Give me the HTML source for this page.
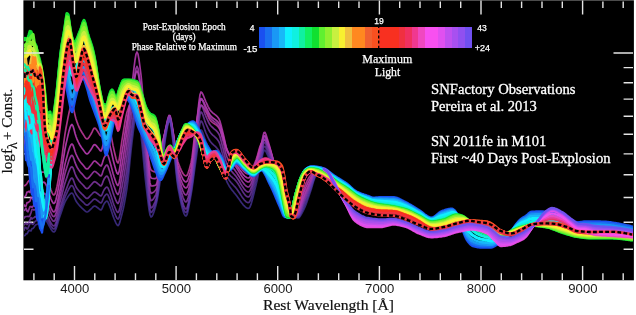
<!DOCTYPE html>
<html><head><meta charset="utf-8"><title>SN 2011fe spectra</title>
<style>html,body{margin:0;padding:0;background:#fff}svg{display:block}</style></head>
<body>
<svg width="636" height="315" viewBox="0 0 636 315">
<rect x="0" y="0" width="636" height="315" fill="#fff"/>
<rect x="23.4" y="0.3" width="610.5" height="280" fill="#000"/>
<path d="M33.9,1.5V8M33.9,273.3V280M54.2,1.5V8M54.2,273.3V280M74.5,0.5V14.5M74.5,266V280M94.8,1.5V8M94.8,273.3V280M115.1,1.5V8M115.1,273.3V280M135.5,1.5V8M135.5,273.3V280M155.8,1.5V8M155.8,273.3V280M176.1,0.5V14.5M176.1,266V280M196.4,1.5V8M196.4,273.3V280M216.8,1.5V8M216.8,273.3V280M237.1,1.5V8M237.1,273.3V280M257.4,1.5V8M257.4,273.3V280M277.7,0.5V14.5M277.7,266V280M298.1,1.5V8M298.1,273.3V280M318.4,1.5V8M318.4,273.3V280M338.7,1.5V8M338.7,273.3V280M359.0,1.5V8M359.0,273.3V280M379.4,0.5V14.5M379.4,266V280M399.7,1.5V8M399.7,273.3V280M420.0,1.5V8M420.0,273.3V280M440.3,1.5V8M440.3,273.3V280M460.7,1.5V8M460.7,273.3V280M481.0,0.5V14.5M481.0,266V280M501.3,1.5V8M501.3,273.3V280M521.6,1.5V8M521.6,273.3V280M542.0,1.5V8M542.0,273.3V280M562.3,1.5V8M562.3,273.3V280M582.6,0.5V14.5M582.6,266V280M602.9,1.5V8M602.9,273.3V280M623.2,1.5V8M623.2,273.3V280M24,53H43.5M613.5,53H633M24,67.6H33.5M623.6,67.6H633M24,82.8H33.5M623.6,82.8H633M24,99.1H33.5M623.6,99.1H633M24,116.2H33.5M623.6,116.2H633M24,134.3H33.5M623.6,134.3H633M24,153.9H33.5M623.6,153.9H633M24,174.7H33.5M623.6,174.7H633M24,197.5H33.5M623.6,197.5H633M24,222.3H33.5M623.6,222.3H633M24,249.2H33.5M623.6,249.2H633" stroke="#e4e4e4" stroke-width="1.4" fill="none"/>
<clipPath id="cp"><rect x="24" y="1" width="609" height="278"/></clipPath>
<g clip-path="url(#cp)" fill="none" stroke-linejoin="round" stroke-linecap="round">
<path d="M24.0,185.7 25.0,185.6 26.0,184.7 27.0,183.4 28.0,181.7 29.0,180.4 30.0,180.8 31.0,179.4 32.0,178.3 33.0,178.5 34.0,176.2 35.0,176.3 36.0,177.6 37.0,177.0 38.0,174.9 39.0,174.3 40.0,173.9 41.0,172.8 42.0,172.0 43.0,172.2 44.0,172.1 45.0,172.7 46.0,174.5 47.0,177.0 48.0,180.1 49.0,183.5 50.0,186.9 51.0,190.0 52.0,192.6 53.0,194.4 54.0,195.0 55.0,193.9 56.0,190.8 57.0,186.4 58.0,181.1 59.0,175.5 60.0,170.0 61.0,163.9 62.0,156.7 63.0,148.8 64.0,141.0 65.0,133.8 66.0,128.0 67.0,122.9 68.0,117.6 69.0,112.8 70.0,108.8 71.0,106.0 72.0,105.0 73.0,106.6 74.0,110.5 75.0,115.1 76.0,119.0 77.0,121.9 78.0,124.6 79.0,127.0 80.0,129.0 81.0,130.8 82.0,132.5 83.0,134.0 84.0,135.6 85.0,137.2 86.0,138.5 87.0,139.0 88.0,138.5 89.0,137.2 90.0,135.6 91.0,134.0 92.0,132.1 93.0,129.9 94.0,128.3 95.0,128.1 96.0,129.1 97.0,130.5 98.0,132.0 99.0,133.6 100.0,135.2 101.0,136.0 102.0,133.7 103.0,129.0 104.0,125.0 105.0,122.3 106.0,120.0 107.0,119.0 108.0,120.9 109.0,125.3 110.0,130.0 111.0,134.7 112.0,140.1 113.0,145.4 114.0,150.0 115.0,154.2 116.0,158.5 117.0,161.7 118.0,163.0 119.0,160.5 120.0,154.3 121.0,146.8 122.0,140.0 123.0,134.0 124.0,127.7 125.0,121.6 126.0,116.2 127.0,112.0 128.0,109.0 129.0,106.4 130.0,104.2 131.0,102.1 132.0,100.0 133.0,97.6 134.0,94.9 135.0,92.5 136.0,90.7 137.0,90.0 138.0,91.4 139.0,95.1 140.0,99.9 141.0,105.0 142.0,110.7 143.0,117.7 144.0,125.3 145.0,133.0 146.0,140.0 147.0,147.1 148.0,154.9 149.0,162.0 150.0,167.4 151.0,170.0 152.0,170.7 153.0,171.2 154.0,171.7 155.0,171.9 156.0,172.0 157.0,170.2 158.0,165.5 159.0,159.4 160.0,153.1 161.0,148.0 162.0,144.0 163.0,140.2 164.0,136.6 165.0,133.2 166.0,130.0 167.0,126.4 168.0,122.8 169.0,120.4 170.0,120.4 171.0,123.5 172.0,128.1 173.0,133.0 174.0,138.4 175.0,145.1 176.0,151.9 177.0,157.9 178.0,162.0 179.0,164.7 180.0,167.3 181.0,169.7 182.0,171.8 183.0,173.5 184.0,174.9 185.0,175.7 186.0,176.0 187.0,175.3 188.0,173.3 189.0,170.4 190.0,166.8 191.0,163.0 192.0,157.4 193.0,149.4 194.0,140.3 195.0,131.7 196.0,125.0 197.0,119.6 198.0,114.2 199.0,109.5 200.0,106.2 201.0,105.0 202.0,105.5 203.0,106.7 204.0,108.3 205.0,110.2 206.0,112.0 207.0,113.9 208.0,116.2 209.0,118.3 210.0,120.0 211.0,121.2 212.0,122.1 213.0,122.9 214.0,123.6 215.0,124.2 216.0,124.9 217.0,125.7 218.0,126.8 219.0,128.0 220.0,129.8 221.0,132.3 222.0,135.2 223.0,138.0 224.0,141.0 225.0,144.4 226.0,147.5 227.0,150.0 228.0,151.8 229.0,153.5 230.0,154.9 231.0,156.3 232.0,157.5 233.0,158.7 234.0,159.8 235.0,160.9 236.0,162.0 237.0,163.2 238.0,164.4 239.0,165.7 240.0,167.0 241.0,168.3 242.0,169.5 243.0,170.6 244.0,171.6 245.0,172.5 246.0,173.2 247.0,173.7 248.0,174.0 249.0,173.9 250.0,173.1 251.0,171.7 252.0,169.8 253.0,167.5 254.0,165.0 255.0,162.5 256.0,160.0 257.0,157.1 258.0,153.4 259.0,149.7 260.0,146.3 261.0,144.0 262.0,142.4 263.0,141.0 264.0,140.1 265.0,140.2 266.0,141.3 267.0,143.1 268.0,145.0 269.0,147.2 270.0,149.9 271.0,153.0 272.0,156.2 273.0,159.5 274.0,162.4 275.0,165.0 276.0,167.1 277.0,168.9 278.0,170.6 279.0,172.1 280.0,173.8 281.0,175.5 282.0,177.6 283.0,180.0 284.0,183.2 285.0,187.4 286.0,192.1 287.0,196.9 288.0,201.3 289.0,205.0 290.0,208.4 291.0,211.9 292.0,215.0 293.0,217.2 294.0,218.0 295.0,217.5 296.0,216.1 297.0,214.1 298.0,212.0 299.0,209.1 300.0,205.1 301.0,200.4 302.0,195.7 303.0,191.3 304.0,188.0 305.0,185.4 306.0,183.1 307.0,181.0 308.0,179.1 309.0,177.4 310.0,176.0 311.0,174.7 312.0,173.4 313.0,172.2 314.0,171.3 315.0,170.5 316.0,170.0 317.0,169.7 318.0,169.4 319.0,169.2 320.0,169.1 321.0,169.0 322.0,169.1 323.0,169.5 324.0,170.0" stroke="#b1358e" stroke-width="1.7" stroke-opacity="0.95"/>
<path d="M24.0,196.9 25.0,196.5 26.0,195.2 27.0,192.0 28.0,191.9 29.0,191.3 30.0,192.6 31.0,189.2 32.0,187.9 33.0,189.7 34.0,189.2 35.0,187.7 36.0,187.1 37.0,187.3 38.0,187.0 39.0,184.2 40.0,183.0 41.0,182.7 42.0,182.7 43.0,182.4 44.0,182.1 45.0,183.0 46.0,184.6 47.0,187.0 48.0,189.9 49.0,193.0 50.0,196.1 51.0,199.0 52.0,201.3 53.0,202.9 54.0,203.5 55.0,202.4 56.0,199.5 57.0,195.3 58.0,190.3 59.0,185.0 60.0,180.0 61.0,174.6 62.0,168.3 63.0,161.6 64.0,155.0 65.0,148.9 66.0,144.0 67.0,139.6 68.0,135.2 69.0,131.1 70.0,127.7 71.0,125.4 72.0,124.5 73.0,125.9 74.0,129.2 75.0,133.2 76.0,136.5 77.0,139.1 78.0,141.4 79.0,143.5 80.0,145.2 81.0,146.8 82.0,148.2 83.0,149.5 84.0,150.9 85.0,152.4 86.0,153.5 87.0,154.0 88.0,153.5 89.0,152.4 90.0,150.9 91.0,149.5 92.0,147.9 93.0,146.1 94.0,144.8 95.0,144.6 96.0,145.4 97.0,146.6 98.0,147.8 99.0,149.0 100.0,150.4 101.0,151.0 102.0,149.0 103.0,144.9 104.0,141.5 105.0,139.2 106.0,137.3 107.0,136.5 108.0,138.2 109.0,141.9 110.0,146.0 111.0,150.1 112.0,154.8 113.0,159.3 114.0,163.2 115.0,166.9 116.0,170.4 117.0,173.2 118.0,174.2 119.0,171.9 120.0,166.3 121.0,159.1 122.0,152.5 123.0,146.4 124.0,139.9 125.0,133.4 126.0,126.9 127.0,121.0 128.0,115.2 129.0,109.3 130.0,103.4 131.0,97.7 132.0,92.5 133.0,87.1 134.0,81.4 135.0,76.2 136.0,72.5 137.0,71.0 138.0,72.8 139.0,77.3 140.0,83.5 141.0,90.0 142.0,97.9 143.0,108.0 144.0,119.2 145.0,130.3 146.0,140.0 147.0,149.4 148.0,159.4 149.0,168.5 150.0,175.2 151.0,178.0 152.0,178.3 153.0,178.5 154.0,178.6 155.0,178.6 156.0,178.5 157.0,176.4 158.0,171.2 159.0,164.5 160.0,157.4 161.0,151.5 162.0,146.5 163.0,141.6 164.0,136.9 165.0,132.5 166.0,128.5 167.0,124.4 168.0,120.5 169.0,117.9 170.0,118.0 171.0,121.3 172.0,126.5 173.0,132.0 174.0,138.3 175.0,146.1 176.0,154.1 177.0,161.2 178.0,166.0 179.0,169.2 180.0,172.1 181.0,174.8 182.0,177.2 183.0,179.2 184.0,180.7 185.0,181.7 186.0,182.0 187.0,181.3 188.0,179.3 189.0,176.4 190.0,172.9 191.0,169.0 192.0,163.2 193.0,154.8 194.0,145.1 195.0,135.5 196.0,127.5 197.0,120.2 198.0,112.4 199.0,105.5 200.0,100.4 201.0,98.5 202.0,99.1 203.0,100.6 204.0,102.7 205.0,104.9 206.0,107.0 207.0,109.0 208.0,111.2 209.0,113.3 210.0,115.0 211.0,116.2 212.0,117.2 213.0,118.0 214.0,118.7 215.0,119.4 216.0,120.1 217.0,121.0 218.0,122.1 219.0,123.5 220.0,125.6 221.0,128.6 222.0,132.1 223.0,135.5 224.0,139.2 225.0,143.2 226.0,147.0 227.0,150.0 228.0,152.2 229.0,154.2 230.0,156.0 231.0,157.7 232.0,159.2 233.0,160.6 234.0,161.9 235.0,163.2 236.0,164.5 237.0,165.9 238.0,167.3 239.0,168.7 240.0,170.2 241.0,171.6 242.0,173.0 243.0,174.2 244.0,175.4 245.0,176.3 246.0,177.1 247.0,177.7 248.0,178.0 249.0,177.9 250.0,177.0 251.0,175.3 252.0,173.1 253.0,170.5 254.0,167.7 255.0,164.8 256.0,162.0 257.0,159.0 258.0,155.4 259.0,151.7 260.0,148.1 261.0,145.0 262.0,141.8 263.0,138.5 264.0,136.3 265.0,136.2 266.0,137.9 267.0,140.4 268.0,143.0 269.0,145.7 270.0,148.8 271.0,152.2 272.0,155.8 273.0,159.2 274.0,162.3 275.0,165.0 276.0,167.2 277.0,169.0 278.0,170.7 279.0,172.3 280.0,173.9 281.0,175.6 282.0,177.6 283.0,180.0 284.0,183.1 285.0,187.1 286.0,191.5 287.0,196.0 288.0,200.3 289.0,204.0 290.0,207.5 291.0,211.3 292.0,214.6 293.0,217.1 294.0,218.0 295.0,217.6 296.0,216.4 297.0,214.8 298.0,213.0 299.0,210.6 300.0,207.1 301.0,203.1 302.0,199.0 303.0,195.1 304.0,192.0 305.0,189.4 306.0,187.0 307.0,184.8 308.0,182.7 309.0,180.8 310.0,179.0 311.0,177.3 312.0,175.6 313.0,173.9 314.0,172.5 315.0,171.3 316.0,170.5 317.0,169.9 318.0,169.4 319.0,168.9 320.0,168.6 321.0,168.5 322.0,168.6 323.0,169.0 324.0,169.5" stroke="#b73bb1" stroke-width="1.7" stroke-opacity="0.91"/>
<path d="M24.0,204.8 25.0,206.4 26.0,206.1 27.0,202.7 28.0,202.7 29.0,201.9 30.0,201.1 31.0,197.4 32.0,198.2 33.0,199.6 34.0,198.0 35.0,198.3 36.0,197.0 37.0,197.4 38.0,196.3 39.0,194.3 40.0,193.4 41.0,193.7 42.0,194.0 43.0,193.2 44.0,193.1 45.0,194.0 46.0,194.9 47.0,197.1 48.0,199.7 49.0,202.5 50.0,205.3 51.0,207.9 52.0,210.0 53.0,211.5 54.0,212.0 55.0,211.0 56.0,208.2 57.0,204.2 58.0,199.5 59.0,194.6 60.0,190.0 61.0,185.3 62.0,180.0 63.0,174.4 64.0,169.0 65.0,164.1 66.0,160.0 67.0,156.4 68.0,152.8 69.0,149.4 70.0,146.6 71.0,144.7 72.0,144.0 73.0,145.1 74.0,147.9 75.0,151.2 76.0,154.0 77.0,156.2 78.0,158.2 79.0,160.0 80.0,161.4 81.0,162.7 82.0,163.9 83.0,165.0 84.0,166.3 85.0,167.6 86.0,168.6 87.0,169.0 88.0,168.6 89.0,167.5 90.0,166.2 91.0,165.0 92.0,163.7 93.0,162.3 94.0,161.2 95.0,161.1 96.0,161.7 97.0,162.6 98.0,163.5 99.0,164.5 100.0,165.5 101.0,166.0 102.0,164.3 103.0,160.9 104.0,158.0 105.0,156.2 106.0,154.6 107.0,154.0 108.0,155.4 109.0,158.6 110.0,162.0 111.0,165.5 112.0,169.4 113.0,173.2 114.0,176.5 115.0,179.5 116.0,182.4 117.0,184.6 118.0,185.5 119.0,183.4 120.0,178.2 121.0,171.5 122.0,165.0 123.0,158.9 124.0,152.2 125.0,145.2 126.0,137.7 127.0,130.0 128.0,121.5 129.0,112.1 130.0,102.5 131.0,93.3 132.0,85.0 133.0,76.7 134.0,67.9 135.0,60.0 136.0,54.2 137.0,52.0 138.0,54.1 139.0,59.6 140.0,67.0 141.0,75.0 142.0,85.1 143.0,98.4 144.0,113.1 145.0,127.6 146.0,140.0 147.0,151.7 148.0,163.9 149.0,175.0 150.0,182.9 151.0,186.0 152.0,186.0 153.0,185.8 154.0,185.6 155.0,185.4 156.0,185.0 157.0,182.6 158.0,176.9 159.0,169.5 160.0,161.8 161.0,155.0 162.0,149.1 163.0,143.0 164.0,137.1 165.0,131.7 166.0,127.0 167.0,122.5 168.0,118.2 169.0,115.4 170.0,115.5 171.0,119.2 172.0,124.9 173.0,131.0 174.0,138.1 175.0,147.1 176.0,156.4 177.0,164.5 178.0,170.0 179.0,173.6 180.0,176.9 181.0,180.0 182.0,182.6 183.0,184.9 184.0,186.6 185.0,187.6 186.0,188.0 187.0,187.3 188.0,185.4 189.0,182.5 190.0,178.9 191.0,175.0 192.0,169.1 193.0,160.2 194.0,149.8 195.0,139.3 196.0,130.0 197.0,120.8 198.0,110.7 199.0,101.4 200.0,94.6 201.0,92.0 202.0,92.7 203.0,94.6 204.0,97.0 205.0,99.7 206.0,102.0 207.0,104.1 208.0,106.3 209.0,108.3 210.0,110.0 211.0,111.2 212.0,112.2 213.0,113.1 214.0,113.8 215.0,114.6 216.0,115.4 217.0,116.3 218.0,117.5 219.0,119.0 220.0,121.4 221.0,124.9 222.0,129.0 223.0,133.0 224.0,137.3 225.0,142.0 226.0,146.5 227.0,150.0 228.0,152.6 229.0,155.0 230.0,157.1 231.0,159.0 232.0,160.8 233.0,162.4 234.0,164.0 235.0,165.5 236.0,167.0 237.0,168.5 238.0,170.1 239.0,171.8 240.0,173.4 241.0,175.0 242.0,176.5 243.0,177.9 244.0,179.1 245.0,180.2 246.0,181.0 247.0,181.6 248.0,182.0 249.0,181.9 250.0,180.8 251.0,179.0 252.0,176.4 253.0,173.5 254.0,170.3 255.0,167.1 256.0,164.0 257.0,160.9 258.0,157.4 259.0,153.7 260.0,149.8 261.0,146.0 262.0,141.3 263.0,136.1 264.0,132.5 265.0,132.3 266.0,134.5 267.0,137.7 268.0,141.0 269.0,144.2 270.0,147.7 271.0,151.5 272.0,155.3 273.0,158.9 274.0,162.2 275.0,165.0 276.0,167.2 277.0,169.1 278.0,170.8 279.0,172.4 280.0,174.0 281.0,175.7 282.0,177.7 283.0,180.0 284.0,183.0 285.0,186.7 286.0,190.9 287.0,195.2 288.0,199.3 289.0,203.0 290.0,206.7 291.0,210.7 292.0,214.3 293.0,217.0 294.0,218.0 295.0,217.6 296.0,216.7 297.0,215.4 298.0,214.0 299.0,212.0 300.0,209.2 301.0,205.9 302.0,202.4 303.0,199.0 304.0,196.0 305.0,193.4 306.0,190.9 307.0,188.6 308.0,186.3 309.0,184.1 310.0,182.0 311.0,179.9 312.0,177.7 313.0,175.6 314.0,173.7 315.0,172.1 316.0,171.0 317.0,170.1 318.0,169.3 319.0,168.6 320.0,168.2 321.0,168.0 322.0,168.1 323.0,168.5 324.0,169.0" stroke="#b73bb1" stroke-width="1.7" stroke-opacity="0.87"/>
<path d="M24.0,210.4 25.0,209.8 26.0,208.2 27.0,211.1 28.0,211.8 29.0,209.1 30.0,206.6 31.0,206.5 32.0,207.3 33.0,206.4 34.0,204.8 35.0,205.7 36.0,205.1 37.0,203.6 38.0,202.0 39.0,201.1 40.0,200.3 41.0,200.1 42.0,199.7 43.0,199.9 44.0,199.5 45.0,199.9 46.0,201.2 47.0,203.1 48.0,205.4 49.0,208.0 50.0,210.6 51.0,212.9 52.0,214.9 53.0,216.2 54.0,216.7 55.0,215.7 56.0,213.0 57.0,209.2 58.0,204.8 59.0,200.2 60.0,196.0 61.0,191.9 62.0,187.2 63.0,182.5 64.0,177.8 65.0,173.6 66.0,170.0 67.0,166.7 68.0,163.4 69.0,160.3 70.0,157.7 71.0,156.0 72.0,155.3 73.0,156.5 74.0,159.2 75.0,162.4 76.0,165.0 77.0,167.0 78.0,168.8 79.0,170.3 80.0,171.7 81.0,172.9 82.0,173.9 83.0,175.0 84.0,176.2 85.0,177.4 86.0,178.4 87.0,178.8 88.0,178.4 89.0,177.4 90.0,176.2 91.0,175.0 92.0,173.8 93.0,172.5 94.0,171.5 95.0,171.4 96.0,171.9 97.0,172.8 98.0,173.7 99.0,174.6 100.0,175.6 101.0,176.0 102.0,174.5 103.0,171.3 104.0,168.7 105.0,167.0 106.0,165.6 107.0,165.0 108.0,166.3 109.0,169.2 110.0,172.3 111.0,175.6 112.0,179.3 113.0,182.9 114.0,186.0 115.0,188.8 116.0,191.6 117.0,193.7 118.0,194.5 119.0,192.6 120.0,188.0 121.0,181.9 122.0,176.0 123.0,170.3 124.0,164.0 125.0,157.3 126.0,150.1 127.0,142.7 128.0,134.4 129.0,125.2 130.0,115.6 131.0,106.5 132.0,98.3 133.0,90.2 134.0,81.7 135.0,74.0 136.0,68.5 137.0,66.3 138.0,68.5 139.0,74.1 140.0,81.5 141.0,89.3 142.0,98.6 143.0,110.4 144.0,123.4 145.0,136.3 146.0,147.7 147.0,158.9 148.0,171.1 149.0,182.1 150.0,190.2 151.0,193.3 152.0,193.1 153.0,192.6 154.0,191.8 155.0,190.8 156.0,189.7 157.0,186.7 158.0,180.8 159.0,173.4 160.0,165.6 161.0,158.7 162.0,152.2 163.0,145.6 164.0,139.0 165.0,133.0 166.0,128.0 167.0,123.3 168.0,118.9 169.0,116.1 170.0,116.2 171.0,120.2 172.0,126.2 173.0,132.7 174.0,140.1 175.0,149.3 176.0,158.9 177.0,167.4 178.0,173.3 179.0,177.5 180.0,181.4 181.0,185.1 182.0,188.4 183.0,191.1 184.0,193.2 185.0,194.5 186.0,195.0 187.0,194.1 188.0,191.7 189.0,188.1 190.0,183.9 191.0,179.3 192.0,173.2 193.0,164.7 194.0,154.9 195.0,144.9 196.0,136.0 197.0,127.0 198.0,117.1 199.0,108.0 200.0,101.3 201.0,98.7 202.0,99.4 203.0,101.4 204.0,104.1 205.0,106.9 206.0,109.3 207.0,111.5 208.0,113.7 209.0,115.7 210.0,117.3 211.0,118.6 212.0,119.6 213.0,120.5 214.0,121.3 215.0,122.1 216.0,122.9 217.0,123.9 218.0,125.1 219.0,126.7 220.0,129.1 221.0,132.6 222.0,136.7 223.0,140.7 224.0,144.9 225.0,149.5 226.0,153.8 227.0,157.0 228.0,159.3 229.0,161.3 230.0,163.1 231.0,164.8 232.0,166.3 233.0,167.6 234.0,169.0 235.0,170.3 236.0,171.7 237.0,173.1 238.0,174.7 239.0,176.3 240.0,177.9 241.0,179.6 242.0,181.1 243.0,182.6 244.0,183.9 245.0,185.0 246.0,186.0 247.0,186.6 248.0,187.0 249.0,186.8 250.0,185.7 251.0,183.6 252.0,180.8 253.0,177.6 254.0,174.1 255.0,170.6 256.0,167.3 257.0,164.1 258.0,160.6 259.0,156.9 260.0,153.1 261.0,149.3 262.0,144.6 263.0,139.4 264.0,135.9 265.0,135.6 266.0,137.7 267.0,140.9 268.0,144.0 269.0,146.9 270.0,150.2 271.0,153.6 272.0,157.1 273.0,160.4 274.0,163.4 275.0,166.0 276.0,168.1 277.0,170.0 278.0,171.6 279.0,173.2 280.0,174.7 281.0,176.4 282.0,178.4 283.0,180.7 284.0,183.6 285.0,187.2 286.0,191.3 287.0,195.4 288.0,199.4 289.0,203.0 290.0,206.6 291.0,210.5 292.0,214.1 293.0,216.7 294.0,217.7 295.0,217.4 296.0,216.7 297.0,215.8 298.0,214.7 299.0,213.0 300.0,210.6 301.0,207.6 302.0,204.3 303.0,201.1 304.0,198.3 305.0,195.8 306.0,193.4 307.0,190.9 308.0,188.6 309.0,186.2 310.0,184.0 311.0,181.7 312.0,179.3 313.0,177.0 314.0,174.8 315.0,173.0 316.0,171.7 317.0,170.6 318.0,169.6 319.0,168.8 320.0,168.2 321.0,168.0 322.0,168.1 323.0,168.5 324.0,169.0" stroke="#a53bb1" stroke-width="1.7" stroke-opacity="0.83"/>
<path d="M24.0,218.1 25.0,216.9 26.0,216.5 27.0,216.5 28.0,216.3 29.0,216.7 30.0,215.4 31.0,212.7 32.0,209.6 33.0,209.3 34.0,210.1 35.0,209.5 36.0,208.2 37.0,208.3 38.0,208.2 39.0,207.1 40.0,206.7 41.0,206.2 42.0,205.5 43.0,205.3 44.0,205.6 45.0,206.1 46.0,207.2 47.0,209.0 48.0,211.2 49.0,213.5 50.0,215.8 51.0,217.9 52.0,219.7 53.0,220.9 54.0,221.3 55.0,220.4 56.0,217.8 57.0,214.2 58.0,210.0 59.0,205.8 60.0,202.0 61.0,198.4 62.0,194.5 63.0,190.5 64.0,186.6 65.0,183.1 66.0,180.0 67.0,177.1 68.0,174.1 69.0,171.3 70.0,168.9 71.0,167.3 72.0,166.7 73.0,167.8 74.0,170.4 75.0,173.5 76.0,176.0 77.0,177.7 78.0,179.3 79.0,180.7 80.0,181.9 81.0,183.0 82.0,184.0 83.0,185.0 84.0,186.1 85.0,187.3 86.0,188.3 87.0,188.7 88.0,188.3 89.0,187.3 90.0,186.1 91.0,185.0 92.0,183.9 93.0,182.7 94.0,181.8 95.0,181.7 96.0,182.2 97.0,183.0 98.0,183.8 99.0,184.7 100.0,185.6 101.0,186.0 102.0,184.6 103.0,181.7 104.0,179.3 105.0,177.8 106.0,176.5 107.0,176.0 108.0,177.2 109.0,179.8 110.0,182.7 111.0,185.7 112.0,189.2 113.0,192.6 114.0,195.5 115.0,198.1 116.0,200.7 117.0,202.7 118.0,203.5 119.0,201.8 120.0,197.7 121.0,192.4 122.0,187.0 123.0,181.7 124.0,175.8 125.0,169.4 126.0,162.5 127.0,155.3 128.0,147.3 129.0,138.2 130.0,128.7 131.0,119.7 132.0,111.7 133.0,103.8 134.0,95.5 135.0,88.1 136.0,82.7 137.0,80.7 138.0,82.9 139.0,88.5 140.0,96.0 141.0,103.7 142.0,112.2 143.0,122.5 144.0,133.7 145.0,145.0 146.0,155.3 147.0,166.2 148.0,178.2 149.0,189.3 150.0,197.5 151.0,200.7 152.0,200.3 153.0,199.4 154.0,198.0 155.0,196.3 156.0,194.3 157.0,190.8 158.0,184.7 159.0,177.3 160.0,169.5 161.0,162.3 162.0,155.4 163.0,148.1 164.0,140.9 165.0,134.4 166.0,129.0 167.0,124.1 168.0,119.6 169.0,116.8 170.0,116.9 171.0,121.1 172.0,127.5 173.0,134.3 174.0,142.0 175.0,151.5 176.0,161.4 177.0,170.2 178.0,176.7 179.0,181.4 180.0,186.0 181.0,190.3 182.0,194.1 183.0,197.3 184.0,199.8 185.0,201.4 186.0,202.0 187.0,200.9 188.0,198.0 189.0,193.7 190.0,188.8 191.0,183.7 192.0,177.4 193.0,169.1 194.0,159.9 195.0,150.5 196.0,142.0 197.0,133.2 198.0,123.5 199.0,114.5 200.0,107.9 201.0,105.3 202.0,106.2 203.0,108.3 204.0,111.2 205.0,114.1 206.0,116.7 207.0,118.8 208.0,121.0 209.0,123.0 210.0,124.7 211.0,126.0 212.0,127.0 213.0,127.9 214.0,128.8 215.0,129.6 216.0,130.4 217.0,131.5 218.0,132.8 219.0,134.3 220.0,136.8 221.0,140.4 222.0,144.4 223.0,148.3 224.0,152.5 225.0,156.9 226.0,161.0 227.0,164.0 228.0,166.0 229.0,167.7 230.0,169.2 231.0,170.5 232.0,171.7 233.0,172.9 234.0,174.0 235.0,175.1 236.0,176.3 237.0,177.7 238.0,179.2 239.0,180.8 240.0,182.5 241.0,184.2 242.0,185.8 243.0,187.3 244.0,188.7 245.0,189.9 246.0,190.9 247.0,191.6 248.0,192.0 249.0,191.8 250.0,190.5 251.0,188.2 252.0,185.2 253.0,181.6 254.0,177.8 255.0,174.1 256.0,170.7 257.0,167.4 258.0,163.9 259.0,160.2 260.0,156.5 261.0,152.7 262.0,148.0 263.0,142.8 264.0,139.2 265.0,139.0 266.0,141.0 267.0,144.0 268.0,147.0 269.0,149.7 270.0,152.7 271.0,155.8 272.0,158.9 273.0,161.8 274.0,164.6 275.0,167.0 276.0,169.0 277.0,170.8 278.0,172.4 279.0,173.9 280.0,175.5 281.0,177.2 282.0,179.1 283.0,181.3 284.0,184.2 285.0,187.7 286.0,191.6 287.0,195.6 288.0,199.5 289.0,203.0 290.0,206.5 291.0,210.3 292.0,213.8 293.0,216.4 294.0,217.3 295.0,217.2 296.0,216.7 297.0,216.1 298.0,215.3 299.0,214.1 300.0,211.9 301.0,209.2 302.0,206.3 303.0,203.3 304.0,200.7 305.0,198.2 306.0,195.8 307.0,193.3 308.0,190.8 309.0,188.4 310.0,186.0 311.0,183.5 312.0,180.9 313.0,178.3 314.0,175.9 315.0,173.9 316.0,172.3 317.0,171.1 318.0,169.9 319.0,168.9 320.0,168.3 321.0,168.0 322.0,168.1 323.0,168.5 324.0,169.0" stroke="#8e3bb1" stroke-width="1.7" stroke-opacity="0.79"/>
<path d="M24.0,224.8 25.0,223.8 26.0,222.8 27.0,224.6 28.0,223.6 29.0,221.9 30.0,220.0 31.0,217.5 32.0,219.0 33.0,218.0 34.0,217.7 35.0,216.5 36.0,217.0 37.0,215.4 38.0,215.1 39.0,215.9 40.0,214.4 41.0,211.9 42.0,211.8 43.0,212.1 44.0,212.0 45.0,212.5 46.0,213.4 47.0,215.0 48.0,216.9 49.0,219.0 50.0,221.1 51.0,223.0 52.0,224.5 53.0,225.6 54.0,226.0 55.0,225.1 56.0,222.7 57.0,219.2 58.0,215.3 59.0,211.4 60.0,208.0 61.0,204.9 62.0,201.7 63.0,198.5 64.0,195.5 65.0,192.6 66.0,190.0 67.0,187.4 68.0,184.8 69.0,182.2 70.0,180.0 71.0,178.6 72.0,178.0 73.0,179.1 74.0,181.7 75.0,184.7 76.0,187.0 77.0,188.5 78.0,189.8 79.0,191.0 80.0,192.1 81.0,193.1 82.0,194.1 83.0,195.0 84.0,196.1 85.0,197.2 86.0,198.1 87.0,198.5 88.0,198.1 89.0,197.2 90.0,196.0 91.0,195.0 92.0,194.0 93.0,192.9 94.0,192.2 95.0,192.1 96.0,192.5 97.0,193.3 98.0,194.0 99.0,194.8 100.0,195.6 101.0,196.0 102.0,194.7 103.0,192.1 104.0,190.0 105.0,188.6 106.0,187.5 107.0,187.0 108.0,188.0 109.0,190.4 110.0,193.0 111.0,195.8 112.0,199.0 113.0,202.3 114.0,205.0 115.0,207.5 116.0,209.9 117.0,211.8 118.0,212.5 119.0,211.1 120.0,207.5 121.0,202.8 122.0,198.0 123.0,193.1 124.0,187.6 125.0,181.5 126.0,174.9 127.0,168.0 128.0,160.1 129.0,151.2 130.0,141.8 131.0,132.9 132.0,125.0 133.0,117.4 134.0,109.4 135.0,102.2 136.0,97.0 137.0,95.0 138.0,97.3 139.0,103.0 140.0,110.5 141.0,118.0 142.0,125.7 143.0,134.5 144.0,144.0 145.0,153.7 146.0,163.0 147.0,173.4 148.0,185.3 149.0,196.5 150.0,204.8 151.0,208.0 152.0,207.5 153.0,206.2 154.0,204.2 155.0,201.7 156.0,199.0 157.0,194.9 158.0,188.7 159.0,181.2 160.0,173.4 161.0,166.0 162.0,158.6 163.0,150.7 164.0,142.8 165.0,135.7 166.0,130.0 167.0,125.0 168.0,120.3 169.0,117.4 170.0,117.6 171.0,122.0 172.0,128.9 173.0,136.0 174.0,144.0 175.0,153.7 176.0,163.9 177.0,173.1 178.0,180.0 179.0,185.3 180.0,190.5 181.0,195.4 182.0,199.8 183.0,203.6 184.0,206.5 185.0,208.3 186.0,209.0 187.0,207.7 188.0,204.3 189.0,199.4 190.0,193.7 191.0,188.0 192.0,181.5 193.0,173.6 194.0,164.9 195.0,156.1 196.0,148.0 197.0,139.4 198.0,129.9 199.0,121.0 200.0,114.5 201.0,112.0 202.0,112.9 203.0,115.2 204.0,118.2 205.0,121.4 206.0,124.0 207.0,126.2 208.0,128.3 209.0,130.3 210.0,132.0 211.0,133.3 212.0,134.4 213.0,135.4 214.0,136.2 215.0,137.1 216.0,138.0 217.0,139.1 218.0,140.4 219.0,142.0 220.0,144.5 221.0,148.1 222.0,152.1 223.0,156.0 224.0,160.0 225.0,164.4 226.0,168.3 227.0,171.0 228.0,172.7 229.0,174.1 230.0,175.3 231.0,176.3 232.0,177.2 233.0,178.1 234.0,178.9 235.0,179.9 236.0,181.0 237.0,182.3 238.0,183.8 239.0,185.4 240.0,187.1 241.0,188.8 242.0,190.4 243.0,192.0 244.0,193.5 245.0,194.8 246.0,195.8 247.0,196.6 248.0,196.9 249.0,196.8 250.0,195.4 251.0,192.9 252.0,189.5 253.0,185.7 254.0,181.6 255.0,177.6 256.0,174.0 257.0,170.6 258.0,167.1 259.0,163.5 260.0,159.8 261.0,156.0 262.0,151.3 263.0,146.1 264.0,142.5 265.0,142.3 266.0,144.3 267.0,147.2 268.0,150.0 269.0,152.5 270.0,155.2 271.0,157.9 272.0,160.6 273.0,163.3 274.0,165.8 275.0,168.0 276.0,169.9 277.0,171.7 278.0,173.2 279.0,174.7 280.0,176.3 281.0,177.9 282.0,179.8 283.0,182.0 284.0,184.8 285.0,188.2 286.0,192.0 287.0,195.9 288.0,199.6 289.0,203.0 290.0,206.4 291.0,210.2 292.0,213.6 293.0,216.0 294.0,217.0 295.0,216.9 296.0,216.7 297.0,216.4 298.0,216.0 299.0,215.1 300.0,213.3 301.0,210.9 302.0,208.2 303.0,205.5 304.0,203.0 305.0,200.6 306.0,198.2 307.0,195.6 308.0,193.1 309.0,190.5 310.0,188.0 311.0,185.3 312.0,182.5 313.0,179.7 314.0,177.0 315.0,174.7 316.0,173.0 317.0,171.6 318.0,170.2 319.0,169.1 320.0,168.3 321.0,168.0 322.0,168.1 323.0,168.5 324.0,169.0" stroke="#7c3bb1" stroke-width="1.7" stroke-opacity="0.75"/>
<path d="M24.0,230.2 25.0,227.2 26.0,227.6 27.0,229.0 28.0,228.1 29.0,225.8 30.0,223.5 31.0,223.0 32.0,223.8 33.0,224.4 34.0,223.0 35.0,221.4 36.0,220.9 37.0,219.8 38.0,216.7 39.0,216.3 40.0,217.2 41.0,217.6 42.0,216.6 43.0,215.4 44.0,215.3 45.0,215.7 46.0,216.9 47.0,218.4 48.0,220.3 49.0,222.2 50.0,224.2 51.0,226.1 52.0,227.6 53.0,228.6 54.0,229.0 55.0,228.1 56.0,225.9 57.0,222.6 58.0,218.9 59.0,215.2 60.0,212.0 61.0,209.1 62.0,206.0 63.0,202.9 64.0,199.9 65.0,197.3 66.0,195.0 67.0,192.9 68.0,190.7 69.0,188.7 70.0,187.1 71.0,185.9 72.0,185.5 73.0,186.5 74.0,188.9 75.0,191.8 76.0,194.0 77.0,195.5 78.0,196.8 79.0,198.0 80.0,199.1 81.0,200.1 82.0,201.1 83.0,202.0 84.0,203.0 85.0,204.1 86.0,204.9 87.0,205.2 88.0,204.9 89.0,204.0 90.0,203.0 91.0,202.0 92.0,201.0 93.0,199.9 94.0,199.2 95.0,199.1 96.0,199.5 97.0,200.3 98.0,201.0 99.0,201.8 100.0,202.6 101.0,203.0 102.0,201.7 103.0,199.1 104.0,197.0 105.0,195.6 106.0,194.5 107.0,194.0 108.0,195.0 109.0,197.4 110.0,200.0 111.0,202.7 112.0,205.9 113.0,209.1 114.0,211.8 115.0,214.2 116.0,216.5 117.0,218.3 118.0,219.1 119.0,217.8 120.0,214.6 121.0,210.3 122.0,206.0 123.0,201.6 124.0,196.5 125.0,190.8 126.0,184.6 127.0,178.0 128.0,170.2 129.0,160.9 130.0,151.1 131.0,141.7 132.0,133.5 133.0,125.6 134.0,117.3 135.0,109.9 136.0,104.6 137.0,102.5 138.0,104.9 139.0,110.9 140.0,118.6 141.0,126.5 142.0,134.8 143.0,144.4 144.0,154.7 145.0,164.8 146.0,174.0 147.0,183.4 148.0,193.6 149.0,203.0 150.0,209.8 151.0,212.5 152.0,211.9 153.0,210.3 154.0,207.9 155.0,205.1 156.0,202.0 157.0,197.8 158.0,192.0 159.0,185.0 160.0,177.7 161.0,170.5 162.0,163.0 163.0,154.6 164.0,146.3 165.0,138.6 166.0,132.5 167.0,127.1 168.0,122.1 169.0,119.0 170.0,119.2 171.0,124.0 172.0,131.4 173.0,139.0 174.0,147.3 175.0,157.3 176.0,167.7 177.0,177.1 178.0,184.0 179.0,189.3 180.0,194.4 181.0,199.2 182.0,203.5 183.0,207.2 184.0,210.0 185.0,211.9 186.0,212.5 187.0,211.2 188.0,207.7 189.0,202.8 190.0,197.1 191.0,191.5 192.0,185.3 193.0,177.8 194.0,169.7 195.0,161.5 196.0,154.0 197.0,146.1 198.0,137.3 199.0,129.2 200.0,123.3 201.0,121.0 202.0,121.9 203.0,124.2 204.0,127.2 205.0,130.4 206.0,133.0 207.0,135.2 208.0,137.3 209.0,139.3 210.0,141.0 211.0,142.3 212.0,143.5 213.0,144.4 214.0,145.3 215.0,146.2 216.0,147.1 217.0,148.2 218.0,149.5 219.0,151.0 220.0,153.2 221.0,156.3 222.0,159.7 223.0,163.0 224.0,166.5 225.0,170.4 226.0,173.9 227.0,176.5 228.0,178.3 229.0,179.9 230.0,181.3 231.0,182.5 232.0,183.6 233.0,184.7 234.0,185.8 235.0,186.8 236.0,188.0 237.0,189.3 238.0,190.7 239.0,192.2 240.0,193.8 241.0,195.4 242.0,196.9 243.0,198.3 244.0,199.6 245.0,200.7 246.0,201.7 247.0,202.3 248.0,202.7 249.0,202.5 250.0,201.1 251.0,198.7 252.0,195.3 253.0,191.5 254.0,187.4 255.0,183.3 256.0,179.5 257.0,175.7 258.0,171.6 259.0,167.3 260.0,163.0 261.0,159.0 262.0,154.5 263.0,149.7 264.0,146.5 265.0,146.3 266.0,148.0 267.0,150.5 268.0,153.0 269.0,155.3 270.0,157.8 271.0,160.3 272.0,162.9 273.0,165.5 274.0,167.9 275.0,170.0 276.0,171.9 277.0,173.5 278.0,175.0 279.0,176.5 280.0,178.0 281.0,179.6 282.0,181.4 283.0,183.5 284.0,186.1 285.0,189.3 286.0,192.7 287.0,196.3 288.0,199.8 289.0,203.0 290.0,206.2 291.0,209.7 292.0,212.9 293.0,215.3 294.0,216.5 295.0,216.8 296.0,217.1 297.0,217.1 298.0,217.0 299.0,216.3 300.0,214.9 301.0,212.9 302.0,210.6 303.0,208.3 304.0,206.0 305.0,203.7 306.0,201.3 307.0,198.7 308.0,195.9 309.0,193.2 310.0,190.5 311.0,187.7 312.0,184.6 313.0,181.5 314.0,178.6 315.0,176.0 316.0,174.0 317.0,172.3 318.0,170.7 319.0,169.3 320.0,168.4 321.0,168.0 322.0,168.1 323.0,168.4 324.0,168.9" stroke="#6a3bb1" stroke-width="1.7" stroke-opacity="0.71"/>
<path d="M24.0,235.8 25.0,235.5 26.0,233.8 27.0,233.8 28.0,232.0 29.0,230.3 30.0,230.6 31.0,230.9 32.0,228.6 33.0,228.5 34.0,227.3 35.0,225.6 36.0,224.7 37.0,224.5 38.0,223.5 39.0,222.3 40.0,221.1 41.0,219.4 42.0,218.7 43.0,218.5 44.0,218.8 45.0,219.3 46.0,220.3 47.0,221.8 48.0,223.6 49.0,225.5 50.0,227.4 51.0,229.2 52.0,230.6 53.0,231.6 54.0,232.0 55.0,231.2 56.0,229.0 57.0,226.0 58.0,222.5 59.0,219.0 60.0,216.0 61.0,213.2 62.0,210.2 63.0,207.2 64.0,204.4 65.0,201.9 66.0,200.0 67.0,198.4 68.0,196.7 69.0,195.3 70.0,194.1 71.0,193.3 72.0,193.0 73.0,194.0 74.0,196.2 75.0,198.9 76.0,201.0 77.0,202.5 78.0,203.8 79.0,205.0 80.0,206.1 81.0,207.1 82.0,208.1 83.0,209.0 84.0,210.0 85.0,210.9 86.0,211.7 87.0,212.0 88.0,211.7 89.0,210.9 90.0,209.9 91.0,209.0 92.0,208.0 93.0,206.9 94.0,206.2 95.0,206.1 96.0,206.5 97.0,207.3 98.0,208.0 99.0,208.8 100.0,209.6 101.0,210.0 102.0,208.7 103.0,206.1 104.0,204.0 105.0,202.6 106.0,201.5 107.0,201.0 108.0,202.0 109.0,204.4 110.0,207.0 111.0,209.7 112.0,212.8 113.0,215.9 114.0,218.5 115.0,220.8 116.0,223.1 117.0,224.9 118.0,225.6 119.0,224.5 120.0,221.6 121.0,217.9 122.0,214.0 123.0,210.0 124.0,205.4 125.0,200.2 126.0,194.4 127.0,188.0 128.0,180.2 129.0,170.6 130.0,160.4 131.0,150.6 132.0,142.0 133.0,133.8 134.0,125.3 135.0,117.6 136.0,112.1 137.0,110.0 138.0,112.5 139.0,118.7 140.0,126.8 141.0,135.0 142.0,143.8 143.0,154.3 144.0,165.4 145.0,176.0 146.0,185.0 147.0,193.3 148.0,201.9 149.0,209.5 150.0,214.9 151.0,217.0 152.0,216.3 153.0,214.4 154.0,211.7 155.0,208.4 156.0,205.0 157.0,200.8 158.0,195.3 159.0,188.9 160.0,182.0 161.0,175.0 162.0,167.3 163.0,158.6 164.0,149.7 165.0,141.6 166.0,135.0 167.0,129.2 168.0,123.9 169.0,120.5 170.0,120.8 171.0,125.9 172.0,133.9 173.0,142.0 174.0,150.7 175.0,161.0 176.0,171.6 177.0,181.0 178.0,188.0 179.0,193.2 180.0,198.3 181.0,203.0 182.0,207.3 183.0,210.8 184.0,213.6 185.0,215.4 186.0,216.0 187.0,214.7 188.0,211.1 189.0,206.2 190.0,200.5 191.0,195.0 192.0,189.0 193.0,182.0 194.0,174.5 195.0,166.9 196.0,160.0 197.0,152.7 198.0,144.8 199.0,137.5 200.0,132.1 201.0,130.0 202.0,130.9 203.0,133.2 204.0,136.2 205.0,139.4 206.0,142.0 207.0,144.2 208.0,146.3 209.0,148.3 210.0,150.0 211.0,151.4 212.0,152.5 213.0,153.5 214.0,154.4 215.0,155.3 216.0,156.2 217.0,157.3 218.0,158.5 219.0,160.0 220.0,162.0 221.0,164.4 222.0,167.2 223.0,170.0 224.0,173.0 225.0,176.3 226.0,179.5 227.0,182.0 228.0,183.9 229.0,185.7 230.0,187.3 231.0,188.7 232.0,190.1 233.0,191.3 234.0,192.6 235.0,193.8 236.0,195.0 237.0,196.3 238.0,197.7 239.0,199.1 240.0,200.5 241.0,201.9 242.0,203.3 243.0,204.6 244.0,205.7 245.0,206.7 246.0,207.5 247.0,208.1 248.0,208.4 249.0,208.2 250.0,206.9 251.0,204.4 252.0,201.1 253.0,197.3 254.0,193.2 255.0,189.0 256.0,185.0 257.0,180.8 258.0,176.1 259.0,171.1 260.0,166.3 261.0,162.0 262.0,157.6 263.0,153.3 264.0,150.4 265.0,150.2 266.0,151.7 267.0,153.8 268.0,156.0 269.0,158.1 270.0,160.4 271.0,162.8 272.0,165.3 273.0,167.7 274.0,169.9 275.0,172.0 276.0,173.8 277.0,175.4 278.0,176.8 279.0,178.3 280.0,179.7 281.0,181.3 282.0,183.0 283.0,185.0 284.0,187.4 285.0,190.3 286.0,193.5 287.0,196.8 288.0,200.0 289.0,203.0 290.0,206.0 291.0,209.2 292.0,212.2 293.0,214.6 294.0,216.0 295.0,216.8 296.0,217.4 297.0,217.8 298.0,218.0 299.0,217.6 300.0,216.5 301.0,214.9 302.0,213.0 303.0,211.0 304.0,209.0 305.0,206.9 306.0,204.4 307.0,201.7 308.0,198.8 309.0,195.9 310.0,193.0 311.0,190.0 312.0,186.7 313.0,183.3 314.0,180.1 315.0,177.3 316.0,175.0 317.0,173.1 318.0,171.2 319.0,169.6 320.0,168.4 321.0,168.0 322.0,168.1 323.0,168.4 324.0,168.9" stroke="#523bb1" stroke-width="1.7" stroke-opacity="0.67"/>
<path d="M24.0,138.6 25.0,144.7 26.0,146.2 27.0,147.9 28.0,153.7 29.0,159.0 30.0,172.1 31.0,183.6 32.0,180.5 33.0,183.8 34.0,195.2 35.0,201.3 36.0,202.5 37.0,202.5 38.0,211.6 39.0,217.2 40.0,214.1 41.0,217.0 42.0,216.7 43.0,216.5 44.0,213.9 45.0,210.8 46.0,204.7 47.0,196.7 48.0,188.0 49.0,179.7 50.0,171.4 51.0,163.0 52.0,154.7 53.0,146.3 54.0,138.0 55.0,129.6 56.0,121.2 57.0,113.0 58.0,104.7 59.0,96.6 60.0,90.0 61.0,84.2 62.0,79.1 63.0,77.0 64.0,78.3 65.0,81.4 66.0,85.0 67.0,89.4 68.0,94.9 69.0,100.0 70.0,105.1 71.0,109.9 72.0,112.0 73.0,109.8 74.0,104.8 75.0,100.0 76.0,95.9 77.0,91.8 78.0,88.0 79.0,85.0 80.0,82.6 81.0,80.3 82.0,78.6 83.0,78.0 84.0,79.0 85.0,81.5 86.0,84.8 87.0,88.0 88.0,91.5 89.0,95.4 90.0,99.0 91.0,102.1 92.0,104.9 93.0,107.6 94.0,110.3 95.0,113.0 96.0,115.7 97.0,118.3 98.0,121.0 99.0,124.0 100.0,127.5 101.0,131.4 102.0,135.6 103.0,140.0 104.0,145.9 105.0,152.1 106.0,155.0 107.0,153.3 108.0,149.4 109.0,145.0 110.0,140.4 111.0,135.1 112.0,129.7 113.0,125.0 114.0,121.0 115.0,117.3 116.0,113.8 117.0,110.7 118.0,108.0 119.0,105.5 120.0,103.2 121.0,101.3 122.0,100.0 123.0,99.0 124.0,98.3 125.0,98.0 126.0,98.3 127.0,98.9 128.0,99.9 129.0,101.0 130.0,102.5 131.0,104.7 132.0,107.3 133.0,110.2 134.0,113.0 135.0,116.1 136.0,119.6 137.0,123.0 138.0,126.0 139.0,128.5 140.0,130.7 141.0,132.7 142.0,134.7 143.0,136.7 144.0,138.7 145.0,141.0 146.0,143.5 147.0,146.1 148.0,148.8 149.0,151.6 150.0,154.4 151.0,157.2 152.0,160.0 153.0,162.9 154.0,165.9 155.0,168.9 156.0,171.6 157.0,174.0 158.0,176.3 159.0,178.4 160.0,179.8 161.0,179.8 162.0,178.4 163.0,176.2 164.0,174.0 165.0,171.9 166.0,169.7 167.0,167.3 168.0,164.9 169.0,162.4 170.0,160.0 171.0,157.5 172.0,155.0 173.0,152.4 174.0,149.9 175.0,147.4 176.0,145.0 177.0,142.7 178.0,140.3 179.0,138.0 180.0,135.8 181.0,133.8 182.0,132.0 183.0,130.4 184.0,128.8 185.0,127.3 186.0,126.0 187.0,124.9 188.0,124.0 189.0,123.3 190.0,122.6 191.0,122.0 192.0,121.6 193.0,121.5 194.0,121.9 195.0,123.0 196.0,124.6 197.0,126.3 198.0,128.0 199.0,129.7 200.0,131.7 201.0,133.9 202.0,136.0 203.0,138.0 204.0,139.9 205.0,141.8 206.0,143.7 207.0,145.4 208.0,147.0 209.0,148.6 210.0,150.2 211.0,151.5 212.0,152.0 213.0,151.8 214.0,151.5 215.0,151.2 216.0,151.0 217.0,151.3 218.0,152.1 219.0,153.3 220.0,154.7 221.0,156.3 222.0,158.0 223.0,160.3 224.0,163.4 225.0,166.3 226.0,168.0 227.0,168.8 228.0,169.4 229.0,169.8 230.0,170.0 231.0,169.5 232.0,168.2 233.0,166.5 234.0,164.8 235.0,163.5 236.0,163.0 237.0,163.2 238.0,163.6 239.0,164.3 240.0,165.2 241.0,166.2 242.0,167.2 243.0,168.2 244.0,169.2 245.0,170.0 246.0,170.8 247.0,171.7 248.0,172.6 249.0,173.5 250.0,174.4 251.0,175.1 252.0,175.6 253.0,175.9 254.0,175.9 255.0,175.2 256.0,174.1 257.0,172.9 258.0,172.0 259.0,171.3 260.0,170.7 261.0,170.2 262.0,170.0 263.0,170.7 264.0,172.2 265.0,174.0 266.0,175.8 267.0,178.0 268.0,180.3 269.0,182.4 270.0,184.4 271.0,186.5 272.0,188.5 273.0,190.7 274.0,192.9 275.0,195.3 276.0,197.7 277.0,200.1 278.0,202.5 279.0,204.8 280.0,207.0 281.0,209.4 282.0,212.1 283.0,214.5 284.0,216.3 285.0,217.0 286.0,217.0 287.0,217.0 288.0,217.0 289.0,217.0 290.0,215.8 291.0,213.1 292.0,210.0 293.0,206.4 294.0,202.1 295.0,198.0 296.0,194.5 297.0,191.2 298.0,188.0 299.0,184.8 300.0,181.5 301.0,178.5 302.0,176.0 303.0,173.8 304.0,171.7 305.0,170.1 306.0,169.0 307.0,168.3 308.0,167.7 309.0,167.2 310.0,166.8 311.0,166.6 312.0,166.5 313.0,166.5 314.0,166.6 315.0,166.7 316.0,166.8 317.0,166.9 318.0,167.0 319.0,167.2 320.0,167.4 321.0,167.6 322.0,167.9 323.0,168.2 324.0,168.6 325.0,169.0 326.0,169.5 327.0,170.1 328.0,170.9 329.0,171.7 330.0,172.5 331.0,173.4 332.0,174.1 333.0,174.8 334.0,175.5 335.0,176.2 336.0,176.8 337.0,177.5 338.0,178.1 339.0,178.7 340.0,179.3 341.0,179.9 342.0,180.6 343.0,181.2 344.0,181.8 345.0,182.4 346.0,183.0 347.0,183.7 348.0,184.6 349.0,185.5 350.0,186.4 351.0,187.4 352.0,188.3 353.0,189.2 354.0,190.0 355.0,190.7 356.0,191.3 357.0,191.9 358.0,192.3 359.0,192.8 360.0,193.2 361.0,193.6 362.0,194.0 363.0,194.3 364.0,194.7 365.0,195.0 366.0,195.3 367.0,195.7 368.0,196.0 369.0,196.4 370.0,196.8 371.0,197.3 372.0,197.6 373.0,197.7 374.0,197.7 375.0,197.7 376.0,197.6 377.0,197.5 378.0,197.5 379.0,197.4 380.0,197.4 381.0,197.4 382.0,197.4 383.0,197.4 384.0,197.4 385.0,197.4 386.0,197.4 387.0,197.4 388.0,197.4 389.0,197.4 390.0,197.4 391.0,197.4 392.0,197.4 393.0,197.4 394.0,197.4 395.0,197.5 396.0,197.7 397.0,198.0 398.0,198.4 399.0,198.8 400.0,199.3 401.0,199.8 402.0,200.4 403.0,200.9 404.0,201.5 405.0,202.0 406.0,202.5 407.0,203.0 408.0,203.5 409.0,204.1 410.0,204.6 411.0,205.2 412.0,205.8 413.0,206.4 414.0,207.1 415.0,207.7 416.0,208.3 417.0,208.9 418.0,209.5 419.0,210.1 420.0,210.8 421.0,211.5 422.0,212.3 423.0,213.1 424.0,213.9 425.0,214.7 426.0,215.4 427.0,216.1 428.0,216.7 429.0,217.2 430.0,217.5 431.0,217.7 432.0,217.7 433.0,217.4 434.0,216.9 435.0,216.2 436.0,215.5 437.0,214.6 438.0,213.7 439.0,212.9 440.0,212.2 441.0,211.6 442.0,211.2 443.0,210.8 444.0,210.5 445.0,210.1 446.0,209.8 447.0,209.5 448.0,209.3 449.0,209.1 450.0,208.9 451.0,208.8 452.0,208.8 453.0,209.2 454.0,210.0 455.0,211.0 456.0,212.5 457.0,214.8 458.0,217.4 459.0,220.0 460.0,222.6 461.0,225.3 462.0,228.0 463.0,230.6 464.0,233.4 465.0,236.0 466.0,238.2 467.0,240.0 468.0,241.4 469.0,242.7 470.0,243.8 471.0,244.8 472.0,245.5 473.0,246.0 474.0,246.3 475.0,246.6 476.0,246.8 477.0,247.0 478.0,247.2 479.0,247.3 480.0,247.4 481.0,247.5 482.0,247.5 483.0,247.5 484.0,247.5 485.0,247.5 486.0,247.5 487.0,247.5 488.0,247.5 489.0,247.4 490.0,247.4 491.0,247.4 492.0,247.2 493.0,246.9 494.0,246.4 495.0,245.8 496.0,245.2 497.0,244.6 498.0,244.0 499.0,243.4 500.0,242.9 501.0,242.3 502.0,241.6 503.0,240.9 504.0,240.2 505.0,239.4 506.0,238.5 507.0,237.5 508.0,236.2 509.0,234.8 510.0,233.4 511.0,232.0 512.0,230.5 513.0,229.0 514.0,227.5 515.0,226.0 516.0,224.6 517.0,223.3 518.0,222.1 519.0,220.9 520.0,219.9 521.0,219.0 522.0,218.3 523.0,217.7 524.0,217.1 525.0,216.5 526.0,215.9 527.0,215.1 528.0,214.2 529.0,213.2 530.0,212.4 531.0,212.0 532.0,211.9 533.0,211.8 534.0,211.7 535.0,211.7 536.0,211.6 537.0,211.6 538.0,211.5 539.0,211.5 540.0,211.5 541.0,211.5 542.0,211.6 543.0,211.6 544.0,211.7 545.0,211.8 546.0,211.9 547.0,212.1 548.0,212.2 549.0,212.4 550.0,212.5 551.0,212.7 552.0,212.8 553.0,213.1 554.0,213.3 555.0,213.5 556.0,213.8 557.0,214.1 558.0,214.4 559.0,214.7 560.0,215.0 561.0,215.3 562.0,215.7 563.0,216.1 564.0,216.4 565.0,216.9 566.0,217.3 567.0,217.7 568.0,218.1 569.0,218.6 570.0,219.0 571.0,219.5 572.0,220.0 573.0,220.6 574.0,221.2 575.0,221.7 576.0,222.1 577.0,222.4 578.0,222.5 579.0,222.4 580.0,222.3 581.0,222.1 582.0,221.9 583.0,221.7 584.0,221.6 585.0,221.5 586.0,221.5 587.0,221.5 588.0,221.5 589.0,221.5 590.0,221.5 591.0,221.5 592.0,221.5 593.0,221.5 594.0,221.5 595.0,221.5 596.0,221.5 597.0,221.5 598.0,221.5 599.0,221.6 600.0,221.6 601.0,221.7 602.0,221.7 603.0,221.8 604.0,221.8 605.0,221.9 606.0,221.9 607.0,222.0 608.0,222.1 609.0,222.2 610.0,222.3 611.0,222.4 612.0,222.6 613.0,222.7 614.0,222.9 615.0,223.1 616.0,223.3 617.0,223.4 618.0,223.6 619.0,223.8 620.0,224.0 621.0,224.2 622.0,224.4 623.0,224.6 624.0,224.8 625.0,225.0 626.0,225.2 627.0,225.4 628.0,225.6 629.0,225.8 630.0,226.0 631.0,226.3 632.0,226.5" stroke="#1a50f0" stroke-width="2.6" stroke-opacity="1.00"/>
<path d="M24.0,127.8 25.0,138.3 26.0,140.7 27.0,140.1 28.0,148.2 29.0,152.1 30.0,143.4 31.0,158.5 32.0,173.1 33.0,182.5 34.0,193.1 35.0,195.7 36.0,195.0 37.0,199.5 38.0,204.6 39.0,204.1 40.0,210.4 41.0,220.1 42.0,223.9 43.0,218.7 44.0,215.6 45.0,213.2 46.0,207.8 47.0,199.2 48.0,190.5 49.0,181.5 50.0,172.2 51.0,162.8 52.0,153.5 53.0,144.7 54.0,136.0 55.0,127.5 56.0,119.1 57.0,110.9 58.0,102.5 59.0,94.2 60.0,87.2 61.0,81.0 62.0,75.7 63.0,73.2 64.0,73.8 65.0,76.0 66.0,78.5 67.0,81.9 68.0,86.9 69.0,92.1 70.0,97.4 71.0,102.3 72.0,104.6 73.0,102.8 74.0,98.5 75.0,94.2 76.0,90.5 77.0,86.5 78.0,82.8 79.0,79.9 80.0,77.4 81.0,75.2 82.0,73.4 83.0,72.4 84.0,73.2 85.0,75.6 86.0,79.0 87.0,82.4 88.0,85.8 89.0,89.7 90.0,93.2 91.0,96.3 92.0,99.2 93.0,102.0 94.0,104.9 95.0,107.9 96.0,110.9 97.0,113.9 98.0,117.0 99.0,120.3 100.0,124.0 101.0,127.9 102.0,132.2 103.0,136.4 104.0,141.7 105.0,147.4 106.0,150.0 107.0,148.5 108.0,144.6 109.0,140.2 110.0,135.8 111.0,130.7 112.0,125.7 113.0,121.6 114.0,118.4 115.0,115.3 116.0,112.3 117.0,109.4 118.0,106.7 119.0,104.1 120.0,101.7 121.0,99.7 122.0,98.3 123.0,97.2 124.0,96.5 125.0,96.2 126.0,96.4 127.0,97.0 128.0,97.9 129.0,98.9 130.0,100.3 131.0,102.2 132.0,104.6 133.0,107.2 134.0,109.8 135.0,112.6 136.0,115.8 137.0,118.9 138.0,121.7 139.0,124.2 140.0,126.5 141.0,128.7 142.0,130.7 143.0,132.9 144.0,135.1 145.0,137.4 146.0,139.9 147.0,142.5 148.0,145.1 149.0,147.7 150.0,150.4 151.0,152.9 152.0,155.5 153.0,158.1 154.0,160.9 155.0,163.8 156.0,166.6 157.0,169.1 158.0,171.6 159.0,174.2 160.0,176.2 161.0,176.8 162.0,176.0 163.0,174.3 164.0,172.4 165.0,170.3 166.0,168.0 167.0,165.6 168.0,163.2 169.0,160.9 170.0,158.6 171.0,156.5 172.0,154.4 173.0,152.2 174.0,149.9 175.0,147.6 176.0,145.5 177.0,143.1 178.0,140.6 179.0,138.2 180.0,136.0 181.0,133.9 182.0,132.0 183.0,130.3 184.0,128.7 185.0,127.1 186.0,125.8 187.0,124.9 188.0,124.1 189.0,123.6 190.0,123.0 191.0,122.6 192.0,122.4 193.0,122.4 194.0,122.9 195.0,124.0 196.0,125.6 197.0,127.3 198.0,129.0 199.0,130.8 200.0,132.9 201.0,135.2 202.0,137.4 203.0,139.5 204.0,141.6 205.0,143.5 206.0,145.5 207.0,147.2 208.0,148.5 209.0,149.7 210.0,151.0 211.0,152.0 212.0,152.4 213.0,152.2 214.0,151.8 215.0,151.6 216.0,151.7 217.0,152.2 218.0,153.2 219.0,154.5 220.0,156.0 221.0,157.6 222.0,159.3 223.0,161.5 224.0,164.5 225.0,167.1 226.0,168.7 227.0,169.2 228.0,169.5 229.0,169.6 230.0,169.5 231.0,168.8 232.0,167.5 233.0,165.8 234.0,164.2 235.0,163.0 236.0,162.4 237.0,162.6 238.0,163.0 239.0,163.7 240.0,164.6 241.0,165.6 242.0,166.6 243.0,167.7 244.0,168.7 245.0,169.5 246.0,170.3 247.0,171.2 248.0,172.2 249.0,173.1 250.0,173.9 251.0,174.7 252.0,175.2 253.0,175.5 254.0,175.5 255.0,174.9 256.0,173.8 257.0,172.6 258.0,171.7 259.0,171.1 260.0,170.4 261.0,169.9 262.0,169.7 263.0,170.2 264.0,171.6 265.0,173.2 266.0,174.8 267.0,176.8 268.0,178.8 269.0,180.8 270.0,182.6 271.0,184.5 272.0,186.4 273.0,188.3 274.0,190.5 275.0,192.7 276.0,195.0 277.0,197.3 278.0,199.7 279.0,202.1 280.0,204.5 281.0,207.1 282.0,210.1 283.0,212.8 284.0,215.0 285.0,216.1 286.0,216.6 287.0,216.9 288.0,217.0 289.0,217.0 290.0,216.0 291.0,213.4 292.0,210.2 293.0,206.5 294.0,202.2 295.0,198.0 296.0,194.4 297.0,191.1 298.0,187.9 299.0,184.7 300.0,181.4 301.0,178.5 302.0,176.0 303.0,173.8 304.0,171.8 305.0,170.2 306.0,169.2 307.0,168.5 308.0,167.9 309.0,167.4 310.0,167.1 311.0,166.8 312.0,166.8 313.0,166.8 314.0,166.8 315.0,166.9 316.0,167.0 317.0,167.2 318.0,167.3 319.0,167.5 320.0,167.7 321.0,168.0 322.0,168.3 323.0,168.7 324.0,169.1 325.0,169.5 326.0,170.0 327.0,170.6 328.0,171.4 329.0,172.2 330.0,173.0 331.0,173.8 332.0,174.6 333.0,175.3 334.0,176.0 335.0,176.6 336.0,177.3 337.0,177.9 338.0,178.6 339.0,179.2 340.0,179.8 341.0,180.4 342.0,181.1 343.0,181.7 344.0,182.3 345.0,182.9 346.0,183.5 347.0,184.2 348.0,185.1 349.0,186.0 350.0,186.9 351.0,187.8 352.0,188.7 353.0,189.6 354.0,190.4 355.0,191.1 356.0,191.8 357.0,192.3 358.0,192.8 359.0,193.2 360.0,193.7 361.0,194.1 362.0,194.5 363.0,194.8 364.0,195.2 365.0,195.5 366.0,195.9 367.0,196.2 368.0,196.6 369.0,196.9 370.0,197.4 371.0,197.8 372.0,198.1 373.0,198.3 374.0,198.3 375.0,198.3 376.0,198.3 377.0,198.2 378.0,198.2 379.0,198.2 380.0,198.2 381.0,198.2 382.0,198.2 383.0,198.2 384.0,198.2 385.0,198.2 386.0,198.2 387.0,198.3 388.0,198.3 389.0,198.3 390.0,198.3 391.0,198.3 392.0,198.3 393.0,198.4 394.0,198.4 395.0,198.5 396.0,198.7 397.0,199.0 398.0,199.4 399.0,199.8 400.0,200.2 401.0,200.7 402.0,201.2 403.0,201.7 404.0,202.3 405.0,202.8 406.0,203.2 407.0,203.7 408.0,204.2 409.0,204.8 410.0,205.3 411.0,205.9 412.0,206.5 413.0,207.1 414.0,207.7 415.0,208.3 416.0,208.9 417.0,209.5 418.0,210.1 419.0,210.7 420.0,211.4 421.0,212.1 422.0,212.8 423.0,213.6 424.0,214.4 425.0,215.2 426.0,215.9 427.0,216.6 428.0,217.1 429.0,217.6 430.0,217.9 431.0,218.1 432.0,218.1 433.0,217.8 434.0,217.4 435.0,216.8 436.0,216.1 437.0,215.3 438.0,214.5 439.0,213.7 440.0,213.1 441.0,212.5 442.0,212.1 443.0,211.8 444.0,211.4 445.0,211.1 446.0,210.8 447.0,210.5 448.0,210.2 449.0,210.0 450.0,209.8 451.0,209.6 452.0,209.6 453.0,209.9 454.0,210.6 455.0,211.4 456.0,212.8 457.0,214.8 458.0,217.2 459.0,219.5 460.0,221.9 461.0,224.4 462.0,226.8 463.0,229.2 464.0,231.7 465.0,234.1 466.0,236.3 467.0,237.9 468.0,239.3 469.0,240.5 470.0,241.7 471.0,242.6 472.0,243.4 473.0,243.9 474.0,244.2 475.0,244.6 476.0,244.9 477.0,245.1 478.0,245.4 479.0,245.5 480.0,245.7 481.0,245.8 482.0,245.9 483.0,245.9 484.0,245.9 485.0,246.0 486.0,246.0 487.0,246.0 488.0,246.0 489.0,246.1 490.0,246.1 491.0,246.1 492.0,245.9 493.0,245.7 494.0,245.2 495.0,244.7 496.0,244.2 497.0,243.6 498.0,243.1 499.0,242.6 500.0,242.0 501.0,241.5 502.0,240.9 503.0,240.3 504.0,239.6 505.0,238.8 506.0,238.0 507.0,237.1 508.0,235.9 509.0,234.6 510.0,233.3 511.0,231.9 512.0,230.6 513.0,229.2 514.0,227.7 515.0,226.3 516.0,225.1 517.0,223.9 518.0,222.7 519.0,221.7 520.0,220.7 521.0,219.8 522.0,219.2 523.0,218.6 524.0,218.1 525.0,217.5 526.0,217.0 527.0,216.2 528.0,215.3 529.0,214.4 530.0,213.7 531.0,213.4 532.0,213.3 533.0,213.2 534.0,213.1 535.0,213.0 536.0,213.0 537.0,213.0 538.0,212.9 539.0,212.9 540.0,212.9 541.0,213.0 542.0,213.0 543.0,213.1 544.0,213.2 545.0,213.3 546.0,213.4 547.0,213.6 548.0,213.7 549.0,213.9 550.0,214.0 551.0,214.2 552.0,214.4 553.0,214.6 554.0,214.9 555.0,215.2 556.0,215.4 557.0,215.7 558.0,216.0 559.0,216.3 560.0,216.7 561.0,217.0 562.0,217.3 563.0,217.7 564.0,218.1 565.0,218.5 566.0,218.9 567.0,219.3 568.0,219.8 569.0,220.2 570.0,220.6 571.0,221.0 572.0,221.6 573.0,222.1 574.0,222.6 575.0,223.1 576.0,223.5 577.0,223.8 578.0,223.9 579.0,223.9 580.0,223.8 581.0,223.6 582.0,223.4 583.0,223.3 584.0,223.1 585.0,223.1 586.0,223.1 587.0,223.1 588.0,223.1 589.0,223.1 590.0,223.1 591.0,223.1 592.0,223.2 593.0,223.2 594.0,223.2 595.0,223.2 596.0,223.2 597.0,223.2 598.0,223.2 599.0,223.2 600.0,223.2 601.0,223.3 602.0,223.3 603.0,223.4 604.0,223.4 605.0,223.5 606.0,223.5 607.0,223.6 608.0,223.7 609.0,223.8 610.0,223.9 611.0,224.0 612.0,224.1 613.0,224.3 614.0,224.4 615.0,224.6 616.0,224.8 617.0,224.9 618.0,225.1 619.0,225.3 620.0,225.4 621.0,225.6 622.0,225.8 623.0,226.0 624.0,226.2 625.0,226.4 626.0,226.6 627.0,226.8 628.0,227.0 629.0,227.2 630.0,227.4 631.0,227.6 632.0,227.8" stroke="#1a70f0" stroke-width="2.6" stroke-opacity="1.00"/>
<path d="M24.0,110.1 25.0,109.8 26.0,119.5 27.0,137.1 28.0,136.9 29.0,133.5 30.0,148.9 31.0,158.5 32.0,154.6 33.0,155.6 34.0,163.7 35.0,174.4 36.0,184.4 37.0,193.9 38.0,200.2 39.0,205.1 40.0,209.1 41.0,208.4 42.0,207.0 43.0,212.1 44.0,214.0 45.0,213.2 46.0,209.4 47.0,201.5 48.0,193.0 49.0,183.2 50.0,173.1 51.0,162.5 52.0,152.4 53.0,143.0 54.0,134.0 55.0,125.4 56.0,116.9 57.0,108.7 58.0,100.3 59.0,91.7 60.0,84.4 61.0,77.8 62.0,72.3 63.0,69.4 64.0,69.3 65.0,70.5 66.0,72.0 67.0,74.3 68.0,78.8 69.0,84.2 70.0,89.7 71.0,94.7 72.0,97.2 73.0,95.9 74.0,92.3 75.0,88.5 76.0,85.0 77.0,81.2 78.0,77.7 79.0,74.8 80.0,72.3 81.0,70.1 82.0,68.1 83.0,66.9 84.0,67.3 85.0,69.8 86.0,73.2 87.0,76.7 88.0,80.2 89.0,84.0 90.0,87.4 91.0,90.5 92.0,93.4 93.0,96.3 94.0,99.4 95.0,102.7 96.0,106.0 97.0,109.5 98.0,113.0 99.0,116.6 100.0,120.4 101.0,124.5 102.0,128.8 103.0,132.8 104.0,137.6 105.0,142.6 106.0,145.0 107.0,143.6 108.0,139.8 109.0,135.4 110.0,131.1 111.0,126.3 112.0,121.7 113.0,118.3 114.0,115.7 115.0,113.3 116.0,110.9 117.0,108.1 118.0,105.3 119.0,102.6 120.0,100.2 121.0,98.2 122.0,96.6 123.0,95.4 124.0,94.6 125.0,94.4 126.0,94.6 127.0,95.2 128.0,95.9 129.0,96.8 130.0,98.0 131.0,99.8 132.0,101.9 133.0,104.2 134.0,106.5 135.0,109.1 136.0,112.0 137.0,114.8 138.0,117.5 139.0,120.0 140.0,122.3 141.0,124.6 142.0,126.8 143.0,129.1 144.0,131.4 145.0,133.9 146.0,136.4 147.0,138.9 148.0,141.4 149.0,143.9 150.0,146.3 151.0,148.7 152.0,151.0 153.0,153.4 154.0,155.9 155.0,158.7 156.0,161.5 157.0,164.3 158.0,167.0 159.0,170.0 160.0,172.6 161.0,173.8 162.0,173.6 163.0,172.4 164.0,170.7 165.0,168.6 166.0,166.3 167.0,163.9 168.0,161.6 169.0,159.3 170.0,157.2 171.0,155.4 172.0,153.8 173.0,151.9 174.0,149.9 175.0,147.9 176.0,146.0 177.0,143.6 178.0,140.9 179.0,138.4 180.0,136.1 181.0,134.0 182.0,132.0 183.0,130.3 184.0,128.6 185.0,126.9 186.0,125.7 187.0,124.9 188.0,124.3 189.0,123.9 190.0,123.5 191.0,123.2 192.0,123.1 193.0,123.2 194.0,123.8 195.0,125.0 196.0,126.6 197.0,128.3 198.0,130.1 199.0,131.9 200.0,134.1 201.0,136.5 202.0,138.8 203.0,141.0 204.0,143.2 205.0,145.3 206.0,147.3 207.0,148.9 208.0,150.0 209.0,150.8 210.0,151.8 211.0,152.6 212.0,152.8 213.0,152.5 214.0,152.2 215.0,152.1 216.0,152.3 217.0,153.1 218.0,154.2 219.0,155.7 220.0,157.2 221.0,158.9 222.0,160.6 223.0,162.8 224.0,165.5 225.0,168.0 226.0,169.4 227.0,169.6 228.0,169.5 229.0,169.3 230.0,169.0 231.0,168.2 232.0,166.8 233.0,165.2 234.0,163.6 235.0,162.4 236.0,161.9 237.0,161.9 238.0,162.4 239.0,163.0 240.0,163.9 241.0,165.0 242.0,166.0 243.0,167.1 244.0,168.1 245.0,169.0 246.0,169.8 247.0,170.8 248.0,171.7 249.0,172.7 250.0,173.5 251.0,174.3 252.0,174.8 253.0,175.1 254.0,175.1 255.0,174.5 256.0,173.5 257.0,172.4 258.0,171.5 259.0,170.8 260.0,170.1 261.0,169.6 262.0,169.4 263.0,169.8 264.0,171.0 265.0,172.3 266.0,173.8 267.0,175.5 268.0,177.4 269.0,179.1 270.0,180.8 271.0,182.5 272.0,184.2 273.0,186.0 274.0,188.0 275.0,190.1 276.0,192.2 277.0,194.5 278.0,196.9 279.0,199.4 280.0,202.0 281.0,204.9 282.0,208.1 283.0,211.1 284.0,213.7 285.0,215.2 286.0,216.1 287.0,216.9 288.0,217.0 289.0,217.0 290.0,216.1 291.0,213.6 292.0,210.4 293.0,206.7 294.0,202.2 295.0,198.0 296.0,194.4 297.0,191.0 298.0,187.8 299.0,184.5 300.0,181.3 301.0,178.4 302.0,176.0 303.0,173.8 304.0,171.9 305.0,170.4 306.0,169.3 307.0,168.7 308.0,168.1 309.0,167.6 310.0,167.3 311.0,167.1 312.0,167.0 313.0,167.0 314.0,167.1 315.0,167.2 316.0,167.3 317.0,167.4 318.0,167.6 319.0,167.8 320.0,168.1 321.0,168.4 322.0,168.7 323.0,169.1 324.0,169.5 325.0,169.9 326.0,170.5 327.0,171.1 328.0,171.8 329.0,172.6 330.0,173.4 331.0,174.2 332.0,175.0 333.0,175.7 334.0,176.4 335.0,177.1 336.0,177.8 337.0,178.4 338.0,179.1 339.0,179.7 340.0,180.3 341.0,180.9 342.0,181.6 343.0,182.2 344.0,182.8 345.0,183.4 346.0,184.0 347.0,184.7 348.0,185.5 349.0,186.4 350.0,187.3 351.0,188.3 352.0,189.2 353.0,190.0 354.0,190.8 355.0,191.6 356.0,192.2 357.0,192.7 358.0,193.2 359.0,193.7 360.0,194.1 361.0,194.5 362.0,194.9 363.0,195.3 364.0,195.7 365.0,196.0 366.0,196.4 367.0,196.7 368.0,197.1 369.0,197.5 370.0,197.9 371.0,198.3 372.0,198.7 373.0,198.8 374.0,198.9 375.0,198.9 376.0,198.9 377.0,198.9 378.0,198.9 379.0,198.9 380.0,198.9 381.0,198.9 382.0,199.0 383.0,199.0 384.0,199.0 385.0,199.1 386.0,199.1 387.0,199.1 388.0,199.1 389.0,199.2 390.0,199.2 391.0,199.2 392.0,199.3 393.0,199.3 394.0,199.4 395.0,199.5 396.0,199.7 397.0,200.0 398.0,200.3 399.0,200.7 400.0,201.1 401.0,201.6 402.0,202.1 403.0,202.6 404.0,203.1 405.0,203.5 406.0,204.0 407.0,204.5 408.0,205.0 409.0,205.5 410.0,206.0 411.0,206.6 412.0,207.2 413.0,207.8 414.0,208.4 415.0,209.0 416.0,209.6 417.0,210.2 418.0,210.7 419.0,211.3 420.0,211.9 421.0,212.6 422.0,213.4 423.0,214.2 424.0,214.9 425.0,215.7 426.0,216.4 427.0,217.0 428.0,217.6 429.0,218.0 430.0,218.4 431.0,218.5 432.0,218.5 433.0,218.3 434.0,217.9 435.0,217.3 436.0,216.7 437.0,216.0 438.0,215.3 439.0,214.6 440.0,213.9 441.0,213.4 442.0,213.0 443.0,212.7 444.0,212.4 445.0,212.1 446.0,211.7 447.0,211.4 448.0,211.1 449.0,210.8 450.0,210.6 451.0,210.4 452.0,210.3 453.0,210.6 454.0,211.1 455.0,211.9 456.0,213.0 457.0,214.8 458.0,216.9 459.0,219.0 460.0,221.2 461.0,223.4 462.0,225.6 463.0,227.8 464.0,230.1 465.0,232.3 466.0,234.3 467.0,235.9 468.0,237.2 469.0,238.4 470.0,239.5 471.0,240.4 472.0,241.2 473.0,241.7 474.0,242.2 475.0,242.6 476.0,242.9 477.0,243.3 478.0,243.5 479.0,243.8 480.0,244.0 481.0,244.1 482.0,244.2 483.0,244.3 484.0,244.4 485.0,244.5 486.0,244.5 487.0,244.6 488.0,244.6 489.0,244.7 490.0,244.7 491.0,244.8 492.0,244.7 493.0,244.4 494.0,244.1 495.0,243.7 496.0,243.2 497.0,242.7 498.0,242.2 499.0,241.7 500.0,241.2 501.0,240.7 502.0,240.2 503.0,239.6 504.0,239.0 505.0,238.3 506.0,237.6 507.0,236.6 508.0,235.6 509.0,234.4 510.0,233.1 511.0,231.9 512.0,230.6 513.0,229.3 514.0,228.0 515.0,226.7 516.0,225.5 517.0,224.4 518.0,223.4 519.0,222.4 520.0,221.5 521.0,220.7 522.0,220.1 523.0,219.5 524.0,219.0 525.0,218.5 526.0,218.0 527.0,217.3 528.0,216.5 529.0,215.7 530.0,215.0 531.0,214.7 532.0,214.6 533.0,214.5 534.0,214.5 535.0,214.4 536.0,214.4 537.0,214.4 538.0,214.4 539.0,214.4 540.0,214.4 541.0,214.4 542.0,214.5 543.0,214.6 544.0,214.7 545.0,214.8 546.0,214.9 547.0,215.1 548.0,215.2 549.0,215.4 550.0,215.6 551.0,215.8 552.0,216.0 553.0,216.2 554.0,216.5 555.0,216.8 556.0,217.1 557.0,217.4 558.0,217.7 559.0,218.0 560.0,218.3 561.0,218.6 562.0,219.0 563.0,219.4 564.0,219.7 565.0,220.1 566.0,220.5 567.0,220.9 568.0,221.4 569.0,221.8 570.0,222.2 571.0,222.6 572.0,223.1 573.0,223.6 574.0,224.1 575.0,224.6 576.0,225.0 577.0,225.2 578.0,225.3 579.0,225.3 580.0,225.2 581.0,225.1 582.0,225.0 583.0,224.8 584.0,224.7 585.0,224.7 586.0,224.7 587.0,224.8 588.0,224.8 589.0,224.8 590.0,224.8 591.0,224.8 592.0,224.8 593.0,224.8 594.0,224.8 595.0,224.8 596.0,224.8 597.0,224.8 598.0,224.8 599.0,224.9 600.0,224.9 601.0,224.9 602.0,225.0 603.0,225.0 604.0,225.0 605.0,225.1 606.0,225.1 607.0,225.2 608.0,225.3 609.0,225.3 610.0,225.4 611.0,225.5 612.0,225.7 613.0,225.8 614.0,225.9 615.0,226.1 616.0,226.2 617.0,226.4 618.0,226.6 619.0,226.7 620.0,226.9 621.0,227.1 622.0,227.2 623.0,227.4 624.0,227.6 625.0,227.8 626.0,228.0 627.0,228.2 628.0,228.4 629.0,228.6 630.0,228.8 631.0,229.0 632.0,229.2" stroke="#1a98f5" stroke-width="2.6" stroke-opacity="1.00"/>
<path d="M24.0,106.2 25.0,107.2 26.0,113.2 27.0,108.1 28.0,116.7 29.0,124.6 30.0,131.0 31.0,136.4 32.0,137.0 33.0,148.4 34.0,152.1 35.0,152.4 36.0,153.6 37.0,162.7 38.0,176.0 39.0,180.4 40.0,191.4 41.0,203.1 42.0,210.0 43.0,212.8 44.0,211.8 45.0,213.0 46.0,211.4 47.0,204.1 48.0,195.5 49.0,184.9 50.0,174.0 51.0,162.3 52.0,151.1 53.0,141.2 54.0,131.9 55.0,123.1 56.0,114.5 57.0,106.3 58.0,97.7 59.0,88.8 60.0,81.0 61.0,74.0 62.0,68.2 63.0,64.8 64.0,64.0 65.0,64.1 66.0,64.2 67.0,65.1 68.0,69.2 69.0,74.8 70.0,80.5 71.0,85.5 72.0,88.3 73.0,87.7 74.0,84.7 75.0,81.6 76.0,78.4 77.0,74.9 78.0,71.5 79.0,68.6 80.0,66.2 81.0,63.9 82.0,61.8 83.0,60.2 84.0,60.3 85.0,62.8 86.0,66.3 87.0,69.9 88.0,73.4 89.0,77.1 90.0,80.5 91.0,83.5 92.0,86.5 93.0,89.6 94.0,92.9 95.0,96.5 96.0,100.3 97.0,104.3 98.0,108.2 99.0,112.2 100.0,116.2 101.0,120.3 102.0,124.7 103.0,128.5 104.0,132.6 105.0,137.0 106.0,139.0 107.0,137.8 108.0,134.1 109.0,129.6 110.0,125.5 111.0,121.0 112.0,117.0 113.0,114.2 114.0,112.5 115.0,111.0 116.0,109.1 117.0,106.6 118.0,103.7 119.0,100.9 120.0,98.4 121.0,96.2 122.0,94.5 123.0,93.2 124.0,92.4 125.0,92.2 126.0,92.4 127.0,92.9 128.0,93.5 129.0,94.3 130.0,95.3 131.0,96.8 132.0,98.6 133.0,100.6 134.0,102.7 135.0,104.9 136.0,107.4 137.0,109.9 138.0,112.4 139.0,114.8 140.0,117.3 141.0,119.7 142.0,122.0 143.0,124.5 144.0,127.1 145.0,129.6 146.0,132.1 147.0,134.5 148.0,136.9 149.0,139.2 150.0,141.5 151.0,143.6 152.0,145.6 153.0,147.7 154.0,149.9 155.0,152.5 156.0,155.5 157.0,158.4 158.0,161.5 159.0,164.9 160.0,168.3 161.0,170.3 162.0,170.7 163.0,170.2 164.0,168.8 165.0,166.7 166.0,164.2 167.0,161.8 168.0,159.6 169.0,157.4 170.0,155.5 171.0,154.2 172.0,153.1 173.0,151.7 174.0,149.9 175.0,148.2 176.0,146.5 177.0,144.2 178.0,141.3 179.0,138.6 180.0,136.3 181.0,134.1 182.0,132.1 183.0,130.2 184.0,128.4 185.0,126.7 186.0,125.5 187.0,124.9 188.0,124.4 189.0,124.2 190.0,124.0 191.0,123.9 192.0,124.0 193.0,124.3 194.0,125.0 195.0,126.2 196.0,127.8 197.0,129.5 198.0,131.3 199.0,133.3 200.0,135.5 201.0,138.0 202.0,140.5 203.0,142.8 204.0,145.2 205.0,147.3 206.0,149.4 207.0,151.1 208.0,151.8 209.0,152.2 210.0,152.7 211.0,153.2 212.0,153.3 213.0,152.9 214.0,152.6 215.0,152.6 216.0,153.1 217.0,154.1 218.0,155.5 219.0,157.1 220.0,158.7 221.0,160.4 222.0,162.1 223.0,164.2 224.0,166.8 225.0,169.0 226.0,170.2 227.0,170.1 228.0,169.5 229.0,168.9 230.0,168.4 231.0,167.4 232.0,166.0 233.0,164.4 234.0,162.9 235.0,161.7 236.0,161.2 237.0,161.2 238.0,161.6 239.0,162.3 240.0,163.2 241.0,164.2 242.0,165.4 243.0,166.5 244.0,167.5 245.0,168.4 246.0,169.3 247.0,170.2 248.0,171.2 249.0,172.1 250.0,173.0 251.0,173.8 252.0,174.3 253.0,174.7 254.0,174.7 255.0,174.1 256.0,173.1 257.0,172.1 258.0,171.2 259.0,170.5 260.0,169.8 261.0,169.3 262.0,169.0 263.0,169.3 264.0,170.2 265.0,171.3 266.0,172.5 267.0,174.0 268.0,175.6 269.0,177.1 270.0,178.6 271.0,180.1 272.0,181.6 273.0,183.3 274.0,185.0 275.0,187.0 276.0,189.0 277.0,191.1 278.0,193.5 279.0,196.2 280.0,199.0 281.0,202.2 282.0,205.7 283.0,209.1 284.0,212.1 285.0,214.1 286.0,215.6 287.0,216.8 288.0,217.0 289.0,217.0 290.0,216.2 291.0,213.8 292.0,210.6 293.0,206.9 294.0,202.3 295.0,198.0 296.0,194.3 297.0,190.9 298.0,187.7 299.0,184.4 300.0,181.2 301.0,178.4 302.0,176.0 303.0,173.9 304.0,172.0 305.0,170.5 306.0,169.6 307.0,168.9 308.0,168.3 309.0,167.8 310.0,167.5 311.0,167.4 312.0,167.3 313.0,167.4 314.0,167.4 315.0,167.5 316.0,167.6 317.0,167.8 318.0,168.0 319.0,168.2 320.0,168.5 321.0,168.9 322.0,169.2 323.0,169.6 324.0,170.0 325.0,170.5 326.0,171.0 327.0,171.7 328.0,172.4 329.0,173.2 330.0,174.0 331.0,174.8 332.0,175.5 333.0,176.2 334.0,176.9 335.0,177.6 336.0,178.3 337.0,179.0 338.0,179.7 339.0,180.3 340.0,180.9 341.0,181.5 342.0,182.2 343.0,182.8 344.0,183.4 345.0,184.0 346.0,184.6 347.0,185.3 348.0,186.1 349.0,187.0 350.0,187.9 351.0,188.8 352.0,189.7 353.0,190.5 354.0,191.3 355.0,192.0 356.0,192.7 357.0,193.2 358.0,193.8 359.0,194.2 360.0,194.7 361.0,195.1 362.0,195.5 363.0,195.9 364.0,196.3 365.0,196.7 366.0,197.0 367.0,197.4 368.0,197.8 369.0,198.2 370.0,198.6 371.0,199.0 372.0,199.3 373.0,199.5 374.0,199.6 375.0,199.6 376.0,199.7 377.0,199.7 378.0,199.8 379.0,199.8 380.0,199.8 381.0,199.9 382.0,199.9 383.0,200.0 384.0,200.0 385.0,200.1 386.0,200.1 387.0,200.1 388.0,200.2 389.0,200.2 390.0,200.3 391.0,200.3 392.0,200.4 393.0,200.4 394.0,200.5 395.0,200.7 396.0,200.9 397.0,201.1 398.0,201.5 399.0,201.8 400.0,202.2 401.0,202.6 402.0,203.1 403.0,203.5 404.0,204.0 405.0,204.5 406.0,204.9 407.0,205.3 408.0,205.8 409.0,206.3 410.0,206.9 411.0,207.4 412.0,208.0 413.0,208.6 414.0,209.1 415.0,209.7 416.0,210.3 417.0,210.9 418.0,211.5 419.0,212.0 420.0,212.6 421.0,213.3 422.0,214.0 423.0,214.8 424.0,215.5 425.0,216.3 426.0,217.0 427.0,217.6 428.0,218.1 429.0,218.6 430.0,218.9 431.0,219.1 432.0,219.0 433.0,218.9 434.0,218.5 435.0,218.0 436.0,217.4 437.0,216.8 438.0,216.2 439.0,215.5 440.0,215.0 441.0,214.5 442.0,214.2 443.0,213.8 444.0,213.5 445.0,213.2 446.0,212.9 447.0,212.5 448.0,212.2 449.0,211.9 450.0,211.6 451.0,211.4 452.0,211.2 453.0,211.4 454.0,211.8 455.0,212.4 456.0,213.3 457.0,214.9 458.0,216.7 459.0,218.5 460.0,220.3 461.0,222.3 462.0,224.2 463.0,226.1 464.0,228.1 465.0,230.1 466.0,231.9 467.0,233.4 468.0,234.6 469.0,235.8 470.0,236.9 471.0,237.8 472.0,238.6 473.0,239.2 474.0,239.7 475.0,240.2 476.0,240.6 477.0,241.0 478.0,241.4 479.0,241.6 480.0,241.9 481.0,242.1 482.0,242.3 483.0,242.4 484.0,242.5 485.0,242.6 486.0,242.7 487.0,242.8 488.0,242.9 489.0,243.0 490.0,243.1 491.0,243.2 492.0,243.1 493.0,243.0 494.0,242.7 495.0,242.4 496.0,241.9 497.0,241.5 498.0,241.1 499.0,240.7 500.0,240.3 501.0,239.8 502.0,239.3 503.0,238.8 504.0,238.3 505.0,237.7 506.0,237.0 507.0,236.2 508.0,235.2 509.0,234.1 510.0,232.9 511.0,231.8 512.0,230.7 513.0,229.5 514.0,228.3 515.0,227.1 516.0,226.1 517.0,225.1 518.0,224.1 519.0,223.2 520.0,222.4 521.0,221.7 522.0,221.1 523.0,220.6 524.0,220.2 525.0,219.7 526.0,219.3 527.0,218.7 528.0,217.9 529.0,217.2 530.0,216.6 531.0,216.3 532.0,216.3 533.0,216.2 534.0,216.1 535.0,216.1 536.0,216.1 537.0,216.1 538.0,216.1 539.0,216.1 540.0,216.1 541.0,216.2 542.0,216.3 543.0,216.4 544.0,216.5 545.0,216.6 546.0,216.7 547.0,216.9 548.0,217.0 549.0,217.2 550.0,217.4 551.0,217.6 552.0,217.9 553.0,218.1 554.0,218.4 555.0,218.7 556.0,219.0 557.0,219.3 558.0,219.7 559.0,220.0 560.0,220.3 561.0,220.6 562.0,221.0 563.0,221.3 564.0,221.7 565.0,222.1 566.0,222.5 567.0,222.9 568.0,223.3 569.0,223.7 570.0,224.1 571.0,224.5 572.0,224.9 573.0,225.4 574.0,225.9 575.0,226.3 576.0,226.7 577.0,226.9 578.0,227.0 579.0,227.0 580.0,227.0 581.0,226.9 582.0,226.8 583.0,226.7 584.0,226.6 585.0,226.6 586.0,226.7 587.0,226.7 588.0,226.7 589.0,226.8 590.0,226.8 591.0,226.8 592.0,226.8 593.0,226.8 594.0,226.8 595.0,226.8 596.0,226.8 597.0,226.8 598.0,226.8 599.0,226.8 600.0,226.9 601.0,226.9 602.0,226.9 603.0,227.0 604.0,227.0 605.0,227.0 606.0,227.1 607.0,227.1 608.0,227.2 609.0,227.2 610.0,227.3 611.0,227.4 612.0,227.5 613.0,227.6 614.0,227.8 615.0,227.9 616.0,228.0 617.0,228.2 618.0,228.3 619.0,228.5 620.0,228.6 621.0,228.8 622.0,228.9 623.0,229.1 624.0,229.3 625.0,229.5 626.0,229.6 627.0,229.8 628.0,230.0 629.0,230.2 630.0,230.4 631.0,230.6 632.0,230.8" stroke="#18b8f8" stroke-width="2.6" stroke-opacity="1.00"/>
<path d="M24.0,101.9 25.0,110.7 26.0,116.1 27.0,122.1 28.0,121.3 29.0,117.9 30.0,121.7 31.0,126.6 32.0,131.7 33.0,134.7 34.0,131.9 35.0,131.1 36.0,140.6 37.0,146.6 38.0,163.2 39.0,171.3 40.0,175.2 41.0,191.2 42.0,201.1 43.0,206.5 44.0,213.7 45.0,216.2 46.0,212.9 47.0,206.5 48.0,198.0 49.0,186.6 50.0,174.8 51.0,161.9 52.0,149.7 53.0,139.1 54.0,129.2 55.0,120.1 56.0,111.3 57.0,102.8 58.0,93.8 59.0,84.4 60.0,76.0 61.0,68.3 62.0,62.1 63.0,58.0 64.0,55.9 65.0,54.3 66.0,52.5 67.0,51.5 68.0,54.7 69.0,60.6 70.0,66.6 71.0,71.8 72.0,75.0 73.0,75.2 74.0,73.4 75.0,71.2 76.0,68.6 77.0,65.4 78.0,62.2 79.0,59.4 80.0,57.0 81.0,54.7 82.0,52.2 83.0,50.2 84.0,49.8 85.0,52.2 86.0,56.0 87.0,59.8 88.0,63.3 89.0,66.8 90.0,70.0 91.0,73.0 92.0,76.1 93.0,79.4 94.0,83.2 95.0,87.3 96.0,91.6 97.0,96.4 98.0,101.1 99.0,105.5 100.0,109.9 101.0,114.1 102.0,118.6 103.0,122.0 104.0,125.2 105.0,128.4 106.0,130.0 107.0,129.1 108.0,125.6 109.0,121.0 110.0,117.1 111.0,113.1 112.0,109.8 113.0,108.2 114.0,107.8 115.0,107.4 116.0,106.4 117.0,104.2 118.0,101.3 119.0,98.3 120.0,95.6 121.0,93.4 122.0,91.4 123.0,89.9 124.0,89.2 125.0,89.0 126.0,89.1 127.0,89.5 128.0,90.0 129.0,90.5 130.0,91.3 131.0,92.4 132.0,93.7 133.0,95.3 134.0,96.8 135.0,98.6 136.0,100.5 137.0,102.5 138.0,104.7 139.0,107.2 140.0,109.8 141.0,112.4 142.0,114.9 143.0,117.7 144.0,120.5 145.0,123.2 146.0,125.7 147.0,128.0 148.0,130.2 149.0,132.3 150.0,134.2 151.0,135.9 152.0,137.5 153.0,139.1 154.0,141.0 155.0,143.3 156.0,146.4 157.0,149.7 158.0,153.1 159.0,157.4 160.0,161.9 161.0,164.9 162.0,166.4 163.0,166.8 164.0,165.8 165.0,163.7 166.0,161.1 167.0,158.7 168.0,156.6 169.0,154.6 170.0,153.0 171.0,152.3 172.0,152.0 173.0,151.2 174.0,149.9 175.0,148.7 176.0,147.4 177.0,145.0 178.0,141.9 179.0,139.0 180.0,136.5 181.0,134.2 182.0,132.1 183.0,130.2 184.0,128.2 185.0,126.4 186.0,125.3 187.0,124.8 188.0,124.7 189.0,124.7 190.0,124.8 191.0,125.0 192.0,125.3 193.0,125.8 194.0,126.7 195.0,128.0 196.0,129.6 197.0,131.4 198.0,133.2 199.0,135.2 200.0,137.7 201.0,140.4 202.0,143.0 203.0,145.6 204.0,148.1 205.0,150.4 206.0,152.6 207.0,154.2 208.0,154.5 209.0,154.2 210.0,154.1 211.0,154.2 212.0,154.0 213.0,153.6 214.0,153.2 215.0,153.4 216.0,154.3 217.0,155.7 218.0,157.5 219.0,159.3 220.0,160.9 221.0,162.6 222.0,164.4 223.0,166.4 224.0,168.7 225.0,170.5 226.0,171.4 227.0,170.8 228.0,169.6 229.0,168.4 230.0,167.5 231.0,166.2 232.0,164.7 233.0,163.2 234.0,161.9 235.0,160.7 236.0,160.1 237.0,160.1 238.0,160.4 239.0,161.1 240.0,162.0 241.0,163.1 242.0,164.3 243.0,165.5 244.0,166.6 245.0,167.5 246.0,168.4 247.0,169.4 248.0,170.4 249.0,171.3 250.0,172.3 251.0,173.0 252.0,173.6 253.0,173.9 254.0,173.9 255.0,173.4 256.0,172.6 257.0,171.6 258.0,170.7 259.0,170.0 260.0,169.3 261.0,168.8 262.0,168.5 263.0,168.5 264.0,169.1 265.0,169.8 266.0,170.7 267.0,171.8 268.0,173.0 269.0,174.2 270.0,175.3 271.0,176.5 272.0,177.8 273.0,179.1 274.0,180.6 275.0,182.3 276.0,184.1 277.0,186.0 278.0,188.4 279.0,191.4 280.0,194.5 281.0,198.1 282.0,202.2 283.0,206.1 284.0,209.7 285.0,212.5 286.0,214.8 287.0,216.7 288.0,217.0 289.0,217.0 290.0,216.4 291.0,214.3 292.0,210.9 293.0,207.2 294.0,202.5 295.0,198.0 296.0,194.3 297.0,190.8 298.0,187.5 299.0,184.2 300.0,181.0 301.0,178.3 302.0,176.0 303.0,173.9 304.0,172.1 305.0,170.8 306.0,169.9 307.0,169.2 308.0,168.6 309.0,168.2 310.0,167.9 311.0,167.8 312.0,167.8 313.0,167.8 314.0,167.9 315.0,168.0 316.0,168.1 317.0,168.3 318.0,168.5 319.0,168.8 320.0,169.2 321.0,169.6 322.0,170.0 323.0,170.4 324.0,170.8 325.0,171.3 326.0,171.9 327.0,172.6 328.0,173.3 329.0,174.0 330.0,174.8 331.0,175.5 332.0,176.3 333.0,177.0 334.0,177.8 335.0,178.5 336.0,179.2 337.0,179.9 338.0,180.5 339.0,181.2 340.0,181.8 341.0,182.4 342.0,183.0 343.0,183.7 344.0,184.2 345.0,184.9 346.0,185.5 347.0,186.2 348.0,187.0 349.0,187.8 350.0,188.7 351.0,189.5 352.0,190.4 353.0,191.2 354.0,192.0 355.0,192.8 356.0,193.4 357.0,194.0 358.0,194.6 359.0,195.1 360.0,195.5 361.0,196.0 362.0,196.4 363.0,196.8 364.0,197.2 365.0,197.6 366.0,198.0 367.0,198.4 368.0,198.8 369.0,199.2 370.0,199.6 371.0,200.0 372.0,200.3 373.0,200.5 374.0,200.6 375.0,200.8 376.0,200.9 377.0,201.0 378.0,201.0 379.0,201.1 380.0,201.2 381.0,201.3 382.0,201.3 383.0,201.4 384.0,201.5 385.0,201.6 386.0,201.6 387.0,201.7 388.0,201.8 389.0,201.8 390.0,201.9 391.0,202.0 392.0,202.1 393.0,202.2 394.0,202.3 395.0,202.4 396.0,202.6 397.0,202.9 398.0,203.2 399.0,203.5 400.0,203.8 401.0,204.2 402.0,204.6 403.0,205.0 404.0,205.4 405.0,205.8 406.0,206.2 407.0,206.7 408.0,207.1 409.0,207.6 410.0,208.1 411.0,208.6 412.0,209.2 413.0,209.7 414.0,210.3 415.0,210.9 416.0,211.5 417.0,212.0 418.0,212.6 419.0,213.1 420.0,213.7 421.0,214.3 422.0,215.0 423.0,215.8 424.0,216.5 425.0,217.2 426.0,217.8 427.0,218.4 428.0,218.9 429.0,219.4 430.0,219.7 431.0,219.8 432.0,219.8 433.0,219.7 434.0,219.4 435.0,219.0 436.0,218.5 437.0,218.0 438.0,217.5 439.0,217.0 440.0,216.5 441.0,216.1 442.0,215.8 443.0,215.5 444.0,215.2 445.0,214.9 446.0,214.6 447.0,214.2 448.0,213.9 449.0,213.5 450.0,213.2 451.0,212.8 452.0,212.6 453.0,212.6 454.0,212.8 455.0,213.1 456.0,213.8 457.0,214.9 458.0,216.2 459.0,217.6 460.0,219.0 461.0,220.5 462.0,222.0 463.0,223.5 464.0,225.2 465.0,226.8 466.0,228.4 467.0,229.7 468.0,230.8 469.0,231.9 470.0,232.9 471.0,233.8 472.0,234.7 473.0,235.4 474.0,236.0 475.0,236.6 476.0,237.2 477.0,237.7 478.0,238.1 479.0,238.4 480.0,238.8 481.0,239.1 482.0,239.3 483.0,239.5 484.0,239.7 485.0,239.9 486.0,240.1 487.0,240.2 488.0,240.4 489.0,240.5 490.0,240.7 491.0,240.8 492.0,240.8 493.0,240.8 494.0,240.6 495.0,240.4 496.0,240.1 497.0,239.8 498.0,239.5 499.0,239.1 500.0,238.8 501.0,238.4 502.0,238.1 503.0,237.6 504.0,237.2 505.0,236.7 506.0,236.1 507.0,235.4 508.0,234.6 509.0,233.7 510.0,232.7 511.0,231.7 512.0,230.7 513.0,229.7 514.0,228.7 515.0,227.8 516.0,226.9 517.0,226.1 518.0,225.3 519.0,224.5 520.0,223.8 521.0,223.2 522.0,222.8 523.0,222.3 524.0,221.9 525.0,221.5 526.0,221.1 527.0,220.7 528.0,220.1 529.0,219.5 530.0,219.0 531.0,218.8 532.0,218.7 533.0,218.6 534.0,218.6 535.0,218.6 536.0,218.6 537.0,218.6 538.0,218.6 539.0,218.7 540.0,218.7 541.0,218.8 542.0,218.9 543.0,219.0 544.0,219.1 545.0,219.3 546.0,219.4 547.0,219.6 548.0,219.7 549.0,219.9 550.0,220.2 551.0,220.4 552.0,220.7 553.0,221.0 554.0,221.3 555.0,221.6 556.0,221.9 557.0,222.3 558.0,222.6 559.0,223.0 560.0,223.3 561.0,223.6 562.0,224.0 563.0,224.3 564.0,224.7 565.0,225.0 566.0,225.4 567.0,225.8 568.0,226.2 569.0,226.6 570.0,226.9 571.0,227.3 572.0,227.7 573.0,228.1 574.0,228.5 575.0,228.9 576.0,229.2 577.0,229.4 578.0,229.6 579.0,229.6 580.0,229.6 581.0,229.6 582.0,229.6 583.0,229.5 584.0,229.5 585.0,229.5 586.0,229.6 587.0,229.6 588.0,229.7 589.0,229.7 590.0,229.7 591.0,229.7 592.0,229.8 593.0,229.8 594.0,229.8 595.0,229.8 596.0,229.8 597.0,229.8 598.0,229.8 599.0,229.8 600.0,229.8 601.0,229.8 602.0,229.9 603.0,229.9 604.0,229.9 605.0,229.9 606.0,230.0 607.0,230.0 608.0,230.0 609.0,230.1 610.0,230.1 611.0,230.2 612.0,230.3 613.0,230.4 614.0,230.5 615.0,230.6 616.0,230.7 617.0,230.8 618.0,231.0 619.0,231.1 620.0,231.2 621.0,231.4 622.0,231.5 623.0,231.7 624.0,231.8 625.0,232.0 626.0,232.2 627.0,232.3 628.0,232.5 629.0,232.7 630.0,232.9 631.0,233.1 632.0,233.2" stroke="#10f0ff" stroke-width="3.2" stroke-opacity="1.00"/>
<path d="M24.0,84.5 25.0,84.4 26.0,95.8 27.0,95.4 28.0,101.5 29.0,104.9 30.0,109.1 31.0,111.8 32.0,113.0 33.0,124.2 34.0,134.6 35.0,124.3 36.0,136.9 37.0,147.8 38.0,147.7 39.0,158.5 40.0,178.8 41.0,185.2 42.0,197.5 43.0,202.8 44.0,209.0 45.0,215.6 46.0,215.5 47.0,209.0 48.0,200.4 49.0,188.3 50.0,175.7 51.0,161.5 52.0,148.2 53.0,136.8 54.0,126.2 55.0,116.6 56.0,107.5 57.0,98.7 58.0,89.2 59.0,79.1 60.0,69.8 61.0,61.3 62.0,54.6 63.0,49.6 64.0,46.0 65.0,42.4 66.0,38.2 67.0,34.8 68.0,37.1 69.0,43.3 70.0,49.7 71.0,55.1 72.0,58.7 73.0,60.0 74.0,59.6 75.0,58.6 76.0,56.6 77.0,53.8 78.0,50.9 79.0,48.1 80.0,45.7 81.0,43.4 82.0,40.6 83.0,38.0 84.0,36.9 85.0,39.3 86.0,43.3 87.0,47.4 88.0,50.9 89.0,54.2 90.0,57.3 91.0,60.3 92.0,63.5 93.0,67.1 94.0,71.2 95.0,75.9 96.0,81.0 97.0,86.8 98.0,92.3 99.0,97.3 100.0,102.1 101.0,106.5 102.0,111.1 103.0,114.1 104.0,116.0 105.0,118.0 106.0,119.0 107.0,118.5 108.0,115.1 109.0,110.4 110.0,106.9 111.0,103.4 112.0,101.1 113.0,100.8 114.0,101.9 115.0,103.1 116.0,103.2 117.0,101.4 118.0,98.4 119.0,95.1 120.0,92.3 121.0,89.9 122.0,87.6 123.0,85.9 124.0,85.1 125.0,85.0 126.0,85.1 127.0,85.3 128.0,85.6 129.0,85.9 130.0,86.3 131.0,86.9 132.0,87.8 133.0,88.7 134.0,89.7 135.0,90.9 136.0,92.1 137.0,93.5 138.0,95.3 139.0,97.8 140.0,100.6 141.0,103.4 142.0,106.2 143.0,109.3 144.0,112.5 145.0,115.4 146.0,117.9 147.0,120.1 148.0,122.0 149.0,123.8 150.0,125.3 151.0,126.5 152.0,127.6 153.0,128.7 154.0,130.0 155.0,132.1 156.0,135.3 157.0,139.0 158.0,143.0 159.0,148.1 160.0,154.0 161.0,158.3 162.0,161.1 163.0,162.7 164.0,162.2 165.0,160.1 166.0,157.3 167.0,154.9 168.0,152.9 169.0,151.1 170.0,149.9 171.0,150.0 172.0,150.7 173.0,150.7 174.0,150.0 175.0,149.3 176.0,148.5 177.0,146.1 178.0,142.6 179.0,139.4 180.0,136.9 181.0,134.4 182.0,132.2 183.0,130.1 184.0,128.0 185.0,126.0 186.0,125.0 187.0,124.8 188.0,125.0 189.0,125.4 190.0,125.8 191.0,126.3 192.0,126.9 193.0,127.8 194.0,128.9 195.0,130.2 196.0,131.8 197.0,133.6 198.0,135.5 199.0,137.7 200.0,140.3 201.0,143.2 202.0,146.1 203.0,148.9 204.0,151.7 205.0,154.2 206.0,156.6 207.0,158.1 208.0,157.8 209.0,156.6 210.0,155.8 211.0,155.4 212.0,154.9 213.0,154.3 214.0,154.0 215.0,154.5 216.0,155.8 217.0,157.7 218.0,159.9 219.0,161.9 220.0,163.6 221.0,165.4 222.0,167.2 223.0,169.1 224.0,171.0 225.0,172.4 226.0,172.9 227.0,171.7 228.0,169.7 229.0,167.8 230.0,166.4 231.0,164.8 232.0,163.2 233.0,161.8 234.0,160.6 235.0,159.5 236.0,158.9 237.0,158.7 238.0,159.0 239.0,159.7 240.0,160.7 241.0,161.8 242.0,163.0 243.0,164.3 244.0,165.4 245.0,166.4 246.0,167.3 247.0,168.3 248.0,169.4 249.0,170.4 250.0,171.3 251.0,172.1 252.0,172.7 253.0,173.1 254.0,173.1 255.0,172.6 256.0,171.9 257.0,171.0 258.0,170.1 259.0,169.4 260.0,168.8 261.0,168.2 262.0,167.8 263.0,167.6 264.0,167.7 265.0,168.0 266.0,168.4 267.0,169.0 268.0,169.8 269.0,170.6 270.0,171.3 271.0,172.2 272.0,173.0 273.0,174.0 274.0,175.2 275.0,176.6 276.0,178.1 277.0,179.9 278.0,182.3 279.0,185.5 280.0,189.0 281.0,193.1 282.0,197.8 283.0,202.4 284.0,206.8 285.0,210.5 286.0,213.9 287.0,216.6 288.0,217.0 289.0,217.0 290.0,216.7 291.0,214.8 292.0,211.3 293.0,207.5 294.0,202.7 295.0,198.0 296.0,194.2 297.0,190.6 298.0,187.3 299.0,184.0 300.0,180.8 301.0,178.1 302.0,175.9 303.0,174.0 304.0,172.3 305.0,171.1 306.0,170.3 307.0,169.6 308.0,169.0 309.0,168.6 310.0,168.4 311.0,168.3 312.0,168.3 313.0,168.4 314.0,168.5 315.0,168.6 316.0,168.7 317.0,168.9 318.0,169.2 319.0,169.6 320.0,170.0 321.0,170.4 322.0,170.9 323.0,171.3 324.0,171.8 325.0,172.4 326.0,173.0 327.0,173.6 328.0,174.3 329.0,175.0 330.0,175.8 331.0,176.5 332.0,177.2 333.0,178.0 334.0,178.7 335.0,179.5 336.0,180.2 337.0,180.9 338.0,181.6 339.0,182.3 340.0,182.9 341.0,183.5 342.0,184.1 343.0,184.7 344.0,185.3 345.0,186.0 346.0,186.6 347.0,187.3 348.0,188.1 349.0,188.8 350.0,189.7 351.0,190.5 352.0,191.3 353.0,192.1 354.0,192.9 355.0,193.6 356.0,194.3 357.0,194.9 358.0,195.5 359.0,196.1 360.0,196.6 361.0,197.0 362.0,197.5 363.0,197.9 364.0,198.4 365.0,198.8 366.0,199.2 367.0,199.6 368.0,200.0 369.0,200.4 370.0,200.8 371.0,201.1 372.0,201.5 373.0,201.7 374.0,201.9 375.0,202.1 376.0,202.3 377.0,202.5 378.0,202.6 379.0,202.7 380.0,202.8 381.0,203.0 382.0,203.1 383.0,203.2 384.0,203.3 385.0,203.4 386.0,203.5 387.0,203.6 388.0,203.7 389.0,203.8 390.0,203.9 391.0,204.0 392.0,204.1 393.0,204.2 394.0,204.4 395.0,204.6 396.0,204.8 397.0,205.0 398.0,205.3 399.0,205.5 400.0,205.8 401.0,206.2 402.0,206.5 403.0,206.8 404.0,207.2 405.0,207.5 406.0,207.9 407.0,208.3 408.0,208.7 409.0,209.2 410.0,209.6 411.0,210.1 412.0,210.7 413.0,211.2 414.0,211.7 415.0,212.3 416.0,212.8 417.0,213.4 418.0,213.9 419.0,214.4 420.0,215.0 421.0,215.6 422.0,216.3 423.0,216.9 424.0,217.6 425.0,218.3 426.0,218.9 427.0,219.5 428.0,219.9 429.0,220.3 430.0,220.6 431.0,220.8 432.0,220.8 433.0,220.7 434.0,220.5 435.0,220.2 436.0,219.9 437.0,219.6 438.0,219.2 439.0,218.8 440.0,218.5 441.0,218.1 442.0,217.9 443.0,217.6 444.0,217.3 445.0,217.0 446.0,216.7 447.0,216.3 448.0,215.9 449.0,215.4 450.0,215.0 451.0,214.6 452.0,214.3 453.0,214.1 454.0,214.0 455.0,214.1 456.0,214.4 457.0,214.9 458.0,215.7 459.0,216.5 460.0,217.4 461.0,218.4 462.0,219.4 463.0,220.4 464.0,221.6 465.0,222.8 466.0,224.0 467.0,225.1 468.0,226.2 469.0,227.2 470.0,228.1 471.0,229.0 472.0,229.9 473.0,230.7 474.0,231.5 475.0,232.2 476.0,232.9 477.0,233.6 478.0,234.1 479.0,234.5 480.0,235.0 481.0,235.3 482.0,235.7 483.0,236.0 484.0,236.3 485.0,236.6 486.0,236.8 487.0,237.1 488.0,237.3 489.0,237.5 490.0,237.7 491.0,237.9 492.0,238.0 493.0,238.1 494.0,238.1 495.0,238.0 496.0,237.9 497.0,237.7 498.0,237.5 499.0,237.3 500.0,237.0 501.0,236.8 502.0,236.5 503.0,236.2 504.0,235.9 505.0,235.5 506.0,235.1 507.0,234.5 508.0,233.9 509.0,233.1 510.0,232.4 511.0,231.6 512.0,230.8 513.0,230.0 514.0,229.3 515.0,228.6 516.0,227.9 517.0,227.3 518.0,226.7 519.0,226.1 520.0,225.6 521.0,225.1 522.0,224.7 523.0,224.4 524.0,224.1 525.0,223.8 526.0,223.4 527.0,223.1 528.0,222.7 529.0,222.3 530.0,222.0 531.0,221.8 532.0,221.7 533.0,221.7 534.0,221.6 535.0,221.7 536.0,221.7 537.0,221.7 538.0,221.8 539.0,221.9 540.0,221.9 541.0,222.0 542.0,222.1 543.0,222.3 544.0,222.4 545.0,222.6 546.0,222.7 547.0,222.9 548.0,223.1 549.0,223.3 550.0,223.5 551.0,223.8 552.0,224.1 553.0,224.4 554.0,224.8 555.0,225.1 556.0,225.5 557.0,225.9 558.0,226.2 559.0,226.6 560.0,226.9 561.0,227.3 562.0,227.6 563.0,228.0 564.0,228.3 565.0,228.6 566.0,229.0 567.0,229.4 568.0,229.7 569.0,230.1 570.0,230.4 571.0,230.8 572.0,231.1 573.0,231.5 574.0,231.8 575.0,232.1 576.0,232.4 577.0,232.6 578.0,232.7 579.0,232.8 580.0,232.8 581.0,232.9 582.0,232.9 583.0,233.0 584.0,233.0 585.0,233.1 586.0,233.2 587.0,233.2 588.0,233.3 589.0,233.3 590.0,233.4 591.0,233.4 592.0,233.4 593.0,233.4 594.0,233.4 595.0,233.4 596.0,233.4 597.0,233.4 598.0,233.4 599.0,233.4 600.0,233.4 601.0,233.4 602.0,233.4 603.0,233.5 604.0,233.5 605.0,233.5 606.0,233.5 607.0,233.5 608.0,233.5 609.0,233.6 610.0,233.6 611.0,233.6 612.0,233.7 613.0,233.7 614.0,233.8 615.0,233.9 616.0,234.0 617.0,234.1 618.0,234.2 619.0,234.3 620.0,234.4 621.0,234.5 622.0,234.7 623.0,234.8 624.0,234.9 625.0,235.1 626.0,235.2 627.0,235.4 628.0,235.6 629.0,235.7 630.0,235.9 631.0,236.1 632.0,236.2" stroke="#10f0e0" stroke-width="3.2" stroke-opacity="1.00"/>
<path d="M24.0,67.2 25.0,68.7 26.0,72.6 27.0,73.0 28.0,77.2 29.0,76.4 30.0,76.5 31.0,81.9 32.0,85.7 33.0,86.7 34.0,93.9 35.0,98.5 36.0,104.8 37.0,107.6 38.0,112.1 39.0,121.5 40.0,130.3 41.0,138.8 42.0,145.9 43.0,152.0 44.0,159.3 45.0,166.8 46.0,171.8 47.0,171.3 48.0,166.0 49.0,158.1 50.0,150.2 51.0,144.0 52.0,138.3 53.0,129.9 54.0,120.5 55.0,111.9 56.0,103.5 57.0,94.9 58.0,85.1 59.0,74.6 60.0,64.8 61.0,55.6 62.0,48.5 63.0,42.8 64.0,38.0 65.0,32.6 66.0,26.5 67.0,21.1 68.0,22.6 69.0,29.1 70.0,35.9 71.0,41.4 72.0,45.4 73.0,47.6 74.0,48.3 75.0,48.2 76.0,46.7 77.0,44.3 78.0,41.7 79.0,38.9 80.0,36.5 81.0,34.2 82.0,31.1 83.0,28.0 84.0,26.4 85.0,28.8 86.0,32.9 87.0,37.2 88.0,40.7 89.0,43.9 90.0,46.8 91.0,49.8 92.0,53.1 93.0,56.9 94.0,61.5 95.0,66.7 96.0,72.3 97.0,79.0 98.0,85.2 99.0,90.7 100.0,95.7 101.0,100.3 102.0,104.9 103.0,107.6 104.0,108.6 105.0,109.5 106.0,109.9 107.0,109.8 108.0,106.5 109.0,101.8 110.0,98.5 111.0,95.5 112.0,94.0 113.0,94.8 114.0,97.2 115.0,99.6 116.0,100.5 117.0,99.0 118.0,96.0 119.0,92.5 120.0,89.5 121.0,87.0 122.0,84.6 123.0,82.6 124.0,81.8 125.0,81.8 126.0,81.8 127.0,81.9 128.0,82.0 129.0,82.1 130.0,82.3 131.0,82.5 132.0,82.9 133.0,83.4 134.0,83.9 135.0,84.5 136.0,85.3 137.0,86.1 138.0,87.6 139.0,90.1 140.0,93.1 141.0,96.1 142.0,99.1 143.0,102.5 144.0,105.9 145.0,109.0 146.0,111.5 147.0,113.5 148.0,115.3 149.0,116.9 150.0,118.0 151.0,118.8 152.0,119.4 153.0,120.1 154.0,121.0 155.0,122.9 156.0,126.2 157.0,130.2 158.0,134.6 159.0,140.5 160.0,147.5 161.0,153.0 162.0,156.8 163.0,159.4 164.0,159.3 165.0,157.1 166.0,154.2 167.0,151.7 168.0,149.9 169.0,148.2 170.0,147.4 171.0,148.1 172.0,149.6 173.0,150.2 174.0,150.0 175.0,149.7 176.0,149.4 177.0,146.9 178.0,143.2 179.0,139.8 180.0,137.1 181.0,134.6 182.0,132.2 183.0,130.0 184.0,127.8 185.0,125.7 186.0,124.7 187.0,124.8 188.0,125.3 189.0,125.9 190.0,126.6 191.0,127.3 192.0,128.2 193.0,129.3 194.0,130.6 195.0,132.0 196.0,133.6 197.0,135.4 198.0,137.4 199.0,139.6 200.0,142.4 201.0,145.5 202.0,148.6 203.0,151.6 204.0,154.6 205.0,157.3 206.0,159.8 207.0,161.2 208.0,160.4 209.0,158.6 210.0,157.2 211.0,156.4 212.0,155.6 213.0,154.9 214.0,154.7 215.0,155.3 216.0,157.0 217.0,159.3 218.0,161.8 219.0,164.1 220.0,165.8 221.0,167.7 222.0,169.6 223.0,171.3 224.0,172.9 225.0,174.0 226.0,174.2 227.0,172.5 228.0,169.7 229.0,167.3 230.0,165.5 231.0,163.7 232.0,162.0 233.0,160.7 234.0,159.5 235.0,158.5 236.0,157.8 237.0,157.6 238.0,157.9 239.0,158.6 240.0,159.5 241.0,160.7 242.0,162.0 243.0,163.3 244.0,164.5 245.0,165.5 246.0,166.4 247.0,167.5 248.0,168.6 249.0,169.6 250.0,170.6 251.0,171.4 252.0,172.0 253.0,172.3 254.0,172.4 255.0,172.0 256.0,171.3 257.0,170.5 258.0,169.7 259.0,168.9 260.0,168.3 261.0,167.7 262.0,167.2 263.0,166.8 264.0,166.6 265.0,166.5 266.0,166.5 267.0,166.8 268.0,167.2 269.0,167.6 270.0,168.1 271.0,168.6 272.0,169.2 273.0,169.8 274.0,170.7 275.0,171.9 276.0,173.2 277.0,174.8 278.0,177.2 279.0,180.6 280.0,184.5 281.0,189.1 282.0,194.3 283.0,199.4 284.0,204.5 285.0,208.9 286.0,213.1 287.0,216.5 288.0,217.0 289.0,217.0 290.0,216.9 291.0,215.2 292.0,211.7 293.0,207.8 294.0,202.8 295.0,198.0 296.0,194.1 297.0,190.5 298.0,187.1 299.0,183.8 300.0,180.6 301.0,178.1 302.0,175.9 303.0,174.0 304.0,172.5 305.0,171.4 306.0,170.6 307.0,169.9 308.0,169.3 309.0,168.9 310.0,168.8 311.0,168.8 312.0,168.8 313.0,168.9 314.0,169.0 315.0,169.1 316.0,169.2 317.0,169.4 318.0,169.7 319.0,170.1 320.0,170.6 321.0,171.1 322.0,171.6 323.0,172.1 324.0,172.6 325.0,173.2 326.0,173.8 327.0,174.5 328.0,175.2 329.0,175.9 330.0,176.6 331.0,177.3 332.0,178.0 333.0,178.8 334.0,179.6 335.0,180.3 336.0,181.1 337.0,181.8 338.0,182.5 339.0,183.2 340.0,183.8 341.0,184.4 342.0,185.0 343.0,185.6 344.0,186.2 345.0,186.9 346.0,187.5 347.0,188.2 348.0,188.9 349.0,189.7 350.0,190.5 351.0,191.3 352.0,192.1 353.0,192.8 354.0,193.6 355.0,194.4 356.0,195.1 357.0,195.7 358.0,196.3 359.0,196.9 360.0,197.4 361.0,197.9 362.0,198.4 363.0,198.8 364.0,199.3 365.0,199.7 366.0,200.1 367.0,200.6 368.0,201.0 369.0,201.4 370.0,201.7 371.0,202.1 372.0,202.4 373.0,202.7 374.0,203.0 375.0,203.3 376.0,203.5 377.0,203.7 378.0,203.9 379.0,204.0 380.0,204.2 381.0,204.3 382.0,204.5 383.0,204.6 384.0,204.8 385.0,204.9 386.0,205.0 387.0,205.1 388.0,205.2 389.0,205.4 390.0,205.5 391.0,205.6 392.0,205.8 393.0,206.0 394.0,206.1 395.0,206.3 396.0,206.5 397.0,206.7 398.0,207.0 399.0,207.2 400.0,207.5 401.0,207.7 402.0,208.0 403.0,208.3 404.0,208.6 405.0,208.9 406.0,209.2 407.0,209.6 408.0,210.0 409.0,210.4 410.0,210.9 411.0,211.4 412.0,211.9 413.0,212.4 414.0,212.9 415.0,213.5 416.0,214.0 417.0,214.5 418.0,215.0 419.0,215.5 420.0,216.0 421.0,216.6 422.0,217.2 423.0,217.9 424.0,218.5 425.0,219.2 426.0,219.8 427.0,220.3 428.0,220.8 429.0,221.1 430.0,221.4 431.0,221.6 432.0,221.6 433.0,221.5 434.0,221.4 435.0,221.2 436.0,221.0 437.0,220.8 438.0,220.5 439.0,220.3 440.0,220.0 441.0,219.8 442.0,219.5 443.0,219.3 444.0,219.0 445.0,218.8 446.0,218.4 447.0,218.0 448.0,217.5 449.0,217.0 450.0,216.5 451.0,216.1 452.0,215.6 453.0,215.3 454.0,215.0 455.0,214.8 456.0,214.8 457.0,215.0 458.0,215.3 459.0,215.7 460.0,216.1 461.0,216.7 462.0,217.2 463.0,217.8 464.0,218.6 465.0,219.5 466.0,220.5 467.0,221.4 468.0,222.4 469.0,223.3 470.0,224.2 471.0,225.1 472.0,226.0 473.0,226.9 474.0,227.8 475.0,228.6 476.0,229.5 477.0,230.2 478.0,230.8 479.0,231.4 480.0,231.8 481.0,232.3 482.0,232.7 483.0,233.1 484.0,233.5 485.0,233.9 486.0,234.2 487.0,234.4 488.0,234.7 489.0,235.0 490.0,235.3 491.0,235.5 492.0,235.7 493.0,235.9 494.0,236.0 495.0,236.0 496.0,236.0 497.0,235.9 498.0,235.8 499.0,235.7 500.0,235.6 501.0,235.4 502.0,235.2 503.0,235.0 504.0,234.8 505.0,234.5 506.0,234.2 507.0,233.8 508.0,233.3 509.0,232.7 510.0,232.1 511.0,231.5 512.0,230.9 513.0,230.3 514.0,229.7 515.0,229.3 516.0,228.8 517.0,228.3 518.0,227.8 519.0,227.4 520.0,227.0 521.0,226.6 522.0,226.3 523.0,226.1 524.0,225.8 525.0,225.6 526.0,225.3 527.0,225.1 528.0,224.8 529.0,224.6 530.0,224.4 531.0,224.2 532.0,224.2 533.0,224.1 534.0,224.1 535.0,224.2 536.0,224.2 537.0,224.3 538.0,224.3 539.0,224.4 540.0,224.5 541.0,224.7 542.0,224.8 543.0,224.9 544.0,225.1 545.0,225.2 546.0,225.4 547.0,225.6 548.0,225.8 549.0,226.0 550.0,226.3 551.0,226.6 552.0,226.9 553.0,227.3 554.0,227.7 555.0,228.0 556.0,228.4 557.0,228.8 558.0,229.2 559.0,229.6 560.0,229.9 561.0,230.3 562.0,230.6 563.0,230.9 564.0,231.3 565.0,231.6 566.0,231.9 567.0,232.3 568.0,232.6 569.0,232.9 570.0,233.3 571.0,233.6 572.0,233.9 573.0,234.2 574.0,234.4 575.0,234.7 576.0,234.9 577.0,235.1 578.0,235.2 579.0,235.4 580.0,235.5 581.0,235.6 582.0,235.7 583.0,235.8 584.0,235.9 585.0,236.0 586.0,236.1 587.0,236.1 588.0,236.2 589.0,236.3 590.0,236.3 591.0,236.3 592.0,236.3 593.0,236.3 594.0,236.3 595.0,236.3 596.0,236.4 597.0,236.4 598.0,236.4 599.0,236.4 600.0,236.4 601.0,236.4 602.0,236.4 603.0,236.4 604.0,236.4 605.0,236.4 606.0,236.4 607.0,236.4 608.0,236.4 609.0,236.4 610.0,236.4 611.0,236.4 612.0,236.5 613.0,236.5 614.0,236.5 615.0,236.6 616.0,236.7 617.0,236.7 618.0,236.8 619.0,236.9 620.0,237.0 621.0,237.1 622.0,237.2 623.0,237.4 624.0,237.5 625.0,237.6 626.0,237.8 627.0,237.9 628.0,238.0 629.0,238.2 630.0,238.3 631.0,238.5 632.0,238.7" stroke="#10f0a0" stroke-width="3.2" stroke-opacity="1.00"/>
<path d="M24.0,52.8 25.0,53.6 26.0,50.5 27.0,48.7 28.0,49.0 29.0,51.5 30.0,52.2 31.0,51.9 32.0,54.7 33.0,60.5 34.0,63.1 35.0,63.6 36.0,69.0 37.0,74.8 38.0,80.1 39.0,83.8 40.0,88.3 41.0,94.0 42.0,100.0 43.0,107.9 44.0,116.3 45.0,125.0 46.0,134.1 47.0,138.4 48.0,135.8 49.0,131.7 50.0,127.9 51.0,128.8 52.0,129.9 53.0,124.4 54.0,116.2 55.0,108.7 56.0,101.1 57.0,92.9 58.0,83.1 59.0,72.6 60.0,62.5 61.0,53.1 62.0,45.8 63.0,39.8 64.0,34.4 65.0,28.3 66.0,21.3 67.0,15.0 68.0,16.2 69.0,22.8 70.0,29.7 71.0,35.3 72.0,39.5 73.0,42.1 74.0,43.2 75.0,43.6 76.0,42.4 77.0,40.1 78.0,37.6 79.0,34.8 80.0,32.4 81.0,30.1 82.0,26.9 83.0,23.6 84.0,21.7 85.0,24.1 86.0,28.3 87.0,32.7 88.0,36.2 89.0,39.4 90.0,42.2 91.0,45.2 92.0,48.5 93.0,52.4 94.0,57.2 95.0,62.5 96.0,68.5 97.0,75.5 98.0,82.0 99.0,87.7 100.0,92.9 101.0,97.5 102.0,102.2 103.0,104.7 104.0,105.3 105.0,105.7 106.0,105.9 107.0,106.0 108.0,102.7 109.0,98.0 110.0,94.8 111.0,92.0 112.0,90.8 113.0,92.1 114.0,95.0 115.0,98.0 116.0,99.3 117.0,98.0 118.0,94.9 119.0,91.3 120.0,88.3 121.0,85.8 122.0,83.2 123.0,81.2 124.0,80.4 125.0,80.4 126.0,80.4 127.0,80.4 128.0,80.4 129.0,80.4 130.0,80.5 131.0,80.5 132.0,80.7 133.0,81.0 134.0,81.3 135.0,81.7 136.0,82.2 137.0,82.8 138.0,84.2 139.0,86.7 140.0,89.8 141.0,92.8 142.0,95.9 143.0,99.4 144.0,103.0 145.0,106.2 146.0,108.7 147.0,110.7 148.0,112.4 149.0,113.8 150.0,114.8 151.0,115.4 152.0,115.8 153.0,116.3 154.0,117.0 155.0,118.8 156.0,122.1 157.0,126.3 158.0,130.9 159.0,137.1 160.0,144.7 161.0,150.6 162.0,154.8 163.0,157.9 164.0,158.0 165.0,155.8 166.0,152.8 167.0,150.3 168.0,148.6 169.0,147.0 170.0,146.3 171.0,147.2 172.0,149.1 173.0,150.0 174.0,150.0 175.0,149.9 176.0,149.7 177.0,147.3 178.0,143.5 179.0,140.0 180.0,137.3 181.0,134.6 182.0,132.2 183.0,130.0 184.0,127.7 185.0,125.6 186.0,124.6 187.0,124.8 188.0,125.4 189.0,126.1 190.0,126.9 191.0,127.8 192.0,128.8 193.0,130.0 194.0,131.4 195.0,132.8 196.0,134.4 197.0,136.2 198.0,138.2 199.0,140.5 200.0,143.4 201.0,146.6 202.0,149.7 203.0,152.8 204.0,156.0 205.0,158.7 206.0,161.2 207.0,162.6 208.0,161.6 209.0,159.5 210.0,157.8 211.0,156.8 212.0,155.9 213.0,155.2 214.0,154.9 215.0,155.6 216.0,157.5 217.0,160.0 218.0,162.7 219.0,165.0 220.0,166.8 221.0,168.7 222.0,170.6 223.0,172.3 224.0,173.7 225.0,174.6 226.0,174.7 227.0,172.8 228.0,169.7 229.0,167.1 230.0,165.1 231.0,163.1 232.0,161.4 233.0,160.1 234.0,159.1 235.0,158.1 236.0,157.4 237.0,157.1 238.0,157.4 239.0,158.0 240.0,159.0 241.0,160.2 242.0,161.5 243.0,162.8 244.0,164.1 245.0,165.1 246.0,166.1 247.0,167.1 248.0,168.2 249.0,169.2 250.0,170.2 251.0,171.0 252.0,171.7 253.0,172.0 254.0,172.0 255.0,171.7 256.0,171.1 257.0,170.3 258.0,169.5 259.0,168.7 260.0,168.1 261.0,167.5 262.0,167.0 263.0,166.5 264.0,166.1 265.0,165.8 266.0,165.7 267.0,165.8 268.0,166.0 269.0,166.3 270.0,166.6 271.0,167.0 272.0,167.4 273.0,168.0 274.0,168.8 275.0,169.8 276.0,171.1 277.0,172.6 278.0,175.0 279.0,178.5 280.0,182.5 281.0,187.3 282.0,192.7 283.0,198.0 284.0,203.4 285.0,208.2 286.0,212.8 287.0,216.4 288.0,217.0 289.0,217.0 290.0,217.0 291.0,215.3 292.0,211.8 293.0,207.9 294.0,202.9 295.0,198.0 296.0,194.0 297.0,190.4 298.0,187.0 299.0,183.7 300.0,180.6 301.0,178.0 302.0,175.9 303.0,174.1 304.0,172.5 305.0,171.5 306.0,170.7 307.0,170.0 308.0,169.5 309.0,169.1 310.0,169.0 311.0,169.0 312.0,169.0 313.0,169.1 314.0,169.2 315.0,169.3 316.0,169.4 317.0,169.7 318.0,170.0 319.0,170.4 320.0,170.9 321.0,171.4 322.0,171.9 323.0,172.4 324.0,173.0 325.0,173.6 326.0,174.2 327.0,174.9 328.0,175.5 329.0,176.2 330.0,176.9 331.0,177.6 332.0,178.4 333.0,179.1 334.0,179.9 335.0,180.7 336.0,181.5 337.0,182.2 338.0,182.9 339.0,183.6 340.0,184.2 341.0,184.8 342.0,185.4 343.0,186.0 344.0,186.6 345.0,187.3 346.0,187.9 347.0,188.6 348.0,189.3 349.0,190.1 350.0,190.8 351.0,191.6 352.0,192.4 353.0,193.2 354.0,193.9 355.0,194.7 356.0,195.4 357.0,196.1 358.0,196.7 359.0,197.2 360.0,197.8 361.0,198.3 362.0,198.7 363.0,199.2 364.0,199.7 365.0,200.1 366.0,200.6 367.0,201.0 368.0,201.4 369.0,201.8 370.0,202.2 371.0,202.5 372.0,202.9 373.0,203.2 374.0,203.5 375.0,203.8 376.0,204.0 377.0,204.2 378.0,204.4 379.0,204.6 380.0,204.8 381.0,205.0 382.0,205.1 383.0,205.3 384.0,205.4 385.0,205.5 386.0,205.7 387.0,205.8 388.0,205.9 389.0,206.1 390.0,206.2 391.0,206.4 392.0,206.5 393.0,206.7 394.0,206.9 395.0,207.1 396.0,207.3 397.0,207.5 398.0,207.7 399.0,208.0 400.0,208.2 401.0,208.4 402.0,208.7 403.0,209.0 404.0,209.2 405.0,209.5 406.0,209.8 407.0,210.2 408.0,210.6 409.0,211.0 410.0,211.4 411.0,211.9 412.0,212.4 413.0,212.9 414.0,213.4 415.0,214.0 416.0,214.5 417.0,215.0 418.0,215.5 419.0,216.0 420.0,216.5 421.0,217.1 422.0,217.7 423.0,218.3 424.0,218.9 425.0,219.6 426.0,220.1 427.0,220.7 428.0,221.1 429.0,221.5 430.0,221.8 431.0,221.9 432.0,221.9 433.0,221.9 434.0,221.8 435.0,221.7 436.0,221.5 437.0,221.3 438.0,221.2 439.0,220.9 440.0,220.7 441.0,220.5 442.0,220.3 443.0,220.0 444.0,219.8 445.0,219.5 446.0,219.2 447.0,218.7 448.0,218.3 449.0,217.7 450.0,217.2 451.0,216.7 452.0,216.2 453.0,215.8 454.0,215.4 455.0,215.2 456.0,215.0 457.0,215.0 458.0,215.1 459.0,215.3 460.0,215.6 461.0,215.9 462.0,216.2 463.0,216.7 464.0,217.3 465.0,218.1 466.0,218.9 467.0,219.8 468.0,220.7 469.0,221.6 470.0,222.4 471.0,223.3 472.0,224.2 473.0,225.2 474.0,226.1 475.0,227.1 476.0,227.9 477.0,228.7 478.0,229.4 479.0,229.9 480.0,230.5 481.0,231.0 482.0,231.4 483.0,231.9 484.0,232.3 485.0,232.6 486.0,233.0 487.0,233.3 488.0,233.6 489.0,233.9 490.0,234.2 491.0,234.5 492.0,234.7 493.0,234.9 494.0,235.1 495.0,235.2 496.0,235.2 497.0,235.2 498.0,235.1 499.0,235.0 500.0,234.9 501.0,234.8 502.0,234.6 503.0,234.5 504.0,234.3 505.0,234.1 506.0,233.9 507.0,233.5 508.0,233.0 509.0,232.5 510.0,232.0 511.0,231.4 512.0,230.9 513.0,230.4 514.0,229.9 515.0,229.5 516.0,229.1 517.0,228.7 518.0,228.4 519.0,228.0 520.0,227.6 521.0,227.3 522.0,227.1 523.0,226.8 524.0,226.6 525.0,226.4 526.0,226.2 527.0,226.0 528.0,225.8 529.0,225.6 530.0,225.4 531.0,225.3 532.0,225.3 533.0,225.2 534.0,225.2 535.0,225.3 536.0,225.3 537.0,225.4 538.0,225.5 539.0,225.6 540.0,225.7 541.0,225.8 542.0,226.0 543.0,226.1 544.0,226.3 545.0,226.4 546.0,226.6 547.0,226.8 548.0,227.0 549.0,227.2 550.0,227.5 551.0,227.8 552.0,228.2 553.0,228.5 554.0,228.9 555.0,229.3 556.0,229.7 557.0,230.1 558.0,230.5 559.0,230.9 560.0,231.3 561.0,231.6 562.0,231.9 563.0,232.2 564.0,232.6 565.0,232.9 566.0,233.2 567.0,233.6 568.0,233.9 569.0,234.2 570.0,234.5 571.0,234.8 572.0,235.1 573.0,235.4 574.0,235.6 575.0,235.9 576.0,236.1 577.0,236.2 578.0,236.4 579.0,236.5 580.0,236.6 581.0,236.8 582.0,236.9 583.0,237.0 584.0,237.2 585.0,237.3 586.0,237.4 587.0,237.4 588.0,237.5 589.0,237.6 590.0,237.6 591.0,237.7 592.0,237.7 593.0,237.7 594.0,237.7 595.0,237.7 596.0,237.7 597.0,237.7 598.0,237.7 599.0,237.7 600.0,237.7 601.0,237.7 602.0,237.7 603.0,237.7 604.0,237.7 605.0,237.7 606.0,237.7 607.0,237.7 608.0,237.7 609.0,237.7 610.0,237.7 611.0,237.7 612.0,237.7 613.0,237.7 614.0,237.8 615.0,237.8 616.0,237.9 617.0,237.9 618.0,238.0 619.0,238.1 620.0,238.2 621.0,238.3 622.0,238.4 623.0,238.5 624.0,238.6 625.0,238.7 626.0,238.9 627.0,239.0 628.0,239.2 629.0,239.3 630.0,239.4 631.0,239.6 632.0,239.7" stroke="#10f060" stroke-width="3.2" stroke-opacity="1.00"/>
<path d="M24.0,39.9 25.0,38.4 26.0,39.4 27.0,38.8 28.0,37.9 29.0,35.0 30.0,31.4 31.0,31.8 32.0,34.6 33.0,38.1 34.0,44.7 35.0,44.0 36.0,46.0 37.0,52.1 38.0,55.5 39.0,57.9 40.0,61.9 41.0,67.4 42.0,73.0 43.0,78.6 44.0,85.9 45.0,95.2 46.0,107.5 47.0,115.0 48.0,114.2 49.0,112.8 50.0,112.0 51.0,118.0 52.0,124.0 53.0,120.6 54.0,113.5 55.0,106.8 56.0,99.8 57.0,92.0 58.0,82.4 59.0,72.0 60.0,62.0 61.0,52.4 62.0,45.1 63.0,39.0 64.0,33.5 65.0,27.2 66.0,20.0 67.0,13.5 68.0,14.6 69.0,21.2 70.0,28.2 71.0,33.8 72.0,38.0 73.0,40.7 74.0,42.0 75.0,42.5 76.0,41.3 77.0,39.0 78.0,36.5 79.0,33.8 80.0,31.4 81.0,29.1 82.0,25.8 83.0,22.5 84.0,20.5 85.0,22.9 86.0,27.2 87.0,31.6 88.0,35.1 89.0,38.2 90.0,41.0 91.0,44.0 92.0,47.3 93.0,51.3 94.0,56.1 95.0,61.5 96.0,67.5 97.0,74.6 98.0,81.2 99.0,87.0 100.0,92.2 101.0,96.9 102.0,101.5 103.0,104.0 104.0,104.4 105.0,104.8 106.0,104.9 107.0,105.0 108.0,101.8 109.0,97.0 110.0,93.9 111.0,91.1 112.0,90.0 113.0,91.4 114.0,94.5 115.0,97.6 116.0,99.0 117.0,97.7 118.0,94.7 119.0,91.0 120.0,88.0 121.0,85.4 122.0,82.8 123.0,80.8 124.0,80.0 125.0,80.0 126.0,80.0 127.0,80.0 128.0,80.0 129.0,80.0 130.0,80.0 131.0,80.0 132.0,80.2 133.0,80.4 134.0,80.7 135.0,81.0 136.0,81.5 137.0,82.0 138.0,83.3 139.0,85.9 140.0,89.0 141.0,92.0 142.0,95.1 143.0,98.7 144.0,102.3 145.0,105.5 146.0,108.0 147.0,109.9 148.0,111.6 149.0,113.0 150.0,114.0 151.0,114.6 152.0,114.9 153.0,115.3 154.0,116.0 155.0,117.8 156.0,121.1 157.0,125.4 158.0,130.0 159.0,136.3 160.0,143.9 161.0,150.0 162.0,154.4 163.0,157.5 164.0,157.7 165.0,155.5 166.0,152.4 167.0,150.0 168.0,148.2 169.0,146.7 170.0,146.0 171.0,147.0 172.0,149.0 173.0,150.0 174.0,150.0 175.0,150.0 176.0,149.8 177.0,147.4 178.0,143.5 179.0,140.0 180.0,137.3 181.0,134.7 182.0,132.2 183.0,130.0 184.0,127.7 185.0,125.5 186.0,124.6 187.0,124.8 188.0,125.4 189.0,126.2 190.0,127.0 191.0,127.9 192.0,129.0 193.0,130.2 194.0,131.6 195.0,133.0 196.0,134.6 197.0,136.4 198.0,138.4 199.0,140.7 200.0,143.6 201.0,146.8 202.0,150.0 203.0,153.1 204.0,156.3 205.0,159.0 206.0,161.6 207.0,163.0 208.0,161.9 209.0,159.8 210.0,158.0 211.0,156.9 212.0,156.0 213.0,155.3 214.0,155.0 215.0,155.7 216.0,157.6 217.0,160.2 218.0,162.9 219.0,165.2 220.0,167.1 221.0,168.9 222.0,170.8 223.0,172.6 224.0,174.0 225.0,174.8 226.0,174.9 227.0,172.9 228.0,169.8 229.0,167.0 230.0,165.0 231.0,163.0 232.0,161.3 233.0,160.0 234.0,158.9 235.0,158.0 236.0,157.3 237.0,157.0 238.0,157.2 239.0,157.9 240.0,158.9 241.0,160.1 242.0,161.4 243.0,162.7 244.0,164.0 245.0,165.0 246.0,166.0 247.0,167.0 248.0,168.1 249.0,169.2 250.0,170.1 251.0,171.0 252.0,171.6 253.0,171.9 254.0,172.0 255.0,171.6 256.0,171.0 257.0,170.2 258.0,169.4 259.0,168.6 260.0,168.0 261.0,167.5 262.0,166.9 263.0,166.4 264.0,165.9 265.0,165.6 266.0,165.5 267.0,165.6 268.0,165.7 269.0,165.9 270.0,166.2 271.0,166.6 272.0,167.0 273.0,167.5 274.0,168.3 275.0,169.3 276.0,170.5 277.0,172.0 278.0,174.4 279.0,177.9 280.0,182.0 281.0,186.8 282.0,192.3 283.0,197.7 284.0,203.1 285.0,208.0 286.0,212.7 287.0,216.4 288.0,217.0 289.0,217.0 290.0,217.0 291.0,215.4 292.0,211.9 293.0,208.0 294.0,202.9 295.0,198.0 296.0,194.0 297.0,190.4 298.0,187.0 299.0,183.7 300.0,180.6 301.0,178.0 302.0,175.9 303.0,174.1 304.0,172.6 305.0,171.5 306.0,170.7 307.0,170.1 308.0,169.5 309.0,169.1 310.0,169.0 311.0,169.0 312.0,169.1 313.0,169.1 314.0,169.2 315.0,169.4 316.0,169.5 317.0,169.7 318.0,170.1 319.0,170.5 320.0,171.0 321.0,171.5 322.0,172.0 323.0,172.5 324.0,173.1 325.0,173.7 326.0,174.3 327.0,175.0 328.0,175.6 329.0,176.3 330.0,177.0 331.0,177.7 332.0,178.4 333.0,179.2 334.0,180.0 335.0,180.8 336.0,181.6 337.0,182.3 338.0,183.0 339.0,183.7 340.0,184.3 341.0,184.9 342.0,185.5 343.0,186.1 344.0,186.7 345.0,187.4 346.0,188.0 347.0,188.7 348.0,189.4 349.0,190.1 350.0,190.9 351.0,191.7 352.0,192.5 353.0,193.3 354.0,194.0 355.0,194.8 356.0,195.5 357.0,196.1 358.0,196.8 359.0,197.3 360.0,197.9 361.0,198.4 362.0,198.8 363.0,199.3 364.0,199.8 365.0,200.2 366.0,200.7 367.0,201.1 368.0,201.5 369.0,201.9 370.0,202.3 371.0,202.6 372.0,203.0 373.0,203.3 374.0,203.6 375.0,203.9 376.0,204.1 377.0,204.4 378.0,204.6 379.0,204.8 380.0,205.0 381.0,205.1 382.0,205.3 383.0,205.4 384.0,205.6 385.0,205.7 386.0,205.8 387.0,206.0 388.0,206.1 389.0,206.3 390.0,206.4 391.0,206.6 392.0,206.7 393.0,206.9 394.0,207.1 395.0,207.3 396.0,207.5 397.0,207.7 398.0,207.9 399.0,208.1 400.0,208.4 401.0,208.6 402.0,208.9 403.0,209.1 404.0,209.4 405.0,209.7 406.0,210.0 407.0,210.3 408.0,210.7 409.0,211.1 410.0,211.6 411.0,212.1 412.0,212.6 413.0,213.1 414.0,213.6 415.0,214.1 416.0,214.6 417.0,215.1 418.0,215.6 419.0,216.1 420.0,216.6 421.0,217.2 422.0,217.8 423.0,218.4 424.0,219.0 425.0,219.7 426.0,220.2 427.0,220.8 428.0,221.2 429.0,221.6 430.0,221.8 431.0,222.0 432.0,222.0 433.0,222.0 434.0,221.9 435.0,221.8 436.0,221.6 437.0,221.5 438.0,221.3 439.0,221.1 440.0,220.9 441.0,220.7 442.0,220.5 443.0,220.2 444.0,220.0 445.0,219.7 446.0,219.4 447.0,218.9 448.0,218.4 449.0,217.9 450.0,217.4 451.0,216.9 452.0,216.4 453.0,215.9 454.0,215.6 455.0,215.3 456.0,215.1 457.0,215.0 458.0,215.1 459.0,215.2 460.0,215.4 461.0,215.7 462.0,216.0 463.0,216.4 464.0,217.0 465.0,217.7 466.0,218.5 467.0,219.4 468.0,220.3 469.0,221.2 470.0,222.0 471.0,222.9 472.0,223.8 473.0,224.7 474.0,225.7 475.0,226.7 476.0,227.5 477.0,228.3 478.0,229.0 479.0,229.6 480.0,230.1 481.0,230.6 482.0,231.1 483.0,231.6 484.0,232.0 485.0,232.3 486.0,232.7 487.0,233.0 488.0,233.3 489.0,233.6 490.0,233.9 491.0,234.2 492.0,234.5 493.0,234.7 494.0,234.9 495.0,235.0 496.0,235.0 497.0,235.0 498.0,234.9 499.0,234.9 500.0,234.8 501.0,234.6 502.0,234.5 503.0,234.3 504.0,234.2 505.0,234.0 506.0,233.8 507.0,233.4 508.0,233.0 509.0,232.5 510.0,232.0 511.0,231.4 512.0,230.9 513.0,230.4 514.0,230.0 515.0,229.6 516.0,229.2 517.0,228.9 518.0,228.5 519.0,228.1 520.0,227.8 521.0,227.5 522.0,227.2 523.0,227.0 524.0,226.8 525.0,226.6 526.0,226.4 527.0,226.2 528.0,226.0 529.0,225.8 530.0,225.7 531.0,225.6 532.0,225.5 533.0,225.5 534.0,225.5 535.0,225.5 536.0,225.6 537.0,225.7 538.0,225.8 539.0,225.9 540.0,226.0 541.0,226.1 542.0,226.3 543.0,226.4 544.0,226.6 545.0,226.7 546.0,226.9 547.0,227.1 548.0,227.3 549.0,227.5 550.0,227.8 551.0,228.1 552.0,228.5 553.0,228.9 554.0,229.2 555.0,229.6 556.0,230.0 557.0,230.4 558.0,230.8 559.0,231.2 560.0,231.6 561.0,231.9 562.0,232.3 563.0,232.6 564.0,232.9 565.0,233.2 566.0,233.6 567.0,233.9 568.0,234.2 569.0,234.5 570.0,234.8 571.0,235.1 572.0,235.4 573.0,235.7 574.0,235.9 575.0,236.1 576.0,236.3 577.0,236.5 578.0,236.6 579.0,236.8 580.0,236.9 581.0,237.1 582.0,237.2 583.0,237.3 584.0,237.5 585.0,237.6 586.0,237.7 587.0,237.8 588.0,237.9 589.0,237.9 590.0,238.0 591.0,238.0 592.0,238.0 593.0,238.0 594.0,238.0 595.0,238.0 596.0,238.0 597.0,238.0 598.0,238.0 599.0,238.0 600.0,238.0 601.0,238.0 602.0,238.0 603.0,238.0 604.0,238.0 605.0,238.0 606.0,238.0 607.0,238.0 608.0,238.0 609.0,238.0 610.0,238.0 611.0,238.0 612.0,238.0 613.0,238.0 614.0,238.1 615.0,238.1 616.0,238.2 617.0,238.2 618.0,238.3 619.0,238.4 620.0,238.5 621.0,238.6 622.0,238.7 623.0,238.8 624.0,238.9 625.0,239.0 626.0,239.2 627.0,239.3 628.0,239.4 629.0,239.6 630.0,239.7 631.0,239.9 632.0,240.0" stroke="#10e030" stroke-width="3.2" stroke-opacity="1.00"/>
<path d="M24.0,45.7 25.0,45.0 26.0,44.7 27.0,43.1 28.0,38.7 29.0,39.5 30.0,38.9 31.0,36.6 32.0,35.7 33.0,34.4 34.0,41.3 35.0,47.8 36.0,46.8 37.0,50.7 38.0,56.4 39.0,61.2 40.0,64.8 41.0,66.3 42.0,72.5 43.0,79.6 44.0,88.2 45.0,98.5 46.0,110.4 47.0,117.5 48.0,117.0 49.0,116.0 50.0,115.5 51.0,121.1 52.0,126.5 53.0,123.1 54.0,116.3 55.0,110.0 56.0,103.4 57.0,96.0 58.0,86.7 59.0,76.3 60.0,66.3 61.0,56.8 62.0,49.2 63.0,42.8 64.0,36.9 65.0,30.5 66.0,23.4 67.0,16.9 68.0,17.4 69.0,23.1 70.0,29.4 71.0,35.1 72.0,39.7 73.0,42.8 74.0,44.6 75.0,45.6 76.0,44.8 77.0,42.7 78.0,40.1 79.0,37.1 80.0,34.4 81.0,31.9 82.0,28.5 83.0,25.1 84.0,23.3 85.0,25.7 86.0,29.8 87.0,34.1 88.0,37.6 89.0,40.7 90.0,43.7 91.0,46.7 92.0,50.1 93.0,54.0 94.0,58.7 95.0,63.9 96.0,69.7 97.0,76.5 98.0,82.9 99.0,88.5 100.0,93.7 101.0,98.3 102.0,103.1 103.0,105.8 104.0,106.5 105.0,106.9 106.0,106.9 107.0,106.8 108.0,103.6 109.0,99.0 110.0,96.0 111.0,93.4 112.0,92.2 113.0,93.3 114.0,96.0 115.0,98.7 116.0,100.2 117.0,99.5 118.0,97.1 119.0,93.8 120.0,90.8 121.0,88.1 122.0,85.4 123.0,83.2 124.0,82.1 125.0,81.8 126.0,81.5 127.0,81.3 128.0,81.1 129.0,81.1 130.0,81.2 131.0,81.4 132.0,81.7 133.0,81.9 134.0,82.1 135.0,82.5 136.0,82.9 137.0,83.4 138.0,84.9 139.0,87.5 140.0,90.7 141.0,93.9 142.0,97.1 143.0,100.7 144.0,104.4 145.0,107.5 146.0,109.9 147.0,111.8 148.0,113.5 149.0,114.9 150.0,115.9 151.0,116.5 152.0,117.0 153.0,117.5 154.0,118.2 155.0,120.0 156.0,123.1 157.0,127.2 158.0,131.7 159.0,137.7 160.0,144.9 161.0,150.7 162.0,155.0 163.0,158.1 164.0,158.3 165.0,156.2 166.0,153.2 167.0,150.7 168.0,148.8 169.0,147.2 170.0,146.6 171.0,147.7 172.0,149.5 173.0,150.6 174.0,150.7 175.0,150.6 176.0,150.3 177.0,147.9 178.0,144.2 179.0,140.8 180.0,138.1 181.0,135.4 182.0,132.9 183.0,130.7 184.0,128.4 185.0,126.3 186.0,125.3 187.0,125.4 188.0,125.9 189.0,126.6 190.0,127.3 191.0,128.2 192.0,129.2 193.0,130.4 194.0,131.7 195.0,133.1 196.0,134.6 197.0,136.3 198.0,138.2 199.0,140.5 200.0,143.2 201.0,146.3 202.0,149.7 203.0,153.2 204.0,156.5 205.0,159.4 206.0,162.0 207.0,163.4 208.0,162.3 209.0,160.1 210.0,158.3 211.0,157.2 212.0,156.3 213.0,155.6 214.0,155.3 215.0,155.9 216.0,157.7 217.0,160.1 218.0,162.8 219.0,165.1 220.0,167.0 221.0,168.9 222.0,170.9 223.0,172.7 224.0,174.2 225.0,175.1 226.0,175.2 227.0,173.1 228.0,169.8 229.0,166.8 230.0,164.5 231.0,162.3 232.0,160.5 233.0,159.2 234.0,158.2 235.0,157.3 236.0,156.6 237.0,156.4 238.0,156.7 239.0,157.4 240.0,158.4 241.0,159.6 242.0,160.9 243.0,162.2 244.0,163.5 245.0,164.5 246.0,165.5 247.0,166.5 248.0,167.6 249.0,168.7 250.0,169.7 251.0,170.5 252.0,171.2 253.0,171.5 254.0,171.6 255.0,171.2 256.0,170.6 257.0,169.8 258.0,169.0 259.0,168.2 260.0,167.6 261.0,167.1 262.0,166.5 263.0,166.0 264.0,165.6 265.0,165.3 266.0,165.2 267.0,165.2 268.0,165.3 269.0,165.6 270.0,165.8 271.0,166.2 272.0,166.5 273.0,167.0 274.0,167.7 275.0,168.6 276.0,169.8 277.0,171.1 278.0,173.3 279.0,176.6 280.0,180.4 281.0,184.9 282.0,190.1 283.0,195.3 284.0,200.7 285.0,205.7 286.0,210.6 287.0,214.4 288.0,215.2 289.0,215.6 290.0,216.1 291.0,215.4 292.0,212.3 293.0,208.9 294.0,204.2 295.0,199.6 296.0,195.7 297.0,192.0 298.0,188.4 299.0,185.0 300.0,181.8 301.0,179.1 302.0,176.9 303.0,174.9 304.0,173.2 305.0,172.0 306.0,171.1 307.0,170.4 308.0,169.8 309.0,169.4 310.0,169.3 311.0,169.3 312.0,169.3 313.0,169.4 314.0,169.6 315.0,169.8 316.0,170.0 317.0,170.2 318.0,170.5 319.0,171.0 320.0,171.5 321.0,172.0 322.0,172.5 323.0,173.0 324.0,173.6 325.0,174.2 326.0,174.9 327.0,175.5 328.0,176.2 329.0,176.9 330.0,177.6 331.0,178.3 332.0,179.0 333.0,179.8 334.0,180.6 335.0,181.3 336.0,182.1 337.0,182.8 338.0,183.6 339.0,184.2 340.0,184.9 341.0,185.5 342.0,186.1 343.0,186.7 344.0,187.4 345.0,188.0 346.0,188.7 347.0,189.4 348.0,190.1 349.0,190.9 350.0,191.7 351.0,192.4 352.0,193.2 353.0,194.0 354.0,194.8 355.0,195.5 356.0,196.2 357.0,196.9 358.0,197.5 359.0,198.1 360.0,198.6 361.0,199.1 362.0,199.6 363.0,200.1 364.0,200.5 365.0,201.0 366.0,201.4 367.0,201.8 368.0,202.2 369.0,202.6 370.0,203.0 371.0,203.3 372.0,203.6 373.0,203.9 374.0,204.2 375.0,204.5 376.0,204.7 377.0,205.0 378.0,205.2 379.0,205.4 380.0,205.5 381.0,205.7 382.0,205.8 383.0,206.0 384.0,206.1 385.0,206.2 386.0,206.3 387.0,206.5 388.0,206.6 389.0,206.7 390.0,206.9 391.0,207.0 392.0,207.2 393.0,207.3 394.0,207.5 395.0,207.7 396.0,207.9 397.0,208.1 398.0,208.3 399.0,208.6 400.0,208.8 401.0,209.1 402.0,209.3 403.0,209.6 404.0,209.9 405.0,210.2 406.0,210.5 407.0,210.8 408.0,211.2 409.0,211.6 410.0,212.1 411.0,212.5 412.0,213.0 413.0,213.5 414.0,214.1 415.0,214.6 416.0,215.1 417.0,215.6 418.0,216.1 419.0,216.6 420.0,217.1 421.0,217.7 422.0,218.3 423.0,218.9 424.0,219.6 425.0,220.2 426.0,220.8 427.0,221.3 428.0,221.8 429.0,222.1 430.0,222.4 431.0,222.6 432.0,222.6 433.0,222.6 434.0,222.5 435.0,222.4 436.0,222.3 437.0,222.2 438.0,222.0 439.0,221.8 440.0,221.6 441.0,221.4 442.0,221.2 443.0,220.9 444.0,220.7 445.0,220.4 446.0,220.1 447.0,219.7 448.0,219.2 449.0,218.7 450.0,218.2 451.0,217.7 452.0,217.2 453.0,216.8 454.0,216.4 455.0,216.1 456.0,215.9 457.0,215.8 458.0,215.9 459.0,216.0 460.0,216.1 461.0,216.4 462.0,216.6 463.0,216.9 464.0,217.4 465.0,218.0 466.0,218.8 467.0,219.5 468.0,220.3 469.0,221.1 470.0,221.9 471.0,222.7 472.0,223.5 473.0,224.4 474.0,225.3 475.0,226.1 476.0,227.0 477.0,227.7 478.0,228.3 479.0,228.8 480.0,229.3 481.0,229.8 482.0,230.2 483.0,230.7 484.0,231.0 485.0,231.4 486.0,231.7 487.0,232.0 488.0,232.3 489.0,232.6 490.0,232.9 491.0,233.2 492.0,233.5 493.0,233.8 494.0,234.0 495.0,234.2 496.0,234.3 497.0,234.4 498.0,234.4 499.0,234.4 500.0,234.3 501.0,234.3 502.0,234.2 503.0,234.1 504.0,234.0 505.0,233.8 506.0,233.7 507.0,233.4 508.0,233.0 509.0,232.6 510.0,232.1 511.0,231.6 512.0,231.2 513.0,230.7 514.0,230.3 515.0,229.9 516.0,229.5 517.0,229.1 518.0,228.8 519.0,228.4 520.0,228.0 521.0,227.7 522.0,227.4 523.0,227.2 524.0,226.9 525.0,226.7 526.0,226.4 527.0,226.2 528.0,226.0 529.0,225.8 530.0,225.6 531.0,225.5 532.0,225.4 533.0,225.4 534.0,225.4 535.0,225.4 536.0,225.4 537.0,225.5 538.0,225.5 539.0,225.6 540.0,225.7 541.0,225.8 542.0,226.0 543.0,226.1 544.0,226.3 545.0,226.4 546.0,226.5 547.0,226.7 548.0,226.9 549.0,227.1 550.0,227.4 551.0,227.7 552.0,228.0 553.0,228.3 554.0,228.7 555.0,229.1 556.0,229.4 557.0,229.8 558.0,230.2 559.0,230.6 560.0,230.9 561.0,231.3 562.0,231.6 563.0,231.9 564.0,232.2 565.0,232.5 566.0,232.9 567.0,233.2 568.0,233.5 569.0,233.9 570.0,234.2 571.0,234.5 572.0,234.8 573.0,235.1 574.0,235.3 575.0,235.6 576.0,235.8 577.0,235.9 578.0,236.1 579.0,236.2 580.0,236.4 581.0,236.5 582.0,236.6 583.0,236.8 584.0,236.9 585.0,237.0 586.0,237.1 587.0,237.2 588.0,237.3 589.0,237.3 590.0,237.4 591.0,237.4 592.0,237.4 593.0,237.4 594.0,237.4 595.0,237.4 596.0,237.4 597.0,237.4 598.0,237.4 599.0,237.4 600.0,237.4 601.0,237.4 602.0,237.4 603.0,237.4 604.0,237.4 605.0,237.4 606.0,237.4 607.0,237.4 608.0,237.4 609.0,237.4 610.0,237.4 611.0,237.4 612.0,237.4 613.0,237.4 614.0,237.4 615.0,237.5 616.0,237.5 617.0,237.6 618.0,237.7 619.0,237.8 620.0,237.9 621.0,238.0 622.0,238.1 623.0,238.2 624.0,238.3 625.0,238.4 626.0,238.6 627.0,238.7 628.0,238.9 629.0,239.0 630.0,239.2 631.0,239.3 632.0,239.4" stroke="#60f030" stroke-width="3.2" stroke-opacity="1.00"/>
<path d="M24.0,51.7 25.0,49.0 26.0,47.6 27.0,44.6 28.0,45.8 29.0,46.7 30.0,41.8 31.0,43.7 32.0,44.3 33.0,41.5 34.0,43.6 35.0,48.6 36.0,54.4 37.0,56.2 38.0,59.3 39.0,63.3 40.0,65.7 41.0,69.3 42.0,74.2 43.0,81.9 44.0,92.9 45.0,104.0 46.0,114.3 47.0,121.0 48.0,121.2 49.0,120.8 50.0,120.8 51.0,125.7 52.0,130.2 53.0,126.9 54.0,120.6 55.0,114.8 56.0,108.8 57.0,101.9 58.0,93.0 59.0,82.7 60.0,72.8 61.0,63.2 62.0,55.4 63.0,48.4 64.0,42.1 65.0,35.5 66.0,28.4 67.0,22.1 68.0,21.7 69.0,25.8 70.0,31.2 71.0,37.1 72.0,42.2 73.0,46.0 74.0,48.5 75.0,50.2 76.0,50.1 77.0,48.3 78.0,45.4 79.0,42.0 80.0,39.0 81.0,36.2 82.0,32.5 83.0,29.1 84.0,27.6 85.0,29.8 86.0,33.7 87.0,37.9 88.0,41.3 89.0,44.5 90.0,47.6 91.0,50.8 92.0,54.2 93.0,58.1 94.0,62.5 95.0,67.5 96.0,73.0 97.0,79.3 98.0,85.4 99.0,90.9 100.0,95.9 101.0,100.6 102.0,105.4 103.0,108.4 104.0,109.6 105.0,110.1 106.0,109.9 107.0,109.4 108.0,106.3 109.0,102.0 110.0,99.1 111.0,96.7 112.0,95.4 113.0,96.1 114.0,98.2 115.0,100.4 116.0,102.1 117.0,102.3 118.0,100.9 119.0,98.0 120.0,94.9 121.0,92.0 122.0,89.1 123.0,86.8 124.0,85.4 125.0,84.5 126.0,83.8 127.0,83.2 128.0,82.8 129.0,82.8 130.0,83.1 131.0,83.5 132.0,83.9 133.0,84.1 134.0,84.4 135.0,84.7 136.0,85.1 137.0,85.6 138.0,87.2 139.0,90.0 140.0,93.3 141.0,96.6 142.0,100.0 143.0,103.8 144.0,107.5 145.0,110.5 146.0,112.8 147.0,114.6 148.0,116.2 149.0,117.6 150.0,118.7 151.0,119.4 152.0,120.0 153.0,120.6 154.0,121.5 155.0,123.3 156.0,126.2 157.0,130.0 158.0,134.3 159.0,139.7 160.0,146.3 161.0,151.8 162.0,155.9 163.0,158.9 164.0,159.2 165.0,157.2 166.0,154.3 167.0,151.7 168.0,149.6 169.0,148.0 170.0,147.6 171.0,148.6 172.0,150.4 173.0,151.5 174.0,151.7 175.0,151.5 176.0,151.1 177.0,148.7 178.0,145.2 179.0,141.9 180.0,139.3 181.0,136.6 182.0,134.0 183.0,131.8 184.0,129.5 185.0,127.4 186.0,126.3 187.0,126.2 188.0,126.6 189.0,127.2 190.0,127.9 191.0,128.6 192.0,129.6 193.0,130.7 194.0,131.9 195.0,133.1 196.0,134.5 197.0,136.1 198.0,137.9 199.0,140.0 200.0,142.6 201.0,145.6 202.0,149.2 203.0,153.2 204.0,156.8 205.0,159.9 206.0,162.7 207.0,164.0 208.0,162.8 209.0,160.5 210.0,158.8 211.0,157.7 212.0,156.7 213.0,156.0 214.0,155.6 215.0,156.2 216.0,157.8 217.0,160.1 218.0,162.6 219.0,164.9 220.0,166.8 221.0,168.8 222.0,170.9 223.0,172.9 224.0,174.5 225.0,175.5 226.0,175.6 227.0,173.4 228.0,169.8 229.0,166.5 230.0,163.8 231.0,161.2 232.0,159.2 233.0,158.1 234.0,157.1 235.0,156.3 236.0,155.7 237.0,155.5 238.0,155.8 239.0,156.5 240.0,157.6 241.0,158.8 242.0,160.1 243.0,161.5 244.0,162.7 245.0,163.8 246.0,164.7 247.0,165.8 248.0,167.0 249.0,168.0 250.0,169.1 251.0,169.9 252.0,170.6 253.0,170.9 254.0,171.0 255.0,170.6 256.0,170.0 257.0,169.2 258.0,168.4 259.0,167.6 260.0,167.0 261.0,166.5 262.0,166.0 263.0,165.5 264.0,165.1 265.0,164.8 266.0,164.7 267.0,164.7 268.0,164.8 269.0,165.0 270.0,165.2 271.0,165.5 272.0,165.8 273.0,166.2 274.0,166.8 275.0,167.6 276.0,168.6 277.0,169.8 278.0,171.7 279.0,174.7 280.0,178.0 281.0,182.0 282.0,186.7 283.0,191.7 284.0,197.1 285.0,202.3 286.0,207.4 287.0,211.3 288.0,212.6 289.0,213.5 290.0,214.9 291.0,215.5 292.0,213.1 293.0,210.2 294.0,206.2 295.0,202.0 296.0,198.2 297.0,194.3 298.0,190.6 299.0,187.0 300.0,183.6 301.0,180.7 302.0,178.3 303.0,176.1 304.0,174.1 305.0,172.7 306.0,171.7 307.0,170.9 308.0,170.3 309.0,169.8 310.0,169.6 311.0,169.6 312.0,169.7 313.0,169.9 314.0,170.1 315.0,170.4 316.0,170.6 317.0,170.9 318.0,171.3 319.0,171.7 320.0,172.2 321.0,172.7 322.0,173.2 323.0,173.8 324.0,174.4 325.0,175.0 326.0,175.7 327.0,176.3 328.0,177.0 329.0,177.7 330.0,178.4 331.0,179.1 332.0,179.9 333.0,180.6 334.0,181.4 335.0,182.2 336.0,182.9 337.0,183.7 338.0,184.4 339.0,185.1 340.0,185.7 341.0,186.4 342.0,187.0 343.0,187.7 344.0,188.3 345.0,189.0 346.0,189.7 347.0,190.5 348.0,191.2 349.0,192.0 350.0,192.8 351.0,193.6 352.0,194.3 353.0,195.1 354.0,195.9 355.0,196.6 356.0,197.3 357.0,197.9 358.0,198.5 359.0,199.1 360.0,199.7 361.0,200.2 362.0,200.7 363.0,201.1 364.0,201.6 365.0,202.1 366.0,202.5 367.0,202.9 368.0,203.3 369.0,203.6 370.0,204.0 371.0,204.3 372.0,204.6 373.0,204.9 374.0,205.2 375.0,205.4 376.0,205.6 377.0,205.9 378.0,206.0 379.0,206.2 380.0,206.4 381.0,206.5 382.0,206.7 383.0,206.8 384.0,206.9 385.0,207.0 386.0,207.1 387.0,207.2 388.0,207.3 389.0,207.4 390.0,207.6 391.0,207.7 392.0,207.8 393.0,208.0 394.0,208.1 395.0,208.3 396.0,208.5 397.0,208.7 398.0,209.0 399.0,209.2 400.0,209.5 401.0,209.7 402.0,210.0 403.0,210.3 404.0,210.6 405.0,210.9 406.0,211.2 407.0,211.6 408.0,212.0 409.0,212.4 410.0,212.8 411.0,213.3 412.0,213.8 413.0,214.3 414.0,214.8 415.0,215.3 416.0,215.8 417.0,216.3 418.0,216.9 419.0,217.4 420.0,217.9 421.0,218.5 422.0,219.1 423.0,219.7 424.0,220.4 425.0,221.0 426.0,221.6 427.0,222.1 428.0,222.6 429.0,223.0 430.0,223.3 431.0,223.5 432.0,223.5 433.0,223.5 434.0,223.5 435.0,223.4 436.0,223.3 437.0,223.2 438.0,223.0 439.0,222.8 440.0,222.6 441.0,222.4 442.0,222.2 443.0,222.0 444.0,221.8 445.0,221.5 446.0,221.2 447.0,220.8 448.0,220.3 449.0,219.9 450.0,219.4 451.0,218.9 452.0,218.5 453.0,218.1 454.0,217.7 455.0,217.4 456.0,217.2 457.0,217.1 458.0,217.1 459.0,217.1 460.0,217.2 461.0,217.3 462.0,217.5 463.0,217.7 464.0,218.1 465.0,218.6 466.0,219.2 467.0,219.8 468.0,220.4 469.0,221.1 470.0,221.7 471.0,222.4 472.0,223.1 473.0,223.8 474.0,224.6 475.0,225.4 476.0,226.1 477.0,226.7 478.0,227.2 479.0,227.7 480.0,228.2 481.0,228.6 482.0,229.0 483.0,229.3 484.0,229.7 485.0,230.0 486.0,230.3 487.0,230.6 488.0,230.8 489.0,231.2 490.0,231.5 491.0,231.8 492.0,232.2 493.0,232.5 494.0,232.8 495.0,233.0 496.0,233.3 497.0,233.4 498.0,233.6 499.0,233.7 500.0,233.7 501.0,233.7 502.0,233.7 503.0,233.7 504.0,233.6 505.0,233.6 506.0,233.5 507.0,233.3 508.0,233.0 509.0,232.7 510.0,232.3 511.0,231.9 512.0,231.5 513.0,231.1 514.0,230.7 515.0,230.4 516.0,230.0 517.0,229.6 518.0,229.2 519.0,228.8 520.0,228.4 521.0,228.0 522.0,227.7 523.0,227.4 524.0,227.1 525.0,226.8 526.0,226.5 527.0,226.2 528.0,226.0 529.0,225.7 530.0,225.5 531.0,225.4 532.0,225.3 533.0,225.2 534.0,225.2 535.0,225.1 536.0,225.1 537.0,225.2 538.0,225.2 539.0,225.3 540.0,225.3 541.0,225.4 542.0,225.5 543.0,225.6 544.0,225.8 545.0,225.9 546.0,226.0 547.0,226.2 548.0,226.3 549.0,226.5 550.0,226.8 551.0,227.0 552.0,227.3 553.0,227.6 554.0,227.9 555.0,228.2 556.0,228.5 557.0,228.9 558.0,229.2 559.0,229.6 560.0,229.9 561.0,230.2 562.0,230.6 563.0,230.9 564.0,231.2 565.0,231.5 566.0,231.8 567.0,232.2 568.0,232.5 569.0,232.8 570.0,233.2 571.0,233.5 572.0,233.9 573.0,234.2 574.0,234.5 575.0,234.7 576.0,235.0 577.0,235.1 578.0,235.3 579.0,235.4 580.0,235.5 581.0,235.7 582.0,235.8 583.0,235.9 584.0,236.0 585.0,236.1 586.0,236.2 587.0,236.3 588.0,236.4 589.0,236.4 590.0,236.5 591.0,236.5 592.0,236.5 593.0,236.5 594.0,236.5 595.0,236.5 596.0,236.5 597.0,236.5 598.0,236.5 599.0,236.5 600.0,236.5 601.0,236.5 602.0,236.5 603.0,236.5 604.0,236.5 605.0,236.5 606.0,236.5 607.0,236.5 608.0,236.5 609.0,236.5 610.0,236.5 611.0,236.4 612.0,236.5 613.0,236.5 614.0,236.5 615.0,236.6 616.0,236.6 617.0,236.7 618.0,236.8 619.0,236.9 620.0,237.0 621.0,237.1 622.0,237.2 623.0,237.3 624.0,237.4 625.0,237.6 626.0,237.7 627.0,237.9 628.0,238.0 629.0,238.2 630.0,238.3 631.0,238.5 632.0,238.6" stroke="#90f030" stroke-width="3.2" stroke-opacity="1.00"/>
<path d="M24.0,56.9 25.0,57.1 26.0,54.0 27.0,52.3 28.0,50.6 29.0,46.6 30.0,46.3 31.0,48.2 32.0,49.0 33.0,48.7 34.0,51.4 35.0,54.8 36.0,58.1 37.0,61.7 38.0,63.6 39.0,64.7 40.0,64.8 41.0,68.9 42.0,74.8 43.0,82.7 44.0,97.2 45.0,109.2 46.0,119.0 47.0,125.1 48.0,126.0 49.0,126.3 50.0,126.8 51.0,130.9 52.0,134.4 53.0,131.2 54.0,125.5 55.0,120.3 56.0,114.9 57.0,108.6 58.0,100.3 59.0,90.0 60.0,80.2 61.0,70.6 62.0,62.4 63.0,54.8 64.0,48.0 65.0,41.2 66.0,34.1 67.0,28.0 68.0,26.6 69.0,28.9 70.0,33.2 71.0,39.3 72.0,45.1 73.0,49.6 74.0,52.9 75.0,55.4 76.0,56.2 77.0,54.5 78.0,51.5 79.0,47.6 80.0,44.2 81.0,41.0 82.0,37.0 83.0,33.7 84.0,32.4 85.0,34.6 86.0,38.2 87.0,42.1 88.0,45.5 89.0,48.8 90.0,52.0 91.0,55.4 92.0,59.0 93.0,62.7 94.0,67.0 95.0,71.6 96.0,76.6 97.0,82.5 98.0,88.2 99.0,93.5 100.0,98.4 101.0,103.1 102.0,108.0 103.0,111.5 104.0,113.1 105.0,113.7 106.0,113.3 107.0,112.4 108.0,109.3 109.0,105.4 110.0,102.7 111.0,100.5 112.0,99.2 113.0,99.4 114.0,100.7 115.0,102.4 116.0,104.2 117.0,105.4 118.0,105.1 119.0,102.7 120.0,99.7 121.0,96.4 122.0,93.4 123.0,90.9 124.0,89.0 125.0,87.6 126.0,86.3 127.0,85.3 128.0,84.7 129.0,84.7 130.0,85.2 131.0,85.9 132.0,86.4 133.0,86.6 134.0,86.9 135.0,87.2 136.0,87.5 137.0,88.1 138.0,89.8 139.0,92.8 140.0,96.3 141.0,99.8 142.0,103.3 143.0,107.3 144.0,111.1 145.0,114.0 146.0,116.1 147.0,117.8 148.0,119.3 149.0,120.7 150.0,121.9 151.0,122.7 152.0,123.5 153.0,124.2 154.0,125.2 155.0,127.0 156.0,129.7 157.0,133.2 158.0,137.1 159.0,142.1 160.0,147.9 161.0,153.0 162.0,157.0 163.0,159.9 164.0,160.2 165.0,158.4 166.0,155.5 167.0,152.8 168.0,150.6 169.0,149.0 170.0,148.6 171.0,149.7 172.0,151.4 173.0,152.6 174.0,152.8 175.0,152.6 176.0,151.9 177.0,149.6 178.0,146.3 179.0,143.2 180.0,140.6 181.0,137.9 182.0,135.3 183.0,132.9 184.0,130.7 185.0,128.6 186.0,127.4 187.0,127.1 188.0,127.3 189.0,127.9 190.0,128.5 191.0,129.2 192.0,130.0 193.0,131.0 194.0,132.1 195.0,133.2 196.0,134.5 197.0,135.9 198.0,137.6 199.0,139.5 200.0,142.0 201.0,144.8 202.0,148.6 203.0,153.2 204.0,157.1 205.0,160.6 206.0,163.5 207.0,164.6 208.0,163.3 209.0,161.1 210.0,159.3 211.0,158.2 212.0,157.2 213.0,156.4 214.0,156.1 215.0,156.5 216.0,158.0 217.0,160.1 218.0,162.5 219.0,164.7 220.0,166.6 221.0,168.6 222.0,170.9 223.0,173.0 224.0,174.8 225.0,176.0 226.0,176.1 227.0,173.7 228.0,169.8 229.0,166.2 230.0,163.0 231.0,159.9 232.0,157.8 233.0,156.7 234.0,155.9 235.0,155.1 236.0,154.6 237.0,154.5 238.0,154.9 239.0,155.6 240.0,156.7 241.0,157.9 242.0,159.2 243.0,160.6 244.0,161.8 245.0,162.9 246.0,163.9 247.0,165.0 248.0,166.2 249.0,167.3 250.0,168.3 251.0,169.2 252.0,169.9 253.0,170.3 254.0,170.3 255.0,169.9 256.0,169.3 257.0,168.5 258.0,167.7 259.0,166.9 260.0,166.3 261.0,165.9 262.0,165.4 263.0,164.9 264.0,164.5 265.0,164.2 266.0,164.1 267.0,164.1 268.0,164.2 269.0,164.3 270.0,164.5 271.0,164.7 272.0,165.0 273.0,165.4 274.0,165.9 275.0,166.5 276.0,167.3 277.0,168.3 278.0,169.9 279.0,172.4 280.0,175.3 281.0,178.8 282.0,182.9 283.0,187.7 284.0,193.0 285.0,198.5 286.0,203.9 287.0,207.8 288.0,209.6 289.0,211.2 290.0,213.4 291.0,215.6 292.0,213.9 293.0,211.8 294.0,208.4 295.0,204.7 296.0,201.1 297.0,197.0 298.0,193.0 299.0,189.3 300.0,185.8 301.0,182.6 302.0,179.9 303.0,177.4 304.0,175.2 305.0,173.5 306.0,172.4 307.0,171.5 308.0,170.8 309.0,170.3 310.0,170.1 311.0,170.0 312.0,170.2 313.0,170.4 314.0,170.7 315.0,171.1 316.0,171.4 317.0,171.7 318.0,172.1 319.0,172.6 320.0,173.0 321.0,173.6 322.0,174.1 323.0,174.7 324.0,175.3 325.0,175.9 326.0,176.6 327.0,177.3 328.0,178.0 329.0,178.7 330.0,179.4 331.0,180.1 332.0,180.9 333.0,181.6 334.0,182.4 335.0,183.1 336.0,183.9 337.0,184.6 338.0,185.3 339.0,186.0 340.0,186.7 341.0,187.4 342.0,188.1 343.0,188.7 344.0,189.5 345.0,190.2 346.0,190.9 347.0,191.7 348.0,192.5 349.0,193.3 350.0,194.1 351.0,194.9 352.0,195.6 353.0,196.4 354.0,197.1 355.0,197.8 356.0,198.5 357.0,199.1 358.0,199.8 359.0,200.3 360.0,200.9 361.0,201.4 362.0,201.9 363.0,202.4 364.0,202.8 365.0,203.3 366.0,203.7 367.0,204.1 368.0,204.4 369.0,204.8 370.0,205.1 371.0,205.4 372.0,205.7 373.0,206.0 374.0,206.2 375.0,206.5 376.0,206.7 377.0,206.9 378.0,207.0 379.0,207.2 380.0,207.3 381.0,207.5 382.0,207.6 383.0,207.7 384.0,207.8 385.0,207.9 386.0,208.0 387.0,208.1 388.0,208.1 389.0,208.2 390.0,208.3 391.0,208.4 392.0,208.6 393.0,208.7 394.0,208.8 395.0,209.0 396.0,209.2 397.0,209.4 398.0,209.7 399.0,209.9 400.0,210.2 401.0,210.5 402.0,210.8 403.0,211.1 404.0,211.4 405.0,211.8 406.0,212.1 407.0,212.4 408.0,212.8 409.0,213.2 410.0,213.7 411.0,214.1 412.0,214.6 413.0,215.1 414.0,215.6 415.0,216.1 416.0,216.7 417.0,217.2 418.0,217.7 419.0,218.2 420.0,218.8 421.0,219.4 422.0,220.0 423.0,220.6 424.0,221.3 425.0,221.9 426.0,222.5 427.0,223.1 428.0,223.5 429.0,224.0 430.0,224.3 431.0,224.5 432.0,224.6 433.0,224.6 434.0,224.6 435.0,224.5 436.0,224.5 437.0,224.3 438.0,224.2 439.0,224.0 440.0,223.8 441.0,223.6 442.0,223.4 443.0,223.2 444.0,223.0 445.0,222.7 446.0,222.4 447.0,222.0 448.0,221.6 449.0,221.2 450.0,220.8 451.0,220.3 452.0,219.9 453.0,219.5 454.0,219.2 455.0,218.9 456.0,218.6 457.0,218.5 458.0,218.4 459.0,218.4 460.0,218.4 461.0,218.5 462.0,218.5 463.0,218.6 464.0,218.9 465.0,219.2 466.0,219.6 467.0,220.0 468.0,220.5 469.0,221.0 470.0,221.5 471.0,222.0 472.0,222.6 473.0,223.2 474.0,223.9 475.0,224.5 476.0,225.1 477.0,225.6 478.0,226.1 479.0,226.5 480.0,226.8 481.0,227.2 482.0,227.5 483.0,227.8 484.0,228.1 485.0,228.4 486.0,228.6 487.0,228.9 488.0,229.2 489.0,229.5 490.0,229.8 491.0,230.2 492.0,230.6 493.0,231.0 494.0,231.4 495.0,231.7 496.0,232.1 497.0,232.4 498.0,232.6 499.0,232.8 500.0,233.0 501.0,233.1 502.0,233.2 503.0,233.2 504.0,233.3 505.0,233.3 506.0,233.3 507.0,233.2 508.0,233.1 509.0,232.9 510.0,232.6 511.0,232.3 512.0,232.0 513.0,231.6 514.0,231.2 515.0,230.9 516.0,230.5 517.0,230.0 518.0,229.6 519.0,229.2 520.0,228.8 521.0,228.4 522.0,228.1 523.0,227.7 524.0,227.4 525.0,227.0 526.0,226.6 527.0,226.3 528.0,225.9 529.0,225.6 530.0,225.4 531.0,225.2 532.0,225.1 533.0,225.0 534.0,224.9 535.0,224.9 536.0,224.8 537.0,224.8 538.0,224.8 539.0,224.8 540.0,224.9 541.0,224.9 542.0,225.0 543.0,225.1 544.0,225.2 545.0,225.3 546.0,225.4 547.0,225.5 548.0,225.7 549.0,225.8 550.0,226.0 551.0,226.2 552.0,226.5 553.0,226.7 554.0,227.0 555.0,227.2 556.0,227.5 557.0,227.8 558.0,228.1 559.0,228.4 560.0,228.8 561.0,229.1 562.0,229.4 563.0,229.7 564.0,230.0 565.0,230.3 566.0,230.7 567.0,231.0 568.0,231.3 569.0,231.7 570.0,232.1 571.0,232.5 572.0,232.8 573.0,233.2 574.0,233.5 575.0,233.8 576.0,234.0 577.0,234.2 578.0,234.3 579.0,234.5 580.0,234.6 581.0,234.7 582.0,234.8 583.0,234.9 584.0,235.0 585.0,235.1 586.0,235.2 587.0,235.3 588.0,235.4 589.0,235.4 590.0,235.4 591.0,235.5 592.0,235.5 593.0,235.5 594.0,235.5 595.0,235.5 596.0,235.5 597.0,235.5 598.0,235.5 599.0,235.5 600.0,235.4 601.0,235.4 602.0,235.4 603.0,235.4 604.0,235.4 605.0,235.4 606.0,235.4 607.0,235.4 608.0,235.4 609.0,235.4 610.0,235.4 611.0,235.4 612.0,235.4 613.0,235.4 614.0,235.5 615.0,235.5 616.0,235.6 617.0,235.6 618.0,235.7 619.0,235.8 620.0,235.9 621.0,236.0 622.0,236.2 623.0,236.3 624.0,236.4 625.0,236.6 626.0,236.7 627.0,236.9 628.0,237.0 629.0,237.2 630.0,237.4 631.0,237.5 632.0,237.7" stroke="#c8f040" stroke-width="3.2" stroke-opacity="1.00"/>
<path d="M24.0,60.2 25.0,59.3 26.0,57.0 27.0,55.7 28.0,54.9 29.0,51.4 30.0,50.5 31.0,54.6 32.0,55.1 33.0,57.0 34.0,58.1 35.0,60.4 36.0,63.8 37.0,65.2 38.0,65.4 39.0,68.5 40.0,68.1 41.0,72.5 42.0,78.7 43.0,86.6 44.0,102.5 45.0,115.0 46.0,123.6 47.0,128.9 48.0,130.4 49.0,131.5 50.0,132.5 51.0,135.8 52.0,138.4 53.0,135.3 54.0,130.0 55.0,125.4 56.0,120.6 57.0,114.9 58.0,107.0 59.0,96.9 60.0,87.1 61.0,77.5 62.0,68.9 63.0,60.8 64.0,53.5 65.0,46.5 66.0,39.4 67.0,33.5 68.0,31.2 69.0,31.9 70.0,35.1 71.0,41.5 72.0,47.9 73.0,53.0 74.0,57.1 75.0,60.3 76.0,61.8 77.0,60.5 78.0,57.1 79.0,52.9 80.0,49.1 81.0,45.5 82.0,41.3 83.0,38.0 84.0,37.0 85.0,39.0 86.0,42.4 87.0,46.2 88.0,49.5 89.0,52.8 90.0,56.2 91.0,59.8 92.0,63.4 93.0,67.1 94.0,71.1 95.0,75.4 96.0,80.1 97.0,85.5 98.0,90.9 99.0,96.0 100.0,100.8 101.0,105.5 102.0,110.5 103.0,114.3 104.0,116.4 105.0,117.1 106.0,116.5 107.0,115.2 108.0,112.2 109.0,108.6 110.0,106.1 111.0,104.1 112.0,102.6 113.0,102.4 114.0,103.1 115.0,104.2 116.0,106.2 117.0,108.3 118.0,109.0 119.0,107.2 120.0,104.1 121.0,100.6 122.0,97.4 123.0,94.8 124.0,92.5 125.0,90.5 126.0,88.7 127.0,87.3 128.0,86.5 129.0,86.5 130.0,87.2 131.0,88.1 132.0,88.8 133.0,89.0 134.0,89.2 135.0,89.5 136.0,89.8 137.0,90.4 138.0,92.3 139.0,95.4 140.0,99.1 141.0,102.8 142.0,106.4 143.0,110.6 144.0,114.5 145.0,117.2 146.0,119.2 147.0,120.8 148.0,122.3 149.0,123.7 150.0,124.9 151.0,125.8 152.0,126.7 153.0,127.6 154.0,128.8 155.0,130.5 156.0,132.9 157.0,136.2 158.0,139.9 159.0,144.2 160.0,149.4 161.0,154.1 162.0,158.0 163.0,160.7 164.0,161.2 165.0,159.5 166.0,156.7 167.0,153.9 168.0,151.5 169.0,149.9 170.0,149.6 171.0,150.7 172.0,152.4 173.0,153.6 174.0,153.9 175.0,153.6 176.0,152.7 177.0,150.4 178.0,147.4 179.0,144.4 180.0,141.9 181.0,139.2 182.0,136.4 183.0,134.1 184.0,131.9 185.0,129.8 186.0,128.4 187.0,127.9 188.0,128.1 189.0,128.5 190.0,129.0 191.0,129.6 192.0,130.4 193.0,131.3 194.0,132.3 195.0,133.3 196.0,134.4 197.0,135.7 198.0,137.3 199.0,139.1 200.0,141.4 201.0,144.0 202.0,148.1 203.0,153.2 204.0,157.4 205.0,161.2 206.0,164.2 207.0,165.3 208.0,163.9 209.0,161.6 210.0,159.7 211.0,158.7 212.0,157.7 213.0,156.9 214.0,156.5 215.0,156.8 216.0,158.1 217.0,160.1 218.0,162.3 219.0,164.5 220.0,166.4 221.0,168.5 222.0,170.9 223.0,173.2 224.0,175.2 225.0,176.4 226.0,176.6 227.0,174.0 228.0,169.8 229.0,165.8 230.0,162.3 231.0,158.7 232.0,156.5 233.0,155.5 234.0,154.7 235.0,154.1 236.0,153.6 237.0,153.6 238.0,154.0 239.0,154.7 240.0,155.8 241.0,157.1 242.0,158.4 243.0,159.8 244.0,161.0 245.0,162.1 246.0,163.1 247.0,164.3 248.0,165.4 249.0,166.6 250.0,167.6 251.0,168.5 252.0,169.2 253.0,169.6 254.0,169.6 255.0,169.3 256.0,168.7 257.0,167.9 258.0,167.0 259.0,166.2 260.0,165.7 261.0,165.2 262.0,164.8 263.0,164.4 264.0,164.0 265.0,163.7 266.0,163.5 267.0,163.5 268.0,163.6 269.0,163.7 270.0,163.8 271.0,164.0 272.0,164.2 273.0,164.5 274.0,164.9 275.0,165.5 276.0,166.1 277.0,166.9 278.0,168.2 279.0,170.3 280.0,172.8 281.0,175.8 282.0,179.3 283.0,183.9 284.0,189.1 285.0,194.9 286.0,200.5 287.0,204.6 288.0,206.8 289.0,209.0 290.0,212.0 291.0,215.7 292.0,214.7 293.0,213.2 294.0,210.5 295.0,207.3 296.0,203.7 297.0,199.5 298.0,195.3 299.0,191.5 300.0,187.7 301.0,184.4 302.0,181.4 303.0,178.7 304.0,176.2 305.0,174.2 306.0,173.0 307.0,172.1 308.0,171.3 309.0,170.8 310.0,170.5 311.0,170.4 312.0,170.6 313.0,170.9 314.0,171.3 315.0,171.8 316.0,172.1 317.0,172.5 318.0,172.9 319.0,173.4 320.0,173.8 321.0,174.4 322.0,174.9 323.0,175.5 324.0,176.1 325.0,176.8 326.0,177.5 327.0,178.1 328.0,178.8 329.0,179.6 330.0,180.3 331.0,181.0 332.0,181.8 333.0,182.5 334.0,183.3 335.0,184.0 336.0,184.8 337.0,185.5 338.0,186.2 339.0,186.9 340.0,187.6 341.0,188.3 342.0,189.0 343.0,189.7 344.0,190.5 345.0,191.3 346.0,192.1 347.0,192.9 348.0,193.7 349.0,194.5 350.0,195.3 351.0,196.1 352.0,196.8 353.0,197.6 354.0,198.3 355.0,199.0 356.0,199.6 357.0,200.3 358.0,200.9 359.0,201.5 360.0,202.0 361.0,202.6 362.0,203.1 363.0,203.6 364.0,204.0 365.0,204.5 366.0,204.9 367.0,205.2 368.0,205.6 369.0,205.9 370.0,206.2 371.0,206.5 372.0,206.7 373.0,207.0 374.0,207.2 375.0,207.4 376.0,207.6 377.0,207.8 378.0,208.0 379.0,208.1 380.0,208.3 381.0,208.4 382.0,208.5 383.0,208.6 384.0,208.6 385.0,208.7 386.0,208.8 387.0,208.9 388.0,208.9 389.0,209.0 390.0,209.1 391.0,209.2 392.0,209.3 393.0,209.4 394.0,209.5 395.0,209.7 396.0,209.9 397.0,210.1 398.0,210.3 399.0,210.6 400.0,210.9 401.0,211.2 402.0,211.6 403.0,211.9 404.0,212.2 405.0,212.6 406.0,212.9 407.0,213.2 408.0,213.6 409.0,214.0 410.0,214.4 411.0,214.9 412.0,215.4 413.0,215.9 414.0,216.4 415.0,216.9 416.0,217.4 417.0,218.0 418.0,218.5 419.0,219.0 420.0,219.6 421.0,220.2 422.0,220.8 423.0,221.5 424.0,222.1 425.0,222.8 426.0,223.4 427.0,223.9 428.0,224.4 429.0,224.9 430.0,225.2 431.0,225.4 432.0,225.5 433.0,225.6 434.0,225.6 435.0,225.6 436.0,225.5 437.0,225.4 438.0,225.3 439.0,225.1 440.0,224.9 441.0,224.7 442.0,224.5 443.0,224.3 444.0,224.1 445.0,223.8 446.0,223.6 447.0,223.2 448.0,222.8 449.0,222.4 450.0,222.0 451.0,221.6 452.0,221.2 453.0,220.9 454.0,220.5 455.0,220.2 456.0,220.0 457.0,219.8 458.0,219.7 459.0,219.6 460.0,219.5 461.0,219.5 462.0,219.5 463.0,219.5 464.0,219.6 465.0,219.8 466.0,220.0 467.0,220.3 468.0,220.6 469.0,221.0 470.0,221.3 471.0,221.7 472.0,222.1 473.0,222.6 474.0,223.1 475.0,223.7 476.0,224.1 477.0,224.6 478.0,224.9 479.0,225.3 480.0,225.6 481.0,225.8 482.0,226.1 483.0,226.4 484.0,226.6 485.0,226.8 486.0,227.1 487.0,227.3 488.0,227.6 489.0,227.9 490.0,228.3 491.0,228.7 492.0,229.1 493.0,229.6 494.0,230.0 495.0,230.5 496.0,230.9 497.0,231.4 498.0,231.7 499.0,232.1 500.0,232.3 501.0,232.5 502.0,232.7 503.0,232.8 504.0,233.0 505.0,233.1 506.0,233.1 507.0,233.2 508.0,233.1 509.0,233.0 510.0,232.8 511.0,232.6 512.0,232.4 513.0,232.1 514.0,231.7 515.0,231.3 516.0,230.9 517.0,230.5 518.0,230.0 519.0,229.6 520.0,229.2 521.0,228.8 522.0,228.4 523.0,228.0 524.0,227.6 525.0,227.2 526.0,226.7 527.0,226.3 528.0,225.9 529.0,225.6 530.0,225.3 531.0,225.1 532.0,224.9 533.0,224.8 534.0,224.7 535.0,224.6 536.0,224.5 537.0,224.5 538.0,224.5 539.0,224.4 540.0,224.5 541.0,224.5 542.0,224.5 543.0,224.6 544.0,224.7 545.0,224.8 546.0,224.9 547.0,224.9 548.0,225.1 549.0,225.2 550.0,225.3 551.0,225.5 552.0,225.7 553.0,225.9 554.0,226.1 555.0,226.3 556.0,226.5 557.0,226.8 558.0,227.1 559.0,227.4 560.0,227.7 561.0,228.0 562.0,228.3 563.0,228.6 564.0,228.9 565.0,229.2 566.0,229.6 567.0,229.9 568.0,230.2 569.0,230.6 570.0,231.0 571.0,231.4 572.0,231.8 573.0,232.2 574.0,232.6 575.0,232.9 576.0,233.1 577.0,233.3 578.0,233.4 579.0,233.6 580.0,233.7 581.0,233.8 582.0,233.9 583.0,234.0 584.0,234.1 585.0,234.2 586.0,234.3 587.0,234.4 588.0,234.4 589.0,234.5 590.0,234.5 591.0,234.5 592.0,234.5 593.0,234.5 594.0,234.5 595.0,234.5 596.0,234.5 597.0,234.5 598.0,234.5 599.0,234.5 600.0,234.5 601.0,234.5 602.0,234.5 603.0,234.4 604.0,234.4 605.0,234.4 606.0,234.4 607.0,234.4 608.0,234.4 609.0,234.4 610.0,234.4 611.0,234.4 612.0,234.4 613.0,234.4 614.0,234.5 615.0,234.5 616.0,234.6 617.0,234.7 618.0,234.8 619.0,234.8 620.0,235.0 621.0,235.1 622.0,235.2 623.0,235.3 624.0,235.5 625.0,235.6 626.0,235.8 627.0,235.9 628.0,236.1 629.0,236.3 630.0,236.5 631.0,236.6 632.0,236.8" stroke="#f8f030" stroke-width="3.2" stroke-opacity="1.00"/>
<path d="M24.0,72.6 25.0,65.4 26.0,66.6 27.0,66.6 28.0,67.2 29.0,67.7 30.0,65.4 31.0,60.2 32.0,55.2 33.0,67.0 34.0,65.1 35.0,65.1 36.0,67.9 37.0,75.0 38.0,71.5 39.0,76.6 40.0,81.0 41.0,83.7 42.0,84.9 43.0,91.4 44.0,109.9 45.0,127.2 46.0,133.3 47.0,136.8 48.0,139.4 49.0,141.8 50.0,143.8 51.0,145.6 52.0,146.3 53.0,143.3 54.0,139.1 55.0,135.7 56.0,132.1 57.0,127.6 58.0,120.6 59.0,110.6 60.0,101.0 61.0,91.4 62.0,82.1 63.0,72.9 64.0,64.5 65.0,57.1 66.0,50.2 67.0,44.5 68.0,40.3 69.0,37.7 70.0,39.0 71.0,45.7 72.0,53.3 73.0,59.8 74.0,65.4 75.0,70.1 76.0,73.2 77.0,72.3 78.0,68.5 79.0,63.5 80.0,58.9 81.0,54.5 82.0,49.8 83.0,46.5 84.0,46.1 85.0,47.9 86.0,50.8 87.0,54.2 88.0,57.5 89.0,60.8 90.0,64.6 91.0,68.4 92.0,72.2 93.0,75.8 94.0,79.4 95.0,83.1 96.0,87.0 97.0,91.5 98.0,96.3 99.0,101.0 100.0,105.5 101.0,110.3 102.0,115.5 103.0,120.0 104.0,123.0 105.0,123.8 106.0,122.8 107.0,120.8 108.0,118.0 109.0,115.1 110.0,112.9 111.0,111.2 112.0,109.6 113.0,108.5 114.0,107.9 115.0,107.9 116.0,110.1 117.0,114.2 118.0,117.0 119.0,116.1 120.0,113.0 121.0,109.0 122.0,105.5 123.0,102.5 124.0,99.3 125.0,96.3 126.0,93.6 127.0,91.4 128.0,90.1 129.0,90.0 130.0,91.1 131.0,92.6 132.0,93.5 133.0,93.8 134.0,94.0 135.0,94.1 136.0,94.4 137.0,95.0 138.0,97.2 139.0,100.6 140.0,104.7 141.0,108.7 142.0,112.7 143.0,117.2 144.0,121.2 145.0,123.6 146.0,125.3 147.0,126.8 148.0,128.2 149.0,129.6 150.0,130.9 151.0,132.0 152.0,133.2 153.0,134.4 154.0,135.8 155.0,137.4 156.0,139.5 157.0,142.1 158.0,145.3 159.0,148.6 160.0,152.4 161.0,156.4 162.0,160.0 163.0,162.5 164.0,163.1 165.0,161.7 166.0,159.0 167.0,156.0 168.0,153.3 169.0,151.6 170.0,151.6 171.0,152.7 172.0,154.2 173.0,155.5 174.0,156.0 175.0,155.5 176.0,154.2 177.0,152.1 178.0,149.5 179.0,146.9 180.0,144.5 181.0,141.7 182.0,138.7 183.0,136.3 184.0,134.2 185.0,132.2 186.0,130.6 187.0,129.7 188.0,129.6 189.0,129.8 190.0,130.1 191.0,130.6 192.0,131.2 193.0,131.9 194.0,132.7 195.0,133.5 196.0,134.3 197.0,135.4 198.0,136.6 199.0,138.2 200.0,140.1 201.0,142.5 202.0,147.1 203.0,153.3 204.0,158.0 205.0,162.4 206.0,165.7 207.0,166.5 208.0,164.9 209.0,162.5 210.0,160.7 211.0,159.6 212.0,158.6 213.0,157.8 214.0,157.3 215.0,157.4 216.0,158.4 217.0,160.0 218.0,162.0 219.0,164.2 220.0,166.1 221.0,168.3 222.0,170.9 223.0,173.6 224.0,175.9 225.0,177.4 226.0,177.5 227.0,174.6 228.0,169.8 229.0,165.2 230.0,160.8 231.0,156.4 232.0,153.8 233.0,153.0 234.0,152.4 235.0,151.9 236.0,151.6 237.0,151.7 238.0,152.1 239.0,153.0 240.0,154.1 241.0,155.4 242.0,156.7 243.0,158.1 244.0,159.4 245.0,160.5 246.0,161.6 247.0,162.7 248.0,164.0 249.0,165.2 250.0,166.3 251.0,167.2 252.0,167.9 253.0,168.3 254.0,168.4 255.0,168.0 256.0,167.4 257.0,166.5 258.0,165.7 259.0,164.9 260.0,164.4 261.0,164.0 262.0,163.6 263.0,163.2 264.0,162.9 265.0,162.7 266.0,162.5 267.0,162.4 268.0,162.4 269.0,162.4 270.0,162.5 271.0,162.6 272.0,162.7 273.0,162.9 274.0,163.1 275.0,163.4 276.0,163.7 277.0,164.0 278.0,164.9 279.0,166.1 280.0,167.7 281.0,169.7 282.0,172.1 283.0,176.3 284.0,181.4 285.0,187.6 286.0,193.8 287.0,198.0 288.0,201.2 289.0,204.5 290.0,209.3 291.0,215.9 292.0,216.3 293.0,216.1 294.0,214.7 295.0,212.4 296.0,209.1 297.0,204.5 298.0,199.9 299.0,195.8 300.0,191.7 301.0,187.9 302.0,184.5 303.0,181.2 304.0,178.1 305.0,175.7 306.0,174.3 307.0,173.2 308.0,172.3 309.0,171.7 310.0,171.3 311.0,171.2 312.0,171.4 313.0,171.9 314.0,172.5 315.0,173.1 316.0,173.6 317.0,174.0 318.0,174.5 319.0,174.9 320.0,175.4 321.0,175.9 322.0,176.5 323.0,177.1 324.0,177.8 325.0,178.5 326.0,179.2 327.0,179.9 328.0,180.6 329.0,181.3 330.0,182.1 331.0,182.8 332.0,183.6 333.0,184.3 334.0,185.1 335.0,185.8 336.0,186.5 337.0,187.3 338.0,188.0 339.0,188.8 340.0,189.5 341.0,190.2 342.0,191.0 343.0,191.7 344.0,192.6 345.0,193.4 346.0,194.3 347.0,195.2 348.0,196.0 349.0,196.8 350.0,197.7 351.0,198.5 352.0,199.2 353.0,200.0 354.0,200.7 355.0,201.3 356.0,201.9 357.0,202.6 358.0,203.2 359.0,203.8 360.0,204.3 361.0,204.9 362.0,205.4 363.0,205.9 364.0,206.3 365.0,206.8 366.0,207.2 367.0,207.5 368.0,207.8 369.0,208.1 370.0,208.3 371.0,208.6 372.0,208.8 373.0,209.0 374.0,209.2 375.0,209.4 376.0,209.6 377.0,209.7 378.0,209.9 379.0,210.0 380.0,210.1 381.0,210.2 382.0,210.2 383.0,210.3 384.0,210.3 385.0,210.4 386.0,210.4 387.0,210.4 388.0,210.5 389.0,210.5 390.0,210.6 391.0,210.6 392.0,210.7 393.0,210.7 394.0,210.8 395.0,211.0 396.0,211.2 397.0,211.4 398.0,211.7 399.0,212.0 400.0,212.3 401.0,212.7 402.0,213.0 403.0,213.4 404.0,213.8 405.0,214.1 406.0,214.5 407.0,214.9 408.0,215.2 409.0,215.6 410.0,216.0 411.0,216.5 412.0,216.9 413.0,217.4 414.0,217.9 415.0,218.5 416.0,219.0 417.0,219.5 418.0,220.1 419.0,220.6 420.0,221.2 421.0,221.8 422.0,222.5 423.0,223.2 424.0,223.8 425.0,224.5 426.0,225.1 427.0,225.7 428.0,226.2 429.0,226.7 430.0,227.0 431.0,227.3 432.0,227.5 433.0,227.6 434.0,227.7 435.0,227.7 436.0,227.7 437.0,227.6 438.0,227.5 439.0,227.3 440.0,227.2 441.0,227.0 442.0,226.7 443.0,226.5 444.0,226.3 445.0,226.1 446.0,225.9 447.0,225.6 448.0,225.3 449.0,224.9 450.0,224.6 451.0,224.3 452.0,223.9 453.0,223.6 454.0,223.3 455.0,223.0 456.0,222.7 457.0,222.5 458.0,222.3 459.0,222.0 460.0,221.8 461.0,221.6 462.0,221.4 463.0,221.2 464.0,221.1 465.0,220.9 466.0,220.9 467.0,220.8 468.0,220.8 469.0,220.8 470.0,220.9 471.0,221.1 472.0,221.3 473.0,221.5 474.0,221.7 475.0,222.0 476.0,222.3 477.0,222.5 478.0,222.7 479.0,222.9 480.0,223.0 481.0,223.2 482.0,223.3 483.0,223.5 484.0,223.6 485.0,223.8 486.0,224.0 487.0,224.2 488.0,224.4 489.0,224.8 490.0,225.2 491.0,225.6 492.0,226.2 493.0,226.7 494.0,227.4 495.0,228.0 496.0,228.7 497.0,229.4 498.0,230.0 499.0,230.5 500.0,231.0 501.0,231.4 502.0,231.7 503.0,232.0 504.0,232.3 505.0,232.6 506.0,232.8 507.0,233.0 508.0,233.2 509.0,233.3 510.0,233.3 511.0,233.3 512.0,233.2 513.0,233.0 514.0,232.7 515.0,232.3 516.0,231.9 517.0,231.4 518.0,230.9 519.0,230.4 520.0,229.9 521.0,229.5 522.0,229.0 523.0,228.5 524.0,228.0 525.0,227.5 526.0,226.9 527.0,226.4 528.0,225.9 529.0,225.4 530.0,225.1 531.0,224.8 532.0,224.6 533.0,224.4 534.0,224.2 535.0,224.1 536.0,223.9 537.0,223.8 538.0,223.7 539.0,223.7 540.0,223.6 541.0,223.6 542.0,223.6 543.0,223.6 544.0,223.6 545.0,223.7 546.0,223.7 547.0,223.8 548.0,223.8 549.0,223.9 550.0,224.0 551.0,224.1 552.0,224.1 553.0,224.2 554.0,224.3 555.0,224.4 556.0,224.6 557.0,224.8 558.0,225.0 559.0,225.3 560.0,225.5 561.0,225.8 562.0,226.1 563.0,226.4 564.0,226.7 565.0,227.1 566.0,227.4 567.0,227.7 568.0,228.0 569.0,228.5 570.0,228.9 571.0,229.4 572.0,229.9 573.0,230.3 574.0,230.7 575.0,231.1 576.0,231.4 577.0,231.6 578.0,231.7 579.0,231.8 580.0,231.9 581.0,232.0 582.0,232.1 583.0,232.2 584.0,232.3 585.0,232.3 586.0,232.4 587.0,232.5 588.0,232.5 589.0,232.5 590.0,232.6 591.0,232.6 592.0,232.6 593.0,232.6 594.0,232.6 595.0,232.6 596.0,232.6 597.0,232.6 598.0,232.6 599.0,232.5 600.0,232.5 601.0,232.5 602.0,232.5 603.0,232.5 604.0,232.5 605.0,232.5 606.0,232.5 607.0,232.4 608.0,232.4 609.0,232.4 610.0,232.4 611.0,232.4 612.0,232.4 613.0,232.5 614.0,232.5 615.0,232.5 616.0,232.6 617.0,232.7 618.0,232.8 619.0,232.9 620.0,233.0 621.0,233.2 622.0,233.3 623.0,233.4 624.0,233.6 625.0,233.8 626.0,233.9 627.0,234.1 628.0,234.3 629.0,234.5 630.0,234.7 631.0,234.9 632.0,235.1" stroke="#f0c040" stroke-width="2.6" stroke-opacity="1.00"/>
<path d="M24.0,91.8 25.0,88.3 26.0,73.5 27.0,70.0 28.0,73.9 29.0,73.5 30.0,65.4 31.0,66.1 32.0,80.0 33.0,75.5 34.0,59.7 35.0,57.5 36.0,66.2 37.0,75.5 38.0,78.3 39.0,71.9 40.0,66.9 41.0,75.2 42.0,81.8 43.0,91.4 44.0,112.9 45.0,129.7 46.0,135.2 47.0,138.9 48.0,142.2 49.0,145.0 50.0,147.3 51.0,148.7 52.0,148.8 53.0,145.9 54.0,142.0 55.0,138.9 56.0,135.6 57.0,131.5 58.0,124.9 59.0,114.9 60.0,105.3 61.0,95.7 62.0,86.2 63.0,76.6 64.0,68.0 65.0,60.4 66.0,53.5 67.0,48.0 68.0,43.2 69.0,39.6 70.0,40.1 71.0,47.0 72.0,55.0 73.0,61.9 74.0,68.0 75.0,73.2 76.0,76.7 77.0,76.0 78.0,72.1 79.0,66.8 80.0,62.0 81.0,57.4 82.0,52.5 83.0,49.2 84.0,48.9 85.0,50.6 86.0,53.4 87.0,56.7 88.0,60.0 89.0,63.4 90.0,67.2 91.0,71.2 92.0,75.0 93.0,78.5 94.0,82.0 95.0,85.5 96.0,89.2 97.0,93.4 98.0,97.9 99.0,102.6 100.0,107.0 101.0,111.8 102.0,117.0 103.0,121.8 104.0,125.1 105.0,126.0 106.0,124.8 107.0,122.6 108.0,119.8 109.0,117.1 110.0,115.0 111.0,113.4 112.0,111.8 113.0,110.4 114.0,109.4 115.0,109.0 116.0,111.4 117.0,116.0 118.0,119.5 119.0,118.9 120.0,115.8 121.0,111.6 122.0,108.0 123.0,104.9 124.0,101.5 125.0,98.1 126.0,95.1 127.0,92.7 128.0,91.3 129.0,91.1 130.0,92.3 131.0,94.0 132.0,95.0 133.0,95.3 134.0,95.5 135.0,95.6 136.0,95.8 137.0,96.5 138.0,98.8 139.0,102.3 140.0,106.4 141.0,110.6 142.0,114.6 143.0,119.3 144.0,123.3 145.0,125.6 146.0,127.3 147.0,128.6 148.0,130.0 149.0,131.4 150.0,132.7 151.0,134.0 152.0,135.2 153.0,136.5 154.0,138.0 155.0,139.6 156.0,141.5 157.0,144.0 158.0,147.0 159.0,150.0 160.0,153.3 161.0,157.1 162.0,160.6 163.0,163.1 164.0,163.8 165.0,162.4 166.0,159.8 167.0,156.6 168.0,153.8 169.0,152.2 170.0,152.2 171.0,153.3 172.0,154.8 173.0,156.1 174.0,156.7 175.0,156.2 176.0,154.7 177.0,152.6 178.0,150.2 179.0,147.7 180.0,145.3 181.0,142.4 182.0,139.5 183.0,137.0 184.0,134.9 185.0,132.9 186.0,131.2 187.0,130.2 188.0,130.0 189.0,130.2 190.0,130.5 191.0,130.9 192.0,131.5 193.0,132.1 194.0,132.8 195.0,133.5 196.0,134.3 197.0,135.3 198.0,136.4 199.0,137.9 200.0,139.7 201.0,142.0 202.0,146.8 203.0,153.3 204.0,158.2 205.0,162.8 206.0,166.2 207.0,166.9 208.0,165.3 209.0,162.9 210.0,161.0 211.0,159.9 212.0,158.9 213.0,158.1 214.0,157.6 215.0,157.6 216.0,158.4 217.0,160.0 218.0,161.9 219.0,164.0 220.0,166.0 221.0,168.2 222.0,170.9 223.0,173.7 224.0,176.1 225.0,177.6 226.0,177.8 227.0,174.8 228.0,169.8 229.0,165.0 230.0,160.3 231.0,155.6 232.0,153.0 233.0,152.2 234.0,151.6 235.0,151.2 236.0,151.0 237.0,151.1 238.0,151.6 239.0,152.4 240.0,153.5 241.0,154.8 242.0,156.2 243.0,157.6 244.0,158.9 245.0,160.0 246.0,161.1 247.0,162.3 248.0,163.5 249.0,164.7 250.0,165.8 251.0,166.8 252.0,167.5 253.0,167.9 254.0,168.0 255.0,167.6 256.0,166.9 257.0,166.1 258.0,165.3 259.0,164.5 260.0,164.0 261.0,163.6 262.0,163.3 263.0,162.9 264.0,162.6 265.0,162.3 266.0,162.1 267.0,162.0 268.0,162.0 269.0,162.0 270.0,162.1 271.0,162.1 272.0,162.2 273.0,162.4 274.0,162.5 275.0,162.7 276.0,162.9 277.0,163.2 278.0,163.8 279.0,164.8 280.0,166.1 281.0,167.8 282.0,169.9 283.0,173.9 284.0,179.0 285.0,185.4 286.0,191.7 287.0,196.0 288.0,199.5 289.0,203.2 290.0,208.4 291.0,216.0 292.0,216.8 293.0,217.0 294.0,216.0 295.0,214.0 296.0,210.8 297.0,206.1 298.0,201.3 299.0,197.1 300.0,192.9 301.0,189.0 302.0,185.4 303.0,182.0 304.0,178.8 305.0,176.2 306.0,174.7 307.0,173.6 308.0,172.7 309.0,171.9 310.0,171.5 311.0,171.4 312.0,171.7 313.0,172.2 314.0,172.8 315.0,173.5 316.0,174.0 317.0,174.5 318.0,175.0 319.0,175.4 320.0,175.9 321.0,176.4 322.0,177.0 323.0,177.6 324.0,178.3 325.0,179.0 326.0,179.8 327.0,180.5 328.0,181.2 329.0,181.9 330.0,182.7 331.0,183.4 332.0,184.2 333.0,184.9 334.0,185.6 335.0,186.3 336.0,187.1 337.0,187.8 338.0,188.6 339.0,189.3 340.0,190.0 341.0,190.8 342.0,191.6 343.0,192.4 344.0,193.2 345.0,194.1 346.0,195.0 347.0,195.9 348.0,196.7 349.0,197.6 350.0,198.4 351.0,199.2 352.0,200.0 353.0,200.7 354.0,201.4 355.0,202.1 356.0,202.7 357.0,203.3 358.0,203.9 359.0,204.5 360.0,205.0 361.0,205.6 362.0,206.1 363.0,206.6 364.0,207.1 365.0,207.5 366.0,207.9 367.0,208.2 368.0,208.5 369.0,208.8 370.0,209.0 371.0,209.2 372.0,209.4 373.0,209.6 374.0,209.8 375.0,210.0 376.0,210.2 377.0,210.3 378.0,210.4 379.0,210.6 380.0,210.6 381.0,210.7 382.0,210.8 383.0,210.8 384.0,210.9 385.0,210.9 386.0,210.9 387.0,210.9 388.0,211.0 389.0,211.0 390.0,211.0 391.0,211.1 392.0,211.1 393.0,211.2 394.0,211.2 395.0,211.4 396.0,211.6 397.0,211.8 398.0,212.1 399.0,212.4 400.0,212.8 401.0,213.1 402.0,213.5 403.0,213.9 404.0,214.3 405.0,214.6 406.0,215.0 407.0,215.4 408.0,215.7 409.0,216.1 410.0,216.5 411.0,216.9 412.0,217.4 413.0,217.9 414.0,218.4 415.0,218.9 416.0,219.5 417.0,220.0 418.0,220.6 419.0,221.1 420.0,221.7 421.0,222.4 422.0,223.0 423.0,223.7 424.0,224.4 425.0,225.0 426.0,225.6 427.0,226.2 428.0,226.8 429.0,227.2 430.0,227.6 431.0,227.9 432.0,228.1 433.0,228.2 434.0,228.3 435.0,228.4 436.0,228.3 437.0,228.3 438.0,228.2 439.0,228.0 440.0,227.9 441.0,227.7 442.0,227.4 443.0,227.2 444.0,227.0 445.0,226.8 446.0,226.6 447.0,226.3 448.0,226.0 449.0,225.7 450.0,225.4 451.0,225.1 452.0,224.8 453.0,224.4 454.0,224.1 455.0,223.8 456.0,223.5 457.0,223.3 458.0,223.1 459.0,222.8 460.0,222.5 461.0,222.3 462.0,222.0 463.0,221.8 464.0,221.5 465.0,221.3 466.0,221.1 467.0,221.0 468.0,220.9 469.0,220.8 470.0,220.8 471.0,220.9 472.0,221.0 473.0,221.1 474.0,221.3 475.0,221.5 476.0,221.7 477.0,221.8 478.0,222.0 479.0,222.1 480.0,222.3 481.0,222.4 482.0,222.5 483.0,222.6 484.0,222.7 485.0,222.9 486.0,223.0 487.0,223.2 488.0,223.5 489.0,223.8 490.0,224.2 491.0,224.7 492.0,225.2 493.0,225.8 494.0,226.5 495.0,227.3 496.0,228.0 497.0,228.7 498.0,229.4 499.0,230.0 500.0,230.6 501.0,231.0 502.0,231.4 503.0,231.7 504.0,232.1 505.0,232.4 506.0,232.7 507.0,233.0 508.0,233.2 509.0,233.4 510.0,233.5 511.0,233.5 512.0,233.4 513.0,233.2 514.0,233.0 515.0,232.6 516.0,232.1 517.0,231.7 518.0,231.2 519.0,230.6 520.0,230.2 521.0,229.7 522.0,229.2 523.0,228.7 524.0,228.2 525.0,227.6 526.0,227.0 527.0,226.4 528.0,225.9 529.0,225.4 530.0,225.0 531.0,224.7 532.0,224.5 533.0,224.3 534.0,224.1 535.0,223.9 536.0,223.8 537.0,223.6 538.0,223.5 539.0,223.4 540.0,223.3 541.0,223.3 542.0,223.3 543.0,223.3 544.0,223.3 545.0,223.3 546.0,223.4 547.0,223.4 548.0,223.4 549.0,223.5 550.0,223.5 551.0,223.6 552.0,223.7 553.0,223.7 554.0,223.8 555.0,223.9 556.0,224.0 557.0,224.2 558.0,224.4 559.0,224.6 560.0,224.8 561.0,225.1 562.0,225.4 563.0,225.7 564.0,226.0 565.0,226.4 566.0,226.7 567.0,227.0 568.0,227.4 569.0,227.8 570.0,228.2 571.0,228.7 572.0,229.2 573.0,229.7 574.0,230.2 575.0,230.5 576.0,230.8 577.0,231.0 578.0,231.1 579.0,231.2 580.0,231.3 581.0,231.4 582.0,231.5 583.0,231.6 584.0,231.7 585.0,231.8 586.0,231.8 587.0,231.9 588.0,231.9 589.0,232.0 590.0,232.0 591.0,232.0 592.0,232.0 593.0,232.0 594.0,232.0 595.0,232.0 596.0,232.0 597.0,232.0 598.0,232.0 599.0,231.9 600.0,231.9 601.0,231.9 602.0,231.9 603.0,231.9 604.0,231.9 605.0,231.8 606.0,231.8 607.0,231.8 608.0,231.8 609.0,231.8 610.0,231.8 611.0,231.8 612.0,231.8 613.0,231.8 614.0,231.9 615.0,231.9 616.0,232.0 617.0,232.1 618.0,232.2 619.0,232.3 620.0,232.4 621.0,232.6 622.0,232.7 623.0,232.8 624.0,233.0 625.0,233.2 626.0,233.3 627.0,233.5 628.0,233.7 629.0,233.9 630.0,234.1 631.0,234.3 632.0,234.5" stroke="#ff8820" stroke-width="2.6" stroke-opacity="1.00"/>
<path d="M24.0,79.5 25.0,81.0 26.0,74.0 27.0,72.7 28.0,68.5 29.0,74.4 30.0,81.6 31.0,89.0 32.0,81.9 33.0,77.6 34.0,78.7 35.0,72.8 36.0,78.6 37.0,74.1 38.0,74.6 39.0,81.1 40.0,79.0 41.0,79.4 42.0,77.7 43.0,91.3 44.0,114.3 45.0,130.5 46.0,136.3 47.0,140.5 48.0,143.8 49.0,147.0 50.0,149.4 51.0,150.5 52.0,150.3 53.0,147.4 54.0,143.7 55.0,140.8 56.0,137.8 57.0,133.9 58.0,127.4 59.0,117.5 60.0,107.9 61.0,98.3 62.0,88.7 63.0,78.9 64.0,70.1 65.0,62.4 66.0,55.5 67.0,50.1 68.0,44.9 69.0,40.7 70.0,40.9 71.0,47.8 72.0,56.0 73.0,63.2 74.0,69.6 75.0,75.0 76.0,78.9 77.0,78.2 78.0,74.2 79.0,68.8 80.0,63.8 81.0,59.1 82.0,54.1 83.0,50.8 84.0,50.6 85.0,52.3 86.0,55.0 87.0,58.3 88.0,61.5 89.0,64.9 90.0,68.7 91.0,72.8 92.0,76.7 93.0,80.2 94.0,83.5 95.0,86.9 96.0,90.5 97.0,94.5 98.0,98.9 99.0,103.5 100.0,107.9 101.0,112.7 102.0,117.9 103.0,122.8 104.0,126.3 105.0,127.2 106.0,126.0 107.0,123.6 108.0,120.9 109.0,118.3 110.0,116.3 111.0,114.7 112.0,113.1 113.0,111.5 114.0,110.3 115.0,109.7 116.0,112.1 117.0,117.1 118.0,120.9 119.0,120.6 120.0,117.4 121.0,113.2 122.0,109.5 123.0,106.3 124.0,102.8 125.0,99.2 126.0,96.0 127.0,93.4 128.0,91.9 129.0,91.8 130.0,93.1 131.0,94.8 132.0,95.9 133.0,96.2 134.0,96.3 135.0,96.5 136.0,96.7 137.0,97.3 138.0,99.7 139.0,103.3 140.0,107.5 141.0,111.7 142.0,115.8 143.0,120.5 144.0,124.6 145.0,126.8 146.0,128.4 147.0,129.7 148.0,131.1 149.0,132.5 150.0,133.8 151.0,135.1 152.0,136.4 153.0,137.8 154.0,139.3 155.0,140.9 156.0,142.7 157.0,145.1 158.0,148.0 159.0,150.8 160.0,153.9 161.0,157.5 162.0,161.0 163.0,163.4 164.0,164.1 165.0,162.8 166.0,160.2 167.0,157.0 168.0,154.2 169.0,152.5 170.0,152.6 171.0,153.7 172.0,155.2 173.0,156.5 174.0,157.1 175.0,156.5 176.0,155.0 177.0,152.9 178.0,150.6 179.0,148.1 180.0,145.8 181.0,142.9 182.0,139.9 183.0,137.4 184.0,135.4 185.0,133.4 186.0,131.6 187.0,130.5 188.0,130.3 189.0,130.4 190.0,130.7 191.0,131.1 192.0,131.6 193.0,132.2 194.0,132.9 195.0,133.6 196.0,134.3 197.0,135.2 198.0,136.3 199.0,137.7 200.0,139.5 201.0,141.7 202.0,146.6 203.0,153.3 204.0,158.3 205.0,163.0 206.0,166.4 207.0,167.1 208.0,165.5 209.0,163.0 210.0,161.2 211.0,160.1 212.0,159.1 213.0,158.2 214.0,157.7 215.0,157.7 216.0,158.5 217.0,160.0 218.0,161.9 219.0,164.0 220.0,165.9 221.0,168.2 222.0,170.9 223.0,173.8 224.0,176.2 225.0,177.8 226.0,178.0 227.0,174.9 228.0,169.8 229.0,164.9 230.0,160.0 231.0,155.2 232.0,152.5 233.0,151.8 234.0,151.2 235.0,150.8 236.0,150.6 237.0,150.7 238.0,151.2 239.0,152.1 240.0,153.2 241.0,154.5 242.0,155.9 243.0,157.3 244.0,158.6 245.0,159.7 246.0,160.8 247.0,162.0 248.0,163.2 249.0,164.4 250.0,165.6 251.0,166.5 252.0,167.3 253.0,167.7 254.0,167.7 255.0,167.4 256.0,166.7 257.0,165.9 258.0,165.0 259.0,164.3 260.0,163.8 261.0,163.4 262.0,163.0 263.0,162.7 264.0,162.4 265.0,162.1 266.0,161.9 267.0,161.8 268.0,161.8 269.0,161.8 270.0,161.8 271.0,161.9 272.0,162.0 273.0,162.1 274.0,162.2 275.0,162.3 276.0,162.4 277.0,162.6 278.0,163.2 279.0,164.0 280.0,165.2 281.0,166.6 282.0,168.6 283.0,172.5 284.0,177.6 285.0,184.0 286.0,190.4 287.0,194.8 288.0,198.4 289.0,202.3 290.0,207.9 291.0,216.0 292.0,217.0 293.0,217.5 294.0,216.8 295.0,215.0 296.0,211.8 297.0,207.0 298.0,202.1 299.0,197.9 300.0,193.7 301.0,189.6 302.0,186.0 303.0,182.5 304.0,179.1 305.0,176.4 306.0,174.9 307.0,173.8 308.0,172.8 309.0,172.1 310.0,171.7 311.0,171.6 312.0,171.8 313.0,172.3 314.0,173.0 315.0,173.7 316.0,174.3 317.0,174.8 318.0,175.3 319.0,175.7 320.0,176.2 321.0,176.7 322.0,177.3 323.0,177.9 324.0,178.6 325.0,179.4 326.0,180.1 327.0,180.8 328.0,181.5 329.0,182.2 330.0,183.0 331.0,183.8 332.0,184.5 333.0,185.2 334.0,186.0 335.0,186.7 336.0,187.4 337.0,188.2 338.0,188.9 339.0,189.7 340.0,190.4 341.0,191.1 342.0,191.9 343.0,192.7 344.0,193.6 345.0,194.5 346.0,195.4 347.0,196.3 348.0,197.2 349.0,198.0 350.0,198.9 351.0,199.7 352.0,200.4 353.0,201.2 354.0,201.8 355.0,202.5 356.0,203.1 357.0,203.7 358.0,204.3 359.0,204.9 360.0,205.5 361.0,206.0 362.0,206.6 363.0,207.1 364.0,207.5 365.0,207.9 366.0,208.3 367.0,208.6 368.0,208.9 369.0,209.2 370.0,209.4 371.0,209.6 372.0,209.8 373.0,210.0 374.0,210.2 375.0,210.4 376.0,210.5 377.0,210.7 378.0,210.8 379.0,210.9 380.0,211.0 381.0,211.0 382.0,211.1 383.0,211.1 384.0,211.2 385.0,211.2 386.0,211.2 387.0,211.2 388.0,211.3 389.0,211.3 390.0,211.3 391.0,211.3 392.0,211.4 393.0,211.4 394.0,211.5 395.0,211.6 396.0,211.8 397.0,212.1 398.0,212.3 399.0,212.7 400.0,213.0 401.0,213.4 402.0,213.8 403.0,214.2 404.0,214.6 405.0,214.9 406.0,215.3 407.0,215.7 408.0,216.0 409.0,216.4 410.0,216.8 411.0,217.2 412.0,217.7 413.0,218.2 414.0,218.7 415.0,219.2 416.0,219.8 417.0,220.3 418.0,220.9 419.0,221.4 420.0,222.0 421.0,222.7 422.0,223.3 423.0,224.0 424.0,224.7 425.0,225.3 426.0,226.0 427.0,226.6 428.0,227.1 429.0,227.6 430.0,228.0 431.0,228.3 432.0,228.5 433.0,228.6 434.0,228.7 435.0,228.7 436.0,228.7 437.0,228.7 438.0,228.6 439.0,228.5 440.0,228.3 441.0,228.1 442.0,227.9 443.0,227.7 444.0,227.5 445.0,227.3 446.0,227.0 447.0,226.8 448.0,226.5 449.0,226.2 450.0,225.9 451.0,225.6 452.0,225.3 453.0,224.9 454.0,224.6 455.0,224.3 456.0,224.1 457.0,223.8 458.0,223.5 459.0,223.3 460.0,223.0 461.0,222.7 462.0,222.4 463.0,222.1 464.0,221.8 465.0,221.5 466.0,221.3 467.0,221.1 468.0,220.9 469.0,220.8 470.0,220.7 471.0,220.7 472.0,220.8 473.0,220.9 474.0,221.0 475.0,221.2 476.0,221.3 477.0,221.5 478.0,221.6 479.0,221.7 480.0,221.8 481.0,221.9 482.0,222.0 483.0,222.1 484.0,222.2 485.0,222.3 486.0,222.4 487.0,222.6 488.0,222.9 489.0,223.2 490.0,223.7 491.0,224.1 492.0,224.7 493.0,225.3 494.0,226.0 495.0,226.8 496.0,227.6 497.0,228.4 498.0,229.1 499.0,229.8 500.0,230.3 501.0,230.8 502.0,231.2 503.0,231.6 504.0,231.9 505.0,232.3 506.0,232.6 507.0,232.9 508.0,233.2 509.0,233.4 510.0,233.6 511.0,233.6 512.0,233.6 513.0,233.4 514.0,233.1 515.0,232.8 516.0,232.3 517.0,231.8 518.0,231.3 519.0,230.8 520.0,230.3 521.0,229.8 522.0,229.4 523.0,228.8 524.0,228.2 525.0,227.6 526.0,227.0 527.0,226.4 528.0,225.9 529.0,225.4 530.0,225.0 531.0,224.6 532.0,224.4 533.0,224.2 534.0,224.0 535.0,223.8 536.0,223.6 537.0,223.5 538.0,223.4 539.0,223.3 540.0,223.2 541.0,223.1 542.0,223.1 543.0,223.1 544.0,223.1 545.0,223.1 546.0,223.2 547.0,223.2 548.0,223.2 549.0,223.3 550.0,223.3 551.0,223.3 552.0,223.4 553.0,223.4 554.0,223.5 555.0,223.5 556.0,223.6 557.0,223.8 558.0,224.0 559.0,224.2 560.0,224.4 561.0,224.7 562.0,225.0 563.0,225.3 564.0,225.6 565.0,226.0 566.0,226.3 567.0,226.6 568.0,226.9 569.0,227.4 570.0,227.8 571.0,228.4 572.0,228.9 573.0,229.4 574.0,229.8 575.0,230.2 576.0,230.5 577.0,230.7 578.0,230.8 579.0,230.9 580.0,231.0 581.0,231.1 582.0,231.2 583.0,231.3 584.0,231.3 585.0,231.4 586.0,231.5 587.0,231.5 588.0,231.6 589.0,231.6 590.0,231.6 591.0,231.6 592.0,231.6 593.0,231.6 594.0,231.6 595.0,231.6 596.0,231.6 597.0,231.6 598.0,231.6 599.0,231.6 600.0,231.6 601.0,231.5 602.0,231.5 603.0,231.5 604.0,231.5 605.0,231.5 606.0,231.5 607.0,231.5 608.0,231.4 609.0,231.4 610.0,231.4 611.0,231.4 612.0,231.4 613.0,231.5 614.0,231.5 615.0,231.6 616.0,231.6 617.0,231.7 618.0,231.8 619.0,231.9 620.0,232.1 621.0,232.2 622.0,232.3 623.0,232.5 624.0,232.7 625.0,232.8 626.0,233.0 627.0,233.2 628.0,233.4 629.0,233.6 630.0,233.8 631.0,234.0 632.0,234.2" stroke="#ff8820" stroke-width="2.6" stroke-opacity="1.00"/>
<path d="M24.0,79.3 25.0,81.0 26.0,77.5 27.0,73.2 28.0,81.7 29.0,81.6 30.0,78.2 31.0,70.3 32.0,81.0 33.0,89.1 34.0,79.5 35.0,69.3 36.0,75.4 37.0,79.1 38.0,80.0 39.0,78.4 40.0,77.2 41.0,76.5 42.0,81.0 43.0,92.1 44.0,117.3 45.0,134.5 46.0,138.8 47.0,141.9 48.0,145.5 49.0,148.9 50.0,151.5 51.0,152.4 52.0,151.8 53.0,148.9 54.0,145.4 55.0,142.7 56.0,139.9 57.0,136.3 58.0,130.0 59.0,120.1 60.0,110.5 61.0,100.9 62.0,91.1 63.0,81.2 64.0,72.1 65.0,64.4 66.0,57.5 67.0,52.1 68.0,46.6 69.0,41.8 70.0,41.6 71.0,48.6 72.0,57.0 73.0,64.4 74.0,71.1 75.0,76.9 76.0,81.0 77.0,80.5 78.0,76.3 79.0,70.7 80.0,65.7 81.0,60.8 82.0,55.7 83.0,52.4 84.0,52.4 85.0,53.9 86.0,56.6 87.0,59.8 88.0,63.0 89.0,66.4 90.0,70.3 91.0,74.4 92.0,78.3 93.0,81.8 94.0,85.1 95.0,88.4 96.0,91.8 97.0,95.6 98.0,99.9 99.0,104.4 100.0,108.8 101.0,113.6 102.0,118.9 103.0,123.9 104.0,127.5 105.0,128.5 106.0,127.2 107.0,124.7 108.0,122.0 109.0,119.5 110.0,117.5 111.0,116.1 112.0,114.4 113.0,112.7 114.0,111.2 115.0,110.4 116.0,112.8 117.0,118.2 118.0,122.4 119.0,122.3 120.0,119.1 121.0,114.8 122.0,111.0 123.0,107.8 124.0,104.1 125.0,100.3 126.0,96.9 127.0,94.2 128.0,92.6 129.0,92.5 130.0,93.8 131.0,95.6 132.0,96.8 133.0,97.1 134.0,97.2 135.0,97.3 136.0,97.5 137.0,98.2 138.0,100.6 139.0,104.3 140.0,108.5 141.0,112.8 142.0,116.9 143.0,121.8 144.0,125.8 145.0,128.1 146.0,129.6 147.0,130.9 148.0,132.2 149.0,133.6 150.0,135.0 151.0,136.3 152.0,137.7 153.0,139.1 154.0,140.6 155.0,142.2 156.0,144.0 157.0,146.2 158.0,149.0 159.0,151.6 160.0,154.5 161.0,158.0 162.0,161.4 163.0,163.8 164.0,164.5 165.0,163.2 166.0,160.6 167.0,157.4 168.0,154.5 169.0,152.8 170.0,153.0 171.0,154.1 172.0,155.5 173.0,156.9 174.0,157.5 175.0,156.9 176.0,155.3 177.0,153.2 178.0,151.0 179.0,148.6 180.0,146.2 181.0,143.4 182.0,140.3 183.0,137.8 184.0,135.8 185.0,133.8 186.0,132.0 187.0,130.8 188.0,130.6 189.0,130.6 190.0,130.9 191.0,131.3 192.0,131.8 193.0,132.3 194.0,132.9 195.0,133.6 196.0,134.3 197.0,135.1 198.0,136.2 199.0,137.5 200.0,139.3 201.0,141.4 202.0,146.4 203.0,153.3 204.0,158.4 205.0,163.2 206.0,166.7 207.0,167.4 208.0,165.7 209.0,163.2 210.0,161.4 211.0,160.3 212.0,159.2 213.0,158.4 214.0,157.9 215.0,157.8 216.0,158.5 217.0,160.0 218.0,161.8 219.0,163.9 220.0,165.9 221.0,168.1 222.0,170.9 223.0,173.8 224.0,176.3 225.0,178.0 226.0,178.1 227.0,175.0 228.0,169.8 229.0,164.8 230.0,159.8 231.0,154.7 232.0,152.0 233.0,151.3 234.0,150.7 235.0,150.4 236.0,150.3 237.0,150.4 238.0,150.9 239.0,151.8 240.0,152.9 241.0,154.2 242.0,155.6 243.0,157.0 244.0,158.3 245.0,159.4 246.0,160.5 247.0,161.7 248.0,162.9 249.0,164.2 250.0,165.3 251.0,166.3 252.0,167.0 253.0,167.4 254.0,167.5 255.0,167.1 256.0,166.5 257.0,165.6 258.0,164.8 259.0,164.0 260.0,163.5 261.0,163.2 262.0,162.8 263.0,162.5 264.0,162.2 265.0,161.9 266.0,161.7 267.0,161.6 268.0,161.6 269.0,161.6 270.0,161.6 271.0,161.6 272.0,161.7 273.0,161.8 274.0,161.8 275.0,161.9 276.0,162.0 277.0,162.1 278.0,162.5 279.0,163.2 280.0,164.2 281.0,165.5 282.0,167.2 283.0,171.1 284.0,176.1 285.0,182.6 286.0,189.2 287.0,193.5 288.0,197.4 289.0,201.5 290.0,207.4 291.0,216.1 292.0,217.3 293.0,218.1 294.0,217.6 295.0,215.9 296.0,212.8 297.0,208.0 298.0,203.0 299.0,198.7 300.0,194.4 301.0,190.3 302.0,186.5 303.0,183.0 304.0,179.5 305.0,176.7 306.0,175.1 307.0,174.0 308.0,173.0 309.0,172.3 310.0,171.8 311.0,171.7 312.0,172.0 313.0,172.5 314.0,173.2 315.0,174.0 316.0,174.6 317.0,175.1 318.0,175.6 319.0,176.0 320.0,176.5 321.0,177.0 322.0,177.6 323.0,178.3 324.0,179.0 325.0,179.7 326.0,180.4 327.0,181.1 328.0,181.8 329.0,182.6 330.0,183.3 331.0,184.1 332.0,184.9 333.0,185.6 334.0,186.3 335.0,187.0 336.0,187.8 337.0,188.5 338.0,189.2 339.0,190.0 340.0,190.7 341.0,191.5 342.0,192.3 343.0,193.1 344.0,194.0 345.0,194.9 346.0,195.8 347.0,196.7 348.0,197.6 349.0,198.5 350.0,199.3 351.0,200.1 352.0,200.9 353.0,201.6 354.0,202.3 355.0,202.9 356.0,203.5 357.0,204.1 358.0,204.7 359.0,205.3 360.0,205.9 361.0,206.5 362.0,207.0 363.0,207.5 364.0,208.0 365.0,208.4 366.0,208.7 367.0,209.1 368.0,209.3 369.0,209.6 370.0,209.8 371.0,210.0 372.0,210.2 373.0,210.4 374.0,210.6 375.0,210.7 376.0,210.9 377.0,211.0 378.0,211.1 379.0,211.2 380.0,211.3 381.0,211.4 382.0,211.4 383.0,211.5 384.0,211.5 385.0,211.5 386.0,211.5 387.0,211.5 388.0,211.5 389.0,211.6 390.0,211.6 391.0,211.6 392.0,211.6 393.0,211.7 394.0,211.7 395.0,211.9 396.0,212.1 397.0,212.3 398.0,212.6 399.0,212.9 400.0,213.3 401.0,213.7 402.0,214.1 403.0,214.5 404.0,214.9 405.0,215.2 406.0,215.6 407.0,216.0 408.0,216.3 409.0,216.7 410.0,217.1 411.0,217.5 412.0,218.0 413.0,218.5 414.0,219.0 415.0,219.5 416.0,220.1 417.0,220.6 418.0,221.2 419.0,221.8 420.0,222.3 421.0,223.0 422.0,223.6 423.0,224.3 424.0,225.0 425.0,225.7 426.0,226.3 427.0,226.9 428.0,227.4 429.0,227.9 430.0,228.3 431.0,228.6 432.0,228.8 433.0,229.0 434.0,229.1 435.0,229.1 436.0,229.1 437.0,229.1 438.0,229.0 439.0,228.9 440.0,228.7 441.0,228.5 442.0,228.3 443.0,228.1 444.0,227.9 445.0,227.7 446.0,227.5 447.0,227.2 448.0,226.9 449.0,226.7 450.0,226.4 451.0,226.1 452.0,225.8 453.0,225.5 454.0,225.1 455.0,224.9 456.0,224.6 457.0,224.3 458.0,224.0 459.0,223.7 460.0,223.4 461.0,223.1 462.0,222.7 463.0,222.4 464.0,222.1 465.0,221.7 466.0,221.4 467.0,221.2 468.0,220.9 469.0,220.8 470.0,220.7 471.0,220.6 472.0,220.6 473.0,220.7 474.0,220.8 475.0,220.9 476.0,221.0 477.0,221.1 478.0,221.2 479.0,221.2 480.0,221.3 481.0,221.4 482.0,221.4 483.0,221.5 484.0,221.6 485.0,221.7 486.0,221.9 487.0,222.0 488.0,222.3 489.0,222.6 490.0,223.1 491.0,223.6 492.0,224.1 493.0,224.8 494.0,225.5 495.0,226.3 496.0,227.2 497.0,228.0 498.0,228.8 499.0,229.5 500.0,230.1 501.0,230.6 502.0,231.0 503.0,231.4 504.0,231.8 505.0,232.2 506.0,232.6 507.0,232.9 508.0,233.2 509.0,233.5 510.0,233.6 511.0,233.7 512.0,233.7 513.0,233.6 514.0,233.3 515.0,232.9 516.0,232.5 517.0,232.0 518.0,231.5 519.0,230.9 520.0,230.4 521.0,229.9 522.0,229.5 523.0,228.9 524.0,228.3 525.0,227.7 526.0,227.1 527.0,226.4 528.0,225.9 529.0,225.3 530.0,224.9 531.0,224.6 532.0,224.4 533.0,224.1 534.0,223.9 535.0,223.7 536.0,223.5 537.0,223.4 538.0,223.2 539.0,223.1 540.0,223.0 541.0,223.0 542.0,222.9 543.0,222.9 544.0,222.9 545.0,222.9 546.0,223.0 547.0,223.0 548.0,223.0 549.0,223.0 550.0,223.0 551.0,223.1 552.0,223.1 553.0,223.1 554.0,223.1 555.0,223.2 556.0,223.3 557.0,223.4 558.0,223.6 559.0,223.8 560.0,224.0 561.0,224.3 562.0,224.6 563.0,224.9 564.0,225.2 565.0,225.5 566.0,225.9 567.0,226.2 568.0,226.5 569.0,227.0 570.0,227.5 571.0,228.0 572.0,228.5 573.0,229.0 574.0,229.5 575.0,229.9 576.0,230.2 577.0,230.3 578.0,230.5 579.0,230.6 580.0,230.7 581.0,230.8 582.0,230.8 583.0,230.9 584.0,231.0 585.0,231.1 586.0,231.1 587.0,231.2 588.0,231.2 589.0,231.2 590.0,231.3 591.0,231.3 592.0,231.3 593.0,231.3 594.0,231.3 595.0,231.3 596.0,231.3 597.0,231.2 598.0,231.2 599.0,231.2 600.0,231.2 601.0,231.2 602.0,231.2 603.0,231.1 604.0,231.1 605.0,231.1 606.0,231.1 607.0,231.1 608.0,231.1 609.0,231.1 610.0,231.1 611.0,231.1 612.0,231.1 613.0,231.1 614.0,231.1 615.0,231.2 616.0,231.3 617.0,231.4 618.0,231.5 619.0,231.6 620.0,231.7 621.0,231.8 622.0,232.0 623.0,232.1 624.0,232.3 625.0,232.5 626.0,232.7 627.0,232.8 628.0,233.0 629.0,233.2 630.0,233.4 631.0,233.6 632.0,233.8" stroke="#f06030" stroke-width="2.6" stroke-opacity="1.00"/>
<path d="M24.0,76.1 25.0,82.0 26.0,95.1 27.0,89.9 28.0,79.8 29.0,85.8 30.0,86.2 31.0,80.7 32.0,82.9 33.0,77.3 34.0,69.3 35.0,68.3 36.0,77.3 37.0,82.1 38.0,70.8 39.0,68.8 40.0,72.0 41.0,70.0 42.0,83.6 43.0,94.5 44.0,119.7 45.0,136.4 46.0,139.3 47.0,142.7 48.0,146.6 49.0,150.2 50.0,152.9 51.0,153.6 52.0,152.8 53.0,149.9 54.0,146.6 55.0,144.0 56.0,141.4 57.0,137.8 58.0,131.7 59.0,121.8 60.0,112.2 61.0,102.6 62.0,92.8 63.0,82.7 64.0,73.5 65.0,65.7 66.0,58.9 67.0,53.5 68.0,47.7 69.0,42.5 70.0,42.1 71.0,49.2 72.0,57.7 73.0,65.3 74.0,72.2 75.0,78.1 76.0,82.4 77.0,81.9 78.0,77.8 79.0,72.1 80.0,66.9 81.0,61.9 82.0,56.8 83.0,53.5 84.0,53.5 85.0,55.1 86.0,57.6 87.0,60.8 88.0,64.0 89.0,67.4 90.0,71.4 91.0,75.5 92.0,79.4 93.0,82.9 94.0,86.1 95.0,89.3 96.0,92.7 97.0,96.4 98.0,100.6 99.0,105.1 100.0,109.4 101.0,114.2 102.0,119.5 103.0,124.6 104.0,128.4 105.0,129.4 106.0,128.0 107.0,125.4 108.0,122.7 109.0,120.3 110.0,118.4 111.0,117.0 112.0,115.3 113.0,113.4 114.0,111.8 115.0,110.8 116.0,113.3 117.0,119.0 118.0,123.4 119.0,123.4 120.0,120.2 121.0,115.8 122.0,112.0 123.0,108.7 124.0,104.9 125.0,101.0 126.0,97.5 127.0,94.7 128.0,93.1 129.0,92.9 130.0,94.3 131.0,96.2 132.0,97.4 133.0,97.7 134.0,97.8 135.0,97.9 136.0,98.1 137.0,98.8 138.0,101.2 139.0,104.9 140.0,109.2 141.0,113.5 142.0,117.7 143.0,122.6 144.0,126.7 145.0,128.9 146.0,130.4 147.0,131.6 148.0,132.9 149.0,134.4 150.0,135.7 151.0,137.1 152.0,138.5 153.0,139.9 154.0,141.5 155.0,143.1 156.0,144.8 157.0,147.0 158.0,149.7 159.0,152.2 160.0,154.8 161.0,158.3 162.0,161.6 163.0,164.0 164.0,164.7 165.0,163.5 166.0,160.9 167.0,157.7 168.0,154.7 169.0,153.1 170.0,153.2 171.0,154.3 172.0,155.7 173.0,157.1 174.0,157.8 175.0,157.1 176.0,155.5 177.0,153.5 178.0,151.2 179.0,148.9 180.0,146.6 181.0,143.7 182.0,140.6 183.0,138.1 184.0,136.1 185.0,134.1 186.0,132.3 187.0,131.0 188.0,130.8 189.0,130.8 190.0,131.0 191.0,131.4 192.0,131.9 193.0,132.4 194.0,133.0 195.0,133.6 196.0,134.3 197.0,135.1 198.0,136.1 199.0,137.4 200.0,139.1 201.0,141.2 202.0,146.2 203.0,153.3 204.0,158.5 205.0,163.4 206.0,166.9 207.0,167.5 208.0,165.8 209.0,163.3 210.0,161.5 211.0,160.4 212.0,159.4 213.0,158.5 214.0,158.0 215.0,157.9 216.0,158.6 217.0,159.9 218.0,161.8 219.0,163.8 220.0,165.8 221.0,168.1 222.0,170.9 223.0,173.9 224.0,176.4 225.0,178.1 226.0,178.3 227.0,175.1 228.0,169.8 229.0,164.7 230.0,159.6 231.0,154.4 232.0,151.7 233.0,151.0 234.0,150.5 235.0,150.1 236.0,150.0 237.0,150.1 238.0,150.7 239.0,151.6 240.0,152.7 241.0,154.0 242.0,155.4 243.0,156.8 244.0,158.1 245.0,159.2 246.0,160.3 247.0,161.5 248.0,162.8 249.0,164.0 250.0,165.1 251.0,166.1 252.0,166.9 253.0,167.3 254.0,167.3 255.0,167.0 256.0,166.3 257.0,165.5 258.0,164.6 259.0,163.9 260.0,163.4 261.0,163.0 262.0,162.7 263.0,162.3 264.0,162.1 265.0,161.8 266.0,161.6 267.0,161.5 268.0,161.4 269.0,161.4 270.0,161.4 271.0,161.4 272.0,161.5 273.0,161.5 274.0,161.6 275.0,161.6 276.0,161.7 277.0,161.7 278.0,162.1 279.0,162.7 280.0,163.6 281.0,164.7 282.0,166.3 283.0,170.1 284.0,175.1 285.0,181.7 286.0,188.3 287.0,192.7 288.0,196.7 289.0,201.0 290.0,207.0 291.0,216.1 292.0,217.5 293.0,218.4 294.0,218.1 295.0,216.6 296.0,213.4 297.0,208.6 298.0,203.6 299.0,199.2 300.0,194.9 301.0,190.7 302.0,186.9 303.0,183.3 304.0,179.8 305.0,176.9 306.0,175.3 307.0,174.1 308.0,173.2 309.0,172.4 310.0,171.9 311.0,171.8 312.0,172.1 313.0,172.6 314.0,173.4 315.0,174.1 316.0,174.8 317.0,175.3 318.0,175.8 319.0,176.2 320.0,176.7 321.0,177.2 322.0,177.8 323.0,178.5 324.0,179.2 325.0,179.9 326.0,180.6 327.0,181.3 328.0,182.0 329.0,182.8 330.0,183.6 331.0,184.3 332.0,185.1 333.0,185.8 334.0,186.5 335.0,187.2 336.0,188.0 337.0,188.7 338.0,189.5 339.0,190.2 340.0,191.0 341.0,191.7 342.0,192.5 343.0,193.4 344.0,194.2 345.0,195.2 346.0,196.1 347.0,197.0 348.0,197.9 349.0,198.8 350.0,199.6 351.0,200.4 352.0,201.2 353.0,201.9 354.0,202.6 355.0,203.2 356.0,203.8 357.0,204.4 358.0,205.0 359.0,205.6 360.0,206.2 361.0,206.8 362.0,207.3 363.0,207.8 364.0,208.2 365.0,208.7 366.0,209.0 367.0,209.4 368.0,209.6 369.0,209.8 370.0,210.1 371.0,210.3 372.0,210.5 373.0,210.7 374.0,210.8 375.0,211.0 376.0,211.1 377.0,211.3 378.0,211.4 379.0,211.5 380.0,211.6 381.0,211.6 382.0,211.6 383.0,211.7 384.0,211.7 385.0,211.7 386.0,211.7 387.0,211.7 388.0,211.7 389.0,211.7 390.0,211.8 391.0,211.8 392.0,211.8 393.0,211.8 394.0,211.9 395.0,212.0 396.0,212.2 397.0,212.5 398.0,212.8 399.0,213.1 400.0,213.5 401.0,213.8 402.0,214.2 403.0,214.7 404.0,215.1 405.0,215.4 406.0,215.8 407.0,216.2 408.0,216.5 409.0,216.9 410.0,217.3 411.0,217.7 412.0,218.2 413.0,218.7 414.0,219.2 415.0,219.7 416.0,220.3 417.0,220.8 418.0,221.4 419.0,222.0 420.0,222.6 421.0,223.2 422.0,223.9 423.0,224.5 424.0,225.2 425.0,225.9 426.0,226.5 427.0,227.1 428.0,227.7 429.0,228.1 430.0,228.5 431.0,228.9 432.0,229.1 433.0,229.2 434.0,229.3 435.0,229.4 436.0,229.4 437.0,229.4 438.0,229.3 439.0,229.1 440.0,229.0 441.0,228.8 442.0,228.6 443.0,228.4 444.0,228.2 445.0,228.0 446.0,227.7 447.0,227.5 448.0,227.2 449.0,227.0 450.0,226.7 451.0,226.4 452.0,226.1 453.0,225.8 454.0,225.5 455.0,225.2 456.0,224.9 457.0,224.6 458.0,224.3 459.0,224.0 460.0,223.7 461.0,223.3 462.0,223.0 463.0,222.6 464.0,222.2 465.0,221.9 466.0,221.5 467.0,221.2 468.0,221.0 469.0,220.8 470.0,220.6 471.0,220.5 472.0,220.5 473.0,220.5 474.0,220.6 475.0,220.6 476.0,220.7 477.0,220.8 478.0,220.9 479.0,220.9 480.0,221.0 481.0,221.0 482.0,221.1 483.0,221.2 484.0,221.2 485.0,221.3 486.0,221.5 487.0,221.6 488.0,221.9 489.0,222.2 490.0,222.7 491.0,223.2 492.0,223.8 493.0,224.4 494.0,225.2 495.0,226.0 496.0,226.9 497.0,227.7 498.0,228.5 499.0,229.3 500.0,229.9 501.0,230.4 502.0,230.9 503.0,231.3 504.0,231.7 505.0,232.1 506.0,232.5 507.0,232.9 508.0,233.2 509.0,233.5 510.0,233.7 511.0,233.8 512.0,233.8 513.0,233.7 514.0,233.4 515.0,233.1 516.0,232.6 517.0,232.1 518.0,231.6 519.0,231.0 520.0,230.5 521.0,230.0 522.0,229.6 523.0,229.0 524.0,228.4 525.0,227.7 526.0,227.1 527.0,226.5 528.0,225.9 529.0,225.3 530.0,224.9 531.0,224.5 532.0,224.3 533.0,224.1 534.0,223.9 535.0,223.7 536.0,223.5 537.0,223.3 538.0,223.1 539.0,223.0 540.0,222.9 541.0,222.9 542.0,222.8 543.0,222.8 544.0,222.8 545.0,222.8 546.0,222.8 547.0,222.8 548.0,222.8 549.0,222.8 550.0,222.9 551.0,222.9 552.0,222.9 553.0,222.9 554.0,222.9 555.0,222.9 556.0,223.0 557.0,223.2 558.0,223.3 559.0,223.5 560.0,223.8 561.0,224.0 562.0,224.3 563.0,224.6 564.0,224.9 565.0,225.3 566.0,225.6 567.0,225.9 568.0,226.3 569.0,226.7 570.0,227.2 571.0,227.7 572.0,228.2 573.0,228.8 574.0,229.2 575.0,229.6 576.0,229.9 577.0,230.1 578.0,230.2 579.0,230.3 580.0,230.4 581.0,230.5 582.0,230.6 583.0,230.7 584.0,230.8 585.0,230.8 586.0,230.9 587.0,230.9 588.0,231.0 589.0,231.0 590.0,231.0 591.0,231.0 592.0,231.0 593.0,231.0 594.0,231.0 595.0,231.0 596.0,231.0 597.0,231.0 598.0,231.0 599.0,231.0 600.0,231.0 601.0,230.9 602.0,230.9 603.0,230.9 604.0,230.9 605.0,230.9 606.0,230.8 607.0,230.8 608.0,230.8 609.0,230.8 610.0,230.8 611.0,230.8 612.0,230.8 613.0,230.8 614.0,230.9 615.0,230.9 616.0,231.0 617.0,231.1 618.0,231.2 619.0,231.3 620.0,231.5 621.0,231.6 622.0,231.7 623.0,231.9 624.0,232.1 625.0,232.2 626.0,232.4 627.0,232.6 628.0,232.8 629.0,233.0 630.0,233.2 631.0,233.4 632.0,233.6" stroke="#f85020" stroke-width="2.6" stroke-opacity="1.00"/>
<path d="M24.0,70.5 25.0,72.6 26.0,68.3 27.0,72.6 28.0,73.9 29.0,70.2 30.0,70.6 31.0,67.3 32.0,68.4 33.0,78.0 34.0,75.9 35.0,70.3 36.0,69.5 37.0,75.9 38.0,80.9 39.0,83.1 40.0,82.3 41.0,77.9 42.0,79.2 43.0,95.9 44.0,116.7 45.0,130.9 46.0,135.8 47.0,138.9 48.0,142.2 49.0,145.0 50.0,147.3 51.0,148.7 52.0,148.8 53.0,145.9 54.0,142.0 55.0,138.9 56.0,135.6 57.0,131.5 58.0,124.9 59.0,114.9 60.0,105.3 61.0,95.7 62.0,86.2 63.0,76.6 64.0,68.0 65.0,60.4 66.0,53.5 67.0,48.0 68.0,43.2 69.0,39.6 70.0,40.1 71.0,47.0 72.0,55.0 73.0,61.9 74.0,68.0 75.0,73.2 76.0,76.7 77.0,76.0 78.0,72.1 79.0,66.8 80.0,62.0 81.0,57.4 82.0,52.5 83.0,49.2 84.0,48.9 85.0,50.6 86.0,53.4 87.0,56.7 88.0,60.0 89.0,63.4 90.0,67.2 91.0,71.2 92.0,75.0 93.0,78.5 94.0,82.0 95.0,85.5 96.0,89.2 97.0,93.4 98.0,97.9 99.0,102.6 100.0,107.0 101.0,111.8 102.0,117.0 103.0,121.8 104.0,125.1 105.0,126.0 106.0,124.8 107.0,122.6 108.0,119.8 109.0,117.1 110.0,115.0 111.0,113.4 112.0,111.8 113.0,110.4 114.0,109.4 115.0,109.0 116.0,111.4 117.0,116.0 118.0,119.5 119.0,118.9 120.0,115.8 121.0,111.6 122.0,108.0 123.0,104.9 124.0,101.5 125.0,98.1 126.0,95.1 127.0,92.7 128.0,91.3 129.0,91.1 130.0,92.3 131.0,94.0 132.0,95.0 133.0,95.3 134.0,95.5 135.0,95.6 136.0,95.8 137.0,96.5 138.0,98.8 139.0,102.3 140.0,106.4 141.0,110.6 142.0,114.6 143.0,119.3 144.0,123.3 145.0,125.6 146.0,127.3 147.0,128.6 148.0,130.0 149.0,131.4 150.0,132.7 151.0,134.0 152.0,135.2 153.0,136.5 154.0,138.0 155.0,139.6 156.0,141.5 157.0,144.0 158.0,147.0 159.0,150.0 160.0,153.3 161.0,157.1 162.0,160.6 163.0,163.1 164.0,163.8 165.0,162.4 166.0,159.8 167.0,156.6 168.0,153.8 169.0,152.2 170.0,152.2 171.0,153.3 172.0,154.8 173.0,156.1 174.0,156.7 175.0,156.2 176.0,154.7 177.0,152.6 178.0,150.2 179.0,147.7 180.0,145.3 181.0,142.4 182.0,139.5 183.0,137.0 184.0,134.9 185.0,132.9 186.0,131.2 187.0,130.2 188.0,130.0 189.0,130.2 190.0,130.5 191.0,130.9 192.0,131.5 193.0,132.1 194.0,132.8 195.0,133.5 196.0,134.3 197.0,135.3 198.0,136.4 199.0,137.9 200.0,139.7 201.0,142.0 202.0,146.8 203.0,153.3 204.0,158.2 205.0,162.8 206.0,166.2 207.0,166.9 208.0,165.3 209.0,162.9 210.0,161.0 211.0,159.9 212.0,158.9 213.0,158.1 214.0,157.6 215.0,157.6 216.0,158.4 217.0,160.0 218.0,161.9 219.0,164.0 220.0,166.0 221.0,168.2 222.0,170.9 223.0,173.7 224.0,176.1 225.0,177.6 226.0,177.8 227.0,174.8 228.0,169.8 229.0,165.0 230.0,160.3 231.0,155.6 232.0,153.0 233.0,152.2 234.0,151.6 235.0,151.2 236.0,151.0 237.0,151.1 238.0,151.6 239.0,152.4 240.0,153.5 241.0,154.8 242.0,156.2 243.0,157.6 244.0,158.9 245.0,160.0 246.0,161.1 247.0,162.3 248.0,163.5 249.0,164.7 250.0,165.8 251.0,166.8 252.0,167.5 253.0,167.9 254.0,168.0 255.0,167.6 256.0,166.9 257.0,166.1 258.0,165.3 259.0,164.5 260.0,164.0 261.0,163.6 262.0,163.3 263.0,162.9 264.0,162.6 265.0,162.3 266.0,162.1 267.0,162.0 268.0,162.0 269.0,162.0 270.0,162.1 271.0,162.1 272.0,162.2 273.0,162.4 274.0,162.5 275.0,162.7 276.0,162.9 277.0,163.2 278.0,163.8 279.0,164.8 280.0,166.1 281.0,167.8 282.0,169.9 283.0,173.9 284.0,179.0 285.0,185.4 286.0,191.7 287.0,196.0 288.0,199.5 289.0,203.2 290.0,208.4 291.0,216.0 292.0,216.8 293.0,217.0 294.0,216.0 295.0,214.0 296.0,210.8 297.0,206.1 298.0,201.3 299.0,197.1 300.0,192.9 301.0,189.0 302.0,185.4 303.0,182.0 304.0,178.8 305.0,176.2 306.0,174.7 307.0,173.6 308.0,172.7 309.0,171.9 310.0,171.5 311.0,171.4 312.0,171.7 313.0,172.2 314.0,172.8 315.0,173.5 316.0,174.0 317.0,174.5 318.0,175.0 319.0,175.4 320.0,175.9 321.0,176.4 322.0,177.0 323.0,177.6 324.0,178.3 325.0,179.0 326.0,179.8 327.0,180.5 328.0,181.2 329.0,181.9 330.0,182.7 331.0,183.4 332.0,184.2 333.0,184.9 334.0,185.6 335.0,186.3 336.0,187.1 337.0,187.8 338.0,188.6 339.0,189.3 340.0,190.0 341.0,190.8 342.0,191.6 343.0,192.4 344.0,193.2 345.0,194.1 346.0,195.0 347.0,195.9 348.0,196.7 349.0,197.6 350.0,198.4 351.0,199.2 352.0,200.0 353.0,200.7 354.0,201.4 355.0,202.1 356.0,202.7 357.0,203.3 358.0,203.9 359.0,204.5 360.0,205.0 361.0,205.6 362.0,206.1 363.0,206.6 364.0,207.1 365.0,207.5 366.0,207.9 367.0,208.2 368.0,208.5 369.0,208.8 370.0,209.0 371.0,209.2 372.0,209.4 373.0,209.6 374.0,209.8 375.0,210.0 376.0,210.2 377.0,210.3 378.0,210.4 379.0,210.6 380.0,210.6 381.0,210.7 382.0,210.8 383.0,210.8 384.0,210.9 385.0,210.9 386.0,210.9 387.0,210.9 388.0,211.0 389.0,211.0 390.0,211.0 391.0,211.1 392.0,211.1 393.0,211.2 394.0,211.2 395.0,211.4 396.0,211.6 397.0,211.8 398.0,212.1 399.0,212.4 400.0,212.8 401.0,213.1 402.0,213.5 403.0,213.9 404.0,214.3 405.0,214.6 406.0,215.0 407.0,215.4 408.0,215.7 409.0,216.1 410.0,216.5 411.0,216.9 412.0,217.4 413.0,217.9 414.0,218.4 415.0,218.9 416.0,219.5 417.0,220.0 418.0,220.6 419.0,221.1 420.0,221.7 421.0,222.4 422.0,223.0 423.0,223.7 424.0,224.4 425.0,225.0 426.0,225.6 427.0,226.2 428.0,226.8 429.0,227.2 430.0,227.6 431.0,227.9 432.0,228.1 433.0,228.2 434.0,228.3 435.0,228.4 436.0,228.3 437.0,228.3 438.0,228.2 439.0,228.0 440.0,227.9 441.0,227.7 442.0,227.4 443.0,227.2 444.0,227.0 445.0,226.8 446.0,226.6 447.0,226.3 448.0,226.0 449.0,225.7 450.0,225.4 451.0,225.1 452.0,224.8 453.0,224.4 454.0,224.1 455.0,223.8 456.0,223.5 457.0,223.3 458.0,223.1 459.0,222.8 460.0,222.5 461.0,222.3 462.0,222.0 463.0,221.8 464.0,221.5 465.0,221.3 466.0,221.1 467.0,221.0 468.0,220.9 469.0,220.8 470.0,220.8 471.0,220.9 472.0,221.0 473.0,221.1 474.0,221.3 475.0,221.5 476.0,221.7 477.0,221.8 478.0,222.0 479.0,222.1 480.0,222.3 481.0,222.4 482.0,222.5 483.0,222.6 484.0,222.7 485.0,222.9 486.0,223.0 487.0,223.2 488.0,223.5 489.0,223.8 490.0,224.2 491.0,224.7 492.0,225.2 493.0,225.8 494.0,226.5 495.0,227.3 496.0,228.0 497.0,228.7 498.0,229.4 499.0,230.0 500.0,230.6 501.0,231.0 502.0,231.4 503.0,231.7 504.0,232.1 505.0,232.4 506.0,232.7 507.0,233.0 508.0,233.2 509.0,233.4 510.0,233.5 511.0,233.5 512.0,233.4 513.0,233.2 514.0,233.0 515.0,232.6 516.0,232.1 517.0,231.7 518.0,231.2 519.0,230.6 520.0,230.2 521.0,229.7 522.0,229.2 523.0,228.7 524.0,228.2 525.0,227.6 526.0,227.0 527.0,226.4 528.0,225.9 529.0,225.4 530.0,225.0 531.0,224.7 532.0,224.5 533.0,224.3 534.0,224.1 535.0,223.9 536.0,223.8 537.0,223.6 538.0,223.5 539.0,223.4 540.0,223.3 541.0,223.3 542.0,223.3 543.0,223.3 544.0,223.3 545.0,223.3 546.0,223.4 547.0,223.4 548.0,223.4 549.0,223.5 550.0,223.5 551.0,223.6 552.0,223.7 553.0,223.7 554.0,223.8 555.0,223.9 556.0,224.0 557.0,224.2 558.0,224.4 559.0,224.6 560.0,224.8 561.0,225.1 562.0,225.4 563.0,225.7 564.0,226.0 565.0,226.4 566.0,226.7 567.0,227.0 568.0,227.4 569.0,227.8 570.0,228.2 571.0,228.7 572.0,229.2 573.0,229.7 574.0,230.2 575.0,230.5 576.0,230.8 577.0,231.0 578.0,231.1 579.0,231.2 580.0,231.3 581.0,231.4 582.0,231.5 583.0,231.6 584.0,231.7 585.0,231.8 586.0,231.8 587.0,231.9 588.0,231.9 589.0,232.0 590.0,232.0 591.0,232.0 592.0,232.0 593.0,232.0 594.0,232.0 595.0,232.0 596.0,232.0 597.0,232.0 598.0,232.0 599.0,231.9 600.0,231.9 601.0,231.9 602.0,231.9 603.0,231.9 604.0,231.9 605.0,231.8 606.0,231.8 607.0,231.8 608.0,231.8 609.0,231.8 610.0,231.8 611.0,231.8 612.0,231.8 613.0,231.8 614.0,231.9 615.0,231.9 616.0,232.0 617.0,232.1 618.0,232.2 619.0,232.3 620.0,232.4 621.0,232.6 622.0,232.7 623.0,232.8 624.0,233.0 625.0,233.2 626.0,233.3 627.0,233.5 628.0,233.7 629.0,233.9 630.0,234.1 631.0,234.3 632.0,234.5" stroke="#f83020" stroke-width="2.6" stroke-opacity="1.00"/>
<path d="M24.0,94.4 25.0,99.4 26.0,87.3 27.0,73.7 28.0,76.0 29.0,72.7 30.0,74.8 31.0,80.7 32.0,77.7 33.0,73.3 34.0,77.0 35.0,78.9 36.0,85.2 37.0,85.5 38.0,86.9 39.0,85.9 40.0,86.6 41.0,85.8 42.0,88.5 43.0,98.3 44.0,118.3 45.0,132.9 46.0,139.9 47.0,142.6 48.0,145.6 49.0,148.3 50.0,150.5 51.0,151.8 52.0,151.8 53.0,149.0 54.0,145.2 55.0,142.0 56.0,138.6 57.0,134.3 58.0,127.7 59.0,118.0 60.0,108.5 61.0,99.1 62.0,89.7 63.0,80.3 64.0,71.6 65.0,64.1 66.0,57.2 67.0,51.7 68.0,46.9 69.0,43.2 70.0,43.6 71.0,50.0 72.0,57.5 73.0,64.1 74.0,70.1 75.0,75.3 76.0,78.9 77.0,78.3 78.0,74.7 79.0,69.8 80.0,65.4 81.0,61.0 82.0,56.5 83.0,53.4 84.0,53.3 85.0,55.0 86.0,57.7 87.0,60.9 88.0,63.9 89.0,67.0 90.0,70.6 91.0,74.3 92.0,77.9 93.0,81.1 94.0,84.3 95.0,87.6 96.0,91.2 97.0,95.2 98.0,99.6 99.0,104.1 100.0,108.4 101.0,113.0 102.0,117.8 103.0,122.1 104.0,125.1 105.0,125.8 106.0,124.6 107.0,122.4 108.0,119.8 109.0,117.5 110.0,115.7 111.0,114.4 112.0,113.1 113.0,112.0 114.0,111.2 115.0,111.0 116.0,113.4 117.0,118.0 118.0,121.3 119.0,120.6 120.0,117.3 121.0,113.0 122.0,109.2 123.0,106.0 124.0,102.4 125.0,98.9 126.0,95.8 127.0,93.3 128.0,91.9 129.0,91.7 130.0,92.7 131.0,94.2 132.0,95.2 133.0,95.4 134.0,95.4 135.0,95.5 136.0,95.7 137.0,96.3 138.0,98.5 139.0,102.1 140.0,106.2 141.0,110.4 142.0,114.5 143.0,119.2 144.0,123.4 145.0,125.9 146.0,127.7 147.0,129.2 148.0,130.7 149.0,132.3 150.0,133.8 151.0,135.1 152.0,136.3 153.0,137.6 154.0,139.0 155.0,140.6 156.0,142.4 157.0,144.8 158.0,147.6 159.0,150.3 160.0,153.3 161.0,156.8 162.0,160.1 163.0,162.4 164.0,162.9 165.0,161.5 166.0,158.9 167.0,155.7 168.0,152.9 169.0,151.2 170.0,151.3 171.0,152.4 172.0,154.0 173.0,155.4 174.0,156.2 175.0,155.8 176.0,154.6 177.0,152.8 178.0,150.5 179.0,148.2 180.0,145.9 181.0,143.3 182.0,140.4 183.0,138.1 184.0,136.1 185.0,134.2 186.0,132.6 187.0,131.5 188.0,131.3 189.0,131.4 190.0,131.6 191.0,131.9 192.0,132.2 193.0,132.6 194.0,133.0 195.0,133.5 196.0,134.0 197.0,134.8 198.0,135.7 199.0,137.0 200.0,138.7 201.0,140.9 202.0,145.5 203.0,151.9 204.0,156.7 205.0,161.2 206.0,164.5 207.0,165.3 208.0,163.8 209.0,161.5 210.0,159.8 211.0,158.7 212.0,157.8 213.0,157.0 214.0,156.6 215.0,156.6 216.0,157.4 217.0,159.0 218.0,160.9 219.0,163.0 220.0,164.9 221.0,167.1 222.0,169.8 223.0,172.6 224.0,175.0 225.0,176.6 226.0,176.9 227.0,174.0 228.0,169.2 229.0,164.7 230.0,160.2 231.0,155.6 232.0,153.1 233.0,152.4 234.0,151.9 235.0,151.5 236.0,151.3 237.0,151.4 238.0,152.0 239.0,152.8 240.0,154.0 241.0,155.2 242.0,156.6 243.0,158.0 244.0,159.3 245.0,160.4 246.0,161.4 247.0,162.6 248.0,163.8 249.0,165.0 250.0,166.0 251.0,166.9 252.0,167.6 253.0,167.9 254.0,167.9 255.0,167.4 256.0,166.7 257.0,165.9 258.0,164.9 259.0,164.1 260.0,163.5 261.0,163.0 262.0,162.6 263.0,162.2 264.0,161.9 265.0,161.7 266.0,161.5 267.0,161.5 268.0,161.5 269.0,161.6 270.0,161.7 271.0,161.9 272.0,162.1 273.0,162.3 274.0,162.5 275.0,162.8 276.0,163.0 277.0,163.3 278.0,164.0 279.0,165.0 280.0,166.4 281.0,168.0 282.0,170.1 283.0,174.1 284.0,179.1 285.0,185.4 286.0,191.7 287.0,196.0 288.0,199.5 289.0,203.2 290.0,208.4 291.0,215.9 292.0,216.7 293.0,217.0 294.0,216.1 295.0,214.1 296.0,210.9 297.0,206.3 298.0,201.6 299.0,197.5 300.0,193.3 301.0,189.3 302.0,185.7 303.0,182.3 304.0,179.0 305.0,176.4 306.0,174.9 307.0,173.8 308.0,172.8 309.0,172.1 310.0,171.6 311.0,171.5 312.0,171.7 313.0,172.2 314.0,172.8 315.0,173.4 316.0,173.9 317.0,174.4 318.0,174.8 319.0,175.2 320.0,175.7 321.0,176.2 322.0,176.8 323.0,177.4 324.0,178.1 325.0,178.8 326.0,179.5 327.0,180.2 328.0,181.0 329.0,181.7 330.0,182.5 331.0,183.4 332.0,184.1 333.0,184.9 334.0,185.7 335.0,186.5 336.0,187.3 337.0,188.1 338.0,188.9 339.0,189.7 340.0,190.4 341.0,191.2 342.0,192.0 343.0,192.8 344.0,193.7 345.0,194.6 346.0,195.5 347.0,196.4 348.0,197.3 349.0,198.2 350.0,199.0 351.0,199.9 352.0,200.6 353.0,201.4 354.0,202.1 355.0,202.7 356.0,203.4 357.0,204.0 358.0,204.6 359.0,205.2 360.0,205.8 361.0,206.3 362.0,206.8 363.0,207.3 364.0,207.8 365.0,208.2 366.0,208.6 367.0,208.9 368.0,209.2 369.0,209.5 370.0,209.7 371.0,209.9 372.0,210.1 373.0,210.3 374.0,210.5 375.0,210.7 376.0,210.9 377.0,211.0 378.0,211.1 379.0,211.2 380.0,211.3 381.0,211.4 382.0,211.4 383.0,211.5 384.0,211.5 385.0,211.5 386.0,211.6 387.0,211.6 388.0,211.6 389.0,211.6 390.0,211.6 391.0,211.7 392.0,211.7 393.0,211.8 394.0,211.8 395.0,212.0 396.0,212.2 397.0,212.4 398.0,212.7 399.0,213.0 400.0,213.3 401.0,213.7 402.0,214.1 403.0,214.5 404.0,214.8 405.0,215.2 406.0,215.6 407.0,215.9 408.0,216.3 409.0,216.7 410.0,217.1 411.0,217.5 412.0,218.0 413.0,218.5 414.0,219.0 415.0,219.5 416.0,220.1 417.0,220.6 418.0,221.2 419.0,221.7 420.0,222.3 421.0,223.0 422.0,223.6 423.0,224.3 424.0,225.0 425.0,225.6 426.0,226.2 427.0,226.8 428.0,227.4 429.0,227.8 430.0,228.2 431.0,228.5 432.0,228.7 433.0,228.8 434.0,228.9 435.0,228.9 436.0,228.9 437.0,228.9 438.0,228.8 439.0,228.6 440.0,228.5 441.0,228.3 442.0,228.1 443.0,227.9 444.0,227.7 445.0,227.5 446.0,227.2 447.0,226.9 448.0,226.7 449.0,226.3 450.0,226.0 451.0,225.7 452.0,225.4 453.0,225.0 454.0,224.7 455.0,224.4 456.0,224.2 457.0,223.9 458.0,223.7 459.0,223.4 460.0,223.1 461.0,222.9 462.0,222.6 463.0,222.4 464.0,222.1 465.0,221.9 466.0,221.8 467.0,221.6 468.0,221.5 469.0,221.4 470.0,221.4 471.0,221.5 472.0,221.6 473.0,221.7 474.0,221.9 475.0,222.1 476.0,222.3 477.0,222.5 478.0,222.6 479.0,222.7 480.0,222.9 481.0,223.0 482.0,223.1 483.0,223.2 484.0,223.3 485.0,223.5 486.0,223.7 487.0,223.9 488.0,224.1 489.0,224.5 490.0,224.9 491.0,225.4 492.0,225.9 493.0,226.5 494.0,227.2 495.0,228.0 496.0,228.7 497.0,229.4 498.0,230.1 499.0,230.8 500.0,231.3 501.0,231.7 502.0,232.1 503.0,232.4 504.0,232.7 505.0,233.1 506.0,233.4 507.0,233.6 508.0,233.8 509.0,234.0 510.0,234.1 511.0,234.1 512.0,234.1 513.0,233.9 514.0,233.6 515.0,233.2 516.0,232.8 517.0,232.3 518.0,231.8 519.0,231.3 520.0,230.8 521.0,230.3 522.0,229.9 523.0,229.3 524.0,228.8 525.0,228.2 526.0,227.6 527.0,227.0 528.0,226.5 529.0,226.0 530.0,225.6 531.0,225.2 532.0,225.0 533.0,224.8 534.0,224.6 535.0,224.4 536.0,224.2 537.0,224.1 538.0,223.9 539.0,223.8 540.0,223.7 541.0,223.7 542.0,223.7 543.0,223.7 544.0,223.7 545.0,223.7 546.0,223.7 547.0,223.7 548.0,223.8 549.0,223.8 550.0,223.8 551.0,223.9 552.0,223.9 553.0,224.0 554.0,224.1 555.0,224.1 556.0,224.3 557.0,224.4 558.0,224.6 559.0,224.9 560.0,225.1 561.0,225.4 562.0,225.7 563.0,226.0 564.0,226.4 565.0,226.7 566.0,227.0 567.0,227.4 568.0,227.7 569.0,228.2 570.0,228.6 571.0,229.1 572.0,229.6 573.0,230.1 574.0,230.6 575.0,231.0 576.0,231.3 577.0,231.5 578.0,231.6 579.0,231.7 580.0,231.8 581.0,231.9 582.0,232.0 583.0,232.1 584.0,232.2 585.0,232.3 586.0,232.3 587.0,232.4 588.0,232.5 589.0,232.5 590.0,232.5 591.0,232.6 592.0,232.6 593.0,232.6 594.0,232.6 595.0,232.6 596.0,232.6 597.0,232.6 598.0,232.6 599.0,232.5 600.0,232.5 601.0,232.5 602.0,232.5 603.0,232.5 604.0,232.5 605.0,232.5 606.0,232.5 607.0,232.4 608.0,232.4 609.0,232.4 610.0,232.4 611.0,232.4 612.0,232.4 613.0,232.5 614.0,232.5 615.0,232.6 616.0,232.6 617.0,232.7 618.0,232.8 619.0,232.9 620.0,233.0 621.0,233.2 622.0,233.3 623.0,233.5 624.0,233.6 625.0,233.8 626.0,234.0 627.0,234.1 628.0,234.3 629.0,234.5 630.0,234.7 631.0,234.9 632.0,235.1" stroke="#f83020" stroke-width="2.2" stroke-opacity="0.95"/>
<path d="M24.0,105.2 25.0,106.1 26.0,101.6 27.0,91.8 28.0,85.9 29.0,86.5 30.0,89.2 31.0,91.8 32.0,94.0 33.0,98.2 34.0,97.9 35.0,106.9 36.0,104.3 37.0,97.1 38.0,95.3 39.0,85.5 40.0,97.4 41.0,99.9 42.0,99.3 43.0,106.8 44.0,128.7 45.0,138.9 46.0,143.4 47.0,146.6 48.0,149.4 49.0,152.0 50.0,154.0 51.0,155.3 52.0,155.3 53.0,152.6 54.0,148.9 55.0,145.6 56.0,142.0 57.0,137.6 58.0,131.1 59.0,121.6 60.0,112.4 61.0,103.2 62.0,94.0 63.0,84.6 64.0,76.0 65.0,68.5 66.0,61.7 67.0,56.2 68.0,51.4 69.0,47.6 70.0,47.7 71.0,53.5 72.0,60.5 73.0,66.8 74.0,72.7 75.0,77.8 76.0,81.4 77.0,81.1 78.0,77.8 79.0,73.4 80.0,69.4 81.0,65.4 82.0,61.3 83.0,58.5 84.0,58.5 85.0,60.1 86.0,62.8 87.0,65.8 88.0,68.6 89.0,71.5 90.0,74.7 91.0,78.1 92.0,81.3 93.0,84.2 94.0,87.1 95.0,90.2 96.0,93.6 97.0,97.5 98.0,101.7 99.0,106.0 100.0,110.1 101.0,114.4 102.0,118.8 103.0,122.6 104.0,125.1 105.0,125.6 106.0,124.3 107.0,122.2 108.0,119.9 109.0,117.9 110.0,116.5 111.0,115.5 112.0,114.6 113.0,113.8 114.0,113.3 115.0,113.3 116.0,115.7 117.0,120.2 118.0,123.3 119.0,122.5 120.0,119.0 121.0,114.6 122.0,110.6 123.0,107.2 124.0,103.5 125.0,99.9 126.0,96.6 127.0,94.1 128.0,92.5 129.0,92.2 130.0,93.1 131.0,94.5 132.0,95.3 133.0,95.4 134.0,95.4 135.0,95.4 136.0,95.5 137.0,96.1 138.0,98.3 139.0,101.9 140.0,106.1 141.0,110.2 142.0,114.4 143.0,119.2 144.0,123.4 145.0,126.1 146.0,128.0 147.0,129.7 148.0,131.5 149.0,133.3 150.0,134.8 151.0,136.1 152.0,137.4 153.0,138.6 154.0,140.0 155.0,141.6 156.0,143.3 157.0,145.6 158.0,148.1 159.0,150.6 160.0,153.3 161.0,156.6 162.0,159.6 163.0,161.7 164.0,162.1 165.0,160.7 166.0,158.0 167.0,154.8 168.0,152.0 169.0,150.3 170.0,150.3 171.0,151.5 172.0,153.2 173.0,154.7 174.0,155.6 175.0,155.5 176.0,154.5 177.0,152.9 178.0,150.9 179.0,148.7 180.0,146.6 181.0,144.1 182.0,141.4 183.0,139.2 184.0,137.3 185.0,135.5 186.0,133.9 187.0,132.9 188.0,132.6 189.0,132.6 190.0,132.7 191.0,132.8 192.0,133.0 193.0,133.1 194.0,133.2 195.0,133.4 196.0,133.8 197.0,134.3 198.0,135.1 199.0,136.2 200.0,137.7 201.0,139.8 202.0,144.3 203.0,150.5 204.0,155.2 205.0,159.6 206.0,162.9 207.0,163.7 208.0,162.3 209.0,160.2 210.0,158.5 211.0,157.6 212.0,156.7 213.0,156.0 214.0,155.5 215.0,155.6 216.0,156.4 217.0,157.9 218.0,159.8 219.0,161.9 220.0,163.8 221.0,166.0 222.0,168.8 223.0,171.5 224.0,174.0 225.0,175.6 226.0,176.0 227.0,173.3 228.0,168.7 229.0,164.3 230.0,160.0 231.0,155.7 232.0,153.3 233.0,152.6 234.0,152.1 235.0,151.8 236.0,151.7 237.0,151.8 238.0,152.3 239.0,153.2 240.0,154.4 241.0,155.6 242.0,157.0 243.0,158.4 244.0,159.7 245.0,160.7 246.0,161.8 247.0,162.9 248.0,164.1 249.0,165.3 250.0,166.3 251.0,167.1 252.0,167.6 253.0,167.9 254.0,167.8 255.0,167.3 256.0,166.5 257.0,165.6 258.0,164.6 259.0,163.6 260.0,162.9 261.0,162.4 262.0,162.0 263.0,161.6 264.0,161.2 265.0,161.0 266.0,160.9 267.0,160.9 268.0,161.0 269.0,161.1 270.0,161.3 271.0,161.6 272.0,161.9 273.0,162.2 274.0,162.5 275.0,162.8 276.0,163.1 277.0,163.5 278.0,164.2 279.0,165.2 280.0,166.6 281.0,168.2 282.0,170.4 283.0,174.3 284.0,179.3 285.0,185.5 286.0,191.7 287.0,196.0 288.0,199.6 289.0,203.3 290.0,208.4 291.0,215.8 292.0,216.6 293.0,217.0 294.0,216.2 295.0,214.2 296.0,211.1 297.0,206.6 298.0,201.9 299.0,197.8 300.0,193.7 301.0,189.7 302.0,186.0 303.0,182.6 304.0,179.3 305.0,176.7 306.0,175.2 307.0,174.0 308.0,173.0 309.0,172.3 310.0,171.8 311.0,171.6 312.0,171.8 313.0,172.2 314.0,172.7 315.0,173.3 316.0,173.8 317.0,174.2 318.0,174.6 319.0,175.1 320.0,175.5 321.0,176.0 322.0,176.5 323.0,177.2 324.0,177.8 325.0,178.6 326.0,179.3 327.0,180.0 328.0,180.8 329.0,181.6 330.0,182.4 331.0,183.3 332.0,184.1 333.0,184.9 334.0,185.8 335.0,186.6 336.0,187.4 337.0,188.3 338.0,189.1 339.0,190.0 340.0,190.8 341.0,191.6 342.0,192.5 343.0,193.3 344.0,194.2 345.0,195.2 346.0,196.1 347.0,197.0 348.0,197.9 349.0,198.8 350.0,199.7 351.0,200.5 352.0,201.3 353.0,202.1 354.0,202.8 355.0,203.4 356.0,204.1 357.0,204.7 358.0,205.3 359.0,205.9 360.0,206.5 361.0,207.0 362.0,207.6 363.0,208.1 364.0,208.5 365.0,208.9 366.0,209.3 367.0,209.6 368.0,209.9 369.0,210.2 370.0,210.4 371.0,210.6 372.0,210.8 373.0,211.0 374.0,211.2 375.0,211.4 376.0,211.5 377.0,211.7 378.0,211.8 379.0,211.9 380.0,212.0 381.0,212.1 382.0,212.1 383.0,212.1 384.0,212.2 385.0,212.2 386.0,212.2 387.0,212.2 388.0,212.2 389.0,212.2 390.0,212.3 391.0,212.3 392.0,212.3 393.0,212.4 394.0,212.4 395.0,212.6 396.0,212.8 397.0,213.0 398.0,213.3 399.0,213.6 400.0,213.9 401.0,214.3 402.0,214.7 403.0,215.0 404.0,215.4 405.0,215.8 406.0,216.2 407.0,216.5 408.0,216.9 409.0,217.3 410.0,217.7 411.0,218.1 412.0,218.6 413.0,219.1 414.0,219.6 415.0,220.1 416.0,220.7 417.0,221.2 418.0,221.8 419.0,222.3 420.0,222.9 421.0,223.6 422.0,224.2 423.0,224.9 424.0,225.6 425.0,226.2 426.0,226.8 427.0,227.4 428.0,228.0 429.0,228.4 430.0,228.8 431.0,229.1 432.0,229.3 433.0,229.4 434.0,229.5 435.0,229.5 436.0,229.5 437.0,229.5 438.0,229.4 439.0,229.2 440.0,229.1 441.0,228.9 442.0,228.7 443.0,228.5 444.0,228.3 445.0,228.1 446.0,227.8 447.0,227.6 448.0,227.3 449.0,227.0 450.0,226.6 451.0,226.3 452.0,226.0 453.0,225.7 454.0,225.3 455.0,225.0 456.0,224.8 457.0,224.5 458.0,224.3 459.0,224.0 460.0,223.8 461.0,223.5 462.0,223.2 463.0,223.0 464.0,222.8 465.0,222.6 466.0,222.4 467.0,222.2 468.0,222.1 469.0,222.1 470.0,222.1 471.0,222.1 472.0,222.2 473.0,222.3 474.0,222.5 475.0,222.7 476.0,222.9 477.0,223.1 478.0,223.2 479.0,223.4 480.0,223.5 481.0,223.6 482.0,223.7 483.0,223.8 484.0,224.0 485.0,224.1 486.0,224.3 487.0,224.5 488.0,224.8 489.0,225.1 490.0,225.6 491.0,226.0 492.0,226.6 493.0,227.2 494.0,227.9 495.0,228.7 496.0,229.4 497.0,230.1 498.0,230.8 499.0,231.5 500.0,232.0 501.0,232.4 502.0,232.8 503.0,233.1 504.0,233.4 505.0,233.7 506.0,234.0 507.0,234.3 508.0,234.5 509.0,234.6 510.0,234.7 511.0,234.8 512.0,234.7 513.0,234.5 514.0,234.2 515.0,233.8 516.0,233.4 517.0,232.9 518.0,232.4 519.0,231.9 520.0,231.4 521.0,230.9 522.0,230.5 523.0,230.0 524.0,229.4 525.0,228.8 526.0,228.2 527.0,227.6 528.0,227.1 529.0,226.6 530.0,226.1 531.0,225.8 532.0,225.5 533.0,225.3 534.0,225.1 535.0,224.9 536.0,224.7 537.0,224.5 538.0,224.4 539.0,224.3 540.0,224.2 541.0,224.1 542.0,224.1 543.0,224.0 544.0,224.0 545.0,224.0 546.0,224.0 547.0,224.0 548.0,224.1 549.0,224.1 550.0,224.1 551.0,224.1 552.0,224.2 553.0,224.3 554.0,224.3 555.0,224.4 556.0,224.6 557.0,224.7 558.0,224.9 559.0,225.2 560.0,225.4 561.0,225.7 562.0,226.0 563.0,226.4 564.0,226.7 565.0,227.0 566.0,227.4 567.0,227.7 568.0,228.1 569.0,228.5 570.0,229.0 571.0,229.5 572.0,230.0 573.0,230.5 574.0,231.0 575.0,231.4 576.0,231.7 577.0,231.9 578.0,232.1 579.0,232.2 580.0,232.3 581.0,232.4 582.0,232.5 583.0,232.6 584.0,232.7 585.0,232.8 586.0,232.9 587.0,232.9 588.0,233.0 589.0,233.0 590.0,233.1 591.0,233.1 592.0,233.1 593.0,233.1 594.0,233.2 595.0,233.2 596.0,233.2 597.0,233.2 598.0,233.1 599.0,233.1 600.0,233.1 601.0,233.1 602.0,233.1 603.0,233.1 604.0,233.1 605.0,233.1 606.0,233.1 607.0,233.1 608.0,233.1 609.0,233.1 610.0,233.0 611.0,233.1 612.0,233.1 613.0,233.1 614.0,233.1 615.0,233.2 616.0,233.3 617.0,233.3 618.0,233.4 619.0,233.6 620.0,233.7 621.0,233.8 622.0,233.9 623.0,234.1 624.0,234.2 625.0,234.4 626.0,234.6 627.0,234.7 628.0,234.9 629.0,235.1 630.0,235.3 631.0,235.5 632.0,235.7" stroke="#f83020" stroke-width="2.2" stroke-opacity="0.95"/>
<path d="M24.0,110.6 25.0,112.8 26.0,117.5 27.0,117.9 28.0,116.7 29.0,109.3 30.0,111.0 31.0,117.8 32.0,112.3 33.0,116.3 34.0,112.9 35.0,103.2 36.0,100.0 37.0,107.9 38.0,104.5 39.0,100.4 40.0,99.8 41.0,109.8 42.0,111.5 43.0,118.0 44.0,133.2 45.0,143.7 46.0,147.7 47.0,150.5 48.0,153.2 49.0,155.7 50.0,157.6 51.0,158.8 52.0,158.8 53.0,156.2 54.0,152.6 55.0,149.2 56.0,145.5 57.0,141.0 58.0,134.4 59.0,125.2 60.0,116.3 61.0,107.3 62.0,98.2 63.0,88.9 64.0,80.4 65.0,72.9 66.0,66.2 67.0,60.7 68.0,55.8 69.0,52.0 70.0,51.8 71.0,57.1 72.0,63.5 73.0,69.5 74.0,75.2 75.0,80.3 76.0,83.9 77.0,83.8 78.0,81.0 79.0,77.0 80.0,73.4 81.0,69.9 82.0,66.1 83.0,63.6 84.0,63.7 85.0,65.3 86.0,67.9 87.0,70.7 88.0,73.3 89.0,75.9 90.0,78.8 91.0,81.8 92.0,84.7 93.0,87.3 94.0,89.9 95.0,92.7 96.0,96.0 97.0,99.7 98.0,103.7 99.0,107.8 100.0,111.8 101.0,115.9 102.0,119.8 103.0,123.0 104.0,125.1 105.0,125.4 106.0,124.0 107.0,122.0 108.0,120.0 109.0,118.4 110.0,117.4 111.0,116.7 112.0,116.1 113.0,115.6 114.0,115.4 115.0,115.5 116.0,118.0 117.0,122.4 118.0,125.4 119.0,124.4 120.0,120.8 121.0,116.1 122.0,112.0 123.0,108.4 124.0,104.6 125.0,100.8 126.0,97.4 127.0,94.8 128.0,93.2 129.0,92.7 130.0,93.6 131.0,94.8 132.0,95.5 133.0,95.5 134.0,95.4 135.0,95.3 136.0,95.3 137.0,95.9 138.0,98.1 139.0,101.6 140.0,105.9 141.0,110.1 142.0,114.3 143.0,119.1 144.0,123.5 145.0,126.3 146.0,128.4 147.0,130.3 148.0,132.2 149.0,134.2 150.0,135.8 151.0,137.2 152.0,138.4 153.0,139.7 154.0,141.0 155.0,142.5 156.0,144.2 157.0,146.4 158.0,148.7 159.0,150.8 160.0,153.3 161.0,156.3 162.0,159.1 163.0,161.0 164.0,161.3 165.0,159.8 166.0,157.1 167.0,153.9 168.0,151.0 169.0,149.3 170.0,149.4 171.0,150.6 172.0,152.4 173.0,154.0 174.0,155.1 175.0,155.2 176.0,154.5 177.0,153.1 178.0,151.2 179.0,149.2 180.0,147.3 181.0,144.9 182.0,142.4 183.0,140.3 184.0,138.5 185.0,136.8 186.0,135.3 187.0,134.2 188.0,133.9 189.0,133.8 190.0,133.7 191.0,133.8 192.0,133.8 193.0,133.6 194.0,133.5 195.0,133.4 196.0,133.5 197.0,133.8 198.0,134.4 199.0,135.3 200.0,136.7 201.0,138.7 202.0,143.0 203.0,149.1 204.0,153.7 205.0,158.0 206.0,161.3 207.0,162.1 208.0,160.9 209.0,158.8 210.0,157.3 211.0,156.4 212.0,155.6 213.0,154.9 214.0,154.5 215.0,154.6 216.0,155.4 217.0,156.9 218.0,158.8 219.0,160.8 220.0,162.7 221.0,165.0 222.0,167.7 223.0,170.5 224.0,172.9 225.0,174.6 226.0,175.1 227.0,172.5 228.0,168.2 229.0,164.0 230.0,159.8 231.0,155.7 232.0,153.4 233.0,152.8 234.0,152.4 235.0,152.1 236.0,152.0 237.0,152.2 238.0,152.7 239.0,153.6 240.0,154.8 241.0,156.0 242.0,157.4 243.0,158.8 244.0,160.0 245.0,161.1 246.0,162.2 247.0,163.3 248.0,164.4 249.0,165.5 250.0,166.5 251.0,167.2 252.0,167.7 253.0,167.9 254.0,167.7 255.0,167.1 256.0,166.3 257.0,165.3 258.0,164.2 259.0,163.2 260.0,162.4 261.0,161.9 262.0,161.4 263.0,160.9 264.0,160.6 265.0,160.3 266.0,160.3 267.0,160.3 268.0,160.5 269.0,160.7 270.0,161.0 271.0,161.3 272.0,161.7 273.0,162.1 274.0,162.5 275.0,162.9 276.0,163.3 277.0,163.7 278.0,164.4 279.0,165.5 280.0,166.8 281.0,168.5 282.0,170.6 283.0,174.5 284.0,179.4 285.0,185.5 286.0,191.7 287.0,196.1 288.0,199.6 289.0,203.3 290.0,208.4 291.0,215.6 292.0,216.6 293.0,217.0 294.0,216.2 295.0,214.3 296.0,211.2 297.0,206.8 298.0,202.3 299.0,198.2 300.0,194.0 301.0,190.0 302.0,186.3 303.0,182.9 304.0,179.6 305.0,177.0 306.0,175.4 307.0,174.2 308.0,173.2 309.0,172.4 310.0,171.9 311.0,171.7 312.0,171.8 313.0,172.2 314.0,172.7 315.0,173.2 316.0,173.7 317.0,174.1 318.0,174.5 319.0,174.9 320.0,175.3 321.0,175.8 322.0,176.3 323.0,176.9 324.0,177.6 325.0,178.3 326.0,179.1 327.0,179.8 328.0,180.6 329.0,181.4 330.0,182.3 331.0,183.2 332.0,184.1 333.0,185.0 334.0,185.8 335.0,186.7 336.0,187.6 337.0,188.5 338.0,189.4 339.0,190.3 340.0,191.2 341.0,192.0 342.0,192.9 343.0,193.8 344.0,194.7 345.0,195.7 346.0,196.6 347.0,197.6 348.0,198.5 349.0,199.4 350.0,200.3 351.0,201.1 352.0,202.0 353.0,202.7 354.0,203.5 355.0,204.1 356.0,204.8 357.0,205.4 358.0,206.0 359.0,206.6 360.0,207.2 361.0,207.7 362.0,208.3 363.0,208.8 364.0,209.2 365.0,209.7 366.0,210.0 367.0,210.4 368.0,210.6 369.0,210.9 370.0,211.1 371.0,211.3 372.0,211.5 373.0,211.7 374.0,211.9 375.0,212.1 376.0,212.2 377.0,212.4 378.0,212.5 379.0,212.6 380.0,212.7 381.0,212.7 382.0,212.8 383.0,212.8 384.0,212.8 385.0,212.8 386.0,212.9 387.0,212.9 388.0,212.9 389.0,212.9 390.0,212.9 391.0,212.9 392.0,212.9 393.0,213.0 394.0,213.0 395.0,213.2 396.0,213.3 397.0,213.6 398.0,213.9 399.0,214.2 400.0,214.5 401.0,214.9 402.0,215.2 403.0,215.6 404.0,216.0 405.0,216.4 406.0,216.7 407.0,217.1 408.0,217.5 409.0,217.8 410.0,218.3 411.0,218.7 412.0,219.2 413.0,219.7 414.0,220.2 415.0,220.7 416.0,221.3 417.0,221.8 418.0,222.4 419.0,222.9 420.0,223.5 421.0,224.2 422.0,224.8 423.0,225.5 424.0,226.2 425.0,226.8 426.0,227.4 427.0,228.0 428.0,228.6 429.0,229.0 430.0,229.4 431.0,229.7 432.0,229.9 433.0,230.0 434.0,230.1 435.0,230.1 436.0,230.1 437.0,230.1 438.0,230.0 439.0,229.9 440.0,229.7 441.0,229.5 442.0,229.3 443.0,229.1 444.0,228.9 445.0,228.7 446.0,228.5 447.0,228.2 448.0,227.9 449.0,227.6 450.0,227.3 451.0,226.9 452.0,226.6 453.0,226.3 454.0,226.0 455.0,225.7 456.0,225.4 457.0,225.1 458.0,224.9 459.0,224.6 460.0,224.4 461.0,224.1 462.0,223.9 463.0,223.6 464.0,223.4 465.0,223.2 466.0,223.0 467.0,222.9 468.0,222.8 469.0,222.7 470.0,222.7 471.0,222.7 472.0,222.8 473.0,223.0 474.0,223.1 475.0,223.3 476.0,223.5 477.0,223.7 478.0,223.8 479.0,224.0 480.0,224.1 481.0,224.2 482.0,224.3 483.0,224.5 484.0,224.6 485.0,224.8 486.0,224.9 487.0,225.1 488.0,225.4 489.0,225.8 490.0,226.2 491.0,226.7 492.0,227.3 493.0,227.9 494.0,228.6 495.0,229.4 496.0,230.1 497.0,230.9 498.0,231.6 499.0,232.2 500.0,232.7 501.0,233.1 502.0,233.5 503.0,233.8 504.0,234.1 505.0,234.4 506.0,234.7 507.0,234.9 508.0,235.1 509.0,235.3 510.0,235.4 511.0,235.4 512.0,235.3 513.0,235.1 514.0,234.8 515.0,234.5 516.0,234.0 517.0,233.6 518.0,233.1 519.0,232.5 520.0,232.0 521.0,231.6 522.0,231.1 523.0,230.6 524.0,230.0 525.0,229.4 526.0,228.8 527.0,228.2 528.0,227.6 529.0,227.1 530.0,226.7 531.0,226.3 532.0,226.1 533.0,225.8 534.0,225.6 535.0,225.4 536.0,225.2 537.0,225.0 538.0,224.8 539.0,224.7 540.0,224.6 541.0,224.5 542.0,224.4 543.0,224.4 544.0,224.4 545.0,224.4 546.0,224.4 547.0,224.4 548.0,224.4 549.0,224.4 550.0,224.4 551.0,224.4 552.0,224.5 553.0,224.5 554.0,224.6 555.0,224.7 556.0,224.8 557.0,225.0 558.0,225.2 559.0,225.5 560.0,225.7 561.0,226.0 562.0,226.3 563.0,226.7 564.0,227.0 565.0,227.4 566.0,227.7 567.0,228.1 568.0,228.5 569.0,228.9 570.0,229.4 571.0,229.9 572.0,230.4 573.0,231.0 574.0,231.4 575.0,231.8 576.0,232.2 577.0,232.4 578.0,232.6 579.0,232.7 580.0,232.8 581.0,232.9 582.0,233.0 583.0,233.1 584.0,233.2 585.0,233.3 586.0,233.4 587.0,233.5 588.0,233.5 589.0,233.6 590.0,233.6 591.0,233.7 592.0,233.7 593.0,233.7 594.0,233.7 595.0,233.7 596.0,233.7 597.0,233.7 598.0,233.7 599.0,233.7 600.0,233.7 601.0,233.7 602.0,233.7 603.0,233.7 604.0,233.7 605.0,233.7 606.0,233.7 607.0,233.7 608.0,233.7 609.0,233.7 610.0,233.7 611.0,233.7 612.0,233.7 613.0,233.7 614.0,233.8 615.0,233.8 616.0,233.9 617.0,234.0 618.0,234.1 619.0,234.2 620.0,234.3 621.0,234.4 622.0,234.6 623.0,234.7 624.0,234.9 625.0,235.0 626.0,235.2 627.0,235.4 628.0,235.5 629.0,235.7 630.0,235.9 631.0,236.1 632.0,236.3" stroke="#f03040" stroke-width="2.2" stroke-opacity="0.95"/>
<path d="M24.0,121.5 25.0,123.4 26.0,120.1 27.0,119.7 28.0,127.7 29.0,120.9 30.0,119.8 31.0,117.0 32.0,113.9 33.0,111.7 34.0,120.3 35.0,121.0 36.0,124.1 37.0,115.2 38.0,116.6 39.0,121.4 40.0,118.8 41.0,117.0 42.0,119.3 43.0,124.9 44.0,137.9 45.0,146.4 46.0,152.3 47.0,155.3 48.0,157.7 49.0,160.0 50.0,161.8 51.0,163.0 52.0,162.9 53.0,160.5 54.0,156.9 55.0,153.4 56.0,149.5 57.0,144.9 58.0,138.4 59.0,129.5 60.0,120.8 61.0,112.1 62.0,103.1 63.0,94.0 64.0,85.5 65.0,78.0 66.0,71.4 67.0,66.0 68.0,61.0 69.0,57.1 70.0,56.6 71.0,61.2 72.0,67.0 73.0,72.6 74.0,78.2 75.0,83.3 76.0,86.9 77.0,87.0 78.0,84.7 79.0,81.2 80.0,78.1 81.0,75.0 82.0,71.7 83.0,69.5 84.0,69.7 85.0,71.4 86.0,73.8 87.0,76.5 88.0,78.8 89.0,81.1 90.0,83.6 91.0,86.2 92.0,88.7 93.0,90.9 94.0,93.1 95.0,95.7 96.0,98.8 97.0,102.3 98.0,106.1 99.0,110.0 100.0,113.8 101.0,117.6 102.0,121.0 103.0,123.5 104.0,125.0 105.0,125.1 106.0,123.7 107.0,121.8 108.0,120.0 109.0,118.9 110.0,118.3 111.0,118.1 112.0,117.9 113.0,117.8 114.0,117.9 115.0,118.3 116.0,120.8 117.0,125.0 118.0,127.9 119.0,126.8 120.0,122.9 121.0,118.0 122.0,113.7 123.0,109.9 124.0,105.9 125.0,102.0 126.0,98.5 127.0,95.7 128.0,94.0 129.0,93.4 130.0,94.1 131.0,95.1 132.0,95.7 133.0,95.6 134.0,95.4 135.0,95.2 136.0,95.1 137.0,95.6 138.0,97.8 139.0,101.4 140.0,105.6 141.0,109.8 142.0,114.1 143.0,119.1 144.0,123.6 145.0,126.6 146.0,128.9 147.0,131.0 148.0,133.2 149.0,135.4 150.0,137.2 151.0,138.7 152.0,139.8 153.0,141.1 154.0,142.4 155.0,143.8 156.0,145.5 157.0,147.4 158.0,149.4 159.0,151.2 160.0,153.3 161.0,155.9 162.0,158.5 163.0,160.1 164.0,160.2 165.0,158.6 166.0,155.9 167.0,152.7 168.0,149.8 169.0,148.0 170.0,148.1 171.0,149.4 172.0,151.3 173.0,153.1 174.0,154.3 175.0,154.7 176.0,154.3 177.0,153.3 178.0,151.7 179.0,149.9 180.0,148.1 181.0,146.0 182.0,143.7 183.0,141.8 184.0,140.1 185.0,138.5 186.0,137.1 187.0,136.1 188.0,135.6 189.0,135.4 190.0,135.2 191.0,135.1 192.0,134.8 193.0,134.3 194.0,133.8 195.0,133.3 196.0,133.1 197.0,133.2 198.0,133.5 199.0,134.2 200.0,135.4 201.0,137.2 202.0,141.4 203.0,147.2 204.0,151.7 205.0,155.9 206.0,159.1 207.0,160.0 208.0,158.9 209.0,157.1 210.0,155.7 211.0,154.9 212.0,154.1 213.0,153.5 214.0,153.2 215.0,153.2 216.0,154.1 217.0,155.5 218.0,157.4 219.0,159.4 220.0,161.3 221.0,163.5 222.0,166.3 223.0,169.0 224.0,171.5 225.0,173.3 226.0,173.9 227.0,171.5 228.0,167.5 229.0,163.5 230.0,159.6 231.0,155.7 232.0,153.6 233.0,153.1 234.0,152.7 235.0,152.5 236.0,152.4 237.0,152.7 238.0,153.2 239.0,154.2 240.0,155.3 241.0,156.6 242.0,157.9 243.0,159.3 244.0,160.5 245.0,161.6 246.0,162.6 247.0,163.7 248.0,164.9 249.0,165.9 250.0,166.8 251.0,167.4 252.0,167.8 253.0,167.9 254.0,167.6 255.0,166.9 256.0,166.0 257.0,165.0 258.0,163.7 259.0,162.6 260.0,161.7 261.0,161.1 262.0,160.5 263.0,160.0 264.0,159.7 265.0,159.4 266.0,159.4 267.0,159.6 268.0,159.8 269.0,160.1 270.0,160.5 271.0,161.0 272.0,161.5 273.0,162.0 274.0,162.5 275.0,163.0 276.0,163.4 277.0,163.9 278.0,164.7 279.0,165.7 280.0,167.1 281.0,168.8 282.0,170.9 283.0,174.7 284.0,179.6 285.0,185.6 286.0,191.8 287.0,196.1 288.0,199.7 289.0,203.4 290.0,208.4 291.0,215.5 292.0,216.5 293.0,217.0 294.0,216.3 295.0,214.4 296.0,211.4 297.0,207.1 298.0,202.7 299.0,198.7 300.0,194.5 301.0,190.5 302.0,186.7 303.0,183.2 304.0,180.0 305.0,177.4 306.0,175.8 307.0,174.5 308.0,173.5 309.0,172.7 310.0,172.1 311.0,171.8 312.0,171.9 313.0,172.2 314.0,172.6 315.0,173.1 316.0,173.5 317.0,173.9 318.0,174.3 319.0,174.6 320.0,175.0 321.0,175.5 322.0,176.0 323.0,176.6 324.0,177.2 325.0,177.9 326.0,178.6 327.0,179.3 328.0,179.9 329.0,180.6 330.0,181.4 331.0,182.3 332.0,183.2 333.0,184.2 334.0,185.3 335.0,186.6 336.0,187.9 337.0,189.4 338.0,190.9 339.0,192.4 340.0,193.8 341.0,195.3 342.0,196.7 343.0,198.1 344.0,199.5 345.0,200.9 346.0,202.2 347.0,203.6 348.0,205.1 349.0,206.6 350.0,208.0 351.0,209.4 352.0,210.8 353.0,211.9 354.0,213.0 355.0,213.8 356.0,214.5 357.0,215.1 358.0,215.8 359.0,216.4 360.0,217.0 361.0,217.5 362.0,218.0 363.0,218.5 364.0,218.9 365.0,219.3 366.0,219.6 367.0,219.8 368.0,220.0 369.0,220.1 370.0,220.2 371.0,220.4 372.0,220.5 373.0,220.6 374.0,220.7 375.0,220.8 376.0,220.8 377.0,220.9 378.0,221.0 379.0,221.0 380.0,221.1 381.0,221.1 382.0,221.1 383.0,221.1 384.0,221.0 385.0,220.9 386.0,220.8 387.0,220.7 388.0,220.5 389.0,220.4 390.0,220.3 391.0,220.2 392.0,220.2 393.0,220.1 394.0,220.2 395.0,220.3 396.0,220.4 397.0,220.6 398.0,220.8 399.0,221.1 400.0,221.3 401.0,221.6 402.0,222.0 403.0,222.3 404.0,222.6 405.0,222.9 406.0,223.2 407.0,223.6 408.0,224.0 409.0,224.4 410.0,224.8 411.0,225.3 412.0,225.8 413.0,226.3 414.0,226.8 415.0,227.3 416.0,227.8 417.0,228.3 418.0,228.7 419.0,229.1 420.0,229.5 421.0,229.9 422.0,230.3 423.0,230.8 424.0,231.2 425.0,231.6 426.0,232.0 427.0,232.3 428.0,232.6 429.0,232.8 430.0,233.0 431.0,233.1 432.0,233.1 433.0,233.1 434.0,233.0 435.0,232.9 436.0,232.8 437.0,232.7 438.0,232.5 439.0,232.4 440.0,232.2 441.0,232.1 442.0,231.9 443.0,231.7 444.0,231.5 445.0,231.3 446.0,231.1 447.0,230.8 448.0,230.5 449.0,230.2 450.0,229.9 451.0,229.6 452.0,229.2 453.0,228.9 454.0,228.6 455.0,228.3 456.0,228.0 457.0,227.8 458.0,227.5 459.0,227.3 460.0,227.0 461.0,226.8 462.0,226.5 463.0,226.3 464.0,226.1 465.0,225.8 466.0,225.7 467.0,225.5 468.0,225.4 469.0,225.3 470.0,225.2 471.0,225.2 472.0,225.3 473.0,225.4 474.0,225.5 475.0,225.6 476.0,225.8 477.0,226.0 478.0,226.2 479.0,226.4 480.0,226.6 481.0,226.8 482.0,227.0 483.0,227.2 484.0,227.5 485.0,227.8 486.0,228.0 487.0,228.4 488.0,228.8 489.0,229.3 490.0,230.0 491.0,230.7 492.0,231.6 493.0,232.4 494.0,233.3 495.0,234.1 496.0,235.0 497.0,235.9 498.0,236.8 499.0,237.6 500.0,238.2 501.0,238.5 502.0,238.7 503.0,238.8 504.0,239.0 505.0,239.1 506.0,239.2 507.0,239.2 508.0,239.3 509.0,239.3 510.0,239.2 511.0,239.1 512.0,238.9 513.0,238.6 514.0,238.2 515.0,237.8 516.0,237.3 517.0,236.8 518.0,236.4 519.0,235.9 520.0,235.4 521.0,235.0 522.0,234.5 523.0,233.9 524.0,233.3 525.0,232.6 526.0,231.8 527.0,230.9 528.0,229.9 529.0,228.9 530.0,227.9 531.0,227.0 532.0,226.1 533.0,225.3 534.0,224.6 535.0,223.9 536.0,223.3 537.0,222.7 538.0,222.2 539.0,221.8 540.0,221.4 541.0,221.1 542.0,220.9 543.0,220.7 544.0,220.5 545.0,220.3 546.0,220.1 547.0,219.9 548.0,219.7 549.0,219.5 550.0,219.4 551.0,219.3 552.0,219.3 553.0,219.3 554.0,219.4 555.0,219.6 556.0,219.8 557.0,220.1 558.0,220.4 559.0,220.7 560.0,221.0 561.0,221.4 562.0,221.8 563.0,222.2 564.0,222.6 565.0,223.1 566.0,223.7 567.0,224.2 568.0,224.8 569.0,225.5 570.0,226.1 571.0,226.8 572.0,227.4 573.0,228.0 574.0,228.7 575.0,229.3 576.0,229.9 577.0,230.4 578.0,230.8 579.0,231.1 580.0,231.3 581.0,231.5 582.0,231.6 583.0,231.7 584.0,231.9 585.0,232.0 586.0,232.2 587.0,232.4 588.0,232.6 589.0,232.8 590.0,232.9 591.0,233.1 592.0,233.3 593.0,233.4 594.0,233.5 595.0,233.6 596.0,233.7 597.0,233.8 598.0,233.8 599.0,233.8 600.0,233.9 601.0,233.9 602.0,233.9 603.0,234.0 604.0,234.0 605.0,234.0 606.0,234.0 607.0,234.1 608.0,234.1 609.0,234.1 610.0,234.2 611.0,234.2 612.0,234.2 613.0,234.3 614.0,234.3 615.0,234.4 616.0,234.5 617.0,234.6 618.0,234.6 619.0,234.7 620.0,234.8 621.0,234.9 622.0,235.0 623.0,235.1 624.0,235.2 625.0,235.3 626.0,235.5 627.0,235.6 628.0,235.7 629.0,235.8 630.0,236.0 631.0,236.1 632.0,236.2" stroke="#f03060" stroke-width="2.2" stroke-opacity="0.95"/>
<path d="M24.0,144.1 25.0,137.4 26.0,137.3 27.0,134.8 28.0,133.8 29.0,131.4 30.0,131.0 31.0,140.0 32.0,140.3 33.0,138.8 34.0,126.6 35.0,120.1 36.0,127.0 37.0,134.1 38.0,140.3 39.0,142.3 40.0,141.7 41.0,141.0 42.0,138.3 43.0,139.3 44.0,147.3 45.0,155.0 46.0,157.6 47.0,160.1 48.0,162.5 49.0,164.7 50.0,166.5 51.0,167.5 52.0,167.5 53.0,165.2 54.0,161.8 55.0,158.2 56.0,154.1 57.0,149.3 58.0,142.9 59.0,134.3 60.0,126.0 61.0,117.5 62.0,108.8 63.0,99.7 64.0,91.4 65.0,83.9 66.0,77.4 67.0,72.0 68.0,67.0 69.0,63.0 70.0,62.1 71.0,65.9 72.0,71.0 73.0,76.2 74.0,81.6 75.0,86.6 76.0,90.3 77.0,90.7 78.0,88.9 79.0,86.1 80.0,83.4 81.0,80.9 82.0,78.1 83.0,76.3 84.0,76.7 85.0,78.3 86.0,80.6 87.0,83.1 88.0,85.1 89.0,87.0 90.0,89.1 91.0,91.3 92.0,93.3 93.0,95.0 94.0,96.8 95.0,99.1 96.0,102.0 97.0,105.3 98.0,108.8 99.0,112.5 100.0,116.0 101.0,119.5 102.0,122.3 103.0,124.1 104.0,125.0 105.0,124.8 106.0,123.3 107.0,121.5 108.0,120.1 109.0,119.5 110.0,119.5 111.0,119.7 112.0,120.0 113.0,120.4 114.0,120.8 115.0,121.5 116.0,124.1 117.0,128.2 118.0,130.8 119.0,129.5 120.0,125.4 121.0,120.2 122.0,115.7 123.0,111.7 124.0,107.5 125.0,103.4 126.0,99.7 127.0,96.8 128.0,95.0 129.0,94.3 130.0,94.7 131.0,95.6 132.0,96.0 133.0,95.7 134.0,95.3 135.0,95.0 136.0,94.9 137.0,95.3 138.0,97.4 139.0,101.0 140.0,105.3 141.0,109.6 142.0,113.9 143.0,119.0 144.0,123.7 145.0,127.0 146.0,129.6 147.0,132.0 148.0,134.5 149.0,136.9 150.0,139.0 151.0,140.5 152.0,141.6 153.0,142.8 154.0,144.1 155.0,145.4 156.0,147.0 157.0,148.7 158.0,150.3 159.0,151.7 160.0,153.3 161.0,155.5 162.0,157.6 163.0,159.0 164.0,158.9 165.0,157.2 166.0,154.4 167.0,151.2 168.0,148.3 169.0,146.4 170.0,146.5 171.0,147.9 172.0,150.0 173.0,152.0 174.0,153.4 175.0,154.2 176.0,154.2 177.0,153.6 178.0,152.3 179.0,150.7 180.0,149.3 181.0,147.4 182.0,145.3 183.0,143.6 184.0,142.1 185.0,140.6 186.0,139.3 187.0,138.3 188.0,137.8 189.0,137.4 190.0,137.0 191.0,136.7 192.0,136.1 193.0,135.2 194.0,134.1 195.0,133.2 196.0,132.6 197.0,132.4 198.0,132.4 199.0,132.8 200.0,133.7 201.0,135.3 202.0,139.3 203.0,144.9 204.0,149.2 205.0,153.3 206.0,156.4 207.0,157.4 208.0,156.4 209.0,154.8 210.0,153.6 211.0,152.9 212.0,152.3 213.0,151.7 214.0,151.5 215.0,151.6 216.0,152.4 217.0,153.8 218.0,155.6 219.0,157.6 220.0,159.5 221.0,161.7 222.0,164.5 223.0,167.3 224.0,169.8 225.0,171.7 226.0,172.4 227.0,170.3 228.0,166.6 229.0,162.9 230.0,159.3 231.0,155.7 232.0,153.8 233.0,153.4 234.0,153.1 235.0,153.0 236.0,153.0 237.0,153.3 238.0,153.9 239.0,154.8 240.0,156.0 241.0,157.3 242.0,158.6 243.0,159.9 244.0,161.2 245.0,162.2 246.0,163.3 247.0,164.3 248.0,165.4 249.0,166.4 250.0,167.1 251.0,167.7 252.0,167.9 253.0,167.9 254.0,167.4 255.0,166.7 256.0,165.7 257.0,164.5 258.0,163.1 259.0,161.9 260.0,160.8 261.0,160.1 262.0,159.5 263.0,159.0 264.0,158.5 265.0,158.3 266.0,158.4 267.0,158.6 268.0,158.9 269.0,159.4 270.0,159.9 271.0,160.5 272.0,161.2 273.0,161.8 274.0,162.5 275.0,163.1 276.0,163.6 277.0,164.2 278.0,165.0 279.0,166.1 280.0,167.5 281.0,169.2 282.0,171.3 283.0,175.0 284.0,179.8 285.0,185.7 286.0,191.8 287.0,196.1 288.0,199.8 289.0,203.5 290.0,208.4 291.0,215.3 292.0,216.4 293.0,217.0 294.0,216.4 295.0,214.6 296.0,211.7 297.0,207.5 298.0,203.2 299.0,199.3 300.0,195.1 301.0,191.0 302.0,187.2 303.0,183.7 304.0,180.4 305.0,177.8 306.0,176.2 307.0,174.9 308.0,173.8 309.0,172.9 310.0,172.3 311.0,172.0 312.0,172.0 313.0,172.2 314.0,172.5 315.0,172.9 316.0,173.3 317.0,173.7 318.0,174.0 319.0,174.3 320.0,174.7 321.0,175.1 322.0,175.6 323.0,176.2 324.0,176.8 325.0,177.4 326.0,178.1 327.0,178.6 328.0,179.1 329.0,179.7 330.0,180.4 331.0,181.2 332.0,182.1 333.0,183.1 334.0,184.3 335.0,185.6 336.0,187.1 337.0,188.7 338.0,190.4 339.0,192.1 340.0,193.8 341.0,195.4 342.0,197.1 343.0,198.7 344.0,200.3 345.0,201.9 346.0,203.5 347.0,205.1 348.0,206.8 349.0,208.5 350.0,210.3 351.0,212.0 352.0,213.5 353.0,214.9 354.0,216.1 355.0,217.0 356.0,217.7 357.0,218.4 358.0,219.0 359.0,219.7 360.0,220.3 361.0,220.8 362.0,221.3 363.0,221.8 364.0,222.2 365.0,222.5 366.0,222.8 367.0,223.0 368.0,223.1 369.0,223.2 370.0,223.2 371.0,223.3 372.0,223.3 373.0,223.4 374.0,223.5 375.0,223.5 376.0,223.5 377.0,223.6 378.0,223.6 379.0,223.7 380.0,223.7 381.0,223.7 382.0,223.7 383.0,223.6 384.0,223.5 385.0,223.3 386.0,223.1 387.0,223.0 388.0,222.8 389.0,222.6 390.0,222.4 391.0,222.2 392.0,222.2 393.0,222.1 394.0,222.1 395.0,222.2 396.0,222.3 397.0,222.5 398.0,222.7 399.0,222.9 400.0,223.1 401.0,223.4 402.0,223.7 403.0,224.0 404.0,224.3 405.0,224.6 406.0,224.9 407.0,225.2 408.0,225.6 409.0,226.1 410.0,226.5 411.0,227.0 412.0,227.6 413.0,228.1 414.0,228.6 415.0,229.2 416.0,229.7 417.0,230.2 418.0,230.6 419.0,231.0 420.0,231.4 421.0,231.8 422.0,232.3 423.0,232.7 424.0,233.1 425.0,233.5 426.0,233.8 427.0,234.2 428.0,234.5 429.0,234.7 430.0,234.9 431.0,234.9 432.0,234.9 433.0,234.9 434.0,234.9 435.0,234.8 436.0,234.7 437.0,234.6 438.0,234.4 439.0,234.3 440.0,234.1 441.0,234.0 442.0,233.8 443.0,233.7 444.0,233.5 445.0,233.3 446.0,233.1 447.0,232.8 448.0,232.5 449.0,232.2 450.0,231.9 451.0,231.5 452.0,231.2 453.0,230.9 454.0,230.5 455.0,230.2 456.0,230.0 457.0,229.7 458.0,229.5 459.0,229.2 460.0,229.0 461.0,228.8 462.0,228.5 463.0,228.3 464.0,228.1 465.0,227.8 466.0,227.7 467.0,227.5 468.0,227.4 469.0,227.3 470.0,227.2 471.0,227.2 472.0,227.2 473.0,227.2 474.0,227.3 475.0,227.5 476.0,227.6 477.0,227.8 478.0,228.0 479.0,228.2 480.0,228.5 481.0,228.7 482.0,229.0 483.0,229.3 484.0,229.6 485.0,229.9 486.0,230.3 487.0,230.6 488.0,231.1 489.0,231.7 490.0,232.5 491.0,233.4 492.0,234.4 493.0,235.3 494.0,236.3 495.0,237.2 496.0,238.1 497.0,239.1 498.0,240.0 499.0,240.9 500.0,241.5 501.0,241.8 502.0,241.9 503.0,242.0 504.0,242.0 505.0,242.0 506.0,242.0 507.0,242.0 508.0,241.9 509.0,241.9 510.0,241.8 511.0,241.6 512.0,241.3 513.0,241.0 514.0,240.5 515.0,240.1 516.0,239.6 517.0,239.1 518.0,238.6 519.0,238.2 520.0,237.7 521.0,237.3 522.0,236.8 523.0,236.2 524.0,235.6 525.0,234.9 526.0,233.9 527.0,232.9 528.0,231.7 529.0,230.4 530.0,229.2 531.0,227.9 532.0,226.8 533.0,225.7 534.0,224.8 535.0,223.9 536.0,223.1 537.0,222.4 538.0,221.7 539.0,221.2 540.0,220.7 541.0,220.3 542.0,220.0 543.0,219.7 544.0,219.4 545.0,219.2 546.0,218.9 547.0,218.6 548.0,218.3 549.0,218.1 550.0,217.9 551.0,217.7 552.0,217.7 553.0,217.7 554.0,217.9 555.0,218.0 556.0,218.3 557.0,218.6 558.0,218.9 559.0,219.2 560.0,219.6 561.0,220.0 562.0,220.4 563.0,220.8 564.0,221.4 565.0,221.9 566.0,222.6 567.0,223.2 568.0,223.9 569.0,224.6 570.0,225.3 571.0,226.0 572.0,226.7 573.0,227.4 574.0,228.2 575.0,228.9 576.0,229.6 577.0,230.2 578.0,230.7 579.0,231.1 580.0,231.3 581.0,231.5 582.0,231.6 583.0,231.8 584.0,231.9 585.0,232.1 586.0,232.3 587.0,232.6 588.0,232.8 589.0,233.1 590.0,233.3 591.0,233.5 592.0,233.7 593.0,233.9 594.0,234.1 595.0,234.2 596.0,234.3 597.0,234.4 598.0,234.5 599.0,234.5 600.0,234.6 601.0,234.6 602.0,234.7 603.0,234.7 604.0,234.8 605.0,234.8 606.0,234.9 607.0,234.9 608.0,234.9 609.0,235.0 610.0,235.0 611.0,235.1 612.0,235.1 613.0,235.2 614.0,235.3 615.0,235.3 616.0,235.4 617.0,235.5 618.0,235.5 619.0,235.6 620.0,235.7 621.0,235.8 622.0,235.9 623.0,236.0 624.0,236.1 625.0,236.1 626.0,236.2 627.0,236.3 628.0,236.4 629.0,236.5 630.0,236.6 631.0,236.7 632.0,236.8" stroke="#f03890" stroke-width="2.2" stroke-opacity="0.95"/>
<path d="M324.0,170.0 325.0,170.6 326.0,171.3 327.0,172.1 328.0,173.1 329.0,174.4 330.0,175.9 331.0,177.6 332.0,179.3 333.0,181.0 334.0,182.7 335.0,184.6 336.0,186.4 337.0,188.3 338.0,190.2 339.0,192.0 340.0,193.7 341.0,195.3 342.0,196.9 343.0,198.4 344.0,199.9 345.0,201.4 346.0,202.8 347.0,204.3 348.0,205.9 349.0,207.5 350.0,209.1 351.0,210.6 352.0,212.0 353.0,213.3 354.0,214.4 355.0,215.2 356.0,215.9 357.0,216.6 358.0,217.2 359.0,217.9 360.0,218.5 361.0,219.0 362.0,219.5 363.0,220.0 364.0,220.4 365.0,220.8 366.0,221.0 367.0,221.3 368.0,221.4 369.0,221.5 370.0,221.6 371.0,221.7 372.0,221.8 373.0,221.9 374.0,221.9 375.0,222.0 376.0,222.1 377.0,222.1 378.0,222.2 379.0,222.2 380.0,222.3 381.0,222.3 382.0,222.3 383.0,222.2 384.0,222.1 385.0,222.0 386.0,221.9 387.0,221.7 388.0,221.5 389.0,221.4 390.0,221.2 391.0,221.1 392.0,221.1 393.0,221.0 394.0,221.1 395.0,221.1 396.0,221.3 397.0,221.4 398.0,221.7 399.0,221.9 400.0,222.2 401.0,222.4 402.0,222.7 403.0,223.1 404.0,223.4 405.0,223.7 406.0,224.0 407.0,224.3 408.0,224.7 409.0,225.1 410.0,225.6 411.0,226.1 412.0,226.6 413.0,227.1 414.0,227.7 415.0,228.2 416.0,228.7 417.0,229.1 418.0,229.6 419.0,230.0 420.0,230.4 421.0,230.8 422.0,231.2 423.0,231.6 424.0,232.0 425.0,232.4 426.0,232.8 427.0,233.2 428.0,233.4 429.0,233.7 430.0,233.8 431.0,233.9 432.0,233.9 433.0,233.9 434.0,233.8 435.0,233.8 436.0,233.7 437.0,233.5 438.0,233.4 439.0,233.3 440.0,233.1 441.0,232.9 442.0,232.8 443.0,232.6 444.0,232.4 445.0,232.2 446.0,232.0 447.0,231.7 448.0,231.4 449.0,231.1 450.0,230.8 451.0,230.5 452.0,230.1 453.0,229.8 454.0,229.5 455.0,229.2 456.0,228.9 457.0,228.6 458.0,228.4 459.0,228.2 460.0,227.9 461.0,227.7 462.0,227.4 463.0,227.2 464.0,227.0 465.0,226.8 466.0,226.6 467.0,226.4 468.0,226.3 469.0,226.2 470.0,226.1 471.0,226.1 472.0,226.1 473.0,226.2 474.0,226.3 475.0,226.5 476.0,226.6 477.0,226.8 478.0,227.0 479.0,227.2 480.0,227.4 481.0,227.7 482.0,227.9 483.0,228.2 484.0,228.4 485.0,228.7 486.0,229.1 487.0,229.4 488.0,229.8 489.0,230.4 490.0,231.2 491.0,232.0 492.0,232.8 493.0,233.7 494.0,234.6 495.0,235.5 496.0,236.4 497.0,237.3 498.0,238.3 499.0,239.1 500.0,239.7 501.0,240.0 502.0,240.1 503.0,240.2 504.0,240.3 505.0,240.4 506.0,240.5 507.0,240.5 508.0,240.5 509.0,240.4 510.0,240.4 511.0,240.3 512.0,240.0 513.0,239.7 514.0,239.3 515.0,238.8 516.0,238.3 517.0,237.9 518.0,237.4 519.0,236.9 520.0,236.5 521.0,236.0 522.0,235.5 523.0,235.0 524.0,234.4 525.0,233.6 526.0,232.8 527.0,231.8 528.0,230.8 529.0,229.7 530.0,228.6 531.0,227.5 532.0,226.5 533.0,225.5 534.0,224.6 535.0,223.8 536.0,223.0 537.0,222.2 538.0,221.5 539.0,220.9 540.0,220.3 541.0,219.7 542.0,219.2 543.0,218.8 544.0,218.4 545.0,218.0 546.0,217.6 547.0,217.2 548.0,216.9 549.0,216.5 550.0,216.2 551.0,216.1 552.0,216.0 553.0,216.0 554.0,216.2 555.0,216.4 556.0,216.7 557.0,217.0 558.0,217.3 559.0,217.7 560.0,218.2 561.0,218.6 562.0,219.0 563.0,219.5 564.0,220.0 565.0,220.7 566.0,221.4 567.0,222.1 568.0,222.9 569.0,223.7 570.0,224.5 571.0,225.3 572.0,226.0 573.0,226.8 574.0,227.6 575.0,228.4 576.0,229.3 577.0,230.0 578.0,230.6 579.0,231.0 580.0,231.3 581.0,231.5 582.0,231.6 583.0,231.8 584.0,232.0 585.0,232.2 586.0,232.5 587.0,232.8 588.0,233.1 589.0,233.4 590.0,233.7 591.0,234.0 592.0,234.2 593.0,234.5 594.0,234.7 595.0,234.9 596.0,235.0 597.0,235.1 598.0,235.2 599.0,235.3 600.0,235.4 601.0,235.4 602.0,235.5 603.0,235.5 604.0,235.6 605.0,235.7 606.0,235.7 607.0,235.8 608.0,235.8 609.0,235.9 610.0,235.9 611.0,236.0 612.0,236.1 613.0,236.1 614.0,236.2 615.0,236.3 616.0,236.3 617.0,236.4 618.0,236.5 619.0,236.6 620.0,236.6 621.0,236.7 622.0,236.8 623.0,236.8 624.0,236.9 625.0,237.0 626.0,237.1 627.0,237.1 628.0,237.2 629.0,237.3 630.0,237.4 631.0,237.4 632.0,237.5" stroke="#f048c0" stroke-width="2.3" stroke-opacity="0.92"/>
<path d="M324.0,169.5 325.0,170.1 326.0,170.8 327.0,171.5 328.0,172.4 329.0,173.7 330.0,175.1 331.0,176.7 332.0,178.4 333.0,180.0 334.0,181.8 335.0,183.7 336.0,185.8 337.0,187.8 338.0,189.9 339.0,191.9 340.0,193.8 341.0,195.6 342.0,197.4 343.0,199.1 344.0,200.8 345.0,202.5 346.0,204.2 347.0,205.9 348.0,207.8 349.0,209.7 350.0,211.6 351.0,213.5 352.0,215.2 353.0,216.7 354.0,217.9 355.0,218.8 356.0,219.6 357.0,220.3 358.0,220.9 359.0,221.6 360.0,222.2 361.0,222.7 362.0,223.2 363.0,223.7 364.0,224.1 365.0,224.4 366.0,224.7 367.0,224.8 368.0,224.9 369.0,224.9 370.0,225.0 371.0,225.0 372.0,225.0 373.0,225.1 374.0,225.1 375.0,225.1 376.0,225.2 377.0,225.2 378.0,225.2 379.0,225.2 380.0,225.2 381.0,225.2 382.0,225.2 383.0,225.1 384.0,225.0 385.0,224.8 386.0,224.5 387.0,224.3 388.0,224.1 389.0,223.8 390.0,223.6 391.0,223.5 392.0,223.3 393.0,223.3 394.0,223.3 395.0,223.3 396.0,223.4 397.0,223.6 398.0,223.8 399.0,224.0 400.0,224.2 401.0,224.5 402.0,224.7 403.0,225.0 404.0,225.3 405.0,225.6 406.0,225.9 407.0,226.2 408.0,226.6 409.0,227.0 410.0,227.5 411.0,228.1 412.0,228.6 413.0,229.2 414.0,229.7 415.0,230.3 416.0,230.8 417.0,231.3 418.0,231.8 419.0,232.2 420.0,232.6 421.0,233.0 422.0,233.4 423.0,233.8 424.0,234.2 425.0,234.6 426.0,235.0 427.0,235.3 428.0,235.6 429.0,235.8 430.0,235.9 431.0,236.0 432.0,236.0 433.0,236.0 434.0,236.0 435.0,235.9 436.0,235.8 437.0,235.7 438.0,235.6 439.0,235.4 440.0,235.3 441.0,235.1 442.0,235.0 443.0,234.8 444.0,234.7 445.0,234.5 446.0,234.2 447.0,234.0 448.0,233.7 449.0,233.4 450.0,233.0 451.0,232.7 452.0,232.3 453.0,232.0 454.0,231.7 455.0,231.4 456.0,231.1 457.0,230.9 458.0,230.6 459.0,230.4 460.0,230.2 461.0,229.9 462.0,229.7 463.0,229.5 464.0,229.2 465.0,229.0 466.0,228.8 467.0,228.7 468.0,228.5 469.0,228.4 470.0,228.3 471.0,228.3 472.0,228.3 473.0,228.3 474.0,228.4 475.0,228.5 476.0,228.7 477.0,228.9 478.0,229.1 479.0,229.3 480.0,229.6 481.0,229.9 482.0,230.2 483.0,230.5 484.0,230.8 485.0,231.2 486.0,231.6 487.0,232.0 488.0,232.5 489.0,233.2 490.0,234.0 491.0,235.0 492.0,236.0 493.0,237.0 494.0,238.0 495.0,238.9 496.0,239.9 497.0,240.9 498.0,241.9 499.0,242.8 500.0,243.5 501.0,243.8 502.0,243.8 503.0,243.8 504.0,243.8 505.0,243.8 506.0,243.7 507.0,243.6 508.0,243.5 509.0,243.4 510.0,243.3 511.0,243.1 512.0,242.8 513.0,242.4 514.0,241.9 515.0,241.4 516.0,240.9 517.0,240.4 518.0,240.0 519.0,239.5 520.0,239.1 521.0,238.6 522.0,238.1 523.0,237.6 524.0,236.9 525.0,236.2 526.0,235.2 527.0,234.1 528.0,232.8 529.0,231.5 530.0,230.1 531.0,228.8 532.0,227.5 533.0,226.2 534.0,225.1 535.0,224.0 536.0,223.0 537.0,222.0 538.0,221.1 539.0,220.3 540.0,219.5 541.0,218.8 542.0,218.2 543.0,217.6 544.0,217.0 545.0,216.5 546.0,215.9 547.0,215.4 548.0,214.8 549.0,214.3 550.0,213.9 551.0,213.6 552.0,213.5 553.0,213.6 554.0,213.7 555.0,214.0 556.0,214.3 557.0,214.7 558.0,215.1 559.0,215.5 560.0,216.0 561.0,216.5 562.0,217.0 563.0,217.5 564.0,218.2 565.0,218.9 566.0,219.6 567.0,220.4 568.0,221.3 569.0,222.1 570.0,222.9 571.0,223.7 572.0,224.5 573.0,225.3 574.0,226.2 575.0,227.1 576.0,227.9 577.0,228.7 578.0,229.2 579.0,229.5 580.0,229.6 581.0,229.7 582.0,229.8 583.0,229.9 584.0,230.0 585.0,230.2 586.0,230.4 587.0,230.7 588.0,231.0 589.0,231.4 590.0,231.7 591.0,232.1 592.0,232.5 593.0,232.8 594.0,233.1 595.0,233.3 596.0,233.5 597.0,233.6 598.0,233.7 599.0,233.8 600.0,233.9 601.0,233.9 602.0,234.0 603.0,234.0 604.0,234.1 605.0,234.1 606.0,234.2 607.0,234.3 608.0,234.3 609.0,234.4 610.0,234.4 611.0,234.5 612.0,234.6 613.0,234.6 614.0,234.7 615.0,234.8 616.0,234.9 617.0,235.0 618.0,235.0 619.0,235.1 620.0,235.2 621.0,235.3 622.0,235.4 623.0,235.4 624.0,235.5 625.0,235.6 626.0,235.7 627.0,235.8 628.0,235.9 629.0,236.0 630.0,236.1 631.0,236.2 632.0,236.3" stroke="#f850f0" stroke-width="2.3" stroke-opacity="0.92"/>
<path d="M324.0,169.0 325.0,169.6 326.0,170.3 327.0,171.0 328.0,171.9 329.0,173.0 330.0,174.4 331.0,176.0 332.0,177.6 333.0,179.4 334.0,181.2 335.0,183.2 336.0,185.3 337.0,187.5 338.0,189.7 339.0,191.8 340.0,193.8 341.0,195.8 342.0,197.7 343.0,199.5 344.0,201.4 345.0,203.2 346.0,205.0 347.0,206.9 348.0,208.9 349.0,211.1 350.0,213.2 351.0,215.2 352.0,217.0 353.0,218.7 354.0,220.0 355.0,221.0 356.0,221.7 357.0,222.5 358.0,223.2 359.0,223.8 360.0,224.4 361.0,225.0 362.0,225.5 363.0,225.9 364.0,226.3 365.0,226.6 366.0,226.8 367.0,227.0 368.0,227.0 369.0,227.0 370.0,227.0 371.0,227.0 372.0,227.0 373.0,227.0 374.0,227.0 375.0,227.0 376.0,227.0 377.0,227.0 378.0,227.0 379.0,227.0 380.0,227.0 381.0,227.0 382.0,227.0 383.0,226.8 384.0,226.7 385.0,226.4 386.0,226.2 387.0,225.9 388.0,225.6 389.0,225.3 390.0,225.1 391.0,224.8 392.0,224.7 393.0,224.6 394.0,224.6 395.0,224.7 396.0,224.7 397.0,224.9 398.0,225.0 399.0,225.2 400.0,225.4 401.0,225.7 402.0,225.9 403.0,226.2 404.0,226.4 405.0,226.7 406.0,227.0 407.0,227.3 408.0,227.7 409.0,228.2 410.0,228.7 411.0,229.2 412.0,229.8 413.0,230.4 414.0,231.0 415.0,231.5 416.0,232.1 417.0,232.6 418.0,233.1 419.0,233.5 420.0,233.9 421.0,234.3 422.0,234.7 423.0,235.1 424.0,235.5 425.0,235.9 426.0,236.3 427.0,236.6 428.0,236.8 429.0,237.1 430.0,237.2 431.0,237.3 432.0,237.3 433.0,237.3 434.0,237.2 435.0,237.2 436.0,237.1 437.0,237.0 438.0,236.9 439.0,236.7 440.0,236.6 441.0,236.5 442.0,236.3 443.0,236.2 444.0,236.0 445.0,235.8 446.0,235.6 447.0,235.3 448.0,235.0 449.0,234.7 450.0,234.4 451.0,234.0 452.0,233.7 453.0,233.3 454.0,233.0 455.0,232.7 456.0,232.4 457.0,232.2 458.0,232.0 459.0,231.7 460.0,231.5 461.0,231.3 462.0,231.0 463.0,230.8 464.0,230.6 465.0,230.4 466.0,230.2 467.0,230.0 468.0,229.9 469.0,229.8 470.0,229.7 471.0,229.6 472.0,229.6 473.0,229.6 474.0,229.7 475.0,229.8 476.0,229.9 477.0,230.1 478.0,230.4 479.0,230.6 480.0,230.9 481.0,231.2 482.0,231.5 483.0,231.9 484.0,232.3 485.0,232.7 486.0,233.1 487.0,233.5 488.0,234.1 489.0,234.8 490.0,235.8 491.0,236.8 492.0,237.9 493.0,239.0 494.0,240.1 495.0,241.0 496.0,242.0 497.0,243.1 498.0,244.2 499.0,245.1 500.0,245.8 501.0,246.0 502.0,246.0 503.0,245.9 504.0,245.9 505.0,245.8 506.0,245.6 507.0,245.5 508.0,245.3 509.0,245.2 510.0,245.0 511.0,244.8 512.0,244.4 513.0,244.0 514.0,243.5 515.0,243.0 516.0,242.5 517.0,242.0 518.0,241.6 519.0,241.1 520.0,240.7 521.0,240.2 522.0,239.7 523.0,239.2 524.0,238.5 525.0,237.7 526.0,236.7 527.0,235.5 528.0,234.1 529.0,232.6 530.0,231.1 531.0,229.6 532.0,228.1 533.0,226.7 534.0,225.5 535.0,224.2 536.0,223.1 537.0,221.9 538.0,220.8 539.0,219.8 540.0,218.9 541.0,218.0 542.0,217.2 543.0,216.4 544.0,215.7 545.0,215.0 546.0,214.3 547.0,213.5 548.0,212.7 549.0,212.1 550.0,211.5 551.0,211.1 552.0,211.0 553.0,211.1 554.0,211.2 555.0,211.5 556.0,211.9 557.0,212.3 558.0,212.8 559.0,213.4 560.0,213.9 561.0,214.5 562.0,215.0 563.0,215.6 564.0,216.3 565.0,217.0 566.0,217.9 567.0,218.7 568.0,219.6 569.0,220.5 570.0,221.4 571.0,222.2 572.0,223.0 573.0,223.8 574.0,224.8 575.0,225.7 576.0,226.6 577.0,227.3 578.0,227.8 579.0,228.0 580.0,228.0 581.0,228.0 582.0,228.0 583.0,228.0 584.0,228.0 585.0,228.1 586.0,228.3 587.0,228.6 588.0,228.9 589.0,229.4 590.0,229.8 591.0,230.3 592.0,230.8 593.0,231.2 594.0,231.5 595.0,231.8 596.0,232.0 597.0,232.1 598.0,232.2 599.0,232.3 600.0,232.4 601.0,232.4 602.0,232.5 603.0,232.5 604.0,232.6 605.0,232.6 606.0,232.7 607.0,232.7 608.0,232.8 609.0,232.9 610.0,232.9 611.0,233.0 612.0,233.1 613.0,233.2 614.0,233.2 615.0,233.3 616.0,233.4 617.0,233.5 618.0,233.6 619.0,233.7 620.0,233.8 621.0,233.9 622.0,234.0 623.0,234.1 624.0,234.2 625.0,234.3 626.0,234.4 627.0,234.5 628.0,234.6 629.0,234.7 630.0,234.8 631.0,234.9 632.0,235.0" stroke="#f850f0" stroke-width="2.3" stroke-opacity="0.92"/>
<path d="M324.0,169.0 325.0,169.6 326.0,170.3 327.0,171.0 328.0,171.9 329.0,173.1 330.0,174.6 331.0,176.2 332.0,177.9 333.0,179.6 334.0,181.4 335.0,183.5 336.0,185.6 337.0,187.7 338.0,189.8 339.0,191.9 340.0,193.8 341.0,195.7 342.0,197.5 343.0,199.3 344.0,201.0 345.0,202.7 346.0,204.4 347.0,206.2 348.0,208.2 349.0,210.2 350.0,212.1 351.0,214.0 352.0,215.8 353.0,217.3 354.0,218.6 355.0,219.6 356.0,220.3 357.0,221.0 358.0,221.7 359.0,222.3 360.0,222.9 361.0,223.5 362.0,224.0 363.0,224.4 364.0,224.8 365.0,225.1 366.0,225.4 367.0,225.5 368.0,225.6 369.0,225.6 370.0,225.6 371.0,225.7 372.0,225.7 373.0,225.7 374.0,225.7 375.0,225.8 376.0,225.8 377.0,225.8 378.0,225.8 379.0,225.8 380.0,225.8 381.0,225.8 382.0,225.8 383.0,225.7 384.0,225.5 385.0,225.3 386.0,225.1 387.0,224.8 388.0,224.6 389.0,224.3 390.0,224.1 391.0,223.9 392.0,223.8 393.0,223.7 394.0,223.7 395.0,223.8 396.0,223.9 397.0,224.0 398.0,224.2 399.0,224.4 400.0,224.6 401.0,224.9 402.0,225.1 403.0,225.4 404.0,225.7 405.0,226.0 406.0,226.2 407.0,226.6 408.0,227.0 409.0,227.4 410.0,227.9 411.0,228.4 412.0,229.0 413.0,229.6 414.0,230.1 415.0,230.7 416.0,231.2 417.0,231.7 418.0,232.2 419.0,232.6 420.0,233.0 421.0,233.4 422.0,233.8 423.0,234.2 424.0,234.6 425.0,235.0 426.0,235.4 427.0,235.7 428.0,236.0 429.0,236.2 430.0,236.4 431.0,236.4 432.0,236.5 433.0,236.4 434.0,236.4 435.0,236.3 436.0,236.2 437.0,236.1 438.0,236.0 439.0,235.9 440.0,235.7 441.0,235.6 442.0,235.4 443.0,235.3 444.0,235.1 445.0,234.9 446.0,234.7 447.0,234.4 448.0,234.1 449.0,233.8 450.0,233.5 451.0,233.1 452.0,232.8 453.0,232.5 454.0,232.1 455.0,231.8 456.0,231.6 457.0,231.3 458.0,231.1 459.0,230.9 460.0,230.6 461.0,230.4 462.0,230.1 463.0,229.9 464.0,229.7 465.0,229.5 466.0,229.3 467.0,229.1 468.0,229.0 469.0,228.9 470.0,228.8 471.0,228.7 472.0,228.7 473.0,228.8 474.0,228.8 475.0,229.0 476.0,229.1 477.0,229.3 478.0,229.5 479.0,229.8 480.0,230.0 481.0,230.3 482.0,230.6 483.0,231.0 484.0,231.3 485.0,231.7 486.0,232.1 487.0,232.5 488.0,233.0 489.0,233.7 490.0,234.6 491.0,235.6 492.0,236.6 493.0,237.7 494.0,238.7 495.0,239.6 496.0,240.6 497.0,241.6 498.0,242.7 499.0,243.6 500.0,244.2 501.0,244.5 502.0,244.5 503.0,244.5 504.0,244.5 505.0,244.4 506.0,244.3 507.0,244.2 508.0,244.1 509.0,244.0 510.0,243.8 511.0,243.6 512.0,243.3 513.0,242.9 514.0,242.4 515.0,242.0 516.0,241.4 517.0,241.0 518.0,240.5 519.0,240.1 520.0,239.6 521.0,239.2 522.0,238.7 523.0,238.1 524.0,237.5 525.0,236.7 526.0,235.7 527.0,234.6 528.0,233.3 529.0,232.0 530.0,230.7 531.0,229.3 532.0,227.9 533.0,226.6 534.0,225.4 535.0,224.3 536.0,223.1 537.0,221.9 538.0,220.8 539.0,219.7 540.0,218.7 541.0,217.7 542.0,216.7 543.0,215.9 544.0,215.1 545.0,214.3 546.0,213.6 547.0,212.8 548.0,212.1 549.0,211.4 550.0,210.8 551.0,210.5 552.0,210.3 553.0,210.4 554.0,210.6 555.0,210.9 556.0,211.2 557.0,211.7 558.0,212.2 559.0,212.7 560.0,213.2 561.0,213.8 562.0,214.3 563.0,214.9 564.0,215.6 565.0,216.4 566.0,217.2 567.0,218.1 568.0,219.0 569.0,219.9 570.0,220.7 571.0,221.6 572.0,222.3 573.0,223.1 574.0,224.0 575.0,225.0 576.0,225.8 577.0,226.5 578.0,227.0 579.0,227.2 580.0,227.2 581.0,227.2 582.0,227.2 583.0,227.2 584.0,227.2 585.0,227.2 586.0,227.4 587.0,227.7 588.0,228.0 589.0,228.4 590.0,228.8 591.0,229.3 592.0,229.7 593.0,230.1 594.0,230.4 595.0,230.7 596.0,230.8 597.0,230.9 598.0,231.0 599.0,231.1 600.0,231.2 601.0,231.3 602.0,231.3 603.0,231.4 604.0,231.4 605.0,231.5 606.0,231.5 607.0,231.6 608.0,231.6 609.0,231.7 610.0,231.8 611.0,231.8 612.0,231.9 613.0,232.0 614.0,232.1 615.0,232.2 616.0,232.3 617.0,232.4 618.0,232.4 619.0,232.5 620.0,232.6 621.0,232.7 622.0,232.9 623.0,233.0 624.0,233.1 625.0,233.2 626.0,233.3 627.0,233.4 628.0,233.5 629.0,233.6 630.0,233.8 631.0,233.9 632.0,234.0" stroke="#e050f0" stroke-width="2.3" stroke-opacity="0.92"/>
<path d="M324.0,169.0 325.0,169.6 326.0,170.3 327.0,171.1 328.0,172.0 329.0,173.3 330.0,174.8 331.0,176.4 332.0,178.2 333.0,180.0 334.0,181.8 335.0,183.8 336.0,185.9 337.0,188.0 338.0,190.1 339.0,192.0 340.0,193.8 341.0,195.6 342.0,197.2 343.0,198.9 344.0,200.5 345.0,202.0 346.0,203.6 347.0,205.3 348.0,207.0 349.0,208.8 350.0,210.6 351.0,212.3 352.0,213.9 353.0,215.3 354.0,216.5 355.0,217.4 356.0,218.1 357.0,218.8 358.0,219.5 359.0,220.1 360.0,220.7 361.0,221.3 362.0,221.8 363.0,222.2 364.0,222.6 365.0,222.9 366.0,223.2 367.0,223.4 368.0,223.5 369.0,223.6 370.0,223.6 371.0,223.7 372.0,223.7 373.0,223.8 374.0,223.8 375.0,223.9 376.0,223.9 377.0,224.0 378.0,224.0 379.0,224.0 380.0,224.0 381.0,224.1 382.0,224.0 383.0,224.0 384.0,223.8 385.0,223.7 386.0,223.5 387.0,223.3 388.0,223.1 389.0,222.9 390.0,222.7 391.0,222.5 392.0,222.4 393.0,222.4 394.0,222.4 395.0,222.5 396.0,222.6 397.0,222.7 398.0,222.9 399.0,223.1 400.0,223.4 401.0,223.6 402.0,223.9 403.0,224.2 404.0,224.5 405.0,224.8 406.0,225.1 407.0,225.5 408.0,225.8 409.0,226.3 410.0,226.8 411.0,227.3 412.0,227.8 413.0,228.4 414.0,228.9 415.0,229.4 416.0,230.0 417.0,230.4 418.0,230.9 419.0,231.3 420.0,231.7 421.0,232.1 422.0,232.5 423.0,232.9 424.0,233.3 425.0,233.7 426.0,234.1 427.0,234.4 428.0,234.7 429.0,234.9 430.0,235.1 431.0,235.2 432.0,235.2 433.0,235.2 434.0,235.1 435.0,235.0 436.0,234.9 437.0,234.8 438.0,234.7 439.0,234.6 440.0,234.4 441.0,234.3 442.0,234.1 443.0,233.9 444.0,233.8 445.0,233.6 446.0,233.3 447.0,233.1 448.0,232.8 449.0,232.5 450.0,232.1 451.0,231.8 452.0,231.5 453.0,231.1 454.0,230.8 455.0,230.5 456.0,230.2 457.0,230.0 458.0,229.7 459.0,229.5 460.0,229.3 461.0,229.0 462.0,228.8 463.0,228.5 464.0,228.3 465.0,228.1 466.0,227.9 467.0,227.8 468.0,227.6 469.0,227.5 470.0,227.5 471.0,227.4 472.0,227.4 473.0,227.5 474.0,227.6 475.0,227.7 476.0,227.9 477.0,228.1 478.0,228.3 479.0,228.5 480.0,228.7 481.0,229.0 482.0,229.3 483.0,229.6 484.0,229.9 485.0,230.2 486.0,230.6 487.0,230.9 488.0,231.4 489.0,232.1 490.0,232.9 491.0,233.8 492.0,234.7 493.0,235.7 494.0,236.7 495.0,237.6 496.0,238.5 497.0,239.5 498.0,240.5 499.0,241.3 500.0,242.0 501.0,242.2 502.0,242.3 503.0,242.4 504.0,242.4 505.0,242.4 506.0,242.4 507.0,242.4 508.0,242.3 509.0,242.2 510.0,242.1 511.0,241.9 512.0,241.7 513.0,241.3 514.0,240.9 515.0,240.4 516.0,239.9 517.0,239.4 518.0,239.0 519.0,238.5 520.0,238.1 521.0,237.6 522.0,237.1 523.0,236.5 524.0,235.9 525.0,235.2 526.0,234.3 527.0,233.3 528.0,232.2 529.0,231.1 530.0,229.9 531.0,228.7 532.0,227.6 533.0,226.4 534.0,225.4 535.0,224.3 536.0,223.1 537.0,222.0 538.0,220.8 539.0,219.6 540.0,218.5 541.0,217.4 542.0,216.3 543.0,215.3 544.0,214.5 545.0,213.7 546.0,212.9 547.0,212.1 548.0,211.4 549.0,210.7 550.0,210.2 551.0,209.8 552.0,209.7 553.0,209.7 554.0,209.9 555.0,210.2 556.0,210.6 557.0,211.0 558.0,211.5 559.0,212.0 560.0,212.6 561.0,213.1 562.0,213.7 563.0,214.3 564.0,214.9 565.0,215.7 566.0,216.6 567.0,217.4 568.0,218.3 569.0,219.2 570.0,220.1 571.0,220.9 572.0,221.7 573.0,222.5 574.0,223.3 575.0,224.2 576.0,225.0 577.0,225.7 578.0,226.2 579.0,226.3 580.0,226.3 581.0,226.3 582.0,226.3 583.0,226.3 584.0,226.3 585.0,226.4 586.0,226.5 587.0,226.8 588.0,227.1 589.0,227.5 590.0,227.8 591.0,228.2 592.0,228.6 593.0,229.0 594.0,229.3 595.0,229.5 596.0,229.7 597.0,229.8 598.0,229.9 599.0,229.9 600.0,230.0 601.0,230.1 602.0,230.1 603.0,230.2 604.0,230.2 605.0,230.3 606.0,230.3 607.0,230.4 608.0,230.5 609.0,230.5 610.0,230.6 611.0,230.7 612.0,230.8 613.0,230.8 614.0,230.9 615.0,231.0 616.0,231.1 617.0,231.2 618.0,231.3 619.0,231.4 620.0,231.5 621.0,231.6 622.0,231.7 623.0,231.9 624.0,232.0 625.0,232.1 626.0,232.2 627.0,232.3 628.0,232.5 629.0,232.6 630.0,232.7 631.0,232.9 632.0,233.0" stroke="#c050f0" stroke-width="2.3" stroke-opacity="0.92"/>
<path d="M324.0,169.0 325.0,169.6 326.0,170.3 327.0,171.1 328.0,172.1 329.0,173.4 330.0,175.0 331.0,176.7 332.0,178.5 333.0,180.3 334.0,182.2 335.0,184.2 336.0,186.2 337.0,188.3 338.0,190.3 339.0,192.1 340.0,193.8 341.0,195.5 342.0,197.0 343.0,198.5 344.0,200.0 345.0,201.4 346.0,202.9 347.0,204.4 348.0,206.0 349.0,207.6 350.0,209.3 351.0,210.8 352.0,212.3 353.0,213.6 354.0,214.7 355.0,215.5 356.0,216.2 357.0,216.9 358.0,217.5 359.0,218.2 360.0,218.8 361.0,219.3 362.0,219.8 363.0,220.3 364.0,220.7 365.0,221.0 366.0,221.3 367.0,221.5 368.0,221.7 369.0,221.8 370.0,221.9 371.0,222.0 372.0,222.0 373.0,222.1 374.0,222.2 375.0,222.3 376.0,222.3 377.0,222.4 378.0,222.4 379.0,222.5 380.0,222.5 381.0,222.5 382.0,222.5 383.0,222.5 384.0,222.4 385.0,222.2 386.0,222.1 387.0,221.9 388.0,221.7 389.0,221.6 390.0,221.4 391.0,221.3 392.0,221.2 393.0,221.2 394.0,221.2 395.0,221.3 396.0,221.4 397.0,221.6 398.0,221.8 399.0,222.1 400.0,222.3 401.0,222.6 402.0,222.9 403.0,223.2 404.0,223.5 405.0,223.8 406.0,224.2 407.0,224.5 408.0,224.9 409.0,225.3 410.0,225.8 411.0,226.3 412.0,226.8 413.0,227.3 414.0,227.8 415.0,228.3 416.0,228.8 417.0,229.3 418.0,229.7 419.0,230.1 420.0,230.5 421.0,230.9 422.0,231.4 423.0,231.8 424.0,232.2 425.0,232.6 426.0,233.0 427.0,233.3 428.0,233.6 429.0,233.8 430.0,234.0 431.0,234.1 432.0,234.1 433.0,234.1 434.0,234.0 435.0,233.9 436.0,233.8 437.0,233.7 438.0,233.6 439.0,233.4 440.0,233.3 441.0,233.1 442.0,232.9 443.0,232.8 444.0,232.6 445.0,232.4 446.0,232.2 447.0,231.9 448.0,231.6 449.0,231.3 450.0,231.0 451.0,230.6 452.0,230.3 453.0,230.0 454.0,229.6 455.0,229.3 456.0,229.1 457.0,228.8 458.0,228.6 459.0,228.3 460.0,228.1 461.0,227.9 462.0,227.6 463.0,227.4 464.0,227.1 465.0,226.9 466.0,226.8 467.0,226.6 468.0,226.5 469.0,226.4 470.0,226.3 471.0,226.3 472.0,226.3 473.0,226.4 474.0,226.5 475.0,226.6 476.0,226.8 477.0,227.0 478.0,227.2 479.0,227.4 480.0,227.6 481.0,227.8 482.0,228.1 483.0,228.4 484.0,228.6 485.0,228.9 486.0,229.3 487.0,229.6 488.0,230.0 489.0,230.6 490.0,231.4 491.0,232.2 492.0,233.1 493.0,234.0 494.0,234.9 495.0,235.8 496.0,236.7 497.0,237.6 498.0,238.6 499.0,239.4 500.0,240.0 501.0,240.3 502.0,240.4 503.0,240.5 504.0,240.6 505.0,240.7 506.0,240.7 507.0,240.7 508.0,240.7 509.0,240.7 510.0,240.6 511.0,240.5 512.0,240.2 513.0,239.9 514.0,239.5 515.0,239.0 516.0,238.6 517.0,238.1 518.0,237.6 519.0,237.1 520.0,236.7 521.0,236.2 522.0,235.7 523.0,235.2 524.0,234.6 525.0,233.8 526.0,233.0 527.0,232.1 528.0,231.2 529.0,230.2 530.0,229.3 531.0,228.3 532.0,227.3 533.0,226.3 534.0,225.3 535.0,224.3 536.0,223.2 537.0,222.0 538.0,220.8 539.0,219.6 540.0,218.3 541.0,217.1 542.0,215.9 543.0,214.8 544.0,213.8 545.0,213.0 546.0,212.2 547.0,211.4 548.0,210.7 549.0,210.0 550.0,209.5 551.0,209.1 552.0,209.0 553.0,209.1 554.0,209.2 555.0,209.5 556.0,209.9 557.0,210.3 558.0,210.8 559.0,211.4 560.0,211.9 561.0,212.5 562.0,213.0 563.0,213.6 564.0,214.3 565.0,215.1 566.0,215.9 567.0,216.8 568.0,217.7 569.0,218.6 570.0,219.4 571.0,220.3 572.0,221.0 573.0,221.8 574.0,222.6 575.0,223.5 576.0,224.2 577.0,224.9 578.0,225.3 579.0,225.5 580.0,225.5 581.0,225.5 582.0,225.5 583.0,225.5 584.0,225.5 585.0,225.6 586.0,225.7 587.0,225.9 588.0,226.2 589.0,226.5 590.0,226.8 591.0,227.2 592.0,227.5 593.0,227.8 594.0,228.1 595.0,228.4 596.0,228.5 597.0,228.6 598.0,228.7 599.0,228.8 600.0,228.8 601.0,228.9 602.0,229.0 603.0,229.0 604.0,229.1 605.0,229.1 606.0,229.2 607.0,229.2 608.0,229.3 609.0,229.3 610.0,229.4 611.0,229.5 612.0,229.6 613.0,229.7 614.0,229.8 615.0,229.9 616.0,230.0 617.0,230.1 618.0,230.2 619.0,230.3 620.0,230.4 621.0,230.5 622.0,230.6 623.0,230.8 624.0,230.9 625.0,231.0 626.0,231.1 627.0,231.3 628.0,231.4 629.0,231.6 630.0,231.7 631.0,231.9 632.0,232.0" stroke="#a850f0" stroke-width="2.3" stroke-opacity="0.92"/>
<path d="M324.0,168.9 325.0,169.6 326.0,170.3 327.0,171.1 328.0,172.2 329.0,173.7 330.0,175.3 331.0,177.2 332.0,179.1 333.0,181.0 334.0,182.9 335.0,184.8 336.0,186.8 337.0,188.8 338.0,190.6 339.0,192.3 340.0,193.9 341.0,195.4 342.0,196.8 343.0,198.1 344.0,199.5 345.0,200.8 346.0,202.1 347.0,203.5 348.0,204.9 349.0,206.4 350.0,207.8 351.0,209.2 352.0,210.5 353.0,211.7 354.0,212.7 355.0,213.5 356.0,214.2 357.0,214.8 358.0,215.5 359.0,216.1 360.0,216.7 361.0,217.2 362.0,217.8 363.0,218.2 364.0,218.6 365.0,219.0 366.0,219.3 367.0,219.6 368.0,219.7 369.0,219.9 370.0,220.0 371.0,220.1 372.0,220.2 373.0,220.3 374.0,220.4 375.0,220.5 376.0,220.6 377.0,220.7 378.0,220.7 379.0,220.8 380.0,220.8 381.0,220.9 382.0,220.9 383.0,220.8 384.0,220.8 385.0,220.7 386.0,220.6 387.0,220.4 388.0,220.3 389.0,220.2 390.0,220.1 391.0,220.0 392.0,220.0 393.0,220.0 394.0,220.0 395.0,220.1 396.0,220.2 397.0,220.4 398.0,220.6 399.0,220.9 400.0,221.2 401.0,221.5 402.0,221.8 403.0,222.1 404.0,222.5 405.0,222.8 406.0,223.1 407.0,223.4 408.0,223.8 409.0,224.2 410.0,224.7 411.0,225.2 412.0,225.7 413.0,226.2 414.0,226.7 415.0,227.2 416.0,227.6 417.0,228.1 418.0,228.5 419.0,228.9 420.0,229.3 421.0,229.7 422.0,230.1 423.0,230.6 424.0,231.0 425.0,231.4 426.0,231.8 427.0,232.1 428.0,232.4 429.0,232.7 430.0,232.8 431.0,232.9 432.0,232.9 433.0,232.9 434.0,232.8 435.0,232.8 436.0,232.6 437.0,232.5 438.0,232.4 439.0,232.2 440.0,232.1 441.0,231.9 442.0,231.7 443.0,231.5 444.0,231.3 445.0,231.1 446.0,230.9 447.0,230.6 448.0,230.4 449.0,230.0 450.0,229.7 451.0,229.4 452.0,229.0 453.0,228.7 454.0,228.4 455.0,228.1 456.0,227.8 457.0,227.6 458.0,227.3 459.0,227.1 460.0,226.8 461.0,226.6 462.0,226.3 463.0,226.1 464.0,225.9 465.0,225.7 466.0,225.5 467.0,225.3 468.0,225.2 469.0,225.1 470.0,225.1 471.0,225.1 472.0,225.1 473.0,225.2 474.0,225.3 475.0,225.5 476.0,225.6 477.0,225.8 478.0,226.0 479.0,226.2 480.0,226.4 481.0,226.6 482.0,226.8 483.0,227.1 484.0,227.3 485.0,227.6 486.0,227.8 487.0,228.2 488.0,228.5 489.0,229.1 490.0,229.8 491.0,230.5 492.0,231.3 493.0,232.2 494.0,233.0 495.0,233.9 496.0,234.7 497.0,235.6 498.0,236.5 499.0,237.3 500.0,237.9 501.0,238.2 502.0,238.4 503.0,238.5 504.0,238.7 505.0,238.8 506.0,238.9 507.0,239.0 508.0,239.0 509.0,239.0 510.0,239.0 511.0,238.9 512.0,238.7 513.0,238.4 514.0,238.0 515.0,237.6 516.0,237.1 517.0,236.6 518.0,236.1 519.0,235.7 520.0,235.2 521.0,234.7 522.0,234.3 523.0,233.7 524.0,233.1 525.0,232.4 526.0,231.7 527.0,230.9 528.0,230.1 529.0,229.3 530.0,228.5 531.0,227.7 532.0,226.9 533.0,226.1 534.0,225.2 535.0,224.3 536.0,223.3 537.0,222.1 538.0,220.9 539.0,219.6 540.0,218.2 541.0,216.9 542.0,215.6 543.0,214.4 544.0,213.4 545.0,212.5 546.0,211.7 547.0,210.9 548.0,210.2 549.0,209.5 550.0,209.0 551.0,208.6 552.0,208.5 553.0,208.6 554.0,208.7 555.0,209.0 556.0,209.4 557.0,209.8 558.0,210.3 559.0,210.9 560.0,211.4 561.0,212.0 562.0,212.5 563.0,213.1 564.0,213.8 565.0,214.5 566.0,215.3 567.0,216.2 568.0,217.0 569.0,217.9 570.0,218.7 571.0,219.5 572.0,220.2 573.0,221.0 574.0,221.8 575.0,222.6 576.0,223.4 577.0,224.0 578.0,224.5 579.0,224.7 580.0,224.7 581.0,224.7 582.0,224.7 583.0,224.7 584.0,224.8 585.0,224.8 586.0,224.9 587.0,225.1 588.0,225.4 589.0,225.6 590.0,225.9 591.0,226.2 592.0,226.4 593.0,226.7 594.0,226.9 595.0,227.1 596.0,227.2 597.0,227.3 598.0,227.4 599.0,227.5 600.0,227.6 601.0,227.6 602.0,227.7 603.0,227.8 604.0,227.8 605.0,227.9 606.0,227.9 607.0,228.0 608.0,228.0 609.0,228.1 610.0,228.2 611.0,228.2 612.0,228.3 613.0,228.4 614.0,228.5 615.0,228.6 616.0,228.7 617.0,228.9 618.0,229.0 619.0,229.1 620.0,229.2 621.0,229.3 622.0,229.5 623.0,229.6 624.0,229.8 625.0,229.9 626.0,230.0 627.0,230.2 628.0,230.4 629.0,230.5 630.0,230.7 631.0,230.8 632.0,231.0" stroke="#9050f0" stroke-width="2.3" stroke-opacity="0.92"/>
<path d="M324.0,168.9 325.0,169.6 326.0,170.3 327.0,171.2 328.0,172.3 329.0,173.9 330.0,175.7 331.0,177.7 332.0,179.6 333.0,181.6 334.0,183.5 335.0,185.4 336.0,187.4 337.0,189.2 338.0,190.9 339.0,192.5 340.0,194.0 341.0,195.3 342.0,196.6 343.0,197.8 344.0,199.0 345.0,200.3 346.0,201.5 347.0,202.7 348.0,204.0 349.0,205.3 350.0,206.6 351.0,207.8 352.0,209.0 353.0,210.1 354.0,211.0 355.0,211.8 356.0,212.4 357.0,213.1 358.0,213.7 359.0,214.3 360.0,214.9 361.0,215.5 362.0,216.0 363.0,216.4 364.0,216.9 365.0,217.3 366.0,217.6 367.0,217.8 368.0,218.0 369.0,218.2 370.0,218.4 371.0,218.5 372.0,218.6 373.0,218.8 374.0,218.9 375.0,219.0 376.0,219.1 377.0,219.2 378.0,219.3 379.0,219.4 380.0,219.4 381.0,219.5 382.0,219.5 383.0,219.5 384.0,219.4 385.0,219.4 386.0,219.3 387.0,219.2 388.0,219.1 389.0,219.0 390.0,219.0 391.0,218.9 392.0,218.9 393.0,218.9 394.0,218.9 395.0,219.0 396.0,219.2 397.0,219.4 398.0,219.6 399.0,219.9 400.0,220.2 401.0,220.5 402.0,220.9 403.0,221.2 404.0,221.5 405.0,221.9 406.0,222.2 407.0,222.5 408.0,222.9 409.0,223.3 410.0,223.8 411.0,224.2 412.0,224.7 413.0,225.2 414.0,225.7 415.0,226.1 416.0,226.6 417.0,227.0 418.0,227.5 419.0,227.9 420.0,228.2 421.0,228.7 422.0,229.1 423.0,229.5 424.0,230.0 425.0,230.4 426.0,230.8 427.0,231.1 428.0,231.4 429.0,231.7 430.0,231.8 431.0,231.9 432.0,231.9 433.0,231.9 434.0,231.8 435.0,231.7 436.0,231.6 437.0,231.5 438.0,231.3 439.0,231.2 440.0,231.0 441.0,230.8 442.0,230.6 443.0,230.4 444.0,230.3 445.0,230.1 446.0,229.8 447.0,229.6 448.0,229.3 449.0,229.0 450.0,228.6 451.0,228.3 452.0,228.0 453.0,227.6 454.0,227.3 455.0,227.0 456.0,226.8 457.0,226.5 458.0,226.3 459.0,226.0 460.0,225.8 461.0,225.5 462.0,225.3 463.0,225.0 464.0,224.8 465.0,224.6 466.0,224.4 467.0,224.2 468.0,224.1 469.0,224.0 470.0,224.0 471.0,224.0 472.0,224.1 473.0,224.2 474.0,224.3 475.0,224.5 476.0,224.6 477.0,224.8 478.0,225.0 479.0,225.2 480.0,225.4 481.0,225.5 482.0,225.7 483.0,225.9 484.0,226.2 485.0,226.4 486.0,226.6 487.0,226.9 488.0,227.3 489.0,227.8 490.0,228.4 491.0,229.1 492.0,229.8 493.0,230.6 494.0,231.4 495.0,232.2 496.0,233.0 497.0,233.9 498.0,234.7 499.0,235.5 500.0,236.0 501.0,236.4 502.0,236.6 503.0,236.8 504.0,237.0 505.0,237.2 506.0,237.4 507.0,237.5 508.0,237.6 509.0,237.6 510.0,237.6 511.0,237.6 512.0,237.4 513.0,237.1 514.0,236.8 515.0,236.3 516.0,235.9 517.0,235.4 518.0,234.9 519.0,234.4 520.0,233.9 521.0,233.5 522.0,233.0 523.0,232.5 524.0,231.9 525.0,231.2 526.0,230.5 527.0,229.9 528.0,229.2 529.0,228.6 530.0,228.0 531.0,227.3 532.0,226.7 533.0,225.9 534.0,225.2 535.0,224.3 536.0,223.3 537.0,222.2 538.0,220.9 539.0,219.5 540.0,218.1 541.0,216.7 542.0,215.3 543.0,214.0 544.0,212.9 545.0,212.0 546.0,211.2 547.0,210.4 548.0,209.7 549.0,209.0 550.0,208.5 551.0,208.1 552.0,208.0 553.0,208.1 554.0,208.2 555.0,208.5 556.0,208.9 557.0,209.3 558.0,209.8 559.0,210.4 560.0,210.9 561.0,211.5 562.0,212.0 563.0,212.6 564.0,213.2 565.0,214.0 566.0,214.7 567.0,215.6 568.0,216.4 569.0,217.2 570.0,218.0 571.0,218.8 572.0,219.5 573.0,220.2 574.0,221.0 575.0,221.8 576.0,222.5 577.0,223.1 578.0,223.6 579.0,223.8 580.0,223.9 581.0,223.9 582.0,223.9 583.0,224.0 584.0,224.0 585.0,224.1 586.0,224.2 587.0,224.4 588.0,224.5 589.0,224.7 590.0,224.9 591.0,225.2 592.0,225.4 593.0,225.6 594.0,225.7 595.0,225.9 596.0,226.0 597.0,226.1 598.0,226.2 599.0,226.2 600.0,226.3 601.0,226.4 602.0,226.4 603.0,226.5 604.0,226.5 605.0,226.6 606.0,226.7 607.0,226.7 608.0,226.8 609.0,226.8 610.0,226.9 611.0,227.0 612.0,227.1 613.0,227.2 614.0,227.3 615.0,227.4 616.0,227.5 617.0,227.6 618.0,227.8 619.0,227.9 620.0,228.0 621.0,228.2 622.0,228.3 623.0,228.5 624.0,228.6 625.0,228.8 626.0,228.9 627.0,229.1 628.0,229.3 629.0,229.5 630.0,229.6 631.0,229.8 632.0,230.0" stroke="#7050f0" stroke-width="2.3" stroke-opacity="0.92"/>
<path d="M24.0,102.9 25.0,105.2 26.0,110.7 27.0,112.0 28.0,104.2 29.0,109.8 30.0,121.6 31.0,120.5 32.0,117.5 33.0,127.7 34.0,134.0 35.0,135.0 36.0,143.3 37.0,157.9 38.0,163.4 39.0,162.3 40.0,170.6 41.0,183.8 42.0,195.6 43.0,203.8 44.0,211.7 45.0,218.9 46.0,218.5 47.0,213.1 48.0,204.9 49.0,192.8" stroke="#10f0e0" stroke-width="2.3"/>
<path d="M24.0,147.1 25.0,145.3 26.0,151.4 27.0,145.7 28.0,142.0 29.0,148.9 30.0,149.4 31.0,146.2 32.0,144.2 33.0,143.3 34.0,142.7 35.0,140.5 36.0,139.5 37.0,141.6 38.0,141.9 39.0,146.6 40.0,141.2 41.0,136.9 42.0,135.0 43.0,142.7 44.0,152.5 45.0,158.5" stroke="#f03890" stroke-width="2.2"/>
<path d="M24.0,82.3 25.0,86.6 26.0,80.3 27.0,75.3 28.0,77.1 29.0,76.6 30.0,78.0 31.0,80.6 32.0,76.0 33.0,72.2 34.0,72.0 35.0,74.5 36.0,87.2 37.0,83.7 38.0,72.8 39.0,79.8 40.0,82.6 41.0,76.7 42.0,84.8 43.0,100.9 44.0,120.9 45.0,135.5" stroke="#f83020" stroke-width="2.2"/>
<path d="M24.0,82.6 25.0,89.4 26.0,78.8 27.0,71.4 28.0,74.6 29.0,79.1 30.0,71.3 31.0,79.4 32.0,73.0 33.0,74.8 34.0,76.2 35.0,70.4 36.0,74.3 37.0,81.1 38.0,76.1 39.0,70.6 40.0,74.4 41.0,75.0 42.0,82.7 43.0,93.0 44.0,114.0 45.0,132.3" stroke="#f83020" stroke-width="2.2"/>
<path d="M24.0,67.4 25.0,58.6 26.0,59.2 27.0,66.6 28.0,75.5 29.0,74.7 30.0,70.8 31.0,66.2 32.0,70.9 33.0,71.0 34.0,73.4 35.0,67.1 36.0,65.9 37.0,66.8 38.0,68.8 39.0,71.1 40.0,75.1 41.0,73.9 42.0,75.8 43.0,89.6 44.0,110.8 45.0,126.6" stroke="#f0c040" stroke-width="2.2"/>
<path d="M24.0,101.1 25.0,91.5 26.0,88.4 27.0,101.1 28.0,116.0 29.0,118.3 30.0,114.5 31.0,112.5 32.0,127.6 33.0,148.1 34.0,147.2 35.0,146.3 36.0,140.3 37.0,148.7 38.0,161.7 39.0,176.9 40.0,178.4 41.0,184.2 42.0,189.2 43.0,194.2 44.0,205.1 45.0,208.3 46.0,207.8 47.0,201.7 48.0,193.5 49.0,182.1" stroke="#10f0ff" stroke-width="2.3"/>
<path d="M24.0,119.7 25.0,123.3 26.0,124.3 27.0,109.9 28.0,123.7 29.0,131.9 30.0,129.8 31.0,133.2 32.0,128.7 33.0,128.7 34.0,129.3 35.0,120.0 36.0,111.2 37.0,120.3 38.0,127.1 39.0,118.8 40.0,114.0 41.0,118.6 42.0,127.5 43.0,129.8 44.0,140.3 45.0,150.4" stroke="#f03060" stroke-width="2.2"/>
<path d="M24.0,134.8 25.0,146.5 26.0,160.2 27.0,159.3 28.0,164.4 29.0,167.0 30.0,178.3 31.0,186.6 32.0,194.4 33.0,195.4 34.0,194.4 35.0,192.7 36.0,207.5 37.0,217.9 38.0,219.7 39.0,222.8 40.0,228.1 41.0,230.0 42.0,226.8 43.0,226.2 44.0,222.8 45.0,216.6 46.0,209.1 47.0,200.9 48.0,192.5 49.0,184.2" stroke="#1a50f0" stroke-width="2.3"/>
<path d="M24.0,87.8 25.0,74.5 26.0,80.1 27.0,90.4 28.0,90.9 29.0,85.4 30.0,95.3 31.0,88.0 32.0,81.7 33.0,82.7 34.0,85.3 35.0,85.7 36.0,80.2 37.0,86.6 38.0,93.6 39.0,99.8 40.0,87.2 41.0,81.6 42.0,84.7 43.0,98.4 44.0,121.4 45.0,137.3" stroke="#f06030" stroke-width="2.2"/>
<path d="M24.0,125.0 25.0,131.0 26.0,137.6 27.0,132.4 28.0,138.8 29.0,154.5 30.0,152.0 31.0,150.2 32.0,167.6 33.0,176.3 34.0,170.6 35.0,171.7 36.0,183.8 37.0,191.8 38.0,192.2 39.0,196.5 40.0,207.1 41.0,210.5 42.0,208.0 43.0,209.5 44.0,209.8 45.0,207.5 46.0,202.7 47.0,194.7 48.0,186.0 49.0,177.0" stroke="#1a70f0" stroke-width="2.3"/>
<path d="M24.0,73.1 25.0,74.0 26.0,77.6 27.0,87.0 28.0,83.8 29.0,74.1 30.0,74.1 31.0,77.7 32.0,81.4 33.0,76.7 34.0,69.9 35.0,77.2 36.0,71.2 37.0,70.2 38.0,69.4 39.0,76.0 40.0,80.9 41.0,82.6 42.0,88.8 43.0,98.4 44.0,116.1 45.0,131.3" stroke="#f0c040" stroke-width="2.2"/>
<path d="M24.0,115.6 25.0,123.1 26.0,125.2 27.0,134.6 28.0,128.5 29.0,127.6 30.0,138.8 31.0,143.8 32.0,149.4 33.0,151.1 34.0,160.5 35.0,166.4 36.0,173.7 37.0,180.9 38.0,180.1 39.0,189.1 40.0,202.2 41.0,209.4 42.0,211.3 43.0,211.7 44.0,216.2 45.0,217.9 46.0,215.2 47.0,208.2 48.0,200.0 49.0,189.4" stroke="#18b8f8" stroke-width="2.3"/>
<path d="M24.0,82.8 25.0,80.0 26.0,70.4 27.0,68.0 28.0,65.7 29.0,73.8 30.0,65.4 31.0,66.9 32.0,65.6 33.0,70.1 34.0,72.1 35.0,74.4 36.0,79.9 37.0,80.4 38.0,85.1 39.0,81.2 40.0,74.0 41.0,78.2 42.0,85.7 43.0,99.3 44.0,120.9 45.0,135.1" stroke="#ff8820" stroke-width="2.2"/>
<path d="M24.0,136.8 25.0,138.1 26.0,144.6 27.0,136.7 28.0,140.1 29.0,144.0 30.0,147.1 31.0,137.5 32.0,139.7 33.0,131.6 34.0,139.7 35.0,145.0 36.0,136.9 37.0,139.5 38.0,141.2 39.0,132.0 40.0,127.2 41.0,128.6 42.0,134.3 43.0,140.4 44.0,152.5 45.0,158.1" stroke="#f03890" stroke-width="2.2"/>
<path d="M24.0,125.5 25.0,122.5 26.0,138.3 27.0,147.1 28.0,159.1 29.0,166.3 30.0,158.6 31.0,160.1 32.0,160.7 33.0,169.4 34.0,179.5 35.0,187.3 36.0,196.4 37.0,202.2 38.0,206.1 39.0,204.2 40.0,208.4 41.0,210.7 42.0,213.4 43.0,211.5 44.0,214.2 45.0,212.5 46.0,206.9 47.0,199.0 48.0,190.5 49.0,181.5" stroke="#1a70f0" stroke-width="2.3"/>
<path d="M24.0,96.4 25.0,95.7 26.0,99.5 27.0,101.5 28.0,102.5 29.0,96.7 30.0,103.8 31.0,105.2 32.0,93.2 33.0,101.0 34.0,100.5 35.0,97.3 36.0,100.1 37.0,101.6 38.0,94.2 39.0,101.8 40.0,102.3 41.0,100.4 42.0,94.4 43.0,104.2 44.0,127.1 45.0,140.0" stroke="#f83020" stroke-width="2.2"/>
<path d="M24.0,80.8 25.0,80.8 26.0,79.9 27.0,72.5 28.0,66.5 29.0,66.4 30.0,70.8 31.0,69.0 32.0,65.8 33.0,57.0 34.0,62.9 35.0,64.2 36.0,76.5 37.0,86.1 38.0,82.0 39.0,78.6 40.0,77.0 41.0,71.3 42.0,80.0 43.0,95.5 44.0,114.8 45.0,129.8" stroke="#ff8820" stroke-width="2.2"/>
<path d="M24.0,125.0 25.0,132.3 26.0,138.9 27.0,151.2 28.0,160.7 29.0,163.7 30.0,166.3 31.0,165.8 32.0,172.6 33.0,184.6 34.0,191.7 35.0,194.7 36.0,200.5 37.0,200.2 38.0,201.2 39.0,210.0 40.0,210.9 41.0,212.3 42.0,220.4 43.0,219.3 44.0,213.9 45.0,207.7 46.0,201.3 47.0,192.3 48.0,183.5 49.0,175.2" stroke="#1a50f0" stroke-width="2.3"/>
<path d="M24.0,88.1 25.0,89.0 26.0,95.2 27.0,92.4 28.0,87.3 29.0,84.9 30.0,81.4 31.0,76.1 32.0,73.9 33.0,78.2 34.0,82.3 35.0,76.1 36.0,72.4 37.0,84.0 38.0,86.0 39.0,87.4 40.0,81.9 41.0,77.7 42.0,82.2 43.0,95.6 44.0,120.8 45.0,141.4" stroke="#f85020" stroke-width="2.2"/>
<path d="M24.0,74.7 25.0,71.2 26.0,69.6 27.0,74.2 28.0,79.0 29.0,81.8 30.0,85.4 31.0,88.1 32.0,89.8 33.0,91.6 34.0,98.1 35.0,102.1 36.0,110.3 37.0,116.0 38.0,121.1 39.0,127.5 40.0,133.7 41.0,139.7 42.0,147.2 43.0,156.2 44.0,164.4 45.0,171.7 46.0,176.5 47.0,175.8 48.0,170.5 49.0,162.6" stroke="#10f0a0" stroke-width="2.3"/>
<path d="M24.0,116.8 25.0,119.1 26.0,121.5 27.0,119.7 28.0,123.0 29.0,120.3 30.0,114.4 31.0,114.0 32.0,123.9 33.0,117.5 34.0,111.8 35.0,113.8 36.0,117.3 37.0,118.8 38.0,112.4 39.0,104.8 40.0,108.8 41.0,108.7 42.0,116.8 43.0,125.8 44.0,138.9 45.0,148.7" stroke="#f03040" stroke-width="2.2"/>
<path d="M24.0,112.3 25.0,110.0 26.0,113.7 27.0,112.4 28.0,120.5 29.0,119.3 30.0,123.0 31.0,132.6 32.0,138.0 33.0,149.7 34.0,152.2 35.0,167.9 36.0,173.2 37.0,174.7 38.0,181.9 39.0,190.3 40.0,202.1 41.0,201.8 42.0,203.6 43.0,209.0 44.0,211.7 45.0,213.4 46.0,210.7 47.0,203.9 48.0,195.5 49.0,184.9" stroke="#18b8f8" stroke-width="2.3"/>
<path d="M24.0,135.9 25.0,136.8 26.0,143.6 27.0,146.7 28.0,148.7 29.0,157.4 30.0,168.1 31.0,177.9 32.0,182.3 33.0,192.1 34.0,203.9 35.0,206.3 36.0,200.0 37.0,197.5 38.0,209.2 39.0,218.6 40.0,225.0 41.0,228.4 42.0,232.5 43.0,224.3 44.0,218.1 45.0,211.2 46.0,204.7 47.0,196.6 48.0,188.0 49.0,179.7" stroke="#1a50f0" stroke-width="2.3"/>
<path d="M24.0,85.8 25.0,80.6 26.0,78.8 27.0,91.0 28.0,107.3 29.0,100.0 30.0,94.0 31.0,112.0 32.0,119.3 33.0,115.0 34.0,122.1 35.0,128.0 36.0,131.7 37.0,139.3 38.0,143.4 39.0,160.1 40.0,171.4 41.0,176.1 42.0,188.9 43.0,198.3 44.0,205.9 45.0,212.0 46.0,210.6 47.0,204.3 48.0,195.9 49.0,183.8" stroke="#10f0e0" stroke-width="2.3"/>
<path d="M24.0,88.1 25.0,86.5 26.0,81.7 27.0,74.9 28.0,78.2 29.0,83.1 30.0,82.7 31.0,77.1 32.0,71.7 33.0,67.9 34.0,69.5 35.0,74.5 36.0,85.3 37.0,87.0 38.0,79.2 39.0,76.6 40.0,81.1 41.0,84.7 42.0,84.6 43.0,91.1 44.0,115.2 45.0,135.1" stroke="#ff8820" stroke-width="2.2"/>
<path d="M24.0,115.7 25.0,113.2 26.0,106.2 27.0,96.8 28.0,100.7 29.0,105.1 30.0,99.4 31.0,112.4 32.0,112.0 33.0,102.6 34.0,109.1 35.0,111.3 36.0,116.9 37.0,111.4 38.0,113.0 39.0,103.0 40.0,98.1 41.0,99.9 42.0,109.2 43.0,118.2 44.0,135.5 45.0,144.8" stroke="#f03040" stroke-width="2.2"/>
<path d="M24.0,81.6 25.0,74.7 26.0,82.3 27.0,88.0 28.0,87.1 29.0,76.5 30.0,73.5 31.0,78.3 32.0,78.3 33.0,76.6 34.0,74.7 35.0,78.2 36.0,76.3 37.0,70.6 38.0,82.7 39.0,77.5 40.0,68.0 41.0,71.7 42.0,80.5 43.0,92.2 44.0,118.4 45.0,136.2" stroke="#f85020" stroke-width="2.2"/>
<path d="M24.0,91.7 25.0,98.8 26.0,107.7 27.0,108.9 28.0,107.1 29.0,116.6 30.0,114.1 31.0,115.7 32.0,132.3 33.0,137.8 34.0,138.1 35.0,142.9 36.0,155.2 37.0,158.1 38.0,163.4 39.0,176.2 40.0,181.9 41.0,187.2 42.0,198.8 43.0,201.1 44.0,208.3 45.0,214.4 46.0,213.2 47.0,206.5 48.0,198.0 49.0,186.6" stroke="#10f0ff" stroke-width="2.3"/>
<path d="M24.0,81.0 25.0,80.7 26.0,70.6 27.0,71.0 28.0,71.8 29.0,82.0 30.0,75.0 31.0,69.7 32.0,72.7 33.0,69.6 34.0,71.2 35.0,75.8 36.0,74.6 37.0,78.4 38.0,88.1 39.0,81.4 40.0,77.1 41.0,84.5 42.0,87.5 43.0,98.3 44.0,118.9 45.0,135.8" stroke="#f06030" stroke-width="2.2"/>
<path d="M24.0,116.1 25.0,120.7 26.0,131.8 27.0,131.9 28.0,133.3 29.0,138.8 30.0,146.5 31.0,158.7 32.0,160.2 33.0,159.7 34.0,177.7 35.0,184.7 36.0,180.6 37.0,181.8 38.0,191.0 39.0,197.4 40.0,206.2 41.0,212.5 42.0,217.4 43.0,214.6 44.0,216.7 45.0,217.6 46.0,213.4 47.0,205.9 48.0,197.5 49.0,187.7" stroke="#1a98f5" stroke-width="2.3"/>
<path d="M24.0,105.5 25.0,110.7 26.0,113.5 27.0,121.6 28.0,129.8 29.0,127.1 30.0,139.0 31.0,142.5 32.0,125.0 33.0,139.0 34.0,157.0 35.0,158.2 36.0,160.7 37.0,175.7 38.0,178.0 39.0,175.0 40.0,187.6 41.0,194.1 42.0,199.2 43.0,202.4 44.0,207.9 45.0,209.3 46.0,206.2 47.0,199.4 48.0,191.0 49.0,180.4" stroke="#18b8f8" stroke-width="2.3"/>
<path d="M24.0,64.2 25.0,65.1 26.0,66.9 27.0,67.7 28.0,66.8 29.0,69.6 30.0,73.7 31.0,75.0 32.0,81.1 33.0,84.9 34.0,87.7 35.0,91.9 36.0,98.4 37.0,105.5 38.0,111.9 39.0,119.0 40.0,124.4 41.0,130.7 42.0,139.6 43.0,147.3 44.0,154.8 45.0,162.1 46.0,167.3 47.0,166.8 48.0,161.5 49.0,153.6" stroke="#10f0a0" stroke-width="2.3"/>
<path d="M24.0,114.1 25.0,114.3 26.0,124.1 27.0,130.0 28.0,141.0 29.0,149.5 30.0,147.4 31.0,155.6 32.0,155.4 33.0,160.7 34.0,163.5 35.0,164.8 36.0,172.4 37.0,178.3 38.0,185.7 39.0,185.0 40.0,191.9 41.0,204.7 42.0,209.7 43.0,211.0 44.0,211.2 45.0,210.0 46.0,205.2 47.0,197.1 48.0,188.5 49.0,178.7" stroke="#1a98f5" stroke-width="2.3"/>
<path d="M24.0,83.7 25.0,82.8 26.0,84.1 27.0,82.3 28.0,85.7 29.0,88.8 30.0,78.2 31.0,76.6 32.0,77.9 33.0,81.0 34.0,89.3 35.0,99.0 36.0,103.7 37.0,102.9 38.0,84.0 39.0,86.6 40.0,97.1 41.0,92.7 42.0,93.2 43.0,102.0 44.0,122.1 45.0,137.6" stroke="#f83020" stroke-width="2.2"/>
<path d="M24.0,82.6 25.0,77.7 26.0,76.2 27.0,78.0 28.0,79.5 29.0,83.4 30.0,85.7 31.0,80.1 32.0,82.7 33.0,81.8 34.0,71.6 35.0,65.9 36.0,77.9 37.0,86.2 38.0,86.4 39.0,74.9 40.0,79.6 41.0,82.3 42.0,88.1 43.0,100.9 44.0,122.1 45.0,137.8" stroke="#ff8820" stroke-width="2.2"/>
<path d="M24.0,90.2 25.0,89.8 26.0,81.5 27.0,82.5 28.0,98.7 29.0,96.1 30.0,88.8 31.0,82.4 32.0,86.5 33.0,86.6 34.0,88.7 35.0,97.9 36.0,102.3 37.0,96.1 38.0,86.8 39.0,86.1 40.0,87.2 41.0,86.0 42.0,90.9 43.0,102.9 44.0,125.7 45.0,140.4" stroke="#f83020" stroke-width="2.2"/>
<path d="M24.0,131.7 25.0,131.8 26.0,125.3 27.0,118.8 28.0,119.5 29.0,116.3 30.0,123.3 31.0,131.5 32.0,133.4 33.0,123.6 34.0,124.7 35.0,125.8 36.0,126.7 37.0,130.4 38.0,124.6 39.0,128.1 40.0,131.3 41.0,126.6 42.0,122.8 43.0,131.9 44.0,146.1 45.0,154.2" stroke="#f03060" stroke-width="2.2"/>
<path d="M24.0,88.3 25.0,91.1 26.0,108.4 27.0,104.1 28.0,106.8 29.0,106.4 30.0,111.3 31.0,117.6 32.0,118.2 33.0,123.9 34.0,136.7 35.0,147.2 36.0,157.4 37.0,150.5 38.0,143.6 39.0,154.4 40.0,170.9 41.0,176.8 42.0,187.3 43.0,200.4 44.0,205.7 45.0,213.0 46.0,215.0 47.0,209.0 48.0,200.4 49.0,188.3" stroke="#10f0e0" stroke-width="2.3"/>
<path d="M24.0,93.1 25.0,102.3 26.0,118.6 27.0,117.4 28.0,122.7 29.0,129.5 30.0,125.3 31.0,128.5 32.0,118.7 33.0,123.5 34.0,129.7 35.0,146.1 36.0,155.3 37.0,158.1 38.0,171.1 39.0,191.9 40.0,192.3 41.0,195.2 42.0,199.3 43.0,206.5 44.0,214.3 45.0,218.5 46.0,217.3 47.0,210.8 48.0,202.5 49.0,191.1" stroke="#10f0ff" stroke-width="2.3"/>
<path d="M24.0,98.6 25.0,95.8 26.0,95.2 27.0,88.4 28.0,80.1 29.0,87.4 30.0,99.0 31.0,92.8 32.0,95.7 33.0,86.0 34.0,89.1 35.0,88.8 36.0,93.0 37.0,101.2 38.0,99.0 39.0,95.9 40.0,86.1 41.0,93.7 42.0,107.2 43.0,115.6 44.0,130.6 45.0,143.6" stroke="#f83020" stroke-width="2.2"/>
<path d="M24.0,128.7 25.0,134.1 26.0,135.2 27.0,141.4 28.0,149.5 29.0,138.2 30.0,144.5 31.0,159.7 32.0,153.2 33.0,160.0 34.0,164.3 35.0,164.5 36.0,170.0 37.0,181.0 38.0,191.3 39.0,198.8 40.0,203.9 41.0,207.2 42.0,211.7 43.0,214.2 44.0,212.5 45.0,212.0 46.0,209.0 47.0,201.3 48.0,193.0 49.0,183.2" stroke="#1a98f5" stroke-width="2.3"/>
<path d="M24.0,135.0 25.0,133.8 26.0,133.1 27.0,143.9 28.0,156.7 29.0,162.1 30.0,166.3 31.0,167.3 32.0,178.2 33.0,187.3 34.0,183.9 35.0,188.3 36.0,201.2 37.0,200.7 38.0,198.2 39.0,208.0 40.0,220.0 41.0,224.0 42.0,228.3 43.0,225.1 44.0,221.4 45.0,217.9 46.0,211.7 47.0,203.7 48.0,195.0 49.0,186.0" stroke="#1a70f0" stroke-width="2.3"/>
<path d="M24.0,69.4 25.0,70.6 26.0,71.2 27.0,74.0 28.0,79.0 29.0,80.6 30.0,80.1 31.0,81.5 32.0,86.2 33.0,86.3 34.0,88.5 35.0,95.2 36.0,99.4 37.0,103.1 38.0,111.2 39.0,119.7 40.0,127.3 41.0,135.9 42.0,144.3 43.0,151.4 44.0,159.0 45.0,167.2 46.0,172.1 47.0,171.3 48.0,166.0 49.0,158.1" stroke="#10f0a0" stroke-width="2.3"/>
<path d="M24.0,73.3 25.0,76.8 26.0,75.5 27.0,72.9 28.0,73.0 29.0,73.6 30.0,72.1 31.0,71.8 32.0,71.8 33.0,70.5 34.0,72.3 35.0,75.6 36.0,75.5 37.0,74.8 38.0,77.9 39.0,78.7 40.0,74.7 41.0,76.3 42.0,80.8 43.0,92.0 44.0,113.4 45.0,129.6 46.0,135.6 47.0,139.0 48.0,142.2 49.0,145.0 50.0,147.3 51.0,148.7 52.0,148.8 53.0,145.9 54.0,142.0 55.0,138.9 56.0,135.6 57.0,131.5 58.0,124.9 59.0,114.9 60.0,105.3 61.0,95.7 62.0,86.2 63.0,76.6 64.0,68.0 65.0,60.4 66.0,53.5 67.0,48.0 68.0,43.2 69.0,39.6 70.0,40.1 71.0,47.0 72.0,55.0 73.0,61.9 74.0,68.0 75.0,73.2 76.0,76.7 77.0,76.0 78.0,72.1 79.0,66.8 80.0,62.0 81.0,57.4 82.0,52.5 83.0,49.2 84.0,48.9 85.0,50.6 86.0,53.4 87.0,56.7 88.0,60.0 89.0,63.4 90.0,67.2 91.0,71.2 92.0,75.0 93.0,78.5 94.0,82.0 95.0,85.5 96.0,89.2 97.0,93.4 98.0,97.9 99.0,102.6 100.0,107.0 101.0,111.8 102.0,117.0 103.0,121.8 104.0,125.1 105.0,126.0 106.0,124.8 107.0,122.6 108.0,119.8 109.0,117.1 110.0,115.0 111.0,113.4 112.0,111.8 113.0,110.4 114.0,109.4 115.0,109.0 116.0,111.4 117.0,116.0 118.0,119.5 119.0,118.9 120.0,115.8 121.0,111.6 122.0,108.0 123.0,104.9 124.0,101.5 125.0,98.1 126.0,95.1 127.0,92.7 128.0,91.3 129.0,91.1 130.0,92.3 131.0,94.0 132.0,95.0 133.0,95.3 134.0,95.5 135.0,95.6 136.0,95.8 137.0,96.5 138.0,98.8 139.0,102.3 140.0,106.4 141.0,110.6 142.0,114.6 143.0,119.3 144.0,123.3 145.0,125.6 146.0,127.3 147.0,128.6 148.0,130.0 149.0,131.4 150.0,132.7 151.0,134.0 152.0,135.2 153.0,136.5 154.0,138.0 155.0,139.6 156.0,141.5 157.0,144.0 158.0,147.0 159.0,150.0 160.0,153.3 161.0,157.1 162.0,160.6 163.0,163.1 164.0,163.8 165.0,162.4 166.0,159.8 167.0,156.6 168.0,153.8 169.0,152.2 170.0,152.2 171.0,153.3 172.0,154.8 173.0,156.1 174.0,156.7 175.0,156.2 176.0,154.7 177.0,152.6 178.0,150.2 179.0,147.7 180.0,145.3 181.0,142.4 182.0,139.5 183.0,137.0 184.0,134.9 185.0,132.9 186.0,131.2 187.0,130.2 188.0,130.0 189.0,130.2 190.0,130.5 191.0,130.9 192.0,131.5 193.0,132.1 194.0,132.8 195.0,133.5 196.0,134.3 197.0,135.3 198.0,136.4 199.0,137.9 200.0,139.7 201.0,142.0 202.0,146.8 203.0,153.3 204.0,158.2 205.0,162.8 206.0,166.2 207.0,166.9 208.0,165.3 209.0,162.9 210.0,161.0 211.0,159.9 212.0,158.9 213.0,158.1 214.0,157.6 215.0,157.6 216.0,158.4 217.0,160.0 218.0,161.9 219.0,164.0 220.0,166.0 221.0,168.2 222.0,170.9 223.0,173.7 224.0,176.1 225.0,177.6 226.0,177.8 227.0,174.8 228.0,169.8 229.0,165.0 230.0,160.3 231.0,155.6 232.0,153.0 233.0,152.2 234.0,151.6 235.0,151.2 236.0,151.0 237.0,151.1 238.0,151.6 239.0,152.4 240.0,153.5 241.0,154.8 242.0,156.2 243.0,157.6 244.0,158.9 245.0,160.0 246.0,161.1 247.0,162.3 248.0,163.5 249.0,164.7 250.0,165.8 251.0,166.8 252.0,167.5 253.0,167.9 254.0,168.0 255.0,167.6 256.0,166.9 257.0,166.1 258.0,165.3 259.0,164.5 260.0,164.0 261.0,163.6 262.0,163.3 263.0,162.9 264.0,162.6 265.0,162.3 266.0,162.1 267.0,162.0 268.0,162.0 269.0,162.0 270.0,162.1 271.0,162.1 272.0,162.2 273.0,162.4 274.0,162.5 275.0,162.7 276.0,162.9 277.0,163.2 278.0,163.8 279.0,164.8 280.0,166.1 281.0,167.8 282.0,169.9 283.0,173.9 284.0,179.0 285.0,185.4 286.0,191.7 287.0,196.0 288.0,199.5 289.0,203.2 290.0,208.4 291.0,216.0 292.0,216.8 293.0,217.0 294.0,216.0 295.0,214.0 296.0,210.8 297.0,206.1 298.0,201.3 299.0,197.1 300.0,192.9 301.0,189.0 302.0,185.4 303.0,182.0 304.0,178.8 305.0,176.2 306.0,174.7 307.0,173.6 308.0,172.7 309.0,171.9 310.0,171.5 311.0,171.4 312.0,171.7 313.0,172.2 314.0,172.8 315.0,173.5 316.0,174.0 317.0,174.5 318.0,175.0 319.0,175.4 320.0,175.9 321.0,176.4 322.0,177.0 323.0,177.7 324.0,178.4 325.0,179.2 326.0,180.1 327.0,181.0 328.0,181.9 329.0,182.9 330.0,183.9 331.0,184.9 332.0,186.0 333.0,187.0 334.0,188.0 335.0,189.0 336.0,190.1 337.0,191.1 338.0,192.1 339.0,193.1 340.0,194.0 341.0,194.9 342.0,195.8 343.0,196.8 344.0,197.7 345.0,198.6 346.0,199.5 347.0,200.4 348.0,201.2 349.0,202.1 350.0,202.9 351.0,203.7 352.0,204.5 353.0,205.2 354.0,205.9 355.0,206.6 356.0,207.2 357.0,207.8 358.0,208.4 359.0,209.0 360.0,209.5 361.0,210.1 362.0,210.6 363.0,211.1 364.0,211.6 365.0,212.0 366.0,212.4 367.0,212.7 368.0,213.0 369.0,213.3 370.0,213.5 371.0,213.7 372.0,213.9 373.0,214.1 374.0,214.3 375.0,214.5 376.0,214.7 377.0,214.8 378.0,214.9 379.0,215.1 380.0,215.1 381.0,215.2 382.0,215.3 383.0,215.3 384.0,215.4 385.0,215.4 386.0,215.4 387.0,215.4 388.0,215.5 389.0,215.5 390.0,215.5 391.0,215.6 392.0,215.6 393.0,215.7 394.0,215.7 395.0,215.9 396.0,216.1 397.0,216.3 398.0,216.6 399.0,216.9 400.0,217.3 401.0,217.6 402.0,218.0 403.0,218.4 404.0,218.8 405.0,219.1 406.0,219.5 407.0,219.9 408.0,220.2 409.0,220.6 410.0,221.0 411.0,221.4 412.0,221.8 413.0,222.3 414.0,222.7 415.0,223.1 416.0,223.5 417.0,223.9 418.0,224.3 419.0,224.7 420.0,225.1 421.0,225.5 422.0,225.9 423.0,226.4 424.0,226.8 425.0,227.3 426.0,227.7 427.0,228.0 428.0,228.4 429.0,228.6 430.0,228.8 431.0,228.9 432.0,228.9 433.0,228.9 434.0,228.8 435.0,228.7 436.0,228.6 437.0,228.4 438.0,228.2 439.0,228.1 440.0,227.9 441.0,227.7 442.0,227.4 443.0,227.2 444.0,227.0 445.0,226.8 446.0,226.6 447.0,226.3 448.0,226.0 449.0,225.7 450.0,225.4 451.0,225.1 452.0,224.8 453.0,224.4 454.0,224.1 455.0,223.8 456.0,223.5 457.0,223.3 458.0,223.1 459.0,222.8 460.0,222.5 461.0,222.3 462.0,222.0 463.0,221.8 464.0,221.5 465.0,221.3 466.0,221.1 467.0,221.0 468.0,220.9 469.0,220.8 470.0,220.8 471.0,220.9 472.0,221.0 473.0,221.1 474.0,221.3 475.0,221.5 476.0,221.7 477.0,221.8 478.0,222.0 479.0,222.1 480.0,222.3 481.0,222.4 482.0,222.5 483.0,222.6 484.0,222.7 485.0,222.9 486.0,223.0 487.0,223.2 488.0,223.5 489.0,223.8 490.0,224.2 491.0,224.7 492.0,225.2 493.0,225.8 494.0,226.5 495.0,227.3 496.0,228.0 497.0,228.7 498.0,229.4 499.0,230.0 500.0,230.6 501.0,231.0 502.0,231.4 503.0,231.7 504.0,232.1 505.0,232.4 506.0,232.7 507.0,233.0 508.0,233.2 509.0,233.4 510.0,233.5 511.0,233.5 512.0,233.4 513.0,233.2 514.0,233.0 515.0,232.6 516.0,232.1 517.0,231.7 518.0,231.2 519.0,230.6 520.0,230.2 521.0,229.7 522.0,229.2 523.0,228.7 524.0,228.2 525.0,227.6 526.0,227.0 527.0,226.4 528.0,225.9 529.0,225.4 530.0,225.0 531.0,224.7 532.0,224.5 533.0,224.3 534.0,224.1 535.0,223.9 536.0,223.8 537.0,223.6 538.0,223.5 539.0,223.4 540.0,223.3 541.0,223.3 542.0,223.3 543.0,223.3 544.0,223.3 545.0,223.3 546.0,223.4 547.0,223.4 548.0,223.4 549.0,223.5 550.0,223.5 551.0,223.6 552.0,223.7 553.0,223.7 554.0,223.8 555.0,223.9 556.0,224.0 557.0,224.2 558.0,224.4 559.0,224.6 560.0,224.8 561.0,225.1 562.0,225.4 563.0,225.7 564.0,226.0 565.0,226.4 566.0,226.7 567.0,227.0 568.0,227.4 569.0,227.8 570.0,228.2 571.0,228.7 572.0,229.2 573.0,229.7 574.0,230.2 575.0,230.5 576.0,230.8 577.0,231.0 578.0,231.1 579.0,231.2 580.0,231.3 581.0,231.4 582.0,231.5 583.0,231.6 584.0,231.7 585.0,231.8 586.0,231.8 587.0,231.9 588.0,231.9 589.0,232.0 590.0,232.0 591.0,232.0 592.0,232.0 593.0,232.0 594.0,232.0 595.0,232.0 596.0,232.0 597.0,232.0 598.0,232.0 599.0,231.9 600.0,231.9 601.0,231.9 602.0,231.9 603.0,231.9 604.0,231.9 605.0,231.8 606.0,231.8 607.0,231.8 608.0,231.8 609.0,231.8 610.0,231.8 611.0,231.8 612.0,231.8 613.0,231.8 614.0,231.9 615.0,231.9 616.0,232.0 617.0,232.1 618.0,232.2 619.0,232.3 620.0,232.4 621.0,232.6 622.0,232.7 623.0,232.8 624.0,233.0 625.0,233.2 626.0,233.3 627.0,233.5 628.0,233.7 629.0,233.9 630.0,234.1 631.0,234.3 632.0,234.5" stroke="#f03a40" stroke-width="2.8"/>
<path d="M24.0,73.3 25.0,76.8 26.0,75.5 27.0,72.9 28.0,73.0 29.0,73.6 30.0,72.1 31.0,71.8 32.0,71.8 33.0,70.5 34.0,72.3 35.0,75.6 36.0,75.5 37.0,74.8 38.0,77.9 39.0,78.7 40.0,74.7 41.0,76.3 42.0,80.8 43.0,92.0 44.0,113.4 45.0,129.6 46.0,135.6 47.0,139.0 48.0,142.2 49.0,145.0 50.0,147.3 51.0,148.7 52.0,148.8 53.0,145.9 54.0,142.0 55.0,138.9 56.0,135.6 57.0,131.5 58.0,124.9 59.0,114.9 60.0,105.3 61.0,95.7 62.0,86.2 63.0,76.6 64.0,68.0 65.0,60.4 66.0,53.5 67.0,48.0 68.0,43.2 69.0,39.6 70.0,40.1 71.0,47.0 72.0,55.0 73.0,61.9 74.0,68.0 75.0,73.2 76.0,76.7 77.0,76.0 78.0,72.1 79.0,66.8 80.0,62.0 81.0,57.4 82.0,52.5 83.0,49.2 84.0,48.9 85.0,50.6 86.0,53.4 87.0,56.7 88.0,60.0 89.0,63.4 90.0,67.2 91.0,71.2 92.0,75.0 93.0,78.5 94.0,82.0 95.0,85.5 96.0,89.2 97.0,93.4 98.0,97.9 99.0,102.6 100.0,107.0 101.0,111.8 102.0,117.0 103.0,121.8 104.0,125.1 105.0,126.0 106.0,124.8 107.0,122.6 108.0,119.8 109.0,117.1 110.0,115.0 111.0,113.4 112.0,111.8 113.0,110.4 114.0,109.4 115.0,109.0 116.0,111.4 117.0,116.0 118.0,119.5 119.0,118.9 120.0,115.8 121.0,111.6 122.0,108.0 123.0,104.9 124.0,101.5 125.0,98.1 126.0,95.1 127.0,92.7 128.0,91.3 129.0,91.1 130.0,92.3 131.0,94.0 132.0,95.0 133.0,95.3 134.0,95.5 135.0,95.6 136.0,95.8 137.0,96.5 138.0,98.8 139.0,102.3 140.0,106.4 141.0,110.6 142.0,114.6 143.0,119.3 144.0,123.3 145.0,125.6 146.0,127.3 147.0,128.6 148.0,130.0 149.0,131.4 150.0,132.7 151.0,134.0 152.0,135.2 153.0,136.5 154.0,138.0 155.0,139.6 156.0,141.5 157.0,144.0 158.0,147.0 159.0,150.0 160.0,153.3 161.0,157.1 162.0,160.6 163.0,163.1 164.0,163.8 165.0,162.4 166.0,159.8 167.0,156.6 168.0,153.8 169.0,152.2 170.0,152.2 171.0,153.3 172.0,154.8 173.0,156.1 174.0,156.7 175.0,156.2 176.0,154.7 177.0,152.6 178.0,150.2 179.0,147.7 180.0,145.3 181.0,142.4 182.0,139.5 183.0,137.0 184.0,134.9 185.0,132.9 186.0,131.2 187.0,130.2 188.0,130.0 189.0,130.2 190.0,130.5 191.0,130.9 192.0,131.5 193.0,132.1 194.0,132.8 195.0,133.5 196.0,134.3 197.0,135.3 198.0,136.4 199.0,137.9 200.0,139.7 201.0,142.0 202.0,146.8 203.0,153.3 204.0,158.2 205.0,162.8 206.0,166.2 207.0,166.9 208.0,165.3 209.0,162.9 210.0,161.0 211.0,159.9 212.0,158.9 213.0,158.1 214.0,157.6 215.0,157.6 216.0,158.4 217.0,160.0 218.0,161.9 219.0,164.0 220.0,166.0 221.0,168.2 222.0,170.9 223.0,173.7 224.0,176.1 225.0,177.6 226.0,177.8 227.0,174.8 228.0,169.8 229.0,165.0 230.0,160.3 231.0,155.6 232.0,153.0 233.0,152.2 234.0,151.6 235.0,151.2 236.0,151.0 237.0,151.1 238.0,151.6 239.0,152.4 240.0,153.5 241.0,154.8 242.0,156.2 243.0,157.6 244.0,158.9 245.0,160.0 246.0,161.1 247.0,162.3 248.0,163.5 249.0,164.7 250.0,165.8 251.0,166.8 252.0,167.5 253.0,167.9 254.0,168.0 255.0,167.6 256.0,166.9 257.0,166.1 258.0,165.3 259.0,164.5 260.0,164.0 261.0,163.6 262.0,163.3 263.0,162.9 264.0,162.6 265.0,162.3 266.0,162.1 267.0,162.0 268.0,162.0 269.0,162.0 270.0,162.1 271.0,162.1 272.0,162.2 273.0,162.4 274.0,162.5 275.0,162.7 276.0,162.9 277.0,163.2 278.0,163.8 279.0,164.8 280.0,166.1 281.0,167.8 282.0,169.9 283.0,173.9 284.0,179.0 285.0,185.4 286.0,191.7 287.0,196.0 288.0,199.5 289.0,203.2 290.0,208.4 291.0,216.0 292.0,216.8 293.0,217.0 294.0,216.0 295.0,214.0 296.0,210.8 297.0,206.1 298.0,201.3 299.0,197.1 300.0,192.9 301.0,189.0 302.0,185.4 303.0,182.0 304.0,178.8 305.0,176.2 306.0,174.7 307.0,173.6 308.0,172.7 309.0,171.9 310.0,171.5 311.0,171.4 312.0,171.7 313.0,172.2 314.0,172.8 315.0,173.5 316.0,174.0 317.0,174.5 318.0,175.0 319.0,175.4 320.0,175.9 321.0,176.4 322.0,177.0 323.0,177.7 324.0,178.4 325.0,179.2 326.0,180.1 327.0,181.0 328.0,181.9 329.0,182.9 330.0,183.9 331.0,184.9 332.0,186.0 333.0,187.0 334.0,188.0 335.0,189.0 336.0,190.1 337.0,191.1 338.0,192.1 339.0,193.1 340.0,194.0 341.0,194.9 342.0,195.8 343.0,196.8 344.0,197.7 345.0,198.6 346.0,199.5 347.0,200.4 348.0,201.2 349.0,202.1 350.0,202.9 351.0,203.7 352.0,204.5 353.0,205.2 354.0,205.9 355.0,206.6 356.0,207.2 357.0,207.8 358.0,208.4 359.0,209.0 360.0,209.5 361.0,210.1 362.0,210.6 363.0,211.1 364.0,211.6 365.0,212.0 366.0,212.4 367.0,212.7 368.0,213.0 369.0,213.3 370.0,213.5 371.0,213.7 372.0,213.9 373.0,214.1 374.0,214.3 375.0,214.5 376.0,214.7 377.0,214.8 378.0,214.9 379.0,215.1 380.0,215.1 381.0,215.2 382.0,215.3 383.0,215.3 384.0,215.4 385.0,215.4 386.0,215.4 387.0,215.4 388.0,215.5 389.0,215.5 390.0,215.5 391.0,215.6 392.0,215.6 393.0,215.7 394.0,215.7 395.0,215.9 396.0,216.1 397.0,216.3 398.0,216.6 399.0,216.9 400.0,217.3 401.0,217.6 402.0,218.0 403.0,218.4 404.0,218.8 405.0,219.1 406.0,219.5 407.0,219.9 408.0,220.2 409.0,220.6 410.0,221.0 411.0,221.4 412.0,221.8 413.0,222.3 414.0,222.7 415.0,223.1 416.0,223.5 417.0,223.9 418.0,224.3 419.0,224.7 420.0,225.1 421.0,225.5 422.0,225.9 423.0,226.4 424.0,226.8 425.0,227.3 426.0,227.7 427.0,228.0 428.0,228.4 429.0,228.6 430.0,228.8 431.0,228.9 432.0,228.9 433.0,228.9 434.0,228.8 435.0,228.7 436.0,228.6 437.0,228.4 438.0,228.2 439.0,228.1 440.0,227.9 441.0,227.7 442.0,227.4 443.0,227.2 444.0,227.0 445.0,226.8 446.0,226.6 447.0,226.3 448.0,226.0 449.0,225.7 450.0,225.4 451.0,225.1 452.0,224.8 453.0,224.4 454.0,224.1 455.0,223.8 456.0,223.5 457.0,223.3 458.0,223.1 459.0,222.8 460.0,222.5 461.0,222.3 462.0,222.0 463.0,221.8 464.0,221.5 465.0,221.3 466.0,221.1 467.0,221.0 468.0,220.9 469.0,220.8 470.0,220.8 471.0,220.9 472.0,221.0 473.0,221.1 474.0,221.3 475.0,221.5 476.0,221.7 477.0,221.8 478.0,222.0 479.0,222.1 480.0,222.3 481.0,222.4 482.0,222.5 483.0,222.6 484.0,222.7 485.0,222.9 486.0,223.0 487.0,223.2 488.0,223.5 489.0,223.8 490.0,224.2 491.0,224.7 492.0,225.2 493.0,225.8 494.0,226.5 495.0,227.3 496.0,228.0 497.0,228.7 498.0,229.4 499.0,230.0 500.0,230.6 501.0,231.0 502.0,231.4 503.0,231.7 504.0,232.1 505.0,232.4 506.0,232.7 507.0,233.0 508.0,233.2 509.0,233.4 510.0,233.5 511.0,233.5 512.0,233.4 513.0,233.2 514.0,233.0 515.0,232.6 516.0,232.1 517.0,231.7 518.0,231.2 519.0,230.6 520.0,230.2 521.0,229.7 522.0,229.2 523.0,228.7 524.0,228.2 525.0,227.6 526.0,227.0 527.0,226.4 528.0,225.9 529.0,225.4 530.0,225.0 531.0,224.7 532.0,224.5 533.0,224.3 534.0,224.1 535.0,223.9 536.0,223.8 537.0,223.6 538.0,223.5 539.0,223.4 540.0,223.3 541.0,223.3 542.0,223.3 543.0,223.3 544.0,223.3 545.0,223.3 546.0,223.4 547.0,223.4 548.0,223.4 549.0,223.5 550.0,223.5 551.0,223.6 552.0,223.7 553.0,223.7 554.0,223.8 555.0,223.9 556.0,224.0 557.0,224.2 558.0,224.4 559.0,224.6 560.0,224.8 561.0,225.1 562.0,225.4 563.0,225.7 564.0,226.0 565.0,226.4 566.0,226.7 567.0,227.0 568.0,227.4 569.0,227.8 570.0,228.2 571.0,228.7 572.0,229.2 573.0,229.7 574.0,230.2 575.0,230.5 576.0,230.8 577.0,231.0 578.0,231.1 579.0,231.2 580.0,231.3 581.0,231.4 582.0,231.5 583.0,231.6 584.0,231.7 585.0,231.8 586.0,231.8 587.0,231.9 588.0,231.9 589.0,232.0 590.0,232.0 591.0,232.0 592.0,232.0 593.0,232.0 594.0,232.0 595.0,232.0 596.0,232.0 597.0,232.0 598.0,232.0 599.0,231.9 600.0,231.9 601.0,231.9 602.0,231.9 603.0,231.9 604.0,231.9 605.0,231.8 606.0,231.8 607.0,231.8 608.0,231.8 609.0,231.8 610.0,231.8 611.0,231.8 612.0,231.8 613.0,231.8 614.0,231.9 615.0,231.9 616.0,232.0 617.0,232.1 618.0,232.2 619.0,232.3 620.0,232.4 621.0,232.6 622.0,232.7 623.0,232.8 624.0,233.0 625.0,233.2 626.0,233.3 627.0,233.5 628.0,233.7 629.0,233.9 630.0,234.1 631.0,234.3 632.0,234.5" stroke="#000" stroke-width="2.3" stroke-dasharray="3.8 2.3" stroke-linecap="butt"/>
</g>
<path d="M24,53H43.5" stroke="#e4e4e4" stroke-width="1.4"/>
<rect x="258.80" y="27.3" width="6.95" height="20.8" fill="#1a50f0" shape-rendering="crispEdges"/>
<rect x="265.45" y="27.3" width="6.95" height="20.8" fill="#1a70f0" shape-rendering="crispEdges"/>
<rect x="272.11" y="27.3" width="6.95" height="20.8" fill="#1a98f5" shape-rendering="crispEdges"/>
<rect x="278.76" y="27.3" width="6.95" height="20.8" fill="#18b8f8" shape-rendering="crispEdges"/>
<rect x="285.41" y="27.3" width="6.95" height="20.8" fill="#10f0ff" shape-rendering="crispEdges"/>
<rect x="292.06" y="27.3" width="6.95" height="20.8" fill="#10f0e0" shape-rendering="crispEdges"/>
<rect x="298.72" y="27.3" width="6.95" height="20.8" fill="#10f0a0" shape-rendering="crispEdges"/>
<rect x="305.37" y="27.3" width="6.95" height="20.8" fill="#10f060" shape-rendering="crispEdges"/>
<rect x="312.02" y="27.3" width="6.95" height="20.8" fill="#10e030" shape-rendering="crispEdges"/>
<rect x="318.68" y="27.3" width="6.95" height="20.8" fill="#60f030" shape-rendering="crispEdges"/>
<rect x="325.33" y="27.3" width="6.95" height="20.8" fill="#90f030" shape-rendering="crispEdges"/>
<rect x="331.98" y="27.3" width="6.95" height="20.8" fill="#c8f040" shape-rendering="crispEdges"/>
<rect x="338.64" y="27.3" width="6.95" height="20.8" fill="#f8f030" shape-rendering="crispEdges"/>
<rect x="345.29" y="27.3" width="6.95" height="20.8" fill="#f0c040" shape-rendering="crispEdges"/>
<rect x="351.94" y="27.3" width="6.95" height="20.8" fill="#ff8820" shape-rendering="crispEdges"/>
<rect x="358.60" y="27.3" width="6.95" height="20.8" fill="#ff8820" shape-rendering="crispEdges"/>
<rect x="365.25" y="27.3" width="6.95" height="20.8" fill="#f06030" shape-rendering="crispEdges"/>
<rect x="371.90" y="27.3" width="6.95" height="20.8" fill="#f85020" shape-rendering="crispEdges"/>
<rect x="378.55" y="27.3" width="6.95" height="20.8" fill="#f83020" shape-rendering="crispEdges"/>
<rect x="385.21" y="27.3" width="6.95" height="20.8" fill="#f83020" shape-rendering="crispEdges"/>
<rect x="391.86" y="27.3" width="6.95" height="20.8" fill="#f83020" shape-rendering="crispEdges"/>
<rect x="398.51" y="27.3" width="6.95" height="20.8" fill="#f03040" shape-rendering="crispEdges"/>
<rect x="405.17" y="27.3" width="6.95" height="20.8" fill="#f03060" shape-rendering="crispEdges"/>
<rect x="411.82" y="27.3" width="6.95" height="20.8" fill="#f03890" shape-rendering="crispEdges"/>
<rect x="418.47" y="27.3" width="6.95" height="20.8" fill="#f048c0" shape-rendering="crispEdges"/>
<rect x="425.12" y="27.3" width="6.95" height="20.8" fill="#f850f0" shape-rendering="crispEdges"/>
<rect x="431.78" y="27.3" width="6.95" height="20.8" fill="#f850f0" shape-rendering="crispEdges"/>
<rect x="438.43" y="27.3" width="6.95" height="20.8" fill="#e050f0" shape-rendering="crispEdges"/>
<rect x="445.08" y="27.3" width="6.95" height="20.8" fill="#c050f0" shape-rendering="crispEdges"/>
<rect x="451.74" y="27.3" width="6.95" height="20.8" fill="#a850f0" shape-rendering="crispEdges"/>
<rect x="458.39" y="27.3" width="6.95" height="20.8" fill="#9050f0" shape-rendering="crispEdges"/>
<rect x="465.04" y="27.3" width="6.65" height="20.8" fill="#7050f0" shape-rendering="crispEdges"/>
<path d="M378.7,25V49" stroke="#000" stroke-width="1.3" stroke-dasharray="3 2.2"/>
<text x="184.2" y="30.0" font-family="'Liberation Serif','DejaVu Serif',serif" font-size="9.4" fill="#fff" text-anchor="middle" textLength="83.0" lengthAdjust="spacingAndGlyphs" stroke="#fff" stroke-width="0.25">Post-Explosion Epoch</text>
<text x="184.1" y="40.4" font-family="'Liberation Serif','DejaVu Serif',serif" font-size="9.4" fill="#fff" text-anchor="middle" textLength="22.8" lengthAdjust="spacingAndGlyphs" stroke="#fff" stroke-width="0.25">(days)</text>
<text x="184.3" y="50.4" font-family="'Liberation Serif','DejaVu Serif',serif" font-size="9.4" fill="#fff" text-anchor="middle" textLength="105.2" lengthAdjust="spacingAndGlyphs" stroke="#fff" stroke-width="0.25">Phase Relative to Maximum</text>
<text x="254.6" y="30.5" font-family="'Liberation Sans','DejaVu Sans',sans-serif" font-size="8.5" fill="#fff" text-anchor="end" stroke="#fff" stroke-width="0.25">4</text>
<text x="257.4" y="51.8" font-family="'Liberation Sans','DejaVu Sans',sans-serif" font-size="8.5" fill="#fff" text-anchor="end" textLength="14.0" lengthAdjust="spacingAndGlyphs" stroke="#fff" stroke-width="0.25">-15</text>
<text x="379.0" y="24.2" font-family="'Liberation Sans','DejaVu Sans',sans-serif" font-size="8.5" fill="#fff" text-anchor="middle" stroke="#fff" stroke-width="0.25">19</text>
<text x="477.2" y="31.1" font-family="'Liberation Sans','DejaVu Sans',sans-serif" font-size="8.5" fill="#fff" text-anchor="start" stroke="#fff" stroke-width="0.25">43</text>
<text x="474.7" y="50.8" font-family="'Liberation Sans','DejaVu Sans',sans-serif" font-size="8.5" fill="#fff" text-anchor="start" textLength="15.3" lengthAdjust="spacingAndGlyphs" stroke="#fff" stroke-width="0.25">+24</text>
<text x="387.3" y="62.7" font-family="'Liberation Serif','DejaVu Serif',serif" font-size="12.3" fill="#fff" text-anchor="middle" textLength="49.9" lengthAdjust="spacingAndGlyphs" stroke="#fff" stroke-width="0.25">Maximum</text>
<text x="387.5" y="76.3" font-family="'Liberation Serif','DejaVu Serif',serif" font-size="12.3" fill="#fff" text-anchor="middle" textLength="25.4" lengthAdjust="spacingAndGlyphs" stroke="#fff" stroke-width="0.25">Light</text>
<text x="431.0" y="94.4" font-family="'Liberation Serif','DejaVu Serif',serif" font-size="14.6" fill="#fff" text-anchor="start" textLength="144.5" lengthAdjust="spacingAndGlyphs" stroke="#fff" stroke-width="0.3">SNFactory Observations</text>
<text x="431.0" y="111.3" font-family="'Liberation Serif','DejaVu Serif',serif" font-size="14.6" fill="#fff" text-anchor="start" textLength="105.8" lengthAdjust="spacingAndGlyphs" stroke="#fff" stroke-width="0.3">Pereira et al. 2013</text>
<text x="431.0" y="146.2" font-family="'Liberation Serif','DejaVu Serif',serif" font-size="14.6" fill="#fff" text-anchor="start" textLength="115.3" lengthAdjust="spacingAndGlyphs" stroke="#fff" stroke-width="0.3">SN 2011fe in M101</text>
<text x="431.0" y="162.8" font-family="'Liberation Serif','DejaVu Serif',serif" font-size="14.6" fill="#fff" text-anchor="start" textLength="179.5" lengthAdjust="spacingAndGlyphs" stroke="#fff" stroke-width="0.3">First ~40 Days Post-Explosion</text>
<text x="74.8" y="293.0" font-family="'Liberation Sans','DejaVu Sans',sans-serif" font-size="13.1" fill="#1a1a1a" text-anchor="middle" textLength="29.2" lengthAdjust="spacingAndGlyphs">4000</text>
<text x="176.4" y="293.0" font-family="'Liberation Sans','DejaVu Sans',sans-serif" font-size="13.1" fill="#1a1a1a" text-anchor="middle" textLength="29.2" lengthAdjust="spacingAndGlyphs">5000</text>
<text x="278.0" y="293.0" font-family="'Liberation Sans','DejaVu Sans',sans-serif" font-size="13.1" fill="#1a1a1a" text-anchor="middle" textLength="29.2" lengthAdjust="spacingAndGlyphs">6000</text>
<text x="379.7" y="293.0" font-family="'Liberation Sans','DejaVu Sans',sans-serif" font-size="13.1" fill="#1a1a1a" text-anchor="middle" textLength="29.2" lengthAdjust="spacingAndGlyphs">7000</text>
<text x="481.3" y="293.0" font-family="'Liberation Sans','DejaVu Sans',sans-serif" font-size="13.1" fill="#1a1a1a" text-anchor="middle" textLength="29.2" lengthAdjust="spacingAndGlyphs">8000</text>
<text x="582.9" y="293.0" font-family="'Liberation Sans','DejaVu Sans',sans-serif" font-size="13.1" fill="#1a1a1a" text-anchor="middle" textLength="29.2" lengthAdjust="spacingAndGlyphs">9000</text>
<text x="328.5" y="310.2" font-family="'Liberation Serif','DejaVu Serif',serif" font-size="15.6" fill="#111" text-anchor="middle" textLength="131.0" lengthAdjust="spacingAndGlyphs" stroke="#111" stroke-width="0.2">Rest Wavelength [Å]</text>
<text transform="translate(12,173.5) rotate(-90)" font-family="'Liberation Serif','DejaVu Serif',serif" font-size="15.2" fill="#111" stroke="#111" stroke-width="0.2">logf<tspan font-size="14" dy="5">λ</tspan><tspan dy="-5" dx="2">+ Const.</tspan></text>
</svg>
</body></html>
